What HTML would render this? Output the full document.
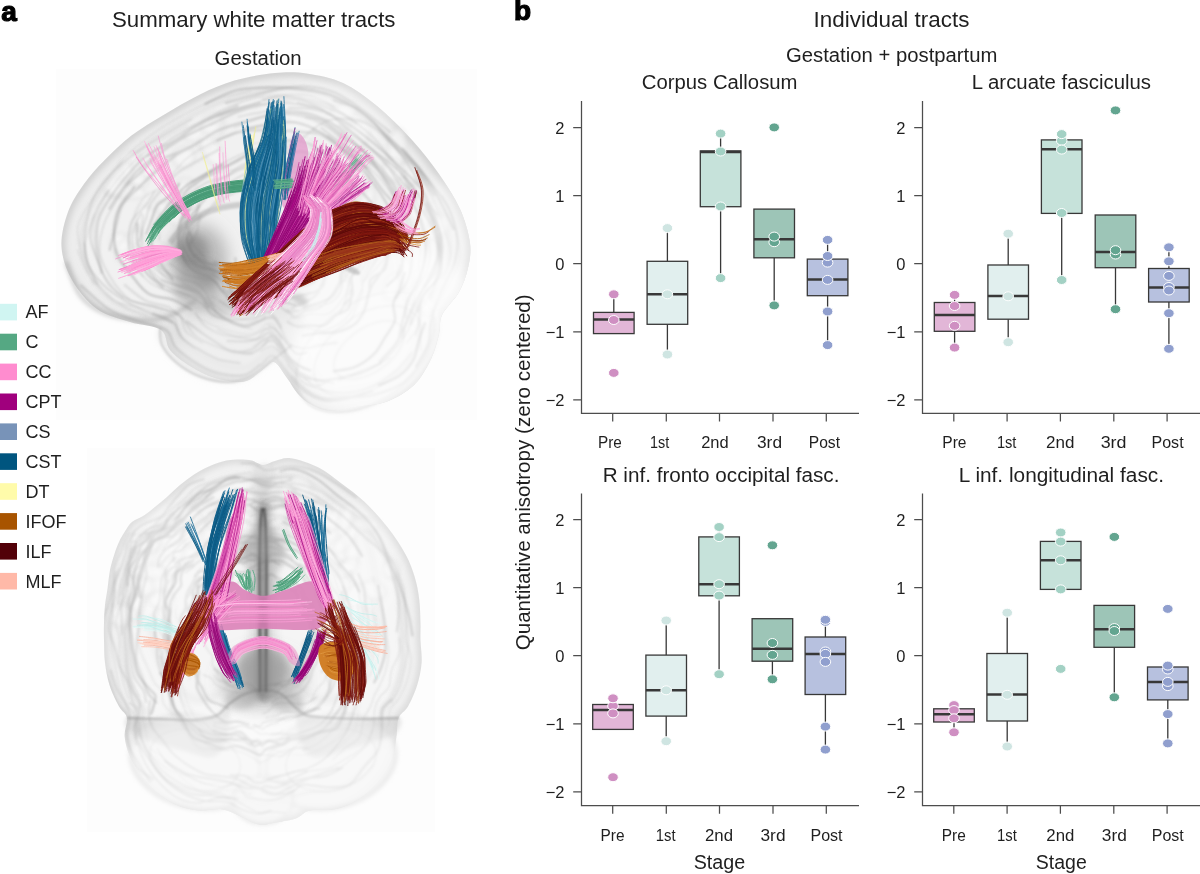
<!DOCTYPE html>
<html lang="en"><head><meta charset="utf-8"><title>Figure</title>
<style>
html,body{margin:0;padding:0;background:#fff;}
svg{display:block;font-family:"Liberation Sans",sans-serif;fill:#1f1f1f;}
</style></head><body>
<svg width="1200" height="874" viewBox="0 0 1200 874">
<rect width="1200" height="874" fill="#fff"/>
<defs><filter id="b1" x="-30%" y="-30%" width="160%" height="160%"><feGaussianBlur stdDeviation="1"/></filter><filter id="b2" x="-30%" y="-30%" width="160%" height="160%"><feGaussianBlur stdDeviation="2"/></filter><filter id="b3" x="-30%" y="-30%" width="160%" height="160%"><feGaussianBlur stdDeviation="3"/></filter><filter id="b5" x="-30%" y="-30%" width="160%" height="160%"><feGaussianBlur stdDeviation="5"/></filter><filter id="b8" x="-30%" y="-30%" width="160%" height="160%"><feGaussianBlur stdDeviation="8"/></filter><filter id="u1" filterUnits="userSpaceOnUse" x="200" y="440" width="130" height="300"><feGaussianBlur stdDeviation="1"/></filter><filter id="u2" filterUnits="userSpaceOnUse" x="200" y="440" width="130" height="300"><feGaussianBlur stdDeviation="2"/></filter><filter id="u3" filterUnits="userSpaceOnUse" x="200" y="440" width="130" height="300"><feGaussianBlur stdDeviation="3"/></filter><filter id="u5" filterUnits="userSpaceOnUse" x="200" y="440" width="130" height="300"><feGaussianBlur stdDeviation="5"/></filter><clipPath id="c1"><path d="M275 73C287.2 71.8 296.7 72 308 73.7C319.3 75.4 331.5 77.6 343 83C354.5 88.4 365.5 96.5 377 106C388.5 115.5 401.7 128.7 412 140C422.3 151.3 431 162.5 439 174C447 185.5 454.8 197.5 460 209C465.2 220.5 468.7 233.2 470 243C471.3 252.8 469.8 259.8 468 268C466.2 276.2 463.3 284.2 459 292C454.7 299.8 445.3 308 442 315C438.7 322 440.8 326.7 439 334C437.2 341.3 435.2 350.5 431 359C426.8 367.5 421.3 377.9 414 385C406.7 392.1 396.8 397.8 387 401.5C377.2 405.2 364.3 405.4 355 407C345.7 408.6 338.2 411.3 331 411C323.8 410.7 317.5 407.8 312 405C306.5 402.2 302.2 398.5 298 394C293.8 389.5 291 383.3 287 378C283 372.7 278.3 363.2 274 362C269.7 360.8 266.1 367.7 261 371C255.9 374.3 251.2 380.5 243.5 381.7C235.8 382.9 223.9 380.6 215 378C206.1 375.4 197.5 370.7 190 366C182.5 361.3 174.8 356 170 350C165.2 344 167.7 334.7 161 330C154.3 325.3 140.7 325.5 130 322C119.3 318.5 106.7 316 97 309C87.3 302 77.9 290.3 72 280C66.1 269.7 62.2 258.3 61.5 247C60.8 235.7 64.2 222.5 68 212C71.8 201.5 78 192.6 84 184C90 175.4 96.1 168.8 104 160.7C111.9 152.6 121.6 143.1 131.5 135.5C141.4 127.9 152.2 121.7 163.6 114.9C175 108.1 188.2 100.2 200 94.5C211.8 88.8 222 84.2 234.5 80.6C247 77 262.8 74.2 275 73Z"/></clipPath><clipPath id="c2"><path d="M263 465C259.2 464.9 255.8 461.4 252 460.5C248.2 459.6 244.2 459.5 240 459.5C235.8 459.5 231.5 459.5 226.5 460.6C221.5 461.7 215.3 463.7 210 466C204.7 468.3 199.4 471.1 194.4 474.3C189.4 477.5 184.6 481.2 180 485C175.4 488.8 171.2 493.3 167 497C162.8 500.7 158.8 503.9 155 507C151.2 510.1 147.8 513 144 515.5C140.2 518 135 519.6 132 522C129 524.4 128 526.7 125.8 530C123.6 533.3 120.9 537.9 119 542C117.1 546.1 115.8 549.7 114.3 554.4C112.8 559.1 111.1 564.3 110 570C108.9 575.7 108.3 582.9 107.5 588.7C106.7 594.5 105.6 599.3 105 605C104.4 610.7 104.2 617.2 104 623C103.8 628.8 103.8 633.3 104 640C104.2 646.7 104 655.4 105 663C106 670.6 107.4 678.6 109.7 685.8C112 693 116.1 701.1 119 706.4C121.9 711.7 126.1 712.9 127 717.8C127.9 722.7 124.2 729.9 124.6 736C125 742.1 126.7 748.3 129.2 754.4C131.7 760.5 135.1 766.6 139.5 772.7C143.9 778.8 149.4 785.6 155.5 791C161.6 796.4 168.8 801.5 176 804.8C183.2 808 191.3 809.8 199 810.5C206.7 811.2 215 808.3 221.9 809.3C228.8 810.2 234.8 813.9 240.2 816.2C245.5 818.5 250.2 821.5 254 823C257.8 824.5 259.9 825 263 825C266.1 825 267.4 824.1 272.9 823C278.4 821.9 289.7 820.6 295.8 818.5C301.9 816.4 303 812 309.5 810.5C316 809 326.7 811 334.7 809.3C342.7 807.5 350.4 804.5 357.6 800C364.8 795.5 372.3 788.8 378 782C383.7 775.2 388.9 766.7 392 759C395.1 751.3 395.4 742.9 396.5 736C397.6 729.1 396.8 722.7 398.7 717.8C400.6 712.9 404.9 711.7 408 706.4C411.1 701.1 414.7 693 417 685.8C419.3 678.6 421 670.6 421.6 663C422.2 655.4 420.7 646.7 420.5 640C420.3 633.3 420.7 629.7 420.5 623C420.3 616.3 420.2 607.6 419.3 600C418.4 592.4 417.1 584.9 414.8 577.3C412.5 569.7 410.2 562.8 405.6 554.4C401 546 394.2 535.8 387.3 527C380.4 518.2 372 509.1 364.4 501.8C356.8 494.6 349.1 489.2 341.5 483.5C333.9 477.8 327 471.7 318.6 467.5C310.2 463.3 298.3 459.4 291 458.3C283.7 457.2 279.7 459.9 275 461C270.3 462.1 266.8 465.1 263 465Z"/></clipPath></defs><rect x="56" y="69" width="421" height="351" fill="#fdfdfd"/>
<g>
<path d="M275 73C287.2 71.8 296.7 72 308 73.7C319.3 75.4 331.5 77.6 343 83C354.5 88.4 365.5 96.5 377 106C388.5 115.5 401.7 128.7 412 140C422.3 151.3 431 162.5 439 174C447 185.5 454.8 197.5 460 209C465.2 220.5 468.7 233.2 470 243C471.3 252.8 469.8 259.8 468 268C466.2 276.2 463.3 284.2 459 292C454.7 299.8 445.3 308 442 315C438.7 322 440.8 326.7 439 334C437.2 341.3 435.2 350.5 431 359C426.8 367.5 421.3 377.9 414 385C406.7 392.1 396.8 397.8 387 401.5C377.2 405.2 364.3 405.4 355 407C345.7 408.6 338.2 411.3 331 411C323.8 410.7 317.5 407.8 312 405C306.5 402.2 302.2 398.5 298 394C293.8 389.5 291 383.3 287 378C283 372.7 278.3 363.2 274 362C269.7 360.8 266.1 367.7 261 371C255.9 374.3 251.2 380.5 243.5 381.7C235.8 382.9 223.9 380.6 215 378C206.1 375.4 197.5 370.7 190 366C182.5 361.3 174.8 356 170 350C165.2 344 167.7 334.7 161 330C154.3 325.3 140.7 325.5 130 322C119.3 318.5 106.7 316 97 309C87.3 302 77.9 290.3 72 280C66.1 269.7 62.2 258.3 61.5 247C60.8 235.7 64.2 222.5 68 212C71.8 201.5 78 192.6 84 184C90 175.4 96.1 168.8 104 160.7C111.9 152.6 121.6 143.1 131.5 135.5C141.4 127.9 152.2 121.7 163.6 114.9C175 108.1 188.2 100.2 200 94.5C211.8 88.8 222 84.2 234.5 80.6C247 77 262.8 74.2 275 73Z" fill="#ececec" fill-opacity="0.95"/>
<path d="M275 73C287.2 71.8 296.7 72 308 73.7C319.3 75.4 331.5 77.6 343 83C354.5 88.4 365.5 96.5 377 106C388.5 115.5 401.7 128.7 412 140C422.3 151.3 431 162.5 439 174C447 185.5 454.8 197.5 460 209C465.2 220.5 468.7 233.2 470 243C471.3 252.8 469.8 259.8 468 268C466.2 276.2 463.3 284.2 459 292C454.7 299.8 445.3 308 442 315C438.7 322 440.8 326.7 439 334C437.2 341.3 435.2 350.5 431 359C426.8 367.5 421.3 377.9 414 385C406.7 392.1 396.8 397.8 387 401.5C377.2 405.2 364.3 405.4 355 407C345.7 408.6 338.2 411.3 331 411C323.8 410.7 317.5 407.8 312 405C306.5 402.2 302.2 398.5 298 394C293.8 389.5 291 383.3 287 378C283 372.7 278.3 363.2 274 362C269.7 360.8 266.1 367.7 261 371C255.9 374.3 251.2 380.5 243.5 381.7C235.8 382.9 223.9 380.6 215 378C206.1 375.4 197.5 370.7 190 366C182.5 361.3 174.8 356 170 350C165.2 344 167.7 334.7 161 330C154.3 325.3 140.7 325.5 130 322C119.3 318.5 106.7 316 97 309C87.3 302 77.9 290.3 72 280C66.1 269.7 62.2 258.3 61.5 247C60.8 235.7 64.2 222.5 68 212C71.8 201.5 78 192.6 84 184C90 175.4 96.1 168.8 104 160.7C111.9 152.6 121.6 143.1 131.5 135.5C141.4 127.9 152.2 121.7 163.6 114.9C175 108.1 188.2 100.2 200 94.5C211.8 88.8 222 84.2 234.5 80.6C247 77 262.8 74.2 275 73Z" fill="none" stroke="#b0b0b0" stroke-width="8" stroke-opacity="0.5" filter="url(#b3)" clip-path="url(#c1)"/>
<path d="M274 89.2C285 88.2 293.5 88.3 303.7 89.8C313.9 91.3 324.8 93.4 335.2 98.2C345.6 103 355.4 110.4 365.8 118.9C376.2 127.5 388 139.3 397.3 149.5C406.6 159.7 414.4 169.8 421.6 180.1C428.8 190.4 435.9 201.2 440.5 211.6C445.1 221.9 448.3 233.3 449.5 242.2C450.7 251 449.3 257.3 447.7 264.7C446.1 272.1 443.5 279.2 439.6 286.3C435.7 293.4 427.3 300.7 424.3 307C421.3 313.3 423.2 317.5 421.6 324.1C420 330.7 418.1 339 414.4 346.6C410.6 354.2 405.7 363.6 399.1 370C392.5 376.4 383.7 381.6 374.8 384.9C365.9 388.2 354.4 388.4 346 389.8C337.6 391.2 330.8 393.7 324.4 393.4C317.9 393.1 312.2 390.6 307.3 388C302.4 385.4 298.4 382.2 294.7 378.1C290.9 374.1 288.4 368.5 284.8 363.7C281.2 358.9 277 350.4 273.1 349.3C269.2 348.2 266 354.4 261.4 357.4C256.8 360.4 252.6 366 245.7 367C238.8 368.1 228 366.1 220 363.7C212 361.3 204.2 357.1 197.5 352.9C190.8 348.7 183.8 343.9 179.5 338.5C175.2 333.1 177.4 324.7 171.4 320.5C165.4 316.3 153.1 316.4 143.5 313.3C133.9 310.2 122.5 307.9 113.8 301.6C105.1 295.3 96.6 284.8 91.3 275.5C86 266.2 82.4 256 81.8 245.8C81.2 235.6 84.3 223.8 87.7 214.3C91.1 204.9 96.7 196.8 102.1 189.1C107.5 181.4 113 175.4 120.1 168.1C127.2 160.9 135.9 152.3 144.8 145.4C153.8 138.6 163.5 133.1 173.7 126.9C184 120.8 195.9 113.7 206.5 108.5C217.1 103.4 226.3 99.3 237.6 96C248.8 92.8 263 90.2 274 89.2Z" fill="#f3f3f3" fill-opacity="0.75" filter="url(#b3)"/>
<path d="M274 89.2C285 88.2 293.5 88.3 303.7 89.8C313.9 91.3 324.8 93.4 335.2 98.2C345.6 103 355.4 110.4 365.8 118.9C376.2 127.5 388 139.3 397.3 149.5C406.6 159.7 414.4 169.8 421.6 180.1C428.8 190.4 435.9 201.2 440.5 211.6C445.1 221.9 448.3 233.3 449.5 242.2C450.7 251 449.3 257.3 447.7 264.7C446.1 272.1 443.5 279.2 439.6 286.3C435.7 293.4 427.3 300.7 424.3 307C421.3 313.3 423.2 317.5 421.6 324.1C420 330.7 418.1 339 414.4 346.6C410.6 354.2 405.7 363.6 399.1 370C392.5 376.4 383.7 381.6 374.8 384.9C365.9 388.2 354.4 388.4 346 389.8C337.6 391.2 330.8 393.7 324.4 393.4C317.9 393.1 312.2 390.6 307.3 388C302.4 385.4 298.4 382.2 294.7 378.1C290.9 374.1 288.4 368.5 284.8 363.7C281.2 358.9 277 350.4 273.1 349.3C269.2 348.2 266 354.4 261.4 357.4C256.8 360.4 252.6 366 245.7 367C238.8 368.1 228 366.1 220 363.7C212 361.3 204.2 357.1 197.5 352.9C190.8 348.7 183.8 343.9 179.5 338.5C175.2 333.1 177.4 324.7 171.4 320.5C165.4 316.3 153.1 316.4 143.5 313.3C133.9 310.2 122.5 307.9 113.8 301.6C105.1 295.3 96.6 284.8 91.3 275.5C86 266.2 82.4 256 81.8 245.8C81.2 235.6 84.3 223.8 87.7 214.3C91.1 204.9 96.7 196.8 102.1 189.1C107.5 181.4 113 175.4 120.1 168.1C127.2 160.9 135.9 152.3 144.8 145.4C153.8 138.6 163.5 133.1 173.7 126.9C184 120.8 195.9 113.7 206.5 108.5C217.1 103.4 226.3 99.3 237.6 96C248.8 92.8 263 90.2 274 89.2Z" fill="none" stroke="#c4c4c4" stroke-width="2.5" stroke-opacity="0.55" filter="url(#b2)"/>
<ellipse cx="368" cy="352" rx="80" ry="50" fill="#f5f5f5" fill-opacity="0.85" filter="url(#b2)" transform="rotate(-35 368 352)"/>
<ellipse cx="366.0" cy="352" rx="78" ry="49" fill="none" fill-opacity="1" stroke="#c6c6c6" stroke-width="1.5" stroke-opacity="0.4" filter="url(#b1)" transform="rotate(-35 366.0 352)"/>
<ellipse cx="367.5" cy="351" rx="60" ry="36" fill="none" fill-opacity="1" stroke="#c6c6c6" stroke-width="1.5" stroke-opacity="0.4" filter="url(#b1)" transform="rotate(-35 367.5 351)"/>
<ellipse cx="369.0" cy="350" rx="40" ry="22" fill="none" fill-opacity="1" stroke="#c6c6c6" stroke-width="1.5" stroke-opacity="0.4" filter="url(#b1)" transform="rotate(-35 369.0 350)"/>
<path d="M160 328C155.3 334.2 159.2 339.2 162 345C164.8 350.8 170.7 357.8 177 363C183.3 368.2 191.5 373.3 200 376.5C208.5 379.7 219.7 382 228 382C236.3 382 243.2 379.7 250 376.5C256.8 373.3 262 368.2 269 363C276 357.8 286 351.8 292 345C298 338.2 307 329.5 305 322C303 314.5 292.5 304 280 300C267.5 296 245 296.7 230 298C215 299.3 201.7 303 190 308C178.3 313 164.7 321.8 160 328Z" fill="#dcdcdc" fill-opacity="0.5" filter="url(#b3)"/>
<path d="M160 328C160.3 330.8 159.2 339.2 162 345C164.8 350.8 170.7 357.8 177 363C183.3 368.2 191.5 373.3 200 376.5C208.5 379.7 219.7 382 228 382C236.3 382 243.2 379.7 250 376.5C256.8 373.3 262 368.2 269 363C276 357.8 288.2 348 292 345" fill="none" stroke="#b6b6b6" stroke-width="2" stroke-opacity="0.6" filter="url(#b1)"/>
<path d="M66 262C68.3 267.5 73.7 286.5 80 295C86.3 303.5 94 308.8 104 313C114 317.2 129 319.5 140 320C151 320.5 160.7 319.3 170 316C179.3 312.7 191.7 302.7 196 300" fill="none" stroke="#a4a4a4" stroke-width="3.5" stroke-opacity="0.6" filter="url(#b2)"/>
<ellipse cx="355.3" cy="136.3" rx="17.7" ry="11.7" fill="#fafafa" fill-opacity="0.45" stroke="#bdbdbd" stroke-width="1.2" stroke-opacity="0.5" filter="url(#b2)" transform="rotate(133 355.3 136.3)"/>
<ellipse cx="363.2" cy="254.5" rx="14.1" ry="11.7" fill="#fafafa" fill-opacity="0.45" stroke="#bdbdbd" stroke-width="1.2" stroke-opacity="0.5" filter="url(#b2)" transform="rotate(116 363.2 254.5)"/>
<ellipse cx="370.8" cy="248.5" rx="14.2" ry="7.5" fill="#fafafa" fill-opacity="0.45" stroke="#bdbdbd" stroke-width="1.2" stroke-opacity="0.5" filter="url(#b2)" transform="rotate(97 370.8 248.5)"/>
<ellipse cx="306.6" cy="166.7" rx="11.4" ry="7.7" fill="#fafafa" fill-opacity="0.45" stroke="#bdbdbd" stroke-width="1.2" stroke-opacity="0.5" filter="url(#b2)" transform="rotate(164 306.6 166.7)"/>
<ellipse cx="365.8" cy="203.9" rx="17.8" ry="6.8" fill="#fafafa" fill-opacity="0.45" stroke="#bdbdbd" stroke-width="1.2" stroke-opacity="0.5" filter="url(#b2)" transform="rotate(111 365.8 203.9)"/>
<ellipse cx="172.3" cy="214.8" rx="18.6" ry="7.3" fill="#fafafa" fill-opacity="0.45" stroke="#bdbdbd" stroke-width="1.2" stroke-opacity="0.5" filter="url(#b2)" transform="rotate(38 172.3 214.8)"/>
<ellipse cx="417.2" cy="293.5" rx="12.2" ry="11.8" fill="#fafafa" fill-opacity="0.45" stroke="#bdbdbd" stroke-width="1.2" stroke-opacity="0.5" filter="url(#b2)" transform="rotate(97 417.2 293.5)"/>
<ellipse cx="348.5" cy="177" rx="19.4" ry="10.1" fill="#fafafa" fill-opacity="0.45" stroke="#bdbdbd" stroke-width="1.2" stroke-opacity="0.5" filter="url(#b2)" transform="rotate(173 348.5 177)"/>
<ellipse cx="385.5" cy="247" rx="13" ry="7" fill="#fafafa" fill-opacity="0.45" stroke="#bdbdbd" stroke-width="1.2" stroke-opacity="0.5" filter="url(#b2)" transform="rotate(26 385.5 247)"/>
<ellipse cx="144.5" cy="231.2" rx="15.6" ry="6" fill="#fafafa" fill-opacity="0.45" stroke="#bdbdbd" stroke-width="1.2" stroke-opacity="0.5" filter="url(#b2)" transform="rotate(122 144.5 231.2)"/>
<ellipse cx="211.6" cy="150.3" rx="18" ry="8.9" fill="#fafafa" fill-opacity="0.45" stroke="#bdbdbd" stroke-width="1.2" stroke-opacity="0.5" filter="url(#b2)" transform="rotate(56 211.6 150.3)"/>
<ellipse cx="278.1" cy="115.4" rx="9.6" ry="11.9" fill="#fafafa" fill-opacity="0.45" stroke="#bdbdbd" stroke-width="1.2" stroke-opacity="0.5" filter="url(#b2)" transform="rotate(4 278.1 115.4)"/>
<ellipse cx="410.5" cy="179" rx="9.2" ry="10.7" fill="#fafafa" fill-opacity="0.45" stroke="#bdbdbd" stroke-width="1.2" stroke-opacity="0.5" filter="url(#b2)" transform="rotate(65 410.5 179)"/>
<ellipse cx="308" cy="167.5" rx="9.5" ry="7.1" fill="#fafafa" fill-opacity="0.45" stroke="#bdbdbd" stroke-width="1.2" stroke-opacity="0.5" filter="url(#b2)" transform="rotate(171 308 167.5)"/>
<ellipse cx="134.5" cy="169.2" rx="19.2" ry="11.7" fill="#fafafa" fill-opacity="0.45" stroke="#bdbdbd" stroke-width="1.2" stroke-opacity="0.5" filter="url(#b2)" transform="rotate(61 134.5 169.2)"/>
<ellipse cx="212.3" cy="135" rx="17.5" ry="6.6" fill="#fafafa" fill-opacity="0.45" stroke="#bdbdbd" stroke-width="1.2" stroke-opacity="0.5" filter="url(#b2)" transform="rotate(134 212.3 135)"/>
<ellipse cx="422.5" cy="201" rx="9.4" ry="11.7" fill="#fafafa" fill-opacity="0.45" stroke="#bdbdbd" stroke-width="1.2" stroke-opacity="0.5" filter="url(#b2)" transform="rotate(16 422.5 201)"/>
<ellipse cx="202.7" cy="132.4" rx="19.1" ry="8" fill="#fafafa" fill-opacity="0.45" stroke="#bdbdbd" stroke-width="1.2" stroke-opacity="0.5" filter="url(#b2)" transform="rotate(166 202.7 132.4)"/>
<ellipse cx="304.2" cy="145.3" rx="12.5" ry="7.1" fill="#fafafa" fill-opacity="0.45" stroke="#bdbdbd" stroke-width="1.2" stroke-opacity="0.5" filter="url(#b2)" transform="rotate(14 304.2 145.3)"/>
<ellipse cx="125.9" cy="191.2" rx="20" ry="7" fill="#fafafa" fill-opacity="0.45" stroke="#bdbdbd" stroke-width="1.2" stroke-opacity="0.5" filter="url(#b2)" transform="rotate(8 125.9 191.2)"/>
<ellipse cx="392" cy="286.7" rx="13.5" ry="7.4" fill="#fafafa" fill-opacity="0.45" stroke="#bdbdbd" stroke-width="1.2" stroke-opacity="0.5" filter="url(#b2)" transform="rotate(106 392 286.7)"/>
<ellipse cx="395.8" cy="220.1" rx="13.6" ry="6.3" fill="#fafafa" fill-opacity="0.45" stroke="#bdbdbd" stroke-width="1.2" stroke-opacity="0.5" filter="url(#b2)" transform="rotate(164 395.8 220.1)"/>
<ellipse cx="129.1" cy="243.8" rx="18.2" ry="6.8" fill="#fafafa" fill-opacity="0.45" stroke="#bdbdbd" stroke-width="1.2" stroke-opacity="0.5" filter="url(#b2)" transform="rotate(131 129.1 243.8)"/>
<ellipse cx="405.9" cy="273.5" rx="17.7" ry="6.6" fill="#fafafa" fill-opacity="0.45" stroke="#bdbdbd" stroke-width="1.2" stroke-opacity="0.5" filter="url(#b2)" transform="rotate(78 405.9 273.5)"/>
<ellipse cx="114.9" cy="187.1" rx="12.2" ry="8.7" fill="#fafafa" fill-opacity="0.45" stroke="#bdbdbd" stroke-width="1.2" stroke-opacity="0.5" filter="url(#b2)" transform="rotate(179 114.9 187.1)"/>
<ellipse cx="438" cy="227.8" rx="14" ry="8.9" fill="#fafafa" fill-opacity="0.45" stroke="#bdbdbd" stroke-width="1.2" stroke-opacity="0.5" filter="url(#b2)" transform="rotate(131 438 227.8)"/>
<ellipse cx="274.4" cy="141.7" rx="13.4" ry="6.9" fill="#fafafa" fill-opacity="0.45" stroke="#bdbdbd" stroke-width="1.2" stroke-opacity="0.5" filter="url(#b2)" transform="rotate(67 274.4 141.7)"/>
<ellipse cx="421.9" cy="298.6" rx="15.9" ry="9" fill="#fafafa" fill-opacity="0.45" stroke="#bdbdbd" stroke-width="1.2" stroke-opacity="0.5" filter="url(#b2)" transform="rotate(60 421.9 298.6)"/>
<ellipse cx="148.2" cy="222.7" rx="17.6" ry="11.2" fill="#fafafa" fill-opacity="0.45" stroke="#bdbdbd" stroke-width="1.2" stroke-opacity="0.5" filter="url(#b2)" transform="rotate(65 148.2 222.7)"/>
<ellipse cx="414.1" cy="197.3" rx="16.6" ry="10" fill="#fafafa" fill-opacity="0.45" stroke="#bdbdbd" stroke-width="1.2" stroke-opacity="0.5" filter="url(#b2)" transform="rotate(136 414.1 197.3)"/>
<ellipse cx="211.6" cy="122.8" rx="12.1" ry="8.9" fill="#fafafa" fill-opacity="0.45" stroke="#bdbdbd" stroke-width="1.2" stroke-opacity="0.5" filter="url(#b2)" transform="rotate(138 211.6 122.8)"/>
<ellipse cx="357.6" cy="176.8" rx="19.4" ry="9.9" fill="#fafafa" fill-opacity="0.45" stroke="#bdbdbd" stroke-width="1.2" stroke-opacity="0.5" filter="url(#b2)" transform="rotate(104 357.6 176.8)"/>
<ellipse cx="125.7" cy="253" rx="11.8" ry="10" fill="#fafafa" fill-opacity="0.45" stroke="#bdbdbd" stroke-width="1.2" stroke-opacity="0.5" filter="url(#b2)" transform="rotate(83 125.7 253)"/>
<ellipse cx="409.4" cy="213.5" rx="17.8" ry="8.1" fill="#fafafa" fill-opacity="0.45" stroke="#bdbdbd" stroke-width="1.2" stroke-opacity="0.5" filter="url(#b2)" transform="rotate(115 409.4 213.5)"/>
<ellipse cx="405.9" cy="174.2" rx="12.9" ry="11.1" fill="#fafafa" fill-opacity="0.45" stroke="#bdbdbd" stroke-width="1.2" stroke-opacity="0.5" filter="url(#b2)" transform="rotate(156 405.9 174.2)"/>
<ellipse cx="397.4" cy="147.8" rx="19.5" ry="9.1" fill="#fafafa" fill-opacity="0.45" stroke="#bdbdbd" stroke-width="1.2" stroke-opacity="0.5" filter="url(#b2)" transform="rotate(95 397.4 147.8)"/>
<ellipse cx="119.8" cy="179.6" rx="19.3" ry="8.9" fill="#fafafa" fill-opacity="0.45" stroke="#bdbdbd" stroke-width="1.2" stroke-opacity="0.5" filter="url(#b2)" transform="rotate(124 119.8 179.6)"/>
<ellipse cx="393.7" cy="170" rx="10.9" ry="10.7" fill="#fafafa" fill-opacity="0.45" stroke="#bdbdbd" stroke-width="1.2" stroke-opacity="0.5" filter="url(#b2)" transform="rotate(104 393.7 170)"/>
<ellipse cx="356.8" cy="164.1" rx="15.9" ry="10.6" fill="#fafafa" fill-opacity="0.45" stroke="#bdbdbd" stroke-width="1.2" stroke-opacity="0.5" filter="url(#b2)" transform="rotate(114 356.8 164.1)"/>
<ellipse cx="348.2" cy="195" rx="10.8" ry="8.6" fill="#fafafa" fill-opacity="0.45" stroke="#bdbdbd" stroke-width="1.2" stroke-opacity="0.5" filter="url(#b2)" transform="rotate(117 348.2 195)"/>
<ellipse cx="146.5" cy="163.2" rx="15.9" ry="6.3" fill="#fafafa" fill-opacity="0.45" stroke="#bdbdbd" stroke-width="1.2" stroke-opacity="0.5" filter="url(#b2)" transform="rotate(84 146.5 163.2)"/>
<ellipse cx="186.9" cy="186.5" rx="10.5" ry="7.9" fill="#fafafa" fill-opacity="0.45" stroke="#bdbdbd" stroke-width="1.2" stroke-opacity="0.5" filter="url(#b2)" transform="rotate(32 186.9 186.5)"/>
<ellipse cx="180.7" cy="195.5" rx="14.1" ry="8.3" fill="#fafafa" fill-opacity="0.45" stroke="#bdbdbd" stroke-width="1.2" stroke-opacity="0.5" filter="url(#b2)" transform="rotate(110 180.7 195.5)"/>
<ellipse cx="320.3" cy="156.3" rx="18.9" ry="6" fill="#fafafa" fill-opacity="0.45" stroke="#bdbdbd" stroke-width="1.2" stroke-opacity="0.5" filter="url(#b2)" transform="rotate(72 320.3 156.3)"/>
<ellipse cx="183.8" cy="157.2" rx="10.3" ry="11" fill="#fafafa" fill-opacity="0.45" stroke="#bdbdbd" stroke-width="1.2" stroke-opacity="0.5" filter="url(#b2)" transform="rotate(67 183.8 157.2)"/>
<ellipse cx="119.7" cy="242.5" rx="10" ry="9.3" fill="#fafafa" fill-opacity="0.45" stroke="#bdbdbd" stroke-width="1.2" stroke-opacity="0.5" filter="url(#b2)" transform="rotate(61 119.7 242.5)"/>
<ellipse cx="341.8" cy="113.5" rx="18" ry="8.5" fill="#fafafa" fill-opacity="0.45" stroke="#bdbdbd" stroke-width="1.2" stroke-opacity="0.5" filter="url(#b2)" transform="rotate(146 341.8 113.5)"/>
<ellipse cx="345.7" cy="160.3" rx="10.6" ry="9.6" fill="#fafafa" fill-opacity="0.45" stroke="#bdbdbd" stroke-width="1.2" stroke-opacity="0.5" filter="url(#b2)" transform="rotate(101 345.7 160.3)"/>
<ellipse cx="429.8" cy="283.3" rx="15.7" ry="8.1" fill="#fafafa" fill-opacity="0.45" stroke="#bdbdbd" stroke-width="1.2" stroke-opacity="0.5" filter="url(#b2)" transform="rotate(160 429.8 283.3)"/>
<ellipse cx="160.3" cy="253.3" rx="15.2" ry="9.7" fill="#fafafa" fill-opacity="0.45" stroke="#bdbdbd" stroke-width="1.2" stroke-opacity="0.5" filter="url(#b2)" transform="rotate(25 160.3 253.3)"/>
<path d="M300 140C305 136.7 318.3 122.5 330 120C341.7 117.5 357.5 118.3 370 125C382.5 131.7 395 145.8 405 160C415 174.2 424.2 193.3 430 210C435.8 226.7 440 245 440 260C440 275 431.7 293.3 430 300" fill="none" stroke="#c0c0c0" stroke-width="2" stroke-opacity="0.5" filter="url(#b1)"/>
<g fill="none" stroke="#8e8e8e" stroke-linecap="round" clip-path="url(#c1)" filter="url(#b1)">
<path d="M220.6 272.9c-1.7-.9-6.8-3.7-10.3-5.7s-7.4-3.9-10.8-6.5s-7.3-5.8-9.6-9.1s-3.5-5.9-4.2-10.6s-1.2-13.2-.1-17.8s4.4-6.6 6.8-9.6s6.3-6.9 7.5-8.3M146.9 316c-3.6-1.4-14.6-4.4-21.5-8.2s-13.9-8.9-20.2-14.8s-13.3-13.3-17.9-20.5s-8.2-18.7-9.9-22.5M263.5 309.1c-1.7 1.8-6.6 9.2-10.1 10.9s-6.6 .5-11.2-.5s-11.7-3.3-16-5.5s-6.9-5-9.9-7.7s-6.8-7.3-8.2-8.7M436.8 270.6c-1.1 3.6-3.6 15.4-6.7 21.7s-10.1 10.4-12.1 16.1s2.1 12.1 .3 17.8s-9.5 13.7-11.4 16.4M208.5 176.5c2.9-.9 11.7-3.9 17.3-5.3s11.2-1 16.3-3.3s9.5-8.8 14.4-10.5s10.1-.2 15 .1s10.1 .3 14.6 1.5s10.4 4.5 12.4 5.4M310.1 370c-1.5-.4-5.8-.2-9.1-2.2s-7.9-6.4-10.7-9.8s-3.7-7-6-10.3s-6.5-7.9-7.8-9.4M363.3 248.1c-.8 1.4-3.3 5.4-4.6 8.8s-2.5 7.7-3.7 11.4s-3.1 7.7-3.4 10.7s1.8 4.5 1.2 7.2s-4 7.5-4.8 9M289.9 166.4c1.8 1.6 7.2 6.8 11.2 9.7s8.2 4.5 12.4 7.9s8.8 7.9 12.9 12.4s8.8 10.3 11.3 15s3.2 10.7 3.8 12.9M386.6 256.2c-2.1 2.3-8.4 9.8-12.1 14s-8.2 8.2-10.3 11s-.6 3.1-1.8 6.1s-3.2 7.5-5.3 12s-4.2 10.4-7.4 14.6s-6.9 7.6-11.4 10.4s-10.6 5.5-15.6 6.2s-10.5-1.5-14.7-2.1s-8.5-1-10.2-1.2M201 272.3c-1.6-1.4-6.1-4.9-9.5-8.3s-9-8.4-11-12.3s-.9-7-.9-11.3s.2-10.3 .9-14.9s1.4-8.8 3.4-12.4s5.5-6.6 8.8-9.4s7.4-4.3 11.1-7.4s8.8-9.3 10.5-11.2M93.8 284.8c-1.9-4.7-8.6-18.1-11.2-27.9s-6.5-21.2-4.8-30.8s9.8-19 14.9-27.2s9.9-14.6 15.8-22.1s11.9-15.1 19.6-22.6s17.8-15.5 27.1-22.1s18.3-11.8 28.3-17.2s20.9-11.5 32.1-15.5s29.1-7 34.9-8.4M267.7 110.9c4.1-.3 16.2-2.3 24.5-1.3s17.2 2.6 25.4 6.9s15.2 12.4 23.8 18.9s19.7 12.8 27.8 19.9s14.7 14.3 21 22.9s12.1 19.4 16.8 28.5s9.2 18.7 11.4 26.2s2.3 12.5 2.2 18.8s-2.2 15.9-2.7 19.1M281.1 339c-1.3-2.3-5.3-11.5-7.8-14s-4.4-1.8-7.2-.6s-5.9 6.2-9.6 7.9s-7.5 2.4-12.6 1.9s-12.8-2.9-18.4-4.6s-10.5-3.3-15.2-5.5s-10.7-6.3-12.9-7.6M247.4 144.8c3.8-.6 15.9-3.3 22.6-3.5s11.3 1.7 17.3 2.6s12.5 .9 18.8 2.7s12.6 3.8 18.5 8.2s11.3 12.6 16.7 18.6s13 14.6 15.6 17.6M233.9 127.5c4.6-1.6 19.2-7.4 27.4-9.6s13.9-4.3 21.8-4.1s17.4 2.3 25.8 5.3s16.9 7.1 24.5 13.1s13.7 15.5 21.1 22.8s16.3 13.4 23.4 21s15.8 20.6 18.9 24.8M349.6 278.7c-.4 2.1-.7 7.9-2.6 12.3s-5.7 10.2-9 14s-6 7.6-10.7 9.1s-13.2-.7-17.8-.1s-6.6 3.1-9.8 3.7s-8 .2-9.6 .2M253.7 313.6c-2.1-.4-8.2-1.3-12.1-2.4s-7.9-2.8-11.5-4.4s-6.7-3.6-9.8-5.4s-7.3-4.4-8.8-5.2M417.3 169.8c2.6 5 11.2 20.1 15.6 29.8s7.8 19.6 10.7 28.5s7 17.4 7.2 24.8s-2.9 13.4-5.9 19.8s-8.2 12.4-12.2 18.6s-10 13.3-12.1 18.9s-.5 7.8-.5 14.6s.7 21.4 .8 25.7M194.4 348.6c-2.6-2.5-12-9.4-15.6-14.8s-.2-13.3-5.9-17.5s-18-5-28.1-7.8s-23.7-2.9-32.6-8.8s-16.2-17.6-20.8-26.6s-7.1-17.4-6.6-27.2s7.6-26.1 9.1-31.4M206.7 302.4c-1.4-1.5-4.1-6.6-8.1-9.1s-10.2-3.7-16.3-5.8s-14.1-3-20.2-7s-13.9-14.1-16.7-16.9M252.2 329.2c-2.7-.7-11.6-2.2-16.6-4.2s-8.5-4.9-12.9-8s-10.5-7.2-13.4-10.5s-1.8-6.1-4.3-8.8s-5.8-5.5-10.8-7.8s-13.7-3.4-19.1-6.1s-10-5.6-13.6-10s-5.7-10.5-7.9-16.2s-4.4-15.3-5.3-18.4M311.5 175.4c2.6 1.9 11.9 6.8 15.9 11.6s5.2 11.6 8 17.1s5.7 11.5 8.7 16.1s7.8 7.3 9.4 11.5s.6 9.9 .6 13.4s.2 4-.6 7.5s-3.1 10.1-4.5 13.7s-3.6 7.1-4.3 8.5M245.1 186c2.2-.2 8.6-1.4 12.8-1.6s8.7-.2 12.3 .3s6.2 2 9.4 2.8s6.6 .6 10.2 1.7s7.2 3 11.6 5.2s10.8 4.9 14.4 8.3s4.5 8.4 7.5 12.1s8.9 8.5 10.7 10.2M245.7 192c1.3-.7 4.9-3.1 7.6-4.4s5.7-3.2 8.8-3.4s7 1.8 10 1.9s6.5-1 7.8-1.2M258.3 286.1c-1.6 .6-6.3 2.8-9.4 3.2s-6.4 .4-9.4-.6s-5.7-4-8.6-5.6s-5.9-2.6-8.9-4s-5.2-3.2-9-4.9s-10.3-3.3-13.9-5.5s-5.4-3.9-7.8-7.5s-5.9-12.1-7.1-14.5M371.3 255.2c-.6 2.1-2.4 8.9-4 13s-5.3 7.5-6.1 11.2s2 7.1 1.4 11.3s-3.1 8.7-5.2 13.7s-3.7 11.9-7.2 16.2s-9.2 7.7-14.3 9.6s-13.6 1.7-16.3 2M122.8 297.5c-3.1-3.7-14.1-14.4-18.7-22.4s-7.8-16.8-9.3-25.7s-1.8-19-.1-27.5s6-16 9.9-23.1s8.1-13.2 13.3-19.7s10.8-12.8 17.7-19.1s15.5-12.9 24.2-18.7s23.3-13.5 27.9-16.2M442.5 195.4c2.3 5.6 10.6 23.6 13.5 33.9s4.6 19.8 3.9 28s-4.7 14.1-8.1 21.4s-8.4 15.7-12.3 22.3s-9.3 14.1-11.1 17M143.1 276.8c-2.2-3-10.9-11.5-13.2-18.2s-1.5-14.8-.8-21.9s3-14.7 5.5-21.3s4.9-13.4 9.3-18.1s12.1-5.5 17.4-10s9.2-11.5 14.1-16.9s8.7-10.3 15.4-15.1s16.7-10.2 24.4-13.9s18-7 21.6-8.4M390.3 357.6c-3.9 2.1-15.6 9.3-23.4 12.4s-16.1 4.6-23.5 6.4s-14.5 4.3-20.9 4s-12.7-3.5-17.5-5.7s-7.5-3.3-10.8-7.3s-6.1-11.5-9.4-16.7s-7.3-12.3-10.6-14.3s-5.9 .5-9.5 2.2s-9.7 6.4-11.7 7.7" stroke-opacity="0.2" stroke-width="1.2"/>
<path d="M404.5 176.5c3.4 4.6 14.7 18.6 19.9 27.8s9.2 19.2 11.5 27.5s3.4 15.4 2.5 22.3s-4.8 12.3-7.8 18.8s-7.2 13.6-10.4 19.9s-6.1 12.5-8.6 17.9s-3.6 9.3-6.3 14.9s-5.6 12.9-9.9 18.8s-13 14.2-15.6 17M280.6 327.9c-1.2-1.7-4.8-8.4-7-10s-3.6-.4-6.2 .2s-6.1 2.3-9.6 3.8s-6.6 5-11.1 4.9s-10.8-3.1-15.7-5.4s-9.8-5.3-13.2-8.3s-5.7-8.3-6.8-9.9M162.8 286.8c-2.1-2.4-9.4-9.2-12.6-14.2s-4-10.8-6.1-15.9s-5.6-8.7-6.7-14.2s-.1-15.8-.1-18.9M239.5 363.1c-3.5-.7-14.3-1.6-21-3.8s-12.9-6-18.9-9.4s-12.6-6.8-17-11.4s-4.5-12.3-9.4-16.4s-16.7-7.1-20.1-8.5M312.8 129.9c3.4 2 13.1 7.4 20 12.4s15 11.5 21.5 18.1s12.5 14.1 18 21.3s10.5 14.9 14.5 22s7.3 14 9.5 20.6s2.5 13.2 3.7 18.9s3.8 9.7 3.4 14.8s-4.9 13.3-5.9 16M328.3 136.2c4.7 2.7 19 9.6 28 15.9s19.3 14.5 26.2 22.5s10.7 17.2 14.8 25.6s7.7 16.4 10 24.2s3.4 16.2 4.1 23s.8 11.9 0 17.7s-1.9 11.6-4.6 17s-9.3 13.2-11.1 15.9M259.6 365.1c-2.7 1.7-8.7 8.8-16.1 10.1s-19.9-.6-28-2.8s-14.3-6.1-21-10.4s-14.6-9.8-19.3-15.2s-2.7-12.6-9.1-16.9s-19.6-5.6-29-9s-18.5-5.6-27.8-11.4s-23.4-20-28-24M361 254.4c-.2 1.9 .1 8.2-1.3 11.5s-5.7 5.9-7.2 8.5s-1.4 4-1.4 7.3s2.5 9 1.5 12.7s-6.4 8.3-7.6 9.9M271 336.4c-1.6 1-6.5 3.5-9.8 5.7s-5 5.7-9.8 7.3s-13.1 3.3-19.1 2.1s-11.5-6.3-16.7-9.5s-9.6-6.2-14.4-9.6s-11.8-8.9-14.2-10.7M351.5 289.6c-.4 3 .1 13.9-2.5 18.2s-8.9 4.6-13 7.5s-7.3 8.3-11.9 10s-10.7 0-15.4 .2s-9 1.4-12.5 .8s-7.1-3.8-8.5-4.6M294.9 305.2c-1.4-.4-6.2-1.8-8.5-2.8s-4-1.5-5.7-3s-2.7-4.3-4.4-5.8s-3.6-2.9-5.5-3.6s-5-.5-6-.6M321.3 127.9c3.8 3 15.1 11.3 22.6 18s15.6 14.6 22.1 22.2s11 15.4 17.2 23.2s15.9 15.5 20.1 23.4s5.3 16.8 5.2 23.8s-4.4 12.4-5.6 17.8s1.1 10.1-1.6 15s-11.8 12.1-14.2 14.5M217.7 140.4c3.2-1.3 12-6.2 19.2-7.9s16.2-2.1 23.7-2.4s14.8 .2 21.4 .5s11.6 .5 18.4 1.2s15.6 .3 22.3 3.2s11.5 7.9 17.7 14.1s16.6 19 19.9 22.8M260.2 172.9c2.2-.1 8.9-1.4 12.8-1s7.1 2.6 10.9 3.9s8.9 1.4 12.3 3.8s6.6 8.5 7.9 10.3M277.6 300.6c-.6-.9-2-4-3.6-5.6s-4.4-3.5-6.2-3.7s-2.7 1.9-4.5 2.7s-3.6 1.6-6.4 2s-6.6 .8-10.3 .3s-8.6-1.9-12.3-3s-7.7-1.7-9.8-3.7s-.7-5.8-2.8-8.4s-8.2-5.9-9.9-7.1M402.6 148.7c4.2 5.1 17.6 20.6 25.3 30.6s16.3 19.5 21.2 29.5s7.2 21.7 8.1 30.6s-.5 15.7-2.4 22.8s-5.8 13-9 20s-7.3 15.1-9.8 21.8s-3.9 12.1-5.2 18.7s-.2 13.9-2.7 21.2s-10 18.8-12 22.5M320.3 160.8c3.3 2.1 13.7 7.9 20.1 12.5s12.9 9.9 18.5 15.5s11.5 11.8 14.9 17.9s3.3 12.7 5.6 18.9s6.9 13.3 8.2 18.6s.3 8.9-.2 13.2s-.2 8.8-3 12.5s-11.3 5.9-13.7 9.6s-.6 10-.7 12M240.2 278.6c-.8-.9-3.6-3.3-4.8-5.4s-.7-5.6-2.4-7s-5.1-.7-8.3-1.4s-9.2-2.4-11-2.9M101.8 272.8c-.8-4.6-4.6-18.6-5.1-27.6s-.4-18.5 2.1-26.8s8.1-15.7 12.8-22.8s9.5-12.9 15.3-19.5s11.7-14.4 19.6-20.3s18.5-9.7 27.5-15s17.3-12.3 26.5-17s19-8.3 28.9-11.7s25.3-7.3 30.3-8.8M165 157.7c4.6-2.1 19.1-7.6 27.9-12.2s16.6-11.1 25.3-15.1s17.5-6.1 27-8.8s20.4-6.6 29.6-7.7s17.4-.9 25.8 .9s16.7 5.2 24.6 9.9s18.9 15.2 22.7 18.3M276.2 293.8c-.3-.8-.7-3.7-1.9-5.1s-3.3-3-5.2-3.3s-4 1-5.9 1.6s-2.9 1-5.6 2.2s-7.1 5-10.7 5s-7.7-3.5-10.5-5.1s-4.3-2.3-6.5-4.6s-5.6-7.8-6.7-9.3M274.8 142.2c2.6-.3 9.8-1.9 15.6-1.6s13.3 1.1 19.3 3.6s11.1 7 17.1 11.9s15.7 14.6 18.9 17.6M268.6 276.3c-.4 .2-1.5 .9-2.8 1.4s-3 1.6-5.1 1.6s-4.8-1.2-7.3-2s-5.5-1.5-7.7-2.9s-4.1-3.9-5.7-5.7s-3.3-3.4-4-5.2s-.5-4.4-.5-5.3M297.8 369.3c-1.4-1.5-5.4-4.8-8.4-8.7s-6.3-10.4-9.4-14.4s-6.6-9.3-9.3-9.4s-3.2 5.7-6.7 8.6s-9.5 7.3-14.5 8.3s-13.1-2.2-15.7-2.7M281.1 298.4c-1-1-4.1-4.1-5.7-6.1s-2.4-4-3.8-5.8s-3.3-5.5-4.9-5.1s-2.9 5.9-4.9 7.3s-6 .7-7.3 .8M164 225.1c1-2.2 3.4-9.2 6.1-13.1s6.8-6.3 9.8-10.2s4.7-9.5 8.6-13.4s9.8-6.9 15.1-10s11.1-5.9 16.8-8.8s11.9-5.9 17.2-8.7s9.3-6.5 15-8.6s13.2-3 19-3.9s13.1-1 15.8-1.2M123.3 187.4c3.1-2.6 12.1-9.7 18.2-15.5s11.9-12.9 18.8-19s14.4-12.2 22.8-18s18.7-12.3 27.8-17.1s22.3-9.9 26.8-11.9M279.3 111.9c3.8 .3 15.4 .1 22.7 1.5s13.9 3.3 21 7.1s13.8 10.2 21.2 16.1s16.7 11.7 23.4 18.7s11.8 15.8 17.1 23.2s12.4 17.5 14.8 21M109.7 249.8c1-3.8 3.9-15.3 6-22.8s3-15.4 6.7-21.8s10.6-11.8 15.8-17.1s9.3-9.4 15.2-14.6s13.3-11.7 20.3-16.6s18.5-10.4 22.1-12.5M340.9 196.9c1.9 2.6 8.3 9.9 11.2 15.2s5 11.8 6.4 16.9s1.6 9.9 1.6 13.9s-.2 6.7-1.5 10.2s-3.5 7.5-6.2 10.6s-8.2 5.6-10.2 8.1s-1.4 6-1.6 7.2M187.1 262.1c-1.4-2.1-7.2-8.2-8.6-12.4s-.2-8 .6-12.4s2.5-10.2 3.8-14.1s2.5-6.1 4.1-9.5s3.1-7 5.5-10.4s7.5-8.4 9.1-10M225.9 102.9c4.5-1.2 17.5-4.8 27-7.2s20.6-5.9 29.8-7.4s16.6-2.3 25.3-1.6s17.4 1.8 26.5 5.7s18.4 10.7 27.7 17.3s23 18.5 27.6 22.2M109.4 208.7c2.3-3.4 8.6-14 13.6-20.6s9.6-12.9 16-18.9s14.8-11.8 22.8-17.4s16.6-11.4 25.4-16.3s18.7-9 27.5-13.1s16-8.4 25.4-11.6s21.4-6.4 31-7.5s18.3-.5 27 .8s20.8 5.7 25 6.9M333.8 100.1c5.1 2.1 21 5.5 30.5 12.6s18 20.9 26.6 30.1s17.9 16.5 25.1 25.2s14.9 22.7 17.9 27.2M427.6 201.8c2 4.8 9.8 20.4 12 29s1.5 15.9 .8 22.8s-2.2 12.3-5.2 18.6s-9.7 12.4-12.8 18.8s-4.3 13.8-6.2 19.3s-4.3 11.5-5.1 13.8M289.2 107.6c4.6 .4 18.6 .2 27.3 2.3s16.4 5.2 25.4 10.2s18.9 12.5 28.3 20.1s19.4 16.9 28.1 25.3s18.2 16.4 24.5 25.4s10.2 19.5 13.5 28.7s5.7 18.2 6.3 26.2s-1 15.1-2.4 21.7s-5 15.1-6 18.1M342.3 280.4c-.7 1.3-2.5 4.8-4.3 7.5s-3.5 6.5-6 8.8s-5.4 3.3-9 4.8s-9.2 3-12.5 4.1s-5.8 1.9-6.9 2.3M391.8 240c-.6 2.6-2.2 10.5-3.7 15.5s-2.7 9.6-5.2 14.3s-7.6 10.1-10 14s-2.6 5.1-4.1 9.4s-2 11.4-4.3 16.5s-5 10.6-9.6 14.3s-11.8 6.5-18.1 8.1s-14.1 .7-19.7 1.3s-11.8 1.9-14.2 2.3M310.1 370.4c-2.1-1-8.9-3.5-12.6-5.9s-6.9-4.7-10-8.4s-4.9-10-8.1-13.9s-7.9-8.6-10.9-9.3s-3.6 3.4-7.1 4.8s-8.2 3-13.9 3.5s-16.5-.2-19.8-.2M284.9 181.8c1.2 .8 4.3 2.8 7.5 4.8s7.8 4.1 11.1 7s5.7 6.9 9 10.2s8.9 7.8 10.7 9.4M407.3 194.2c2.3 4.3 10.6 17.6 13.7 25.8s4.3 16.5 4.7 23.8s-.8 13.7-2.2 19.9s-3.4 11.3-5.9 17.5s-7.1 14-9.4 19.7s-2.9 8.7-4.4 14.7s-3.8 17.3-4.5 20.8" stroke-opacity="0.3" stroke-width="2.4"/>
<path d="M336.5 342.8c-2.7 .4-11.1 1.4-16.1 2.3s-9.7 2.9-13.8 3.2s-7.8-.8-10.8-1.5s-4.7-.2-7.2-3.2s-6.4-12.3-7.7-14.8M275.8 290.3c-.8-.6-3.5-1.9-4.8-3.7s-1.5-6.8-3-7.2s-4 3.6-6.2 4.4s-4.2-.7-7.2 .1s-7.5 4.9-10.8 4.9s-7.3-3.9-8.8-4.7M324.1 275.9c-.1 1.5 .9 6.5-.5 9.1s-4.5 5.1-7.7 6.7s-8 1.9-11.4 2.8s-6.2 1.6-9.1 2.5s-5.6 3.2-7.9 3.2s-3.8-1.7-5.9-3.2s-5.1-3.4-6.6-5.4s-1.4-5.4-2.5-6.7s-3.5-.8-4.2-.9M163.9 217.2c1.9-2.3 6.7-9.8 11.2-13.9s10.7-7.2 16-10.7s10.2-7.5 15.9-10.2s12.4-3 18-5.7s10.1-7.9 15.8-10.7s15.2-5.2 18.2-6.3M372.5 391.3c-4.4 1.3-18.4 6.2-26.4 7.8s-15.1 2.4-21.6 1.4s-12.7-4.4-17.4-7.3s-7.1-5.6-10.9-9.7s-7.9-10.1-11.9-14.8s-8.3-12.7-12.1-13.3s-9.1 8.1-10.9 9.7M316.1 273.4c-.1 1.2 .9 5.4-.9 7.3s-6.6 2.8-10 3.8s-8 1.9-10.8 2.6s-4.7 1.3-5.7 1.6M230.8 267.8c-1.9 .1-7.5 1.1-11.4 .3s-8.8-2.8-11.7-5.1s-3.1-5.3-5.6-8.5s-8.2-7.1-9-10.9s3-8 4-11.7s.4-7.5 2-10.6s4.5-5.1 7.1-8.1s5.7-7.4 8.4-10.3s6.7-5.6 8-6.7M208.4 308.1c-.9-1.9-2.9-8.2-5.6-11s-6.2-3.9-10-5.7s-7.7-3.1-12.8-5s-15.1-5.2-18.2-6.3M285.5 352.2c-1.5-2.7-6-12.5-9.3-16.4s-7.2-7.5-10.5-6.9s-4.9 8.8-9.2 10.2s-10.6-1-16.4-1.8s-12.6-1.1-18.4-3s-12-4.7-16.3-8.2s-8.2-10.5-9.9-12.6M205.3 269.8c-2.2-1.1-9.3-4.1-12.7-6.8s-5.8-6-7.6-9.8s-2.6-8.4-2.8-12.5s1.3-10.3 1.6-12.4M262.9 99.5c4.5-.4 18-2.9 27.1-2.1s18.9 4 27.8 7s17 5.7 25.8 10.8s18.8 11.9 27.2 19.8s15.9 18.7 23.2 27.7s13.8 17.9 20.9 26.6s18.6 21.1 22.3 25.4M210.1 304.1c-.8-2.1-2.4-9-4.9-12.5s-5.8-6.8-10.1-9s-10.2-1.7-16.1-4.2s-13.9-6.1-19.1-10.6s-9.8-13.7-11.7-16.5M339.3 125.8c3.6 2.6 14.1 9.8 21.2 15.3s14.8 11.3 21.4 17.7s12.3 14 18.2 20.7s14.4 16.2 17.3 19.4M267.9 278.6c-.7 .1-2.5-.2-4 .6s-2.9 3.1-5.1 4.6s-4.6 4.1-7.8 4.2s-9.5-3.1-11.4-3.7M424 209c2.1 4.4 10 18 12.5 26.4s2.3 16.9 2.4 24.2s1 13.5-1.9 20s-12.9 12.8-15.7 18.9s-.3 11.5-1.2 17.6s-3.4 15.9-4.1 19.1M433.7 317.5c-.2 3.2 .8 11.8-1.2 19.1s-5.9 17.3-11 25.1s-11.6 16.5-19.7 22.1s-19.5 8.9-28.8 11.3s-19 2.2-27.3 2.7s-15.9 1.4-22.4 .2s-11.7-4.2-16.8-7.8s-11.6-11.4-13.9-13.7M281.2 326.7c-.9-1.4-2.9-5.8-5.1-8.3s-5.6-6.4-8.3-6.8s-4.3 3.6-7.7 4.7s-7.3 1.7-12.3 2.2s-12.2 2.2-17.5 1.2s-10.3-4.4-14.3-7.3s-6.6-6.6-9.6-10.2s-4.6-8-8.5-11.1s-12.6-6.2-15.2-7.5M276 150.8c2.4 0 9.1-.2 14.3 .1s12-.2 16.8 1.8s8 6 12.4 10.2s11.8 12.7 14.2 15.3M251.5 352.8c-2.9-.1-10.8 .3-17.6-1.1s-16.3-4.6-22.8-7.4s-11.6-4.9-16.3-9s-7.1-10.8-11.4-15.5s-7.9-9.1-14.2-12.3s-16-2.9-23.4-6.7s-17.5-13.1-21-15.8M231.7 295.2c-1.9-.9-8.3-2.8-10.9-5s-2-6.3-4.9-8.3s-7.7-2.4-12.6-3.6s-11.6-1.1-17-3.5s-12.9-9.1-15.5-11M295.2 296.7c-1.2-.4-4.5-1.3-7-2.3s-6.2-2.6-8-3.7s-1.7-1.1-3-2.6s-4.2-5.3-5.3-6.8s-.3-1.5-1.2-2.3s-2.6-2.4-4.2-2.3s-3.5 2-5.2 3.3s-4.4 4-5.3 4.7M305.8 117.4c3.9 .7 15.9 .6 23.3 4.2s13.5 10.9 20.9 17.4s16.1 14.7 23.1 22.1s14 15 19.1 22.7s8.3 15.5 11.6 23.1s6.8 19 8.2 22.7M252.4 172.6c2.7-.6 11.5-3.4 16.4-3.8s8.3 .6 12.7 1.3s9.1 .9 13.8 2.8s8.9 5.3 14.6 8.4s14.2 6.1 19.8 10.1s9.5 9.2 13.8 14.3s10.3 13.5 12.4 16.2M334.9 245.7c-.5 1.2-1.7 4.3-2.8 7s-3.3 6.9-4 9.2s-.3 2.5-.6 4.9s-.3 5.9-1.5 9.1s-3.7 7.5-5.2 10.5s-1.3 4.9-3.4 7.4s-6.1 5.2-9.5 7.2s-8.4 3.5-11 4.7s-4 2.1-4.7 2.6M139.5 240.7c1-3.4 4.1-14.3 6-20.5s2.6-11.5 5.3-16.6s6.4-8.9 11-14.1s10.9-12.7 16.9-17.4s12-7.2 18.7-11s18-9.6 21.6-11.6M197.8 218.6c1.7-1.4 6.4-5.5 10-8.2s8-5.3 11.7-7.8s6.5-5.3 10.2-7.6s8.3-4.1 12.3-5.9s7.7-3.1 11.7-4.7s8.2-3.8 12.4-5.1s10.4-2.4 12.5-2.9M413.7 201.7c1.2 4.1 5.5 16.9 7.5 24.6s4.2 15.1 4.7 21.9s-.8 12.9-2.2 19s-3.4 12.5-6.3 18.1s-8.9 10.4-10.9 15.8s-.6 13.7-.7 16.4" stroke-opacity="0.2" stroke-width="2.4"/>
<path d="M230.7 300.2c-1.4-1.5-5.9-6.2-8.3-8.9s-3.4-5.1-5.8-7.6s-5-5.5-8.4-7.3s-7.5-1.3-11.4-3.8s-9.1-7.2-11.8-11.2s-3.1-8.5-4.3-12.8s-2.8-8-2.8-12.5s.8-9.9 2.4-14.2s6.2-9.7 7.4-11.7M425 323.2c-.9 2.5-3.6 8.9-5.5 15s-2.5 15.1-6 21.4s-8.8 12.1-14.5 16.3s-16.6 7.7-19.9 9.2M205.4 103.9c5.1-2.2 19.5-10.7 30.6-13.5s25.4-2.8 36.2-3s19.3 .5 29 1.8s19.5 2.1 29.3 5.8s19.6 8.9 29.6 16.3s21 18.9 30.7 28.2s19.4 18.1 27.3 27.8s14.1 19.9 20.1 30.2s12.9 26.4 15.4 31.6M404.5 272.9c-.8 2.8-3.2 11.6-5 16.8s-5.4 8.7-6.2 13.8s2.9 11.7 1.5 17.3s-6.1 10.7-9.6 16.3s-6.3 12.2-11.3 17.1s-12 9.9-18.6 12.7s-17.7 3.6-21.3 4.3M146.3 233.5c1-2.5 3.9-10.5 5.8-15.2s2.2-9.3 5.2-13.1s9.2-6 12.8-9.6s7.5-9.7 9-11.7M191.4 309.8c-3-1.6-10.8-7.1-17.9-9.8s-18.1-2.2-25.2-6.5s-12-12.4-17.3-19s-11.4-13.3-14.3-21s-3-17.6-2.6-25.2s2-14.1 5.3-20.9s12.3-16.7 14.8-20.1M217.7 265.2c-2.3-.6-9.9-1.3-14.2-3.6s-9-6.3-11.7-10s-4.2-7.9-4.5-12.2s.4-9.2 2.6-13.2s9.1-9 10.9-10.8M215.8 272.2c-1.5-.9-6.2-3.7-9.3-5.9s-6.2-4.2-8.9-7.3s-6.1-7.6-7.1-11.3s1.7-7 1-10.8s-5.7-8.8-5.1-12.3s6.3-5.2 8.5-8.4s3.5-9 4.3-10.8M268.9 287c-1 1-3.4 4.4-5.6 6.5s-4.6 5.2-7.7 5.9s-7.1-.4-10.9-1.6s-8.5-3.5-11.6-5.9s-5-5.4-6.8-8.2s-2-6.2-4.2-8.4s-5.8-3-9.3-4.4s-9.7-3.5-11.7-4.2M172.5 278.9c-2-2.5-8.5-10.2-11.9-15.5s-7-10-8.4-15.8s-1.7-12.9 .3-19s7.9-12.3 11.6-17.5s6.5-9.3 10.4-13.7s7.8-8.8 12.9-12.5s11.7-6.6 17.4-10s14.2-8.8 17-10.5M244.9 129.3c4.4-.9 18.2-4.3 26.6-5.4s15.9-2.8 23.9-1.5s16.2 4.9 23.8 9.1s13.7 9.5 21.5 15.6s21.4 17.5 25.7 21M425.8 204.3c2.2 4.6 10.6 19.3 13.1 27.8s1.9 16.2 2.1 23.5s1.6 14-1.1 20.2s-11.1 10.9-14.7 16.9s-6.1 15.6-7.3 18.7M274.2 287.1c-.7-1-2.5-3.7-3.7-5.9s-3-6.7-4-7.4s-.6 2.4-2.2 3.5s-4.5 2.6-7.1 3s-6.2 .1-8.4-.8s-3.5-2.7-5-4.5s-2.6-5-4.2-6.6s-3.5-2.1-5.4-2.9s-5.1-1.3-6.1-1.6" stroke-opacity="0.4" stroke-width="2.4"/>
<path d="M172.4 322.8c-3-1.4-11.4-5-18.1-8s-14.3-5.9-22-10.1s-16.9-9.2-24.1-15.5s-15.2-14.8-19.1-22.6s-3.9-19.9-4.7-23.9M297.6 102.7c4.2 1.2 17.1 3.1 25.1 7.3s14.8 11 22.9 17.5s17.2 14 26.2 21.4s20.3 14.4 27.7 23s11.3 19.9 16.5 28.8s11.2 16.9 14.7 25s6 16.6 6.5 23.9s-1.2 13.3-3.5 19.6s-8.2 15.3-9.8 18.3M293.5 297.5c-1.6-.4-7.2-1.9-9.6-2.7s-3.4-1.4-4.8-2.4s-2.2-1.7-3.7-3.2s-4.3-4.4-5.6-5.8s-.9-2.4-2.1-2.5s-3 .6-5 1.7s-4.6 4.5-7.3 5.1s-5.3-1.2-8.7-1.6s-9.5-.7-11.5-.9M307.2 352.3c-1.8 .2-7 2.9-10.5 1.3s-7.2-7.3-10.3-11s-5.5-7.9-8.5-10.7s-8-5.5-9.6-6.6M227.6 280.3c-.5-1.2-.5-5.5-2.9-7.2s-7.2-2.1-11.6-3.4s-10.8-2.1-15-4.5s-7.3-5.9-10.1-9.9s-6-9.7-6.5-14s2.8-7.8 3.9-11.5s.9-7.1 2.7-10.5s5.7-6.6 8.6-10s7.3-8.6 8.8-10.3M191.7 182c3.1-1.8 12.4-7.8 18.4-10.6s11.6-3.8 17.5-6.4s11.4-6.9 17.5-8.7s13.1-1.7 19.1-2.1s11.2-.3 16.8-.5s14.1-1 16.9-1.2M265.8 316.8c-1.4 .9-4.8 4.3-8.7 5.9s-8.8 4-14.1 3.6s-12.8-4.1-18.2-6.1s-10.2-3.2-14.1-6.1s-5.5-7.9-9.3-11s-8.5-5-14-7.7s-12.6-4.9-19-8.2s-14.7-6.4-19.7-11.5s-8.4-16.1-10.1-19.3M177.4 314.9c-3.5-1.4-13-5.5-21.3-8s-20.1-3.7-27.9-7.4s-14.1-8.2-19.3-14.8s-8.7-16.8-11.8-24.9s-6.8-15.7-6.9-24s3.1-17.8 6.1-25.4s10.1-16.7 12.1-20.1M304.4 171.6c2.7 2.1 11.9 7.8 16.4 12.5s6.5 10.8 10.8 15.6s11.3 8.4 15.2 12.9s5.6 9.3 8.2 14.2s6.8 11.1 7.8 15.4s-.1 7.2-1.5 10.8s-4.9 7-7.1 10.6s-4.8 7.8-6.4 10.8s-2.9 6.1-3.5 7.3" stroke-opacity="0.4" stroke-width="1.2"/>
<path d="M292.4 314.2c-1-.4-3.5-.6-5.9-2.3s-6.4-5.2-8.3-8s-1.7-6.3-3.1-8.9s-3.4-5.3-5.5-6.5s-5.6-1.5-7.3-.7s-2.3 4.3-2.8 5.1M159.4 239.8c.1-3-1.9-12.6 .2-18s9.6-10.1 12.9-14.5s2.9-7.8 6.6-11.5s10.4-6.8 15.2-10.4s8.5-7.4 13.9-11.4s13-9.3 18.9-12.8s10.6-5.4 16.5-7.8s15.5-5.3 18.6-6.4M346.7 274.1c-.6 .9-2.6 2.2-3.7 5.3s-.9 9.4-2.8 13.2s-4.7 7-8.5 9.3s-9.7 3-14.3 4.4s-9.8 2.9-13.6 3.7s-6.8 .8-9.5 1s-4.6 .8-6.8 .2s-5.2-2.8-6.3-3.4M173.7 280.9c-3.2-2.1-14.1-7.9-19.1-12.6s-8.8-9.3-11-15.4s-1.7-15-1.8-21.4s1-14.1 1.1-17M277.7 100.6c3.8-.1 15.1-2 22.7-.5s15.4 5.7 22.9 9.9s14.2 9.1 21.7 15.1s16 13.5 23.4 20.8s15 15.3 21 23.2s12.5 20.1 15.1 24.1M202.7 342.9c-2.9-1.9-13.1-6.9-17-11.7s-1.7-13.1-6.8-17s-16.2-4.4-24.4-6.8s-17.4-2.8-24.8-7.9s-14.6-14.5-19.6-22.6s-9.4-16.6-10.4-25.5s1.7-19.4 4.5-27.8s7.7-15.3 11.9-22.3s11.3-16.7 13.6-20.1M332.2 198.1c1.1 2.1 3.8 8.7 6.8 12.7s8.1 7.4 11 11.5s5.3 9.5 6.4 13.3s.4 6.2 0 9.5s-.5 7.3-2.4 10.3s-7.2 6.4-8.7 7.6M367.5 258.5c-1.2 2.3-4.3 10.4-7.3 13.4s-8.8 2.7-10.7 5.1s-.4 6-1 9.5s-1.1 7.5-2.6 12s-5.1 12.6-6.2 15.1M209.8 312.1c-1.3-2.2-3.6-9.9-7.6-12.9s-9.5-3-16-4.9s-16.4-2.8-23.1-6.3s-11.9-9.1-16.7-14.7s-9.9-11.9-12.2-18.9s-2.5-15.9-1.3-22.9s7.4-16 8.9-19.2M437.7 241.9c0 2.9 1.4 11.3 .2 17.4s-3.8 12.9-7 19.1s-9.3 12.3-12.4 17.7s-4.6 9.6-6.2 15s-1 11.3-3.5 17.2s-7.3 12.4-11.8 18s-9.4 11.2-15.4 15.4s-13.3 6.3-20.4 9.4s-18.7 7.5-22.4 9M381.5 363.2c-3.4 1.7-13.6 7.8-20.6 10.4s-14.9 3.6-21.7 4.7s-13.3 1.8-19.2 1.8s-11.7-.4-16.2-2.3s-7.5-5.3-10.7-8.9s-5.3-8.8-8.1-13.1s-5.7-10.4-8.6-12.8s-7.6-1.3-9.2-1.6M257.9 320.2c-2.2 .7-8.5 4.5-13.4 4.5s-10.9-3.1-16.1-4.8s-11.3-2.8-15.4-5.6s-7.5-9.4-9-11.3M427.9 238c.4 3 2.2 12.3 1.9 18.1s-1.3 11-3.5 16.5s-6.8 11.2-9.2 16.9s-3.5 12.2-5.2 17.1s-3.3 7-5 12.4s-4 16.2-4.8 19.5M333.4 382.8c-3.2-.5-13.7-1.3-19.1-2.7s-9.4-3.8-13.2-6s-6.6-3.7-9.8-7.2s-6.7-8.8-9.8-13.3s-5.6-12.2-8.9-13.5s-8.8 4.6-10.6 5.6M282.4 338.8c-1.5-1.9-5.8-9.6-9-11.1s-6.9 1-10.5 2.3s-6.9 4.5-11.2 5.7s-9.1 2-14.8 .9s-16.4-6.1-19.7-7.4M279.6 295.2c-.5-.6-1.9-2.6-3.1-3.7s-2.7-1.5-4.4-2.9s-4.2-4.9-5.5-5.6s-2.1 1.5-2.5 1.8M147.6 156.3c3.9-2.9 15-12.1 23.3-17.5s17.2-9.9 26.2-14.9s18.1-10.9 27.4-15.1s19-8.1 28.4-10.4s18.8-3 28.1-3.5s19.1-1.4 28.1 .6s21.3 9.2 25.5 11M169.7 139.9c4.4-2.7 17.3-11.3 26.4-15.8s18.6-7.9 27.9-11.2s18.5-5.8 27.8-8.6s18.9-7.3 28-8.2s18.2 .6 26.7 2.4s16.1 4 24.5 8s21.6 13.5 25.9 16.2M188.5 298.5c-3.2-1.1-12.7-4.2-19.2-6.9s-14.2-4.8-19.7-9.2s-10-10.5-13.4-16.9s-6.4-14.3-7.2-21.5s-.5-15.4 2.2-21.8s10.3-11.3 14.2-16.5s7.7-12.1 9.2-14.5M178.5 229.3c.7-2.3 1.4-10.2 4-13.8s7.8-4.3 11.8-7.5s7.8-8.5 12-11.7s8.7-4.7 13.3-7.4s9.2-5.9 13.9-8.6s9.9-5.8 14.6-7.4s11.6-1.8 13.9-2.2M238.3 116.8c4.7-.9 19.3-4.3 28-5.2s15.5-1 23.8-.4s17.8 1 26 3.9s15.4 7.2 23.2 13.2s16.7 14.7 23.8 22.5s13 16.3 18.4 24.4s8.8 16.5 13.7 24.2s12.2 14.5 15.7 21.9s4.3 18.7 5.1 22.4M270.5 306.6c-1 .1-3.1-.7-5.8 .5s-6.4 6.4-10 7s-7.5-2.3-11.5-3.2s-8.6-.7-12.5-2.5s-9.5-6.6-11.3-8M411.8 352.8c-2.8 3.1-9.8 12.8-16.7 18.5s-16 12.1-24.4 15.7s-17.7 5.6-26 6s-16.5-1.7-23.4-3.5s-13.1-3.7-18.1-7.2s-8.5-9.6-11.9-14s-5.8-8.4-8.9-12.1s-6.1-9.2-9.8-9.9s-10.2 4.6-12.2 5.5M232.3 284.7c-1-1.3-3.6-5.7-5.6-7.7s-3.5-3.1-6.9-4.4s-9.5-2.3-13.3-3.7s-6.7-1.9-9.2-4.7s-4.3-7.8-6-11.8s-4.6-8.8-4.4-12.7s3.1-7.3 5.4-10.8s6.5-8.5 7.8-10.2M329.2 380.8c-2.2 .9-9.3 5.2-13.2 5s-6.8-4-10.3-6.2s-7.9-4.5-11-7s-6-6.8-7.2-8.1M311.7 155.9c3.1 2.2 13.2 7.3 19 13.1s10.7 15.8 15.7 22.1s9.9 10.2 14.8 15.9s11.9 12.7 14.8 18.4s1.9 11.1 2.4 16s1.6 8.7 .2 13.4s-5.7 10.2-8.3 14.6s-6 10-7.2 12M353.4 251.4c-1 1.9-4.5 7.4-6 11s-1.9 8.2-3.1 11.1s-2.5 3.8-4.1 6.4s-3.3 6.2-5.4 9.6s-4.4 7.5-7.2 10.8s-5.5 6.7-9.2 8.5s-9.4 1.2-13.3 2.6s-7.4 6.2-10.3 5.8s-5.9-6.6-7.1-8M316.7 176.8c3 2.6 13.1 11.1 17.9 15.8s7.6 7.3 10.8 12.1s7.7 11.4 8.9 16.7s-1.8 10.6-1.8 14.8s2 6.6 2.1 10.2s.1 8.1-1.7 11.4s-6.7 5.6-8.7 8.5s-2.8 6.2-3.5 9s-.4 6.8-.5 8.2M189.1 204.2c2.4-1.6 10.5-6.1 14.5-9.5s5.1-7.5 9.2-10.6s10.1-5.6 15-8.1s8.8-5.2 14.1-7s12.2-2.4 17.5-3.6s9.6-3.1 14.3-3.1s9 1.8 14 2.7s11.4 .5 16.3 3.1s10.7 10.3 12.9 12.4M97.1 284.3c-2-4.8-9.9-19-11.7-28.7s-1-20 .5-29.9s4.7-21.4 8.5-29.6s8.2-13.2 14.5-20s14.4-14.3 23.3-20.9s20.2-12.8 30.2-18.9s24.5-14.3 29.4-17.2" stroke-opacity="0.3" stroke-width="1.2"/>
</g>
<g clip-path="url(#c1)"><ellipse cx="392" cy="335" rx="100" ry="88" fill="#fff" fill-opacity="0.6" filter="url(#b8)"/><ellipse cx="440" cy="250" rx="40" ry="70" fill="#fff" fill-opacity="0.5" filter="url(#b8)"/><ellipse cx="250" cy="350" rx="70" ry="35" fill="#fff" fill-opacity="0.35" filter="url(#b8)"/><ellipse cx="340" cy="110" rx="70" ry="30" fill="#fff" fill-opacity="0.3" filter="url(#b8)"/></g>
<path d="M170 243C172.7 239.8 179.3 229.3 186 224C192.7 218.7 201.3 214.2 210 211C218.7 207.8 229.3 205.8 238 205C246.7 204.2 258 205.8 262 206" fill="none" stroke="#b0b0b0" stroke-width="6" stroke-opacity="0.55" filter="url(#b1)"/>
<ellipse cx="198" cy="258" rx="30" ry="34" fill="#868686" fill-opacity="0.5" filter="url(#b8)"/>
<ellipse cx="192" cy="252" rx="16" ry="18" fill="#666" fill-opacity="0.45" filter="url(#b5)"/>
<ellipse cx="208" cy="275" rx="13" ry="15" fill="#777" fill-opacity="0.3" filter="url(#b5)"/>
<ellipse cx="225" cy="300" rx="22" ry="14" fill="#999" fill-opacity="0.3" filter="url(#b5)" transform="rotate(-30 225 300)"/>
<ellipse cx="196" cy="288" rx="22" ry="24" fill="#8a8a8a" fill-opacity="0.38" filter="url(#b5)"/>
<ellipse cx="352" cy="270" rx="9" ry="3" fill="#a5a5a5" fill-opacity="0.55" filter="url(#b1)" transform="rotate(25 352 270)"/>
<ellipse cx="300" cy="300" rx="8" ry="5" fill="#b0b0b0" fill-opacity="0.5" filter="url(#b2)" transform="rotate(25 300 300)"/>
</g>
<g fill="none" stroke-linecap="round"><path d="M159.4 223c3.1-2.9 11.2-12 19-17.2s17.4-10.8 27.8-14.4s20.6-5.3 34.5-6.7s40.5-1.7 48.6-2M173.3 217.4c1.5-1.3 3.5-4.6 9.4-8.1s16.4-9.7 26.2-12.9s18.8-4.8 32.4-6.1s40.8-1.6 48.9-1.9M169.7 217.6c1.8-1.6 4.7-5.9 11-9.8s17-10.4 27-13.7s19.2-4.8 33-6.2s41.5-1.7 49.8-2M149.7 243.1c1.8-2.9 5.6-11.3 10.8-17.1s12.4-12.5 20.2-17.7s16.7-10.1 26.7-13.3s19.9-4.9 33.2-6.3s39.1-1.7 46.9-2M159.2 225.8c.1-.2-2.8 2.2 .7-1s11.9-13 19.7-18.3s17.3-10.2 27.4-13.6s19.9-5 33.1-6.3s38.6-1.3 46.3-1.6M148.2 241.5c1.8-2.8 5.8-11 11-16.9s12.3-13.2 20.3-18.5s17.4-10.3 27.6-13.6s20-5.2 33.5-6.6s39.7-1.7 47.6-2M172.8 215.9c1.5-1.3 3-4.1 8.8-7.6s16.7-10 26.5-13.1s18.6-4.7 32.4-5.9s42.3-1.3 50.7-1.6M157.4 228.5c.4-.7-1.3-.4 2.5-4.1s12.1-12.6 19.9-17.9s17.2-10.2 27.3-13.6s19.9-5.4 33.3-6.9s39.3-1.6 47.1-1.9M165.1 215.9c2.1-2 5.8-7.5 12.6-11.9s17.7-11.3 28.2-14.9s20.7-5.2 34.8-6.6s41.3-1.6 49.5-1.9M175.5 212.4c.9-.8 0-1.7 5.4-4.8s16.9-10.3 26.9-13.7s19.3-5.2 32.9-6.6s40.7-1.5 48.8-1.8M168.3 217.6c2-1.7 5.3-6.2 11.9-10.3s17.4-10.4 27.5-13.8s19.5-4.9 33.1-6.4s40.5-1.7 48.6-2M174.2 215.7c1.3-1.2 2.2-3.4 7.9-6.7s16.7-10 26.5-13.2s19.1-4.6 32.3-6s39.3-1.6 47.1-1.9M151 241.4c1.8-2.5 5.3-9.8 10.4-15.2s12.3-12 20-17.1s16.6-10.2 26.5-13.5s19.2-4.7 33.2-6s42.2-1.6 50.6-1.9M163.3 222.4c2.8-2.5 9.3-10.1 16.6-14.8s17.1-10.4 27.1-13.8s19.2-5.3 33.1-6.7s41.6-1.5 49.9-1.8" stroke="#55a883" stroke-width="0.9"/>
<path d="M161.8 222.4c3-2.6 10.5-10.9 18-15.8s16.9-10.4 27-13.7s20.1-5.2 33.5-6.6s39.2-1.5 47-1.7M155.4 231.4c.7-1.1 .3-2.7 4.4-6.8s12.1-12.5 20-17.8s17.3-10.5 27.4-13.9s19.8-5.1 33.5-6.5s40.8-1.5 48.9-1.8M149.5 237.6c1.4-2.3 3.6-8.5 8.4-13.9s12.4-13.3 20.5-18.9s17.7-11.2 28.1-14.8s20.6-5.2 34.2-6.6s39.1-1.5 47-1.8M158.5 232.6c.7-1-.1-2.1 4-5.9s12.6-12.1 20.3-17.1s16.1-9.9 25.8-13.1s19-4.5 32.4-5.9s40.1-1.9 48.1-2.3M152.9 238.7c1.4-2 3.7-7.2 8.5-12.2s12.6-12.3 20.5-17.5s16.7-10.3 26.5-13.6s19.1-4.8 32.4-6.1s39.3-1.6 47.2-2M155 238.7c1.4-2 3.5-7.1 8.2-11.9s12.1-12 19.7-17s16.5-9.8 26.2-12.9s18.4-4.4 32-5.8s41.4-1.8 49.7-2.2M158.8 229.1c.4-.6-1.6 .1 2.2-3.4s12.8-12.3 20.7-17.4s16.8-10.1 26.7-13.3s19-4.7 32.8-6s41.6-1.9 49.9-2.3M153.1 241.3c1.7-2.3 5-8.8 10-14s12.4-12.2 19.9-17.3s16-10.1 25.6-13.3s19-4.5 32.2-5.8s39.2-1.6 47.1-1.9M171.1 215.3c1.5-1.4 3.2-4.6 9.3-8.2s17.3-10.4 27.5-13.7s19.7-4.8 33.5-6.1s41-1.8 49.2-2.1M151 238c1.5-2.2 3.9-8 8.6-13.2s12.1-12.7 20-18s17.7-10.7 27.9-14s19.5-4.8 33-6.2s40.2-1.6 48.3-1.9M151.1 235.1c1.2-2 2.6-6.7 7.1-11.8s11.9-12.9 19.9-18.3s18-10.8 28.3-14.2s20.1-5 33.9-6.4s40.7-1.4 48.8-1.7M159.5 225.2c0-.1-3.1 2.6 .2-.5s12.1-12.6 20-18s17-10.6 27.1-14s19.3-4.9 33.3-6.2s42.1-1.3 50.5-1.6M168.7 216.9c1.9-1.7 5-6.1 11.3-10.1s16.9-10.4 26.9-13.8s19.4-4.9 33.3-6.2s42.1-1.6 50.5-2M171.4 209.6c1-.9 .3-2.2 5.9-5.5s17.4-10.9 27.7-14.4s20.5-5.2 34.5-6.6s41.1-1.7 49.3-2M148.9 235.2c1.3-2.2 3.2-7.8 7.9-13.1s11.9-13.1 20.1-18.7s18.3-10.9 28.9-14.5s20.4-5.5 34.5-7.1s41.9-1.8 50.3-2.1M151.9 238.6c1.4-2.3 3.9-8.4 8.7-13.7s11.9-12.6 19.7-17.8s16.8-10.2 26.9-13.4s19.9-5 33.4-6.3s39.5-1.3 47.4-1.6M151.3 239.5c1.5-2.4 4.3-8.9 9.2-14.2s12-12.3 19.9-17.5s17.3-10.3 27.3-13.6s19.2-4.9 32.9-6.3s41-1.8 49.2-2.1M155.1 226.2c.3-.6-1.5 .2 2.1-3.4s11.6-13.1 19.6-18.7s18.1-11.2 28.7-14.8s20.7-5.4 34.8-6.9s41.7-1.5 50-1.8M146.5 239.6c1.7-2.8 5.3-10.9 10.3-16.9s11.9-13.5 20-19.2s17.9-11.4 28.5-15.2s20.9-5.8 35.3-7.4s42.8-1.6 51.4-1.9M154.3 224.5c.2-.4-2.1 1.1 1.5-2.5s11.7-13.2 19.9-18.9s18.5-11.6 29.2-15.3s20.8-5.6 35.1-7.1s42.2-1.4 50.7-1.7M161 224.9c3.3-2.9 11.6-12 19.4-17.2s16.9-10.3 27-13.7s19.6-5 33.2-6.5s40.4-1.6 48.4-2M151.1 242.4c1.9-2.6 6-10.1 11.2-15.6s12.4-12.6 20.1-17.8s16.6-10.1 26.3-13.4s18.5-4.9 32.3-6.3s42.1-1.6 50.6-1.9" stroke="#66b491" stroke-width="0.9"/>
<path d="M174 218c1.5-1.3 3.2-4.2 9-7.8s15.9-10 25.6-13.3s19.1-4.8 32.5-6.2s39.9-2 47.9-2.3M145.7 241.2c1.9-3.1 5.9-12.4 11.1-18.7s11.8-13.3 20-19s18-11.3 28.6-15s20.4-5.6 34.8-7.1s42.8-1.6 51.4-1.9M162.6 218.6c2.6-2.4 8.1-9.7 15.4-14.5s18.1-10.9 28.6-14.4s20.7-5.2 34.2-6.5s39.1-1.4 46.9-1.6M161 227.4c.2-.2-2.5 1.8 1-1.4s12.2-12.5 19.9-17.6s16.6-9.9 26.4-13.1s18.7-5 32.3-6.5s41-1.7 49.2-2M152 230.8c.8-1.3 .6-3.4 4.7-7.9s11.7-13.2 19.9-18.9s18.6-11.5 29.2-15.3s20.5-5.5 34.7-7.1s41.9-1.7 50.3-2M163 222.2c2.9-2.6 9.8-10.5 17.2-15.4s17.1-10.3 27.2-13.7s19.1-5.1 33.1-6.4s42.4-1.6 50.9-1.9M151.9 232.5c1-1.5 1.7-4.7 6-9.4s11.9-13.1 19.7-18.6s17.3-10.9 27.6-14.3s20-5.1 34.3-6.6s42.8-1.7 51.4-2M158.2 229.3c.5-.6-1-.3 2.7-3.9s11.9-12.7 19.7-18s17.1-10.1 27.1-13.5s19.7-5.4 33.1-6.7s39.7-1.3 47.7-1.6M175 211.3c.8-.7-.2-1.4 5.2-4.5s16.8-10.4 26.9-13.7s19.9-5 33.3-6.3s39.4-1.4 47.3-1.7M158.3 233.3c.7-1.1 .2-2.3 4.2-6.3s12.5-12.2 20.2-17.3s16.6-9.7 26.3-12.9s18.6-4.7 32.2-6.1s41.4-1.8 49.7-2.2M156 228.2c.5-.7-1-.8 2.7-4.4s11.8-12.3 19.7-17.5s17.3-10.5 27.7-14s20.5-5.5 34.2-7s40.1-1.6 48.1-1.9M172.8 214.2c1.2-1.1 1.5-3.1 7.1-6.5s16.7-10.6 26.8-13.9s19.6-4.9 33.4-6.2s41.2-1.4 49.4-1.7" stroke="#3f946d" stroke-width="0.9"/>
<path d="M155.6 228c.4-.6-1.3-.3 2.5-3.9s12.2-12.7 20.3-18s18.2-10.5 28.5-13.9s19.7-5.2 33.5-6.7s41.2-1.5 49.4-1.8M147.8 246.2c2.2-3.4 7.8-14.2 13.3-20.4s12.2-11.9 20-16.9s16.9-10.1 26.8-13.3s18.7-4.9 32.3-6.2s41.3-1.6 49.5-1.9M150.5 239.7c1.7-2.5 4.9-9.3 9.9-14.7s12.1-12.3 20-17.6s16.8-10.4 26.8-13.7s19.8-5 33.5-6.4s40.5-1.7 48.6-2.1M154.3 229.3c.6-1-.4-1.7 3.6-5.8s11.8-13.3 19.9-18.9s17.9-11.1 28.4-14.8s20.2-5.5 34.4-7s42.1-1.5 50.6-1.8M160.5 225.6c0 0-3.3 2.9 0-.1s12.2-12.6 20.1-17.9s17-10.7 27-14.1s19-4.9 32.9-6.2s42.2-1.5 50.6-1.8M172.1 215.4c1.5-1.3 2.6-4 8.5-7.5s16.8-10.1 26.8-13.4s19.3-4.9 33.3-6.3s42.4-1.7 50.8-2.1M151.6 230.8c.9-1.3 1.1-3.7 5.2-8.1s11.8-13 19.9-18.6s18.2-11.3 28.8-14.9s20.8-5.4 34.9-6.9s41.4-1.8 49.7-2.2M157.4 221c3-3.1 10.5-12.8 18.4-18.4s18.1-11.4 28.7-15.1s20.7-5.6 35-7.1s42.3-1.6 50.8-1.9M147.7 238.6c1.7-2.5 4.9-9.7 9.9-15.3s11.9-13.1 20-18.6s18.1-11.2 28.5-14.7s19.7-5 33.9-6.4s42.3-1.5 50.8-1.8M169.2 221.9c2.3-2 7.2-7.8 13.9-11.9s16.3-9.6 26-12.7s18.4-4.5 32.1-5.7s41.7-1.4 50-1.7M158.6 224.8c.1-.2-3 2.4 .5-.8s12.1-12.8 20.1-18.2s17.8-10.9 28-14.3s20-5.2 33.7-6.6s40.3-1.3 48.4-1.6M147.3 243.9c2-3.2 6.9-13.3 12.3-19.4s12-12.4 19.9-17.7s17.4-10.8 27.6-14.3s19.8-5.3 33.7-6.7s41.4-1.7 49.6-2" stroke="#4a9c78" stroke-width="0.9"/>
<path d="M155 157.2c.5 1.2 .5 2.2 3 7.2s7.9 15.1 12.2 22.5s9.9 16.5 13 21.7s4.9 7.9 5.9 9.5M146.2 144.8c1.8 3.3 6.4 12.6 10.5 19.7s9.4 15.4 13.6 22.7s9.2 16.8 11.8 21.5s3.4 5.5 4 6.6M158.7 153.1c.5 1.6 .7 4 3.1 9.6s7.7 16.1 11.1 23.6s6.7 15.9 9.2 21.1s5.1 8.5 6.1 10.2M156.6 157.8c.6 1 .9 1.2 3.2 6s6.9 15.3 10.5 22.6s7.8 15.7 11 21.5s6.8 11.3 8.1 13.6M133.3 150.6c1.7 2.8 5.6 10.4 10.4 16.7s12.3 14.7 18.1 21.5s13.6 16.1 16.5 19.5s.8 1 1 1.2" stroke="#ff8ccf" stroke-width="0.7"/>
<path d="M157.4 148.1c1.1 2.3 3.8 7.5 6.6 13.8s6.9 16.3 10.2 23.8s7.8 16.2 10 20.9s2.7 6.1 3.2 7.3M162.9 163.6c1.7 3.8 6.8 15.2 10.4 22.5s8.2 16 10.8 21.4s4.1 9.5 4.9 11.5M146.7 146.5c1.4 2.9 4.7 10.3 8.1 17.1s8.4 16.6 12.5 24s8.9 15.2 12 20.3s5.2 8.5 6.3 10.2M160 164.8c1.8 3.6 7.2 14.4 10.7 21.3s7.2 14.9 10.3 20.1s6.7 9.3 8 11.1M158.6 164c2.1 4 8.3 17.2 12.2 24.2s9.3 15 11.1 18M136.3 157.1c1.3 2 3.6 5.8 7.8 11.6s12.2 16.5 17.8 23.3s12 13.2 15.6 17.2s4.9 5.6 5.9 6.7" stroke="#f283c6" stroke-width="0.7"/>
<path d="M159.4 152.6c.5 1.8 .8 4.6 3.1 10.3s6.7 16.4 10.7 23.9s10.5 16.1 13.3 21.2s3.2 7.7 3.8 9.2M149.9 158.4c.5 1 .3 1.3 3.2 6.4s9.8 17.4 14 24s9.1 13.2 11 15.9M148.5 143.6c1.6 3.2 6.3 11.9 9.8 19.3s7.3 18.3 10.9 25.3s8.8 13.8 10.6 16.6M156.2 145.6c1.1 2.8 3.6 9.9 6.5 17s7.3 18.3 11 25.6s8.5 13.3 11.3 18.1s4.3 8.7 5.2 10.5M152.5 154.3c.6 1.7 1 4.3 4 10.1s10 17.8 14.2 24.9s8.7 14.6 10.7 18s1.3 2.1 1.6 2.6M147.3 165.4c.1 .2-2.1-3 .7 1.1s11.3 16.1 16.3 23.4s10.7 15.4 14.2 20s5.4 6 6.5 7.2M150.3 160.5c.3 .7-.8-.2 2 4.3s9.9 15.6 14.6 22.8s10 15.4 14 20.5s8 8.8 9.6 10.5M143 158.2c.9 1.4 1.7 3.5 5.1 8.7s11 15.8 15.6 22.1s10.4 13 12.5 15.6M154.2 146.9c1 2.5 3.1 8.5 6 14.9s7.4 16.3 11.2 23.7s8.5 15.2 11.7 20.6s6.4 9.6 7.7 11.5" stroke="#ff9fd8" stroke-width="0.7"/>
<path d="M144.6 141.4c1.6 3.8 5.9 15.2 10 22.9s10.5 16.6 14.7 23.3s8.8 14.3 10.6 17.1M160.7 160.1c.2 .6-.5-1 1.5 3.7s6.7 17 10.2 24.3s7.9 14.2 10.8 19.3s5.9 9.5 7 11.4M163.7 167.1c1.5 3.3 5.6 13.1 9 19.7s9.1 16.5 11.3 20.3s1.3 2.2 1.6 2.7" stroke="#ffb0df" stroke-width="0.7"/>
<path d="M158.3 136.1c1.2 4.4 4.5 17.9 7.5 26s7.4 15.7 10.6 23.2s6.4 16.1 8.9 21.9s4.8 10.7 5.8 12.8M159.6 155.8c.4 1 .1 .8 2.3 5.8s7.9 16.7 11.3 24.2s6.2 15.3 9.3 21.1s7.6 11.1 9.1 13.3M167 160.2c.1 .1-1.2-3.5 .3 .8s6.2 18.3 8.8 25.3s5.8 13.9 7 16.7M161.4 143.5c.6 2.6 1.6 8.7 3.9 15.6s6.5 18.2 9.8 25.9s7.5 15.3 9.8 20.4s3.6 8.2 4.3 9.9M158.4 162.7c.1 .2-1.6-2.9 .6 1.3s8.9 16.8 13.1 24s9.1 14.5 12.1 19.3s4.8 8.3 5.7 9.9" stroke="#f79ad3" stroke-width="0.7"/>
<path d="M222.9 152.8c.2 3.1 .4 11.8 1 18.8s1.9 18.9 2.4 23.6s.4 3.6 .5 4.4M219.1 153.3c.1 3 .4 11.4 .8 18.2s1.3 18.9 1.6 22.8s.1 .7 .1 .8" stroke="#f79ad3" stroke-width="0.6"/>
<path d="M216.1 163.7c.1 1.8 .4 5.5 .7 11s1.1 17.8 1.4 21.8s.3 2.2 .4 2.6M228.3 164.9c0 .8 0 1.5 .2 4.8s1 12.3 1.2 14.8" stroke="#f283c6" stroke-width="0.6"/>
<path d="M214 183.6c.2 1.4 .8 6.9 1 8.3M224.7 176.6c.2 3.1 .9 15.1 1.2 18.6s.4 2.1 .5 2.5M219.7 146.9c.1 4.4 .3 18.2 .8 26.2s1.6 16.9 2.2 21.9s1.2 6.5 1.5 7.8M225.1 141.2c.3 4.9 .8 20.4 1.3 29.4s1.3 19.1 1.8 24.2s1.1 5.3 1.4 6.3" stroke="#ff8ccf" stroke-width="0.6"/>
<path d="M213.2 164.6c.1 1.7 .5 6 .7 10s.7 12 .8 14.4M215.8 176.1c.4 3.2 1.5 14.1 2.3 19s2 8.4 2.4 10.1" stroke="#ff9fd8" stroke-width="0.6"/>
<path d="M223.5 173.5c.2 2.9 1.1 14.4 1.3 17.3M216.9 164.8c.1 1.2 0 2.1 .4 7s1.5 17.5 2.1 22.5s1.2 6.3 1.4 7.5" stroke="#ffb0df" stroke-width="0.6"/>
<path d="M181.5 252.7c-2.2 .6-8.4 2.3-13.2 3.8s-10 3.3-15.6 5.3s-13.3 5.2-17.4 6.8s-6.2 2.4-7.4 2.9M179.5 250.2c-2.2-.4-8.7-2.1-13.5-2.4s-10.3-.4-15.6 .4s-10.3 2.2-16.1 4s-15.5 5.6-18.6 6.7M180.1 254.4c-2 .4-7.7 .8-12.4 2.2s-10.4 4-15.7 6.2s-12.4 5.3-16.1 6.8s-5.5 2-6.6 2.4M180.4 254.5c-2.1 .4-7.9 .9-12.4 2.3s-10.1 4.3-14.8 6.2s-10.8 4.1-13 4.9M177.8 252.8c-2 .4-7.2 1.3-11.6 2.5s-9.8 3.1-15 5s-10.5 4.1-16.1 6s-14.2 4.8-17.1 5.7M178.8 254c-1.9 .7-7.2 1.9-11.6 3.7s-9.8 5-15.1 7.3s-13.5 5.5-16.8 6.9s-2.3 .9-2.8 1M180.2 251.1c-2.4-.7-9.8-3.4-14.8-4.2s-9.5-1.1-14.8-.4s-12.2 2.9-16.9 4.2s-9.5 2.9-11.4 3.4M179.5 251.7c-2.1-.3-8.3-1.7-12.9-2s-9.5-.7-14.9 .2s-14 4.1-17.6 5.2s-3.1 1.1-3.7 1.4M178.8 252.5c-2.2-.3-8.1-1.7-12.7-1.8s-10.1 .5-15.3 1.5s-12.8 3.4-16.2 4.4s-3.7 1.4-4.4 1.7M179.2 250.7c-2 0-7.8-.5-12.4-.3s-10.6 .8-15 1.6s-9.5 2.6-11.4 3.1M180 249.8c-2.5-.6-9.6-3.5-14.6-3.8s-9.7 .7-15.2 1.4s-12.7 1.7-17.6 2.9s-9.8 3.9-11.8 4.6M178.9 251.2c-2.2 .3-8.5 .8-13.3 1.6s-10.1 1.8-15.3 3.4s-13.1 5.1-16.1 6.2s-1.6 .5-1.9 .5M178.5 253.5c-2 .2-7.4 .4-12 1.6s-9.6 3.9-15.1 5.9s-13.5 4.7-17.7 6.4s-6 2.8-7.2 3.3M177.4 250.2c-2.2-.2-8.5-1-13.3-1.1s-10.5-.3-15.7 .5s-11.7 2.9-15.4 3.9s-5.3 1.6-6.4 1.9M180.6 251.7c-2.3-.4-9.3-2.1-14.1-2.6s-10.7-.3-14.5 .1s-7 1.9-8.5 2.3M179.1 254c-2 .7-7.8 2.3-12.2 4.1s-9.2 4.5-14.2 6.8s-12.5 5.6-15.6 7s-2.8 .9-3.3 1.1" stroke="#f79ad3" stroke-width="0.9"/>
<path d="M179.4 253.3c-2.2 .2-8.8 0-13.5 .8s-9.9 2.7-15.1 4.3s-10.8 3.9-16.1 5.8s-13 4.5-15.6 5.4M179.8 254.2c-1.9 .6-7.1 1.7-11.7 3.6s-10.1 5.1-15.5 7.5s-12.6 5.5-16.8 7.2s-6.6 2.5-7.9 3M180.5 251.8c-2.7 .2-10.8 .1-15.9 1s-9.7 2.4-14.8 4.2s-11.6 5.1-15.6 6.8s-7.2 3.1-8.7 3.7M180.4 252.8c-2.2 .2-8.2 .4-13 1.5s-10.6 3.3-16 4.9s-11.4 3.5-16.6 5.2s-12.1 4.1-14.5 5M177.2 252.3c-2 .5-7.6 1.3-11.8 2.8s-8.8 4.5-13.9 6.7s-12.7 5.2-16.3 6.6s-4.2 1.4-5.1 1.7M180.8 252.2c-2.4 .2-9.4 .2-14.3 1.3s-11.7 3.8-15.4 5.1s-5.9 2-7 2.4M181.9 254c-2.4 .5-9.7 1.7-14.5 3.1s-9.3 3.1-14.4 5s-12.6 5.2-16.5 6.7s-5.8 1.9-7 2.3M179.9 251.3c-2.1 .1-7.8-.3-12.7 .5s-10.8 2.4-16.3 3.8s-13.8 4.1-16.8 5s-.6 .3-.7 .3M179 253.5c-2.2 .4-8.4 1-13 2.2s-9.7 3.3-14.8 5.3s-12.8 5.3-15.8 6.5s-1.9 .6-2.2 .8M178.7 250.5c-2.2-.3-8.4-1.8-13-1.8s-9.4 .6-14.6 1.5s-12.1 2.5-16.7 3.7s-9.4 3.2-11.3 3.9M177.4 253.3c-1.9-.1-7.1-.8-11.7-.6s-11.6 1-16 1.9s-8.8 3.1-10.6 3.8M180.6 251c-2.4 .1-9.5 .3-14.4 .9s-10.7 1.7-15.1 2.9s-9.2 3.5-11.1 4.2M178.4 255.1c-1.9 .1-6.9-.1-11.1 .8s-9.5 2.7-14.6 4.6s-12.8 5.7-16.3 7.1s-4 1.1-4.8 1.4M177 253.5c-2 0-7.5-.9-11.7-.5s-8.9 2-13.8 3.2s-11.4 2.7-16.1 4s-10 3.3-12 4M178.2 250.2c-2.2-.5-8.3-2.5-13.2-2.9s-12.4 .4-16.4 .8s-6.3 1.4-7.6 1.7M179.6 250.5c-2.3-.3-9.1-1.7-14-2s-9.8-.4-15.1 .4s-12.2 3.2-16.7 4.6s-8.3 3.5-10 4.3" stroke="#f283c6" stroke-width="0.9"/>
<path d="M180.7 252.5c-2.2 .6-8.9 2.1-13.5 3.6s-9.2 3.4-14.4 5.5s-12.1 5.3-16.9 7.3s-9.6 3.8-11.6 4.5M178.2 249.6c-2.3-.5-8.8-2.7-13.6-3.2s-10-.8-15.4-.1s-11.8 2.7-16.9 4.2s-11.4 4.1-13.7 4.9M180.1 252.7c-2.4-.6-9.7-3.1-14.7-3.6s-10.2 0-15.5 .8s-13.4 3.3-16.4 4.1s-1.3 .4-1.5 .5M179 252.7c-2 .3-7.4 .7-11.9 1.8s-9.3 2.8-14.6 4.5s-12.3 4.1-17.5 6s-11.3 4.5-13.6 5.4M180.4 253.5c-2.2 1-8.5 3.4-13.1 5.6s-10 5.4-14.3 7.4s-9.7 4.1-11.6 4.9M179.9 252.2c-2.1-.4-7.9-2.1-12.8-2.3s-10.8 .4-16.3 1.4s-12.2 3.7-16.4 5s-7.2 2.3-8.7 2.7M178.5 253.6c-2.1 .9-7.8 3.1-12.2 5.3s-9.9 5.8-13.9 7.8s-8.2 3.7-9.9 4.4M180.9 254.7c-2.1 .8-8.1 2.8-12.6 4.8s-11 5-14.9 6.8s-7 3.3-8.4 3.9M179.3 251.4c-2.3-.2-8.9-1.3-13.8-1.1s-10.5 .9-15.8 1.9s-12.8 3.5-16.1 4.5s-3 1-3.6 1.2M177.2 249.2c-2-.4-7.6-1.7-12.1-2.1s-9.7-1.2-14.8-.7s-10.8 1.9-15.6 3.4s-10.9 4.4-13.1 5.3M179.5 252.8c-2.1 .5-8.1 1.9-12.8 3.4s-9.9 3.6-15 5.4s-13 4.6-15.6 5.6M179.8 253.4c-2.2 .5-8.7 1.7-13.4 3.1s-10.4 3.6-15.1 5.3s-10.8 4.1-13 4.9M180.3 251.3c-2.3-.1-9.3-.6-14.1-.5s-9.5-.1-14.6 1s-12.6 4.5-15.8 5.6s-2.9 .8-3.5 1M179.4 252.5c-2.3 .8-9 3.2-13.7 4.6s-9.9 2.2-14.8 4s-12.3 6-14.7 7.1" stroke="#ff8ccf" stroke-width="0.9"/>
<path d="M177.8 250.7c-2.1-.4-8.1-1.8-12.7-2.3s-10.3-1.2-15.4-.6s-10.4 2.5-15.2 3.9s-11.5 4-13.8 4.8M177.5 252.1c-2-.4-7.6-2-12.1-2.5s-9.5-.9-14.8-.1s-13.3 3.6-17.2 4.7s-4.8 1.9-5.7 2.3M179.9 253.4c-2.2 .7-8.4 2.4-13.1 4.2s-9.7 4.6-14.7 6.6s-13 4.4-15.6 5.3M181.4 252.2c-2.4 .3-9.6 .6-14.7 1.5s-10.1 2.2-15.5 4s-12.9 5.2-16.9 6.7s-5.6 1.9-6.7 2.3M178.7 251c-2.1-.1-8-.5-12.7-.8s-10-1.2-15.3-.7s-13.1 3.1-16.7 4.1s-4.1 1.6-4.9 1.9M178.1 250.7c-2.1-.4-8-2.4-12.7-2.9s-10.1-.8-15.4 0s-12.8 3.7-16.2 4.8s-3.5 1.3-4.2 1.5M179.3 254.5c-2 1-7.4 3.9-11.9 5.8s-9.8 3.5-15 5.7s-12.9 6.3-16.1 7.8s-2.4 .8-2.9 1M180.5 253.9c-2.3 .8-9.1 2.6-13.9 4.4s-9.9 4.7-14.8 6.7s-12 4.4-14.4 5.3M181.5 252c-2.2 .1-8.4-.1-13.3 .7s-11.9 2.9-16.1 4.1s-7.5 2.8-9.1 3.4M180.8 251.9c-2.4-.2-9.4-1.3-14.4-1s-11.3 2-15.9 3.2s-9.7 3.4-11.6 4M180.6 250.3c-2.4-.3-9.3-1.8-14.3-1.9s-11.1 .9-15.7 1.6s-9.8 1.8-11.7 2.2M181 252.8c-2.4 .5-9.3 1.6-14.1 3.2s-9.7 4.2-14.5 6.2s-12.1 5.2-14.6 6.2M179.5 250.7c-2.3-.6-8.6-3-13.6-3.6s-11-.5-16-.1s-11.5 2-13.8 2.4M178 251.2c-2.1-.5-7.8-2.5-12.4-3.1s-10.8-.6-15.6-.2s-10.8 2.1-12.9 2.5M180 252.2c-2.1-.1-7.8-.9-12.6-.7s-11.5 1.1-16.3 2.1s-10.4 3-12.5 3.6M177.9 255.2c-1.9 .6-6.9 2.2-11.3 3.4s-10.3 2-15 3.6s-11.1 5.1-13.4 6.1M181.7 251c-2.3 0-8.6-.4-13.7-.1s-11.1 .8-16.6 1.8s-10.9 2.9-16.1 4.5s-12.6 4.2-15.1 5M179.4 253.9c-2 .5-7.3 1.9-11.9 3.3s-10.4 3.1-15.9 5.1s-12.3 5.1-16.7 6.9s-8 3.3-9.6 3.9" stroke="#ffb0df" stroke-width="0.9"/>
<path d="M177.3 253.1c-2 .3-7.7 .5-12.1 1.5s-9.2 2.6-14.2 4.4s-11.8 4.7-15.9 6.2s-7.2 2.6-8.7 3.2M177.6 251.4c-2.1 .1-8.2 .3-12.5 .8s-8.8 1-13.8 2.4s-13.1 4.9-16.4 6.2s-2.8 1.2-3.4 1.4M182 252.3c-2.5 .3-10 .5-14.9 1.5s-9.4 2.6-14.7 4.4s-11.4 4.7-16.7 6.6s-12.2 4-14.7 4.8M178.2 254c-1.9 .5-6.9 1.6-11.5 3s-10.4 3.8-15.8 5.7s-11.7 4.1-16.6 5.7s-10.5 3.2-12.6 3.8M180.5 252c-2.4-.3-9.2-2.2-14-2s-9.6 2.3-14.7 3.5s-12.4 3.1-16.2 4.2s-5.9 1.9-7.1 2.3M179.9 254.7c-2.1 .8-7.9 2.8-12.6 4.7s-10.4 4.5-15.7 6.8s-12.3 5.1-16.1 6.7s-5.4 2.3-6.5 2.7M181.2 252.4c-2.3-.3-8.9-1.7-13.8-1.6s-10.2 1-15.6 1.9s-13.9 3.1-17.2 3.9s-2.3 .9-2.8 1.1M181.3 253.5c-2.2 .8-8.7 2.5-13.5 4.5s-10 5.2-15.3 7.5s-10.7 4.2-16.3 6.4s-14.6 5.4-17.5 6.4M179 253.6c-2.2 .3-8 1-12.8 1.7s-10.4 1.2-15.6 2.6s-12.4 4.4-15.5 5.5s-2.8 .9-3.3 1M181.1 254.4c-2.3 .4-9.3 1.3-14.2 2.3s-9.9 2-15.1 3.6s-12.1 4.3-15.9 5.8s-6 2.4-7.2 2.9M180.3 253c-2.3 .3-9 .5-13.7 1.7s-9.1 3.8-14.4 5.6s-13.3 4.3-17.2 5.5s-4.8 1.4-5.8 1.7" stroke="#ff9fd8" stroke-width="0.9"/>
<path d="M255.2 210c-1.2-4.1-6.9-15.7-7.6-24.8s2.3-20.3 3.6-30s3.8-23.6 4.5-28.3M247.9 194.3c-.5-1.7-3.2-3.7-3.2-10.4s2.2-21.6 3.3-29.7s2.7-15.8 3.3-18.9M253.6 215.8c-1.6-4.8-8.2-19.1-9.3-29s2-23.9 2.8-30.5s1.6-7.6 2-9.2" stroke="#eeeb90" stroke-width="0.8"/>
<path d="M253 203.4c-1-3.3-5.4-11.3-5.9-19.4s1.8-21 2.8-28.8s2.5-14.7 3-17.7M254.8 202c-.9-3.1-5.2-10.5-5.7-18.4s2.1-22.9 2.8-29s1-6.5 1.2-7.7M253.6 212.2c-1.4-4.6-7.5-18-8.3-27.6s2.4-22.1 3.5-30.3s2.6-15.7 3.1-18.9" stroke="#fffbaa" stroke-width="0.8"/>
<path d="M251.4 198.6c-.7-2.2-3.8-6-3.9-13.3s2.6-22 3.6-30.5s2.4-17.3 2.9-20.8M249 202.5c-.9-2.9-4.7-9.2-5-17.3s2.1-23.4 3.1-31.1s2.7-12.4 3.2-14.8M249.6 194.5c-.4-1.6-2.7-2.7-2.8-9.4s1.7-24.3 2.2-30.8s1.1-6.6 1.3-7.9" stroke="#f5f3a0" stroke-width="0.8"/>
<path d="M203.2 156.4c.6 2.3 2.2 7.2 4 13.6s5 17.9 6.9 24.7s3.9 13.2 4.7 15.9" stroke="#f5f3a0" stroke-width="0.6"/>
<path d="M202.4 152.5c.9 2.9 3.3 10.4 5.3 17.4s4.8 17.6 6.8 24.9s4.5 15.9 5.4 19.1" stroke="#eeeb90" stroke-width="0.6"/>
<path d="M333.1 191.3c1.9-1.9 7.7-7.4 11.6-11.5s9-10.4 11.4-13.1s2.5-2.9 3-3.5M327.8 189.9c2.1-2.3 8.5-9.3 12.7-13.7s10-9.7 12.8-12.5s3.6-3.8 4.3-4.6M331.1 191.1c2.1-2.2 8.9-9 12.9-13.3s8.6-9.9 11-12.6s2.7-3 3.2-3.6M323.1 191c2.5-2.7 10.7-11.2 15.4-16.1s9.7-9.9 13.1-13.3s6.1-5.8 7.3-7M333.3 183.7c1.3-1.4 4.5-4.5 7.8-8s9.6-10.4 12-13s2.3-2.3 2.7-2.8M331.9 190.2c1.8-2 7.2-7.8 10.9-12.1s8.7-10.6 11.3-13.6s3.2-3.4 3.8-4.1M338.2 189.2c1.3-1.5 4.7-5.2 7.8-8.8s7.9-10.2 10.6-13.3s4.5-4.4 5.4-5.3" stroke="#55a883" stroke-width="0.8"/>
<path d="M335.9 183.1c1.1-1.2 3.3-3.7 6.2-6.9s8.2-8.8 11.4-12.3s6.4-7.4 7.7-8.8M336.4 179.5c.8-.7 1.9-1.7 4.7-4.7s9.6-10.3 12.2-13s2.4-2.6 2.9-3.1M342.4 186.9c.8-.8 1.9-1.8 4.5-4.9s7.4-9.8 10.8-13.6s7.5-7.6 9.1-9.2M335.1 180.6c.9-.9 2.1-2.2 5-5.3s10.2-10.4 12.8-13.1s2.5-2.6 3-3.1" stroke="#66b491" stroke-width="0.8"/>
<path d="M329.6 199c2.4-3 10.1-12.4 14.5-17.6s8.7-9.9 11.8-13.4s5.8-6.4 7-7.6M327.5 194.3c2.5-2.7 10.7-11.5 15.1-16.3s8.1-9 11.4-12.5s6.8-7.2 8.1-8.7" stroke="#4a9c78" stroke-width="0.8"/>
<path d="M333.6 191.7c1.7-1.9 6.8-7.4 10.4-11.4s8.1-9.2 10.9-12.3s4.9-5.2 5.9-6.3" stroke="#3f946d" stroke-width="0.8"/></g>
<path d="M291 140C293.2 134.8 297.2 132.3 300 134C302.8 135.7 307 142.3 308 150C309 157.7 307.3 171 306 180C304.7 189 303.7 199.3 300 204C296.3 208.7 287 210.3 284 208C281 205.7 281.5 197.2 282 190C282.5 182.8 285.5 173.3 287 165C288.5 156.7 288.8 145.2 291 140Z" fill="#e193c8" fill-opacity="0.7"/>
<g fill="none" stroke-linecap="round"><path d="M263.8 258.7c.8-4.1 3.4-15.8 4.6-24.6s1.6-18.2 2.6-28.7s2.5-25.8 3.6-34.3s2.5-13.9 2.9-16.7M253.5 258.4c-1.4-3.3-7.1-11.1-8.5-19.5s-.8-20.1 .1-30.9s3-25.3 5.4-34.3s7.5-16 9.1-19.2M252.4 261.9c-.5-4.5-2.4-17.8-3.3-27s-2.6-17.4-1.5-27.9s5.1-23.3 8.1-34.7s7.8-26.4 9.7-33.7s1.6-8.4 1.9-10.1M261.3 258.6c.1-4 .3-14.9 1-24.2s1.8-21.2 3.3-31.9s4.1-21.7 6.1-32.5s4.7-21.7 5.7-32.4s.2-26.4 .3-31.7M262.3 257.6c.3-3.8 1.3-13.9 1.8-22.8s.3-20 1.3-30.8s2.6-22.2 4.6-33.7s6.3-28.8 7.6-35s.1-1.9 .1-2.3M266.7 259.1c.7-3.9 2.6-14.6 4.2-23.7s3.9-20.1 5.5-31.2s2.7-25.4 4-35.4s3-20.2 3.6-24.2M256.6 262.9c.1-5 .4-20.8 .5-30.4s-.8-16.9 .2-27.3s3.2-23.5 5.9-34.6s7.7-20.2 10.2-32.1s3.8-32.7 4.6-39.3M249.2 256.6c-1.2-4-6.2-15.4-7.3-24s-.5-17.2 .6-27.5s2.9-23.2 6.1-34.1s9.7-22.4 12.7-31.7s4.8-20.5 5.8-24.6M257.3 259.4c-.3-4.3-1.7-16.5-1.8-25.8s0-19.2 1.1-29.7s3.7-22.6 5.5-33.6s3.3-21.7 5.2-32.7s5-27.9 6.1-33.5M256.9 260.9c-.2-3.8-1-14.2-.9-23.1s.3-19 1.4-30.2s3.3-27 5-37.2s4.4-19.9 5.2-23.8" stroke="#d9e6a0" stroke-width="0.8"/>
<path d="M266.4 257.2c.5-3.7 2-13.6 3-22.3s1-19.1 2.6-30s5.7-26.6 6.9-35.5s.6-15.2 .7-18.2M256.4 261.5c.1-4.3 .4-16.6 .8-26s0-19.5 1.1-30.2s2.8-23 5.3-34.4s7.7-25.3 9.6-33.7s1.3-14.1 1.6-16.9M249.9 264.5c-.8-4.7-3.5-18.8-4.7-28.5s-2.9-18.4-2.3-29.1s2.8-24.3 5.8-34.9s9.9-23.9 11.9-28.7M258.2 257.4c-.3-3.6-1.1-13.2-1.3-21.8s-.7-18.5 .1-29.3s2.9-25.7 4.8-35.3s5.5-18.8 6.7-22.6M249.8 256.3c-.7-4-2.9-15.4-3.8-24.2s-2.5-18.7-1.6-28.7s3.6-20.8 7.3-31.5s12.4-27.2 14.9-32.6M268 257.3c.6-4.2 2.9-15.8 3.9-24.8s.5-18.4 2-28.9s5.9-25.2 7.3-34s1.1-15.7 1.3-18.8M251.1 263.1c-1.2-4.5-5.9-17.4-7.2-26.7s-1.6-18.6-.6-29.3s3-23.6 6.3-34.6s10.5-21.1 13.7-31.4s4.5-25.2 5.4-30.2M252.6 258c-1-3.6-5.3-12.6-6.2-21.6s-.1-21.8 .8-32.7s2.2-24.6 4.1-32.8s6.3-13.8 7.6-16.5M261.6 261c.6-4.2 2.4-15.8 3.8-25.4s2.9-20.9 4.3-32.2s2.3-23.9 3.8-35.4s4.3-24 5.2-33.3s.6-18.9 .7-22.7M265.5 258.8c.3-4 1.3-15 2-23.7s1-18 2.4-29s3.9-25.4 5.5-37s3.3-24.1 4.1-32.6s.5-15.3 .5-18.3M250.9 256.5c-.7-3.4-3.5-11.9-4.4-20.5s-1.5-20.2-.8-31.1s1.9-23 4.8-33.8s9.4-20.5 12.7-30.8s6.3-26.1 7.5-31.3M265.8 259c1.2-3.8 5.1-13.5 7-22.8s2.3-21.8 4.3-33s6.7-23 7.8-34.6s-.8-27.5-1-34.9s-.2-7.7-.2-9.3M266.2 256.3c.6-3.8 1.7-14.4 3.3-23.1s4.4-18.2 6.1-28.7s2.6-24.3 3.6-34.8s2.2-23.2 2.6-27.8M256 260.7c-.7-4.4-3.8-17-4.2-26.5s.3-20.1 1.7-30.3s3.9-20.2 6.5-31.3s7.8-28.6 9.4-34.8s.2-1.9 .3-2.3" stroke="#2b7aa6" stroke-width="0.8"/>
<path d="M257 258.6c.1-4.1 .4-15.6 .7-24.6s-.4-18.7 1-29.2s5.4-22.3 7.8-33.9s5.3-25.4 6.6-35.7s.9-21.9 1.1-26.3M266.3 263.1c.8-4.2 3.6-15.7 4.7-25.3s1.1-20.9 2.2-32s3.5-23 4.9-34.7s2.8-25 3.5-35.2s.5-21.8 .6-26.1M255.4 259.5c-.4-3.9-2.2-14.1-2.5-23.3s-.2-20.8 1-31.7s3.9-22.5 6.5-33.6s7.3-23.8 9.3-32.8s2.2-17.5 2.7-21M256.1 261.5c-1.2-4.3-5.6-16.8-6.7-26.1s-.9-19.4 .3-29.7s3.8-20.6 6.5-31.8s7.8-28.6 9.6-35.8s1-6.1 1.2-7.3M258 257.5c-.4-4.1-2.2-16.4-2.5-25s0-16.7 1.2-26.3s3.2-20.2 5.9-31.5s8.1-25.6 10.3-36.2s2.3-22.6 2.7-27.1M254.1 263.2c-.6-4.3-2.7-16.2-3.5-25.8s-2.8-21.1-1.8-32.3s4.7-23.9 7.9-35s9.4-25.1 11.4-31.5s.6-5.7 .7-6.9M250.7 257.8c-1-3.9-5.2-14.7-6.2-23.6s-1-19.8 .1-29.8s3.5-19.6 6.6-30.3s9.1-23 11.9-33.7s4.1-25.2 4.9-30.2M258.8 261.3c-.5-4-2.6-14.8-2.9-24.1s-.4-20.9 .7-32s3.7-23.3 5.9-34.4s5.7-22.6 7.5-32.4s2.8-22 3.3-26.4M263.6 255.9c-.4-3.6-2-13.2-2-21.7s.1-19.1 1.6-29.4s5.4-21.5 7.6-32.6s4.5-25 5.7-34.2s.9-17.3 1.1-20.8M264.3 259.3c.6-4.2 2-16.7 3.6-25.6s4.3-18 6.3-28.3s4-22.6 5.7-33.6s3.3-22.9 4-32.5s-.2-21.2-.2-25.4M263.2 258.5c0-3.7 .3-13.8 .2-22.3s-1.8-18.2-1.1-28.8s3.6-25.4 5.1-35s3.4-18.9 4.1-22.7M250.8 257.7c-.8-3.7-3.5-13.4-5-22s-4.3-19.2-3.9-29.7s3-23.1 6.6-33.9s12-25.5 14.5-30.6M263.6 264.3c.7-4.7 3.2-18.4 4.3-28.1s1.2-19.2 2.4-30.3s3.5-25.6 4.8-36s2.1-22.1 2.5-26.5M268 264.4c.1-4.7 .2-18.7 .6-28.4s0-18.9 1.9-29.9s7.1-24.2 9-35.7s2.2-24.5 2.8-33.3s.5-16.3 .6-19.6M260.2 258.6c.1-4.1 .3-15 .2-24.1s-2-20.2-.5-30.7s7.4-23.9 9.4-32.2s2.5-14.7 3-17.6M256.9 259.5c0-4.6-.9-18.1-.3-27.3s1.8-17.6 3.7-27.7s5.8-23.6 7.7-32.8s2.9-18.7 3.5-22.5M253.4 265.4c-1-5.1-4.5-20.5-5.8-30.5s-2.8-19.5-2-29.9s3.5-21.4 6.8-32.8s10.5-27.9 12.9-36s1.1-10.8 1.3-12.9M257.6 260.2c-.5-3.9-2.8-13.9-3.1-23.3s.3-22.2 1.5-33s3.9-21.4 6-31.7s5.3-25.6 6.4-30.7M259.7 259.1c-.3-4.3-1.9-16.4-1.7-25.7s1-19.7 2.6-30.2s5.2-23.6 6.8-32.7s2.3-18.4 2.8-22M266.3 257c.4-3.3 1.5-11.1 2.4-19.9s1.4-21.8 2.7-33.1s3.7-22.9 5.1-34.5s2.5-24.1 3.2-35.2s1-25.9 1.2-31.1M262.9 257c0-3.7-.6-13.6 .2-22.1s3-18.4 4.4-29.4s2.4-25.6 3.9-36.6s4.2-24.4 5-29.3M263.4 256.7c.1-3.6 .3-13.1 .8-21.6s.5-18.9 1.8-29.6s4.4-24.7 5.7-34.9s1.9-21.9 2.3-26.3" stroke="#0d5f8a" stroke-width="0.8"/>
<path d="M263.5 262.9c.6-4.8 2.6-19.1 3.8-28.8s1.7-18.7 3.2-29.2s4.3-21.7 6.1-33.2s3.7-25.7 4.6-35.8s.5-20.8 .6-24.9M258.5 258c-.4-3.3-1.7-11.1-2.5-19.9s-3.1-21.7-2.5-32.5s3.6-21 6.1-32.1s6.6-23.3 8.7-34.7s3.6-27.7 4.3-33.2M260.2 260.7c0-4.1 .3-15.2 .3-24.6s-.8-20.8 .2-31.7s3.8-22.6 6-33.7s5.3-22.4 7-33.1s2.5-26.2 3-31.4M256.7 262.7c-1-4.3-5.1-16.7-6.4-25.7s-2.8-17.5-1.6-28.1s5.5-23.6 8.6-35.2s8.3-27.9 10-34.3s.4-3 .4-3.6M259.4 258c.1-4.5 .5-18.1 .6-27.1s-1.4-17 0-27.1s6.1-25 7.9-33.7s2.7-15 3.3-18M254 261.6c-.9-4.1-4.3-15.4-5.4-24.5s-1.8-19.7-1-30.4s2.6-22.1 5.6-33.4s9.9-27.2 12.1-34.7s1.3-8.2 1.6-9.8M266.2 257.5c.4-3.6 1.5-13.2 2.6-21.9s2-19.3 4-30.3s5.9-24 7.8-35.5s3.1-22.7 3.4-33.2s-1.6-24.9-1.9-29.9M262.9 258.6c.3-3.8 1-13.8 1.5-22.5s.4-19 1.4-29.4s2.6-21.2 4.2-32.8s4.8-29.6 5.8-36.8s.3-5.7 .4-6.8M266.4 261.7c.8-4.1 3.4-15.5 4.6-25.1s1.2-21 2.5-32.2s4.5-23.7 5.8-35.4s1.8-25.2 2.2-34.7s-.1-18.4-.1-22.1M266.4 256c.4-3.5 1-12.2 2.3-20.8s3.3-20.4 5.2-30.9s4.4-23.3 5.6-32.2s.9-17.9 1.1-21.4M265.2 259.5c.5-4.1 1.3-15.1 2.5-24.3s3.3-20.7 4.8-31.1s3.1-20.5 4.4-31.5s2.5-23.4 3.3-34.9s1.3-28.2 1.6-33.9M264.3 262c.8-4.4 3-17 4.6-26.4s2.9-18.5 4.9-29.8s6-27.2 7.2-37.9s.3-21.9 .4-26.3M266.1 258.9c.7-3.9 3.5-14.5 4.1-23.3s-.9-18.3-.1-29.3s3.6-27.2 4.9-36.5s2.6-16.1 3.1-19.3M254.7 262.8c-.9-4.7-4.6-18.8-5.4-28s-.9-16.9 .3-27.4s3.8-25.2 6.3-35.5s7.1-21.8 8.6-26.2M263.7 254.9c.3-3.6 1-13.1 1.7-21.3s.9-17.5 2.3-28.2s4.8-24.5 6.1-36s1.2-21.2 2-33s2.5-31.1 3-37.4M264.2 260.5c.3-4.7 1.1-19.4 2-28.5s1.5-16 3.3-26.6s5.8-25.5 7.5-37.2s2.2-27.8 2.6-33.4M269.6 259.2c.8-3.8 3.5-14.2 5.1-23s2.9-18.9 4.3-29.8s3.2-23.4 4.3-35.6s2.1-26.7 2.1-37.5s-1.4-22.3-1.7-26.8" stroke="#1a6d99" stroke-width="0.8"/>
<path d="M261.3 259c.5-3.7 1.8-12.7 2.9-22.2s2-23.9 3.5-35s3.8-20.6 5.6-32s3.9-28.6 4.8-36.2s.4-7.9 .5-9.5M250.2 261.1c-.9-4.5-4-17.6-5.4-27.3s-3.5-20.4-2.8-30.9s3.9-22 7.4-32.3s11.5-24.9 13.8-29.9M268.2 253.9c.8-3.6 3.2-12.8 4.5-21.6s1.5-20.4 3.2-31.1s5.8-21.7 6.9-32.9s-.8-25-.7-34.6s1.1-19.1 1.3-23M251.3 256.7c-1-3.8-4.7-14-5.9-22.4s-2.7-18.1-1.8-28.6s4.6-24.4 7.3-34.2s7.4-20.1 8.9-24.2M268.6 260.9c.6-4.1 2.3-15.3 3.3-24.7s.5-21.1 2.3-32s6.8-21.8 8.6-33.4s1.9-28.1 2.3-36.3s.2-10.6 .2-12.7M249.6 259.3c-1.1-4.3-5-16.5-6.5-25.7s-2.8-18.8-2.3-29.5s3.2-25.7 5.4-34.3s6.8-14.2 8.2-17.1M263.8 259.6c.1-3.7-.3-13.4 .5-22.5s3.2-20.7 4.7-31.9s3-24.2 4.6-35.2s4-24.4 4.8-31.2s0-8 0-9.6M263.3 262.4c.8-4.5 3.5-17.2 4.8-26.9s1.3-20.5 3-30.9s5.7-20 7.3-31.4s1.6-30 1.9-37.5s-.2-6.6-.2-7.9" stroke="#7fb2cc" stroke-width="0.8"/>
<path d="M269.1 259.7c.7-4.4 2.6-17.7 4.1-26.5s3.6-15.9 5-26s2.5-23 3.5-34.7s2-24.5 2.3-35.9s-.4-26.6-.5-32M264.9 260.7c.1-3.9-.4-14.4 .3-23.4s1.9-19.9 3.6-30.4s5.2-21.8 7.1-33.2s3.6-26.7 4.3-35.1s.1-12.7 .1-15.2M254 261.6c-1.2-4.5-6-17.5-7.3-26.9s-1.5-19.4-.3-30.1s4.8-23 7.6-33.8s7-21.8 9.3-30.5s4-18.2 4.8-21.8M268.3 262.1c1-4.1 4-15.2 5.8-24.2s2.7-19.1 4.6-30.2s5.2-25.8 6.2-36.3s-.1-22-.1-26.4M263.3 259c.4-4 1.6-14.8 2.6-23.7s1.8-19.2 3.5-29.9s5.1-25.2 6.5-34.2s1.6-16.6 1.9-19.9M252.9 256.4c-.6-3.6-3-12.9-4.1-21.5s-2.6-19.4-2.2-29.8s1.2-21.8 4.2-32.6s10.4-20.2 13.4-32.3s4-33.9 4.8-40.6M259.2 262.9c-.6-4.6-3.2-18.5-3.3-27.3s.7-15.2 2.3-25.7s4.5-26 7.3-37.6s7.4-23.3 9-32.3s.7-18.1 .8-21.7M263.4 258.4c.3-3.5 .8-12.4 1.9-20.9s3.4-19.3 4.9-30.4s2.6-24.6 4.1-35.8s4.2-26 5-31.2M255.3 256.7c-.7-3.6-2.5-12.5-4.1-21.1s-5.7-19.6-5.2-30.3s4.6-23.5 8.1-34.4s10.3-23.3 12.8-30.8s1.6-11.8 1.9-14.2M257.6 259.6c-.8-3.5-4.5-12.1-5.1-21.3s.2-23 1.6-34.2s4.5-21.7 6.7-32.7s5.4-27.1 6.6-32.9s.1-1.5 .2-1.8M255.5 257.3c-.9-3.7-4.2-13.4-5.2-22.3s-1.9-20.5-.9-31.1s3.5-21.4 6.9-32.2s11.3-27 13.6-32.8s.2-1.7 .2-2.1M268.7 258.9c.9-4.3 3.8-16.8 5.2-25.5s2.1-16.3 3.4-26.7s3.7-24.8 4.5-36.1s.4-26.3 .5-31.5M253.4 261.8c-.8-4.5-4.1-17.4-5.3-26.8s-2.9-19.4-1.9-29.8s4.7-21.8 7.8-33s9.2-28.2 11.2-34.4s.5-2.7 .6-3.3M270.1 255.2c.8-3.6 3.6-12.5 4.8-21.3s.8-20.6 2.4-31.9s6-25.6 7.2-36s.2-22.3 .2-26.7" stroke="#0f6490" stroke-width="0.8"/>
<path d="M253.8 258.4c-1.3-3.8-6.7-13.6-7.8-22.6s-.3-20.9 1-31.6s3.8-21.6 6.8-32.5s8.6-22.5 11.5-32.4s4.7-22.3 5.7-26.8M263.1 258c.4-4.1 1.6-16.1 2.3-24.8s.7-17.2 1.9-27.5s3.6-23.5 5.2-33.9s3.8-23.9 4.6-28.6M253.7 259c-.8-4.3-3.8-16.9-4.6-26s-1.5-18.5-.3-28.7s4.7-21.8 7.7-32.6s8.7-26.7 10.5-32.6s.3-2.1 .4-2.5M260.1 259.9c-.5-4-2.7-15.1-3.5-24.4s-1.3-20.4-.8-31.2s2.2-22.7 4.3-33.8s6.4-23.5 8.2-33s2.4-20.3 2.9-24.3M265.9 258.7c.1-3.9 .2-13.8 .5-23.2s-.2-22.2 1.2-33.4s5.3-22.8 7.1-33.6s3.1-23.1 3.9-31.1s1-14 1.2-16.9M255.6 255c-.5-3.8-2.7-14-3-22.6s-.3-18.3 1-28.8s4.2-22.6 6.8-33.7s7.1-25 8.8-32.3s1.3-9.7 1.6-11.7M251.5 257.7c-.7-3.8-3.3-14.4-4-23.1s-.9-18.5 .2-29.1s3.8-23.5 6.7-34.3s7.8-21.1 10.5-30.4s4.9-21.1 5.9-25.4" stroke="#3d86ad" stroke-width="0.8"/>
<path d="M257.5 261.7c-.2-4.4-1.5-16.5-1.2-26.3s1.6-21.8 3.1-32.8s3.8-22.5 6-33s5.6-24.3 6.8-30.3s.4-4.8 .5-5.8M266 257.6c.7-4.2 3.2-16.5 4.4-25.5s1.6-17.8 2.9-28.3s3.8-23.5 5.1-34.7s2.2-24.6 2.7-32.4s.1-12.1 .1-14.6M259.5 261.7c-.2-4.1-1.3-14.8-1.1-24.4s1.3-21.9 2.8-33s3.5-22 5.9-33.1s6.4-21.6 8.2-33.4s2.3-31.5 2.7-37.8M253.5 258.6c-.5-3.9-2.8-14.3-2.7-23.1s1.9-19.8 3.3-30.1s2.3-20.8 4.9-31.9s8.9-24.7 11.2-35s2.6-22.2 3.1-26.7M251.7 261.9c-1.1-4.2-5.1-16-6.8-25.6s-4.1-20.8-3.1-31.7s5.1-23 8.7-33.6s11-25 13.2-30.4s.2-1.3 .3-1.6M256.9 259c-.6-4.1-3.1-15.5-3.8-24.4s-1.5-18.1-.7-28.6s2.9-22.9 5.6-34.2s8.5-26.5 10.6-34.1s1.5-9.5 1.9-11.4M264.8 258.6c.6-4.1 2.9-15.8 3.8-24.6s.6-18.1 1.8-28.6s3.6-23.1 5.4-34.7s4.4-25.9 5.2-34.5s.1-14.3 .1-17.1M260.3 261.1c.1-4.3 .8-16.7 .8-25.7s-1-17.5-.3-28.5s2.9-28 4.5-38.1s4.4-18.8 5.3-22.6M268.6 256.2c.6-3.5 2.5-13.3 3.8-21.1s2-14.8 3.8-25.8s4.9-27.6 6.5-39.9s2.1-26.8 2.5-33.8s-.2-6.9-.2-8.3" stroke="#4a8fb5" stroke-width="0.8"/>
<path d="M261.3 261.7c.3-4.4 1.6-16.7 1.8-26.1s-1.8-19.8-.7-30.5s5.3-22.4 7.3-33.8s4.2-25.9 5.2-34.4s1-14.2 1.2-17M264.5 264.1c.1-5.1 .3-20.6 .8-30.5s.4-18.2 1.8-29s4.9-24.6 6.7-36.2s3.1-27.4 3.7-32.9M259.2 260.5c.5-4.7 2.1-18.8 2.7-28.2s-1-17.8 .7-28.1s7.6-22.8 9.9-34.2s3.1-27 3.8-34.4s.4-8.5 .4-10.2M266.6 256.3c.6-3.5 2.4-12.8 3.6-20.9s1.9-16.9 3.4-27.7s4.4-26.9 5.8-37.2s2.6-20.6 3.1-24.7M264.3 253.3c.4-3.4 1.4-12.3 2.7-20.5s3.3-17.9 4.9-28.5s3.4-23.2 4.9-35s3.2-25.1 4.1-36s.7-24.5 .8-29.4M261.4 259.7c0-4-.4-15.2-.3-24.1s.1-19 1.3-29.6s3.8-22.8 5.8-34.3s5.3-26.4 6.6-34.3s.9-10.8 1.1-13M266.2 257.4c.6-3.7 3-13.8 4-22.3s.3-18 1.7-28.7s4.5-23.1 6.2-35.2s3.5-30.5 4.2-37.4s0-3.7 0-4.4M262.9 262.6c.4-4.7 2-18.5 2.7-28.3s.6-19.6 2-30.3s4.4-22.1 6.2-33.6s3.6-28 4.5-35.7s.8-8.7 1-10.5M267.3 259.6c.8-3.7 3.5-13.2 4.8-22.1s2.2-19.7 3.3-31.1s2.4-26.4 3.7-37.2s3.4-23 4.1-27.6M253.2 259.9c-1.3-4.5-6.3-17.7-8-26.9s-3.3-17.6-2-28s5.7-23.5 9.3-34.3s9.2-19 12.4-30.3s5.4-31.3 6.4-37.5M258.1 259.4c-.3-4.5-1.7-17.7-2.1-27s-1.5-18.9-.5-29s4.3-21 6.8-31.4s7-25.4 8.4-30.5M263.7 261.1c.2-4.2 .4-16 1.1-25.3s1.9-19.6 3.5-30.5s4.5-23.4 5.9-34.8s1.9-23.3 2.4-33.8s.5-24.3 .6-29.2M252.6 263.2c-1.1-4.4-5.8-16.5-6.5-26.2s.5-21.5 2.1-32.2s4.8-22.9 7.2-31.8s6.2-17.8 7.4-21.4M256.1 261c-.7-4.6-3.6-18.1-4.1-27.3s-.3-17.8 1-28.2s3.4-23.2 6.2-34.5s8.4-22.6 10.7-33.5s3-26.7 3.6-32.1" stroke="#0a557d" stroke-width="0.8"/>
<path d="M249.4 256.9c-.8-3.9-4-15-5.1-23.6s-2-17.8-1.4-28s1.3-22.4 4.9-33.5s13.4-25.1 16.5-32.7s1.6-11 1.9-13.2M255.6 262c-.5-4.6-2.4-18-2.8-27.5s-1-18.7 .2-29.2s4.9-24.2 7.2-34s5.7-21 6.9-25.1M270.1 262.5c.5-4.5 1.6-17.7 3-27.1s3.6-18.9 5.3-29.8s3.9-24.5 4.8-35.9s1.1-21.9 1-32.5s-1.3-25.9-1.6-31.1M257.5 257.6c-.7-4-2.8-15.3-4-24s-3.9-17.4-3-28.1s5.4-24.8 8.6-36s8.8-24.9 10.7-31s.4-4.7 .5-5.6M265.8 262.7c.6-5 2.3-19.8 3.4-29.6s1.9-18.5 3.3-28.9s2.9-21.6 4.9-33.3s5.8-25.7 6.8-36.5s-1.1-24-1.3-28.8M258.9 258.6c.2-3.5 .8-12 1.3-20.8s.1-20.2 1.4-31.9s4-26.2 6.2-37.9s5.8-22.3 7.2-32.2s.6-23 .8-27.5M261.1 257.3c.2-3.9 1-15.1 1.1-23.9s-1.9-17.8-.5-28.8s6.6-25.3 8.8-37.1s3.1-22.8 4.3-33.8s2.4-26.4 2.8-31.7M250.7 260.1c-1.1-4.6-5.3-18.6-6.6-27.6s-2.4-16.4-1.4-26.5s4.8-25.6 7.3-34.3s6.5-15.2 7.8-18.2" stroke="#7fb2cc" stroke-width="0.8"/>
<path d="M252.7 256.8c-1-3.7-5.2-14-6.3-22.2s-1.5-16.9-.3-27.3s4.6-23.9 7.6-35.1s8.7-26 10.6-31.8s.5-2.6 .5-3.1M264.1 258.5c.5-4 1.5-14.9 3-24s4.3-19.9 5.5-30.6s.6-21.9 2-33.5s5.2-27.7 6.4-36.1s.3-11.6 .4-13.9M255.1 259.5c-.1-3.8 0-13.8-.3-23s-2.5-21.3-1.5-32.2s5.5-23.7 7.8-32.8s4.9-18.3 5.9-21.9M268 263.7c.2-4.6-.2-18.3 1.1-28s4.5-19.2 6.5-30.1s4.3-23.7 5.6-35.2s1.9-23.5 1.9-34.1s-1.5-25-1.9-30M249.7 258.3c-1.4-4.1-7.1-15.9-8.5-24.9s-.7-18.5 .6-28.8s4.1-22.6 7.2-32.6s9.1-23 11-27.5M265.8 258.2c.4-3.9 1.3-14.7 2.7-23.6s3.7-19.1 5.7-29.8s4.9-25 6-34.3s.3-17.8 .4-21.4M251.8 259.8c-1.2-4-5.6-15-7.1-24.1s-3.2-19.7-1.6-30.5s7.5-22.7 11.1-34.1s8.1-24.1 10.8-34.5s4.6-23.3 5.5-28M257.6 258.9c-.4-4-2.5-15.1-2.5-24s1-19.1 2.1-29.6s2.6-22.2 4.8-33.5s6.2-22.7 8.2-34.5s3.1-29.9 3.7-35.9M269.9 256.5c.8-3.5 3.1-13.3 4.4-21.5s2.2-17 3.9-27.7s5-24.6 6.3-36.4s1.5-28.2 1.8-33.8M265 259c.8-4.1 3-15.6 4.4-24.6s2.9-18.9 4.3-29.4s3.2-22.1 4.5-33.5s2.3-24.3 3.1-35s1.4-24.2 1.6-29.1M263.4 261.9c.3-4.4 1-17.3 1.8-26.7s1-18.9 2.6-29.8s5.4-24.6 7.1-35.9s2.9-26.7 3.4-32M257.9 262.1c-.4-4.6-2-18-2.3-27.5s-.5-19.1 .4-29.6s2.6-22.7 4.8-33s6.7-24.1 8.1-28.9M267.8 261c.4-4.3 1-16.5 1.9-25.8s2.4-19.4 3.7-30s2.9-22.8 4-34s2-23.6 2.5-33.6s.1-22 .1-26.4M257 259.3c-.2-3.7-.4-13.6-1.4-22.6s-5.5-19.9-4.7-30.9s6-24 9.2-35s8.5-26.3 10.2-31.6M252.3 261.5c-.6-4.5-2.9-17.1-3.6-26.6s-1.6-20-.8-30.8s3-23.2 6-34.2s9-19.8 12.3-31.6s6-32.4 7.1-38.9M266.3 260.3c.5-4.3 1.8-16.4 2.9-25.8s1.9-20.4 3.6-30.9s5.2-23.2 6.6-31.8s1.4-16.3 1.6-19.6M259.7 257.9c-.4-3.6-2-12.9-2.2-21.5s.3-19.2 1.1-30.1s1.4-24.1 3.8-35.3s8.4-24 10.2-32.3s.5-14.7 .6-17.7" stroke="#2b7aa6" stroke-width="0.8"/>
<path d="M261.3 263.5c.3-4.8 1.4-18.8 2.2-28.8s1.4-20.1 2.3-30.6s1.2-21.3 3.1-32.6s6.8-24.9 8.2-35s.3-21.1 .3-25.3M261.8 261.5c.8-4.4 3.8-17.3 4.8-26.4s.2-17.6 1.2-28s3.7-22.8 4.9-34.5s1.7-27.5 2.2-35.5s.7-10.8 .9-12.9M266.5 260.6c.6-4.1 2.2-15.5 3.5-24.6s2.6-19.2 3.9-30s2.5-24 3.6-35s2.6-25.6 3.1-30.7M263.7 256.7c.9-3.7 3.8-13.8 5.1-22.4s1.1-18.6 2.4-29s3.6-22 5.3-33.6s3.9-23.8 4.7-35.6s-.2-29.3-.2-35.1M259.9 257.8c-.1-3.4-1-11.8-.8-20.4s1.4-20.5 2.3-31.6s1.6-24.4 3.1-35.2s4.6-24.7 5.6-29.6M264.4 259.4c.7-4.1 3.1-15 4.1-24.3s1-20.7 2.2-31.4s3.4-21.6 5.2-33.2s4.5-25.3 5.3-35.9s-.2-23.3-.2-27.9M264.1 261.4c1-4.6 4.2-18.7 6-27.8s3.1-16.4 5.1-26.9s5.7-23.7 7-35.5s.9-26.7 1.1-35.7s0-15.3 0-18.4M265.4 258.3c.7-4.2 2.4-16.3 4-25.5s4-18.9 5.9-29.5s3.7-22.1 5.2-33.9s3.1-27.7 3.7-36.6s-.2-13.7-.2-16.4M257.1 256c-.6-3.9-3.8-15-4-23.7s1.4-18.1 2.7-28.2s2.6-20.9 5.2-32.1s9.1-28.8 10.9-35.1s.1-2.2 .2-2.6M257.6 260.4c0-4-.6-14.8-.4-23.9s.4-19.5 1.8-30.7s5.1-26.3 7-36.1s3.6-18.9 4.3-22.7M270.2 257.8c.4-3.8 1.5-14 2.5-22.8s1.7-19.1 3.2-30.3s4.6-25.4 5.8-37.1s1-27 1.2-33s0-2.2 0-2.7M268.2 260.4c.3-3.7 .1-13.2 1.4-21.8s5-19.3 6.6-30.2s2.1-23.2 3.1-35.2s2.1-24.4 2.5-36.4s-.2-29.2-.2-35M258.5 261.1c0-4.4-.4-16.6-.3-26.2s.1-20.2 1.5-31.1s4.8-22.4 7.2-33.9s5.9-27.1 7.1-35s.2-10.3 .2-12.4M267 262.2c.7-4.2 2.6-16 4.1-25.7s3.6-21.4 5.3-32.3s3.2-21.3 4.6-33s3-28.7 3.5-37.1s-.6-11.2-.7-13.5M251.9 259.4c-1.5-3.8-7.6-13.7-9.2-22.7s-.8-20.7 .1-31.3s2.3-22.1 5.2-32.7s9-20.1 12.4-31.1s6.5-29.5 7.8-35.3M251 258.5c-.7-3.6-3.8-12.2-4.6-21.2s-1.7-22.3-.6-32.9s4.6-22.3 7-31.2s6.4-18.5 7.7-22.2M253.2 256.2c-.5-3.3-2.3-11.2-2.9-19.7s-1.8-20.6-.9-31.6s3.1-23 6.2-34.5s9.7-24.8 12.3-34.9s2.7-21.3 3.2-25.6M252.2 256.9c-.9-3.3-4.1-11.4-5.5-20s-3.7-20.8-2.9-31.7s4.6-22.2 8.1-33.5s9.3-22.8 12.8-34.4s6.5-29.5 7.8-35.4M263.4 260.2c.1-3.7 0-13.6 .8-22.5s2.3-20 4.1-31.1s4.9-23.2 6.9-35.3s4.2-29.4 5.1-37.2s.3-8.1 .4-9.7M264.9 258.6c.7-4.3 2.2-16.8 4.2-25.7s5.9-17.3 7.9-27.7s3.1-23.6 4-34.4s1.2-25.3 1.4-30.4" stroke="#0f6490" stroke-width="0.8"/>
<path d="M265.8 257.2c.6-3.8 2.2-13.8 3.6-22.7s2.7-20.2 4.7-31.2s5.9-24.2 7.5-34.5s1.7-22.7 2-27.2M254.7 260.5c-.6-4.1-3.5-15.7-4.1-24.8s-.4-18.9 .5-29.7s2.5-25.1 4.7-35.2s6.9-20.8 8.3-24.9M262.3 254c.1-3.6 0-13.1 .6-21.5s1.6-18.9 3.5-29.1s5.6-20.6 8.1-31.8s5.7-26.5 6.8-35.3s-.1-14.7-.1-17.6M268.3 258c.5-4 1.8-15.4 2.8-24.1s1.7-17 3.1-27.9s4.3-27.5 5.3-37.6s.1-19.5 .1-23.4M258.5 260.8c-.8-4.5-4.4-17.3-4.9-26.8s.7-19.7 2.2-30.2s4.5-22 6.8-33.1s5.5-27.2 6.8-33.9s.7-5.2 .8-6.2M252.4 258.3c-.8-3.9-4.1-14.3-5-23.6s-1.3-21.1-.3-31.9s3.3-22.1 6.1-32.7s9-25.3 10.9-31.4s.7-4.2 .8-5M262.8 260.1c-.3-4.1-2.2-15.7-1.9-24.5s2.4-17.6 3.8-28.4s3-24.9 4.9-36.4s4.9-23.3 6.3-32.6s1.5-19.8 1.8-23.7M263.3 259.7c.8-4.3 2.9-16.3 4.8-25.6s4.6-18.8 6.2-29.8s2.1-26.2 3.3-35.9s3.3-18.9 4-22.6M261.9 258c.2-3.4 .9-12.1 1.4-20.7s.5-19.5 1.7-30.5s3.8-23.3 5.7-35s4.9-27.4 5.9-34.9s.2-8.5 .3-10.2" stroke="#3d86ad" stroke-width="0.8"/>
<path d="M265.4 258c.6-3.7 3.1-13.6 4-22.2s-.1-18 1.1-29.1s3.9-25.5 6-37.7s5.3-27.7 6.4-35.1s.2-7.7 .2-9.3M263.5 252.5c-.1-3.5-.7-12.6-.5-20.9s0-19.3 1.3-29.4s4.4-20.4 6.3-31.5s4.4-29 5.3-35s.1-1 .1-1.2M264.5 261.6c-.6-4.4-3.6-17.2-3.8-26.5s.7-18.5 2.2-29.4s4.7-24.8 6.8-36.3s4.3-21.3 5.8-32.3s2.8-27.8 3.3-33.4M269.1 260c1-4.4 4.8-17.1 6.5-26.2s2.2-17.5 3.3-28.3s2.6-24.4 3.5-36.4s1.4-27.6 1.6-35.6s-.3-10.7-.3-12.9M252 255.8c-1-3.6-4.9-13.3-5.9-21.9s-1.5-19.4-.2-30s4.9-22.5 8.4-33.5s10-22.2 12.8-32.5s3.1-24.4 3.8-29.3" stroke="#d9e6a0" stroke-width="0.8"/>
<path d="M267.7 258.6c1.1-3.9 5-14.5 6.8-23.2s2.4-18.4 4.1-29.2s4.9-24 6-35.9s1.1-23.4 1-35.7s-1.4-31.6-1.7-38M256.3 258.1c-1-4-4.9-15.5-5.6-24.3s-.1-18 1.2-28.2s3.5-22 6.2-33.4s8-26.7 9.9-34.6s1.3-10.8 1.6-12.9M266.4 260.2c.9-4.2 3.5-16.3 5.5-25.4s4.9-18.2 6.1-28.8s.3-23.6 1.2-34.5s3.5-25.7 4.2-30.8M264.1 263c.5-4.7 2.1-18.3 3.4-27.9s2.9-18.9 4.5-29.6s3.7-24.7 4.9-34.4s2-19.8 2.4-23.8M252.9 260c-.9-3.9-4.5-14.5-5.4-23.6s-1.3-20.2-.2-31s3.9-23.8 7.1-34s10.2-22.8 12.3-27.4M263 260.2c.4-3.9 1.3-13.9 2.3-23.4s1.7-22.5 3.5-33.5s5-20.7 6.8-31.9s3.3-27.8 4.1-35.2s.6-7.7 .7-9.2M252.9 257.6c-.7-3.7-3-13.6-4-22.3s-2.3-19.3-1.8-29.6s1.5-21.4 4.5-32.7s11.3-28.3 13.6-34.6s.4-2.8 .4-3.3M262.2 260c.7-4.1 3.4-15.4 4.2-24.6s-.5-19.5 .8-30.3s4.7-23.3 6.5-34.3s3.9-26.4 4.6-31.7M251.9 256.6c-.5-3.6-2.3-12.8-3-21.5s-2.2-20.3-1.3-30.8s4.6-23.9 6.7-32.2s5.1-14.8 6.2-17.8M253.4 258.4c-1-4.6-4.9-18.7-5.8-28.1s-1.3-18.6 .2-28.5s5.6-20.4 8.8-30.9s7.9-21 10.5-32.4s4.1-30 5-36.1M266 264.7c.2-5.3 .3-21.5 1.4-31.5s3.4-18.2 5-28.5s3.2-21.8 4.6-33.2s3-24 3.7-34.8s.7-25.4 .8-30.4M247.5 259.2c-.9-4-4.6-15.1-5.7-24.2s-2.7-19.8-1.2-30s6.1-20.6 9.9-31.3s10.2-23.8 13-32.9s2.9-17.8 3.5-21.4M261.8 263.3c.1-4.3 0-16 .8-25.5s2.3-20.2 4-31.4s4.1-24 6.4-35.7s6.2-27.2 7.3-34.8s-.2-8.8-.2-10.6M267.5 258.6c.6-4 2.5-15.2 3.4-23.9s.8-17.9 2-28.5s3.6-23.1 5-35.1s3.1-27.3 3.8-36.8s.1-16.9 .2-20.3M252.7 256.4c-.4-3.9-1.9-14.2-2.2-23.1s-1.2-19.7 0-30.4s3.9-22.8 6.9-33.7s8.8-24.4 10.9-31.5s1.5-9.4 1.8-11.2" stroke="#1a6d99" stroke-width="0.8"/>
<path d="M266.4 256.8c.6-3.6 2.7-13 3.5-21.7s0-19.2 1.3-30.4s4.8-26.3 6.5-36.6s2.6-20.9 3.2-25M258.4 257.3c-.3-4-1.2-14.6-1.3-23.8s-.2-20.5 .8-31.4s3-23.1 5.2-34.1s5.9-21.5 7.9-31.6s3.5-24.3 4.2-29.2M258.2 260.8c-.3-4.1-2.3-15.3-1.8-24.8s3-21.2 4.6-31.7s3.4-21.5 5.4-31.5s5.3-23.8 6.3-28.5M259.6 256.3c-.2-3.5-1.4-12.7-1.6-21s-.7-18.7 .5-29.2s4.8-24.5 6.6-34.1s3.4-19.7 4.1-23.6M249.2 263.2c-1.3-4.2-6.4-15.2-7.8-25.1s-1.5-22.9-.3-34s3.9-22.2 7.6-33s11.2-22.6 14.4-31.6s3.7-18.6 4.4-22.3M257.9 261.1c-.2-4.4-1-17.1-.8-26.3s.8-18.2 2.2-28.7s3.9-23.3 6.2-34.5s6.4-24.2 7.9-33.1s1.3-17 1.5-20.4M266.7 257.7c.6-3.8 2.5-14 3.8-22.7s2.7-18.7 4.4-29.4s5-26.2 6.4-35.3s1.4-16.1 1.7-19.3M258.1 261.6c-.4-4.3-1.8-16.9-2.1-26s-.7-18.1 .4-28.9s3.9-24.8 6.6-36.1s8.2-24 9.9-31.5s.5-11.3 .6-13.5M258.7 255.8c.3-3.4 1.2-11.6 1.7-20s.3-19.6 1.2-30.7s2.4-24.5 4.3-35.8s5.2-20.4 7.1-31.8s3.3-30.6 4-36.7M252.6 260.2c-1.5-4.4-7.4-17.1-9.2-26.2s-2.3-18.1-1.4-28.5s3.5-23 6.8-34.2s10.4-22.7 13.4-33.1s4.1-24.7 4.9-29.6M258.8 261.9c-.1-4.3-.2-17-.5-26.3s-1.6-18.5-1-29.1s2.5-22.8 4.6-34.5s6.5-27 8.2-35.7s1.7-14 2-16.8M267.3 263.3c1.1-4 4.9-14.8 6.2-24.1s.8-20.6 2.1-31.9s4.6-25.9 5.8-35.9s1.2-20.5 1.5-24.6M264.9 256c.4-3.7 1.1-14 2.2-22.5s3-17.6 4.4-28.3s3.3-26.9 4.2-35.9s1-14.8 1.2-17.8" stroke="#0a557d" stroke-width="0.8"/>
<path d="M268.8 258.8c.4-4.5 1.5-17.5 2.4-26.7s1.1-18.4 2.6-28.9s5.2-23.4 6.5-34.5s.8-26.7 1-32.1M261.1 259.9c-.8-4.5-4.1-17.4-4.5-26.8s.6-18.2 2-29.3s3.7-26.7 5.8-37.3s5.5-21.7 6.6-26.1M253.8 256.7c-.6-3.7-2.8-13.6-3.4-22s-1.6-18-.6-28.5s4.7-25.4 6.8-34.8s4.9-18.2 5.9-21.8M265.7 259.9c.2-4.3 .8-17.2 1.1-26s-.2-16.8 .4-27.2s1.9-23.2 3.5-34.8s4.5-23.7 5.8-34.9s1.4-27.1 1.7-32.5M264.6 261c.5-4.4 1.4-16.8 2.6-26.3s2.9-19.5 4.8-30.6s5.9-24.7 7.1-36.1s.3-22.2 .2-32.8s-.5-25.4-.6-30.5M258.3 256.3c-.2-3.5-1.4-12.7-1.3-21.2s.3-19.5 1.6-30s3.6-22 6-33.1s6.8-22.1 8.5-33.2s1.3-27.7 1.5-33.2M260.5 260.1c.3-4 1.4-15.3 1.9-24.2s0-18.5 1-29.1s2.6-23 4.6-34.7s6-26.8 7.4-35.5s1.1-14.1 1.3-16.9M258.5 256.6c-.3-3.2-1.6-10.4-2.1-19s-2.6-21.7-1.2-32.6s7.2-23.7 9.7-32.9s4.4-18.5 5.3-22.2M261.8 258.4c.5-3.9 2.2-14.8 3.5-23.7s2.3-19 3.9-29.8s4.1-23.2 5.5-34.9s2.5-25 3.3-35.2s1.2-21.7 1.5-26" stroke="#4a8fb5" stroke-width="0.8"/>
<path d="M262.3 258.6c0-3.9-.4-14.7 .1-23.7s1.6-20 3.1-30.5s4.2-21.4 6-32.5s4-25.9 5-33.9s.7-11.6 .9-13.9M263.5 260.6c1-4.3 3.8-15.9 5.8-25.6s4.3-21.7 6.1-32.5s2.7-21.3 4.4-32.3s4.8-25.5 5.6-33.9s-1-13.4-1.2-16.1M257.1 265.6c-.9-4.8-4.8-18.5-5.6-28.6s-.6-21.2 .5-32.3s3.5-23.2 6.4-34.2s8.6-23 10.9-31.8s2.3-17.3 2.7-20.7M254.6 258.7c-.6-3.9-2.8-14.7-3.5-23.6s-1.7-19-.9-29.7s2.6-22.8 5.6-34.2s10.7-28 12.8-33.9s.2-.9 .2-1M264 256.8c.4-3.8 1.8-14.5 2.7-23.1s1-18.1 2.4-28.7s4.7-23.4 6.1-34.9s1.5-24.8 2.2-34.4s1.9-19.4 2.3-23.2M260.1 262c.6-4.4 3-16.8 3.7-26.2s-.6-19.8 .4-30.1s3.6-20.9 5.7-32.1s5.2-26.1 6.6-35.2s1.6-15.7 1.9-18.9M263.1 256.5c.5-3.9 2.2-14.6 2.9-23s0-16.7 1.5-27.4s6-25.2 7.7-36.9s1.9-23.4 2.7-33.7s2-23.5 2.3-28.2M257.6 257.6c0-3.7-.9-13.1-.4-21.7s2.1-19.1 3.3-30s1.9-23.8 3.7-35.3s5.6-25 7.2-33.3s2.1-14.2 2.5-17.1M262.6 260.1c.3-4.5 1.2-17.5 1.7-26.8s.1-18.6 1-29s2.8-22.4 4.6-33.6s4.6-24.5 6-33.7s1.9-18 2.3-21.6M249 256c-.7-3.7-3.4-13.2-4.4-22s-2.6-20.1-1.7-30.6s3.8-21.9 7.4-32.8s10.7-20.7 13.8-32.1s4.4-30.2 5.2-36.3M269.4 258.2c.8-3.6 2.6-12.8 4.5-21.5s5.5-19.9 7.2-30.9s3-23.3 3.4-35.2s-1.1-28.8-1.3-36.1s0-6.6 0-7.9M253.8 261.9c-.8-3.9-4.1-14-4.7-23.5s0-22.2 1.4-33.3s4.2-21.8 6.8-33s5.8-22 8.7-33.9s6.8-31.5 8.1-37.7M251 263.1c-1.4-4.8-6.6-19.3-8.4-29.1s-2.9-19.2-2.1-29.6s4.6-24.4 7-32.6s6.5-14 7.8-16.8M258.7 257.5c-.2-4-1.4-14.7-1.1-23.7s.6-20.1 2.6-30.5s6.8-21 9.3-31.8s3.9-21.9 5.2-33.2s2.3-28.9 2.8-34.6M259.4 257.5c0-3.6-.2-12.9 .1-21.8s.7-20.9 1.9-31.5s2.9-20.9 5.1-32.1s6.4-23.8 8.3-35.1s2.4-27.2 2.8-32.6M255.6 261.4c-1-4.4-4.6-16.6-6-26s-3.2-20.1-2.4-30.7s4-21.9 7.3-32.9s10.2-27.1 12.3-32.9s.1-1.2 .1-1.5M261.6 259.8c.2-4.3 .8-16.8 1.1-25.8s-.9-18 .3-28.5s5-23.9 7-34.8s4.4-25.5 5.3-30.6M258.7 260.9c-.1-4.5 .1-17.6-.6-27.1s-4.1-19.4-3.2-29.7s5.8-21.2 8.6-32.1s6.6-25.7 8.3-33.7s1.6-11.9 1.9-14.2M258.8 258c-.4-3.9-2.2-14.5-2.3-23.3s.5-18.9 1.5-29.4s2-22 4.6-33.5s9.1-26.4 11-35.5s.2-15.9 .2-19" stroke="#0d5f8a" stroke-width="0.8"/>
<path d="M255.3 190.4c-.2-4.9-.1-20.6-.8-29.1s-3-17.4-3.7-21.9s-.5-4.4-.6-5.3M247.2 190.3c.2-3.7 1.2-14.7 .7-22.4s-2.9-18.6-3.6-23.7s-.5-5.5-.6-6.6M253.3 173.7c0-1.9 .4-5.4-.2-11.1s-2.9-18.5-3.5-22.7s-.2-2.1-.2-2.6" stroke="#0d5f8a" stroke-width="0.8"/>
<path d="M247 183.6c0-2.5 .7-8.5 .2-15.1s-2.3-16.5-3.1-24.3s-1.8-18.4-2.2-22.1M252.5 189.5c0-4.5 .9-18.7 .4-27s-2.7-15.5-3.6-22.7s-1.9-17.2-2.2-20.6M252.8 182.6c-.1-3.3 .1-12.6-.6-19.6s-3.1-15.4-3.9-22.2s-.8-15.5-1-18.6M248 178.5c-.1-1.8 .3-4.9-.1-10.7s-1.9-18.2-2.6-24.3s-1.2-10.3-1.4-12.3" stroke="#2b7aa6" stroke-width="0.8"/>
<path d="M250.1 173.1c0-1.1 .6-1.5-.1-6.6s-2.9-18.9-3.7-24.1s-.7-5.8-.9-7M247.8 191.9c0-4 .4-15.5-.1-23.6s-1.9-17.7-2.6-24.9s-1.5-14.8-1.7-17.7M253.6 187.8c0-4 .4-16-.3-23.9s-2.9-17.5-3.8-23.7s-1-11-1.2-13.3M252.5 185.7c.1-3.8 1-14.9 .4-22.4s-2.7-16.5-3.6-22.7s-1.8-12.2-2.2-14.7M249.4 175.9c0-1.5 .5-3.4-.1-8.9s-2.5-19-3.2-24.1s-.5-5.4-.6-6.5M252.2 171.3c0-1.2 .5-2.4 0-7.4s-2.8-18.2-3.4-22.7s-.4-3.9-.5-4.7M254.4 168.9c0-1.1 .6-1.3 0-6.2s-2.9-18.8-3.6-23.3s-.4-3.2-.5-3.8" stroke="#0a557d" stroke-width="0.8"/>
<path d="M253.1 179.5c0-2.8 .4-10.1-.3-16.8s-3.1-18.4-3.9-23.1s-.4-4.2-.5-5M252.8 179.7c0-2.8 .7-10.3 .1-16.9s-2.5-16.1-3.4-22.6s-1.6-13.7-1.9-16.4" stroke="#0f6490" stroke-width="0.8"/>
<path d="M284.6 198.9c.5-4.5 2-18.9 3.4-27s3.8-17.7 4.7-21.7s.4-2.1 .5-2.5M283.7 199.5c.5-4.8 2.2-20.2 3.5-28.6s3.5-17.4 4.3-21.8s.8-3.8 .9-4.6M283.3 187.7c.4-3.1 .9-11.6 2.1-18.2s3.5-14.6 5.1-21.6s3.8-16.8 4.5-20.2M285.2 199.9c.6-4.7 2.1-19.9 3.4-28.4s3.5-17.2 4.5-22.3s1.2-6.7 1.5-8" stroke="#0d5f8a" stroke-width="0.8"/>
<path d="M285.7 177.2c.2-1.2 0-2.2 1-7s3.5-15.5 4.8-21.9s2.8-13.7 3.3-16.5" stroke="#0f6490" stroke-width="0.8"/>
<path d="M286.5 193.3c.4-3.7 1.3-14.7 2.4-22.2s3.5-18 4.4-22.4s.8-3.4 1-4.1M290.2 175.2c.1-.7-.3 .1 .4-4.1s3-17.1 3.8-21.6s1.1-4.8 1.3-5.8M285 179.2c.2-1.3 .1-2.8 1-7.8s2.9-15.1 4.4-22.2s3.8-17.2 4.6-20.6" stroke="#c23fa0" stroke-width="0.8"/>
<path d="M284.7 199.6c.6-4.7 2.2-20 3.5-28.3s3.5-17 4.5-21.4s1-4.3 1.2-5.2M284.2 180.7c.2-1.7 .5-5.1 1.5-10.4s3.3-15.9 4.7-21.8s2.8-11.4 3.3-13.7M287.1 198.2c.5-4.5 2-18.5 3.2-26.7s2.6-15.9 3.8-22.3s2.8-13.5 3.3-16.2M287.5 195.4c.3-3.9 1.3-15.8 2.3-23.4s2.3-15.6 3.4-22.1s2.8-14 3.3-16.8" stroke="#1a6d99" stroke-width="0.8"/>
<path d="M287.7 183.5c.2-2 .6-6.2 1.6-11.8s3.4-17.5 4.3-22.2s1-5.1 1.3-6.1M288.6 181.8c.2-1.8 .2-5 1.1-10.5s3.6-17 4.6-22.2s1.3-7.3 1.6-8.7M288.7 190.4c.4-3 1.2-11.5 2.3-18.1s2.8-14.6 4.1-21.5s3.3-16.3 4-19.6" stroke="#2b7aa6" stroke-width="0.8"/>
<path d="M286.7 185.4c.2-2.3 .7-8 1.6-14s3.2-16.2 4.3-22s2.3-10.9 2.7-13.1" stroke="#0a557d" stroke-width="0.8"/></g>
<g fill="none" stroke-linecap="round"><path d="M273.9 188c1.2-.1 5.3-.4 7.6-.5s4.4-.3 6.1-.4s3.7-.3 4.4-.3M276.2 183c.9 0 3.9-.2 5.8-.3s3.8-.3 5.5-.4s4-.3 4.8-.4M276.2 182.4c1-.1 4-.3 5.9-.5s3.9-.3 5.9-.4s4.8-.3 5.8-.3M274.6 183.2c1.1-.1 4.5-.4 6.6-.7s4.2-.4 6.1-.6s4.7-.5 5.7-.5M275.1 184.4c1.1-.1 4.6-.1 6.7-.2s4.3-.5 6-.7s3.5-.1 4.2-.2" stroke="#4a9c78" stroke-width="0.9"/>
<path d="M275 188.4c1.1 0 4.5-.1 6.6-.3s4.4-.3 6.1-.4s3.8-.3 4.5-.4M275.4 180.9c1 0 4.4 0 6.5-.1s4.3-.5 6-.7s3.6-.3 4.4-.3" stroke="#3f946d" stroke-width="0.9"/>
<path d="M275.1 182.1c1.1-.1 4.6-.3 6.7-.5s4.3-.3 6-.4s4-.3 4.7-.4M274.6 186.7c1.3-.1 5.3-.4 7.5-.6s3.9-.4 5.8-.6s4.2-.4 5-.4M274.5 181.8c1.2-.1 5.3-.3 7.5-.4s4.1-.3 5.7-.4s3.4-.4 4-.4M274.3 185.6c1.2-.1 4.8-.5 7-.8s4.6-.4 6.4-.5s4-.1 4.8-.1M275 188.5c1.3-.1 5.3-.1 7.5-.3s4-.7 5.7-.9s3.6-.4 4.4-.5" stroke="#55a883" stroke-width="0.9"/>
<path d="M275.1 185.8c1.1-.1 4.6-.3 6.7-.5s3.8-.5 5.7-.6s4.8-.4 5.8-.5M275.7 188c.9-.1 3.8-.1 5.8-.3s4.4-.5 6.2-.6s4.2-.1 5-.1M273.4 180.2c1.4-.1 5.7-.3 8.1-.4s4.2-.4 6-.6s3.8-.3 4.5-.4M276.4 183.4c1-.1 3.7-.4 5.6-.6s4.2-.2 6.1-.3s4.5-.5 5.4-.6" stroke="#66b491" stroke-width="0.9"/>
<path d="M262.8 261.2c1.7-4.3 6.8-16.8 10.5-25.7s8.1-18.3 11.8-27.7s7.7-21.1 10-28.6s3.3-13.9 3.9-16.6M263.7 263.4c1.9-4.6 7.6-18.5 11.5-27.8s8-18.8 11.7-27.7s7.6-17.9 10.3-25.9s4.8-18.7 5.7-22.4M274.9 259.8c2.2-3.4 8.4-13.2 13.1-20.6s11.3-17.8 14.5-23.4s3.9-8.3 4.6-10M276.1 259.8c2.2-3.6 8.7-14.3 13.4-21.6s11.2-17.1 14.4-22.2s4-7.1 4.7-8.5M270.6 259.5c1.9-3.5 7-13 11.4-21.1s11.4-20.7 14.8-27.5s4.6-10.8 5.5-13M276.8 258.9c2.7-3.2 11.2-12 16.7-19.2s11.8-16.1 16.3-24.1s8.6-19.3 10.6-24s1.4-3.2 1.7-3.8M275 259.7c2.3-3.5 8.5-13.9 13.5-20.9s11.8-13.7 16.4-21.4s8.4-18 11.5-25s6-14.2 7.2-17M273 262.3c2.2-4 8.5-16.3 13.3-24s12.1-17.7 15-22.5s2.4-4.9 2.8-5.9M263.6 257.7c1.9-3.6 7.6-13 11.3-21.4s8.7-22 11.1-28.7s3-9.8 3.5-11.7M271.6 261.8c2.4-4 9.5-16.2 14.3-24.2s10.2-15.9 14.6-23.9s9.2-18 12-24.1s3.6-10.3 4.4-12.4M269.4 263.1c2.2-4.4 8.8-17.5 13.1-26.2s9.6-20.2 12.4-26.4s4-8.6 4.8-10.3M275.2 261.4c2.8-3.7 11.1-14.6 16.5-22.1s12.1-17.4 15.6-22.8s4.6-8.4 5.6-10.1M268.6 263.9c2.2-4.5 8.6-18.8 13.2-27.4s10.5-16 14.4-24.5s7.5-21.5 9.2-26.7s.8-3.5 1-4.2M270.7 257.4c2.1-3.4 8.1-12.3 12.5-20s9.9-17.4 13.9-25.8s7.7-17.3 10.5-24.2s5.3-14.4 6.4-17.3M273 259.1c2-3.4 7.8-12.8 12.2-20.3s9.5-16.4 13.8-25s8.8-17.8 11.8-26.2s5-20 6-24M273.2 264.1c2.6-4 10.7-16.4 15.7-24.2s9.7-15.2 14-22.7s9.9-19 11.8-22.8M275.3 260.6c2.3-3.6 8.7-14.1 13.6-21.2s11.8-15.4 15.8-21.9s7-14.6 8.4-17.5" stroke="#c23fa0" stroke-width="0.9"/>
<path d="M268.4 261.5c2.2-3.6 8.8-14 13.3-21.9s9.9-18 13.8-25.5s7.7-16.2 9.2-19.4M279.7 259.5c2.5-3.2 10.2-12.2 15.1-18.7s11.6-16.4 14.4-20.5s1.5-3.1 1.9-3.7M275 258.7c2.3-3.8 9.1-15.2 13.9-22.4s10.2-13.2 14.5-20.6s9-18.6 11.6-24.2s3.1-8 3.8-9.6M268.9 262.7c2.3-4.2 9.5-16.9 13.8-25.3s8.6-16.6 12.1-25.1s7.3-20.4 9.2-26s1.9-6.7 2.3-8M269.7 259.2c2.1-3.9 8-15.4 12.5-23.5s10.1-16.7 14-25.5s7.3-19.9 9.6-27.3s3.4-14.3 4.1-17.1M269.6 261.8c2.7-4.1 11.4-16.5 16.6-24.5s10.2-15.7 14.4-23.4s7.3-14.6 10.4-22.8s7-22 8.3-26.4" stroke="#99107a" stroke-width="0.9"/>
<path d="M274.6 260c2.2-3.6 8.8-14.4 13.6-21.6s12.7-17.9 15.3-21.7s.3-.6 .3-.7M267.2 262.9c2.4-4.1 9.6-16.5 14.2-24.9s9.5-17 13.4-25.5s7.2-17.7 9.9-25.7s5.2-18.6 6.2-22.3M266.6 260.5c2.3-4 9.4-15.8 13.8-24.1s8.6-16.7 12.3-25.6s8.4-22.1 10.3-27.7s1.2-4.7 1.5-5.6M264.7 258.8c1.9-3.8 7.2-14.5 11-23.2s8-20 11.8-29.1s9.2-20.6 11.2-25.8s.5-4.6 .6-5.5M267.2 263.1c2.2-4.3 8.8-17 13.1-25.7s8.8-18.1 12.8-26.8s8.1-17.5 10.7-25.3s4.5-18.1 5.4-21.8M264.1 262.2c2.2-4.5 9.1-17.9 13.5-26.7s10.9-21.7 13.2-26.4s.7-1.6 .9-1.9M274.7 261.4c2.6-3.8 10.5-15.6 15.8-23s11.4-13.7 15.9-21.4s7.8-17.2 10.8-24.8s5.8-17.2 6.9-20.6M265.7 261.9c1.9-4.4 7.3-18.1 11.4-26.7s9.4-16 13.2-25s7.4-22.3 9.5-29s2.3-8.9 2.8-10.6M267.8 264.4c2-4.5 8.4-18.2 12.4-27.1s7.9-17 11.8-26.1s9.7-22.6 11.9-28.6s1.5-6.6 1.8-7.9M271 258.4c2.1-3.6 8.6-14.2 12.8-21.8s7.9-15.1 12.2-23.4s10.2-19.7 13.1-26.8s3.4-12.8 4.1-15.4M263.2 262.2c2.1-4.5 8.5-17.8 12.7-26.7s9.2-18.6 12.9-26.9s7.8-19.3 9.4-23.1" stroke="#b0198c" stroke-width="0.9"/>
<path d="M276.3 260.8c2.5-3.2 9.8-12.1 15.1-19.1s12.8-17 16.4-22.7s4.6-9.6 5.5-11.5M263.2 258.8c1.9-4 7.4-15.3 11.4-23.9s8.9-18.8 12.6-27.7s7.2-19 9.3-25.7s3-12.4 3.6-14.9M270.9 259.8c2.4-3.7 9.6-14.6 14.5-22.5s12.1-20 15-24.9s1.7-4.2 2.1-5M266.6 258.6c1.5-4 5.3-15.5 9-24s10.5-20.9 13.2-27.3s2.3-9.2 2.8-11M274.7 260.2c2.8-3.6 11.6-14.2 16.7-21.3s10.9-16.8 13.7-21.6s2.8-5.8 3.4-6.9M271.9 258.6c1.6-3.6 6.1-13.7 9.8-21.7s8.7-17.5 12.7-25.9s9.4-20.3 11.4-24.7s.4-1.3 .5-1.6M274.5 260.3c2.5-3.8 10.1-15.7 15.2-23s11-13.1 15.5-20.8s8.9-20 11.3-25.3s2.3-5.7 2.8-6.8M267.9 261.1c2.6-4.2 10.6-17.1 15.4-25.3s9.2-15.9 13-24s7.8-18.6 10-24.7s2.7-9.7 3.3-11.6M272.6 260.2c2.5-3.6 9.7-14.2 14.8-21.6s12.4-16.9 15.7-22.5s3.5-9.3 4.2-11.2M276.5 257.1c2.6-3.4 10.5-13.5 15.8-20.4s12.2-14.6 16.4-20.6s7-13 8.4-15.6M265.5 261.7c2.4-4 10.5-15.6 14.8-23.9s7.4-17 10.9-26s8.1-20.8 10.5-27.8s3.2-12.3 3.9-14.7M265.7 256.6c1.6-3.6 6-13.8 10-21.7s10.5-19.4 13.6-26.2s4.4-12.2 5.3-14.6" stroke="#8e0070" stroke-width="0.9"/>
<path d="M278.8 262.9c2.4-3.5 9.3-13.4 14.1-20.7s10.6-16.5 14.7-23.3s7.9-14.7 9.5-17.6M273.9 258.4c2.5-3.1 10-11.6 14.8-18.9s10.5-18.5 13.8-24.7s4.9-10.2 5.8-12.2M263.7 262.8c2.1-4.4 8-17.8 12.3-26.3s10.6-19.1 13.5-24.9s2.9-8.3 3.5-9.9M266.5 259.1c1.9-3.7 7.2-14 11.2-22.2s8.8-17.7 12.7-26.7s8.7-22.6 10.5-27.3s.2-.9 .3-1.1M271 258c2.1-3.6 8.2-13.8 12.5-21.3s9.2-15.2 13.3-23.6s8.8-20.3 11.3-26.8s2.9-10 3.5-12M273.6 257.2c1.7-3.3 6.6-12.7 10.7-20s9.4-15.3 13.7-23.2s9-17.5 12-24.4s4.6-14.1 5.5-16.9M268.3 262.8c2.4-4 9.6-15.9 14-24s9-17 12.7-24.4s7.6-16.5 9.2-19.8M276.8 260.2c2.4-3.3 9.2-12.8 14.2-20.1s11-15.7 15.5-23.6s9.4-18.9 11.7-24s1.8-5.6 2.1-6.7M265.9 261.7c2.1-4.3 8.3-17.5 12.5-26s9-16.2 12.7-24.9s6.8-19.1 9.5-27.5s5.5-19.1 6.6-22.9M273.4 259.2c2.3-3.7 9.4-14.5 13.8-22.2s9-15.8 13.1-23.9s9.5-19.8 11.8-24.8s1.4-4.1 1.6-4.9M268 261.2c2.3-4 9.1-16.3 13.6-24.3s9.9-16.6 13.2-23.9s5.8-16.6 6.9-20M268.6 262.4c2-4.2 8.1-16.4 12.2-24.8s8.4-17.7 12.1-25.9s8.4-19.4 10.1-23.3M267.1 260.3c2-4.1 8.2-16.5 12.2-24.4s8.6-14.5 12.1-23s7.2-21.8 9-27.7s1.6-6.7 1.9-8M275 259.3c2.9-3.5 11.7-13.8 17.1-20.9s11.3-14.3 15.7-21.9s7.5-15.9 10.5-23.5s6.4-18.4 7.6-22.1" stroke="#a0007d" stroke-width="0.9"/>
<path d="M276.5 263.3c2.5-3.8 9.7-15.7 15.1-23.1s12-14.1 16.8-21.5s8.5-15.8 11.7-22.6s6.2-15.4 7.4-18.5M266.8 257.5c1.8-3.5 6.9-13.5 11.2-21.1s10.6-16.7 14.4-24.1s7.1-16.8 8.5-20.2M278 261.5c2.8-3.5 11.2-13.8 16.4-20.8s10.3-14.2 14.8-21.5s9.6-15.9 12.6-22.3s4.6-13.8 5.6-16.5M270.5 264c2.7-3.9 11.2-15.5 16.2-23.6s9.8-16.4 13.9-24.6s8.4-19.2 10.6-24.8s2.6-7 3.1-8.4M276.9 264.6c2.8-4 11.2-16.5 16.5-24.2s11.4-16 14.9-21.8s5.3-10.6 6.3-12.7M270.9 257.3c2.4-3.3 9.5-12.3 14.2-19.5s10.3-15.7 14.2-23.7s6.9-18.2 9.3-24.8s4.3-12.3 5.1-14.8M265.5 262.9c2.1-4.5 8.5-18.4 12.6-27.2s8.7-17.2 12.1-25.6s6.9-20.7 8.3-24.9M273.9 262.4c2.5-3.9 9.7-15.8 15-23.3s12.6-14.7 17-21.6s7.5-16.6 9.1-19.9M271.6 263c2.6-4 10.3-16.2 15.5-24.2s13.1-19.5 15.9-23.7s.6-1.2 .8-1.4M275.5 261.1c2.4-3.5 9.5-13.6 14.3-21s10.3-15.7 14.8-23.9s9.8-20.2 12.2-25.4s1.6-4.9 1.9-5.9M270.2 260.9c2.3-3.9 9.4-15.7 14-23.5s10.5-17.4 13.6-23.5s4.2-10.7 5-12.9M267.5 260.2c2.4-3.9 9.7-15.3 14.5-23.5s10.4-17.2 14.7-25.5s8.8-17.6 11.5-24.2s4.1-12.8 4.9-15.3" stroke="#b0198c" stroke-width="0.9"/>
<path d="M268.9 261.5c2.7-4 11.7-16.2 16.4-24.1s10-19 12.2-23.2s.6-1.7 .8-2M267.4 258.1c2.2-3.7 8.8-14.5 13.1-22.3s9.8-18.3 12.9-24.5s4.8-10.5 5.7-12.6M278.1 262.6c2.3-3.6 9.1-14.1 14.1-21.5s11.1-15.5 15.8-23.3s10.1-18.4 12.7-23.5s2.5-6 3-7.2M271.8 259.8c2.2-3.5 8.4-13.5 13.1-20.9s11-15.7 15.1-23.8s7.4-18.7 9.7-24.7s3.3-9.4 4-11.3M265.9 259.7c1.6-3.7 5.5-13.8 9.5-22.2s10.9-18.8 14.8-28s6.5-18.7 9-27.4s4.9-21.1 5.9-25.4M277.1 260.3c2.5-3.3 10.2-12.7 15.3-19.7s10.6-15 14.9-22.6s9.4-18.6 11.3-22.5s.1-.3 .2-.4M276.3 256.9c1.9-3.3 7.2-12.7 11.7-19.7s11.7-16.4 15.3-22.4s4.9-11.2 5.9-13.5M271.5 260.8c2.2-3.7 8.8-14.4 13.2-22.3s9.1-16.8 13.2-25s8.8-19.2 10.9-24.3s1.7-5.3 2.1-6.3M273.3 262.1c2.3-3.6 9.4-14 14.1-21.6s10.1-16.4 14.5-24.6s8.2-16.3 11.6-24.5s7.4-20.5 8.8-24.6M269.3 261.1c2.1-4.1 8.3-15.9 12.8-24.2s9.8-17.2 14.2-25.6s8.7-16 11.7-24.9s5.3-23.8 6.4-28.6M269.1 262.8c2.5-4.3 10.3-17.8 14.9-25.9s8.9-15.2 12.3-22.3s6.6-16.9 8-20.2M265 262.1c2-4.2 8.2-16.6 11.9-25.3s7.7-19.8 10.3-26.9s4.7-12.8 5.7-15.4" stroke="#a0007d" stroke-width="0.9"/>
<path d="M277.9 257.2c2.2-3.3 8.6-12.9 13.3-19.8s11-15 14.8-21.5s6.5-14.4 7.8-17.3M272.5 257.2c2.2-3.6 8.8-14.1 13-21.5s8.7-14.8 12.5-23s7.6-19.2 10.1-26.4s4.3-13.8 5.1-16.6M275.5 259.9c2.7-3.5 11.4-14 16.4-21s9.2-13.7 13.5-21s8.8-14.9 12.2-23s6.4-21.6 7.6-25.9M276.8 261.1c2.6-3.6 10.3-14.5 15.5-21.8s10.6-14.6 15.3-22.1s9.4-15.2 13.3-22.8s8.1-18.6 9.7-22.3M279.1 261c2.7-3.5 10.8-14.5 15.9-21.2s10.5-12.3 15-19.3s10-18.2 12.3-22.8s1.6-4.3 2-5.1M269.2 258.9c1.9-3.7 7.6-14.4 11.6-22.3s8.4-16.6 12.5-25.4s8.8-19.3 12-27.7s6-18.8 7.1-22.6M266.3 260c2.1-4 8.2-15.6 12.6-23.8s9.5-16.7 13.5-25.2s8.6-20.6 10.6-25.9s1.2-4.7 1.5-5.6M273.2 258.8c2.3-3.2 9.1-12.7 14-19.5s12.7-17.3 15.5-21.4s1.3-2.6 1.6-3.1M272.6 256.8c2-3.4 7.5-12.6 12.1-20s12.2-18.3 15.6-24.3s4.2-9.4 5-11.3M276.1 263.7c2.7-4 10.7-16.6 16.3-24.3s13.7-16.9 17.2-21.8s3.1-6.4 3.8-7.6M269 261.4c2.4-4.2 9.7-17 14.3-25.2s9.5-15.8 13.4-24s8.7-21 10.4-25.2M270.9 263c2.5-4.1 10.3-16.2 14.8-24.4s9.4-18.7 12.3-24.6s4.6-9 5.5-10.8M276.3 260.1c2.5-3.3 9.9-12.6 14.9-19.5s10.8-14.7 15.4-22s10.1-18.2 12.1-21.9M275.6 258.8c2.4-3.5 9.7-13.9 14.2-21.2s8.8-14.6 12.8-22.4s8.7-18.3 11.4-24.2s3.8-9.6 4.5-11.5M268.8 263.9c2.1-4.3 8.3-17 12.7-25.7s10-17.7 13.8-26.4s6.8-19.4 8.9-25.7s3.2-10.3 3.8-12.4M268.4 257.4c2-3.4 8.2-12.7 12.1-20.1s7.9-16.2 11.7-24.8s9.3-20.9 11.6-26.8s2.2-7 2.6-8.5" stroke="#c23fa0" stroke-width="0.9"/>
<path d="M271 262.2c3-3.7 12.9-14.2 18.4-21.9s10.1-16.2 14.6-24.1s9.2-15.8 12.4-23.7s5.8-20 7-24M262.6 260c1.9-4.4 7.8-17.3 11.6-26s8.4-18.9 11.2-26.1s5.1-14.1 6.1-17M273.2 258.9c2-3.5 8.1-13.6 12.1-21s8.3-15.7 12.3-23.9s9.3-20.1 11.5-25s1-4 1.3-4.8M274.3 260c2.5-3.7 10-14.6 15-22.1s11.3-15.7 15.5-23.3s8.2-18.6 9.9-22.3M270.7 258.7c2.8-3.6 11.6-14.1 16.8-21.4s9.7-15.1 14.2-22.9s10.1-18 12.8-23.7s2.9-8.9 3.4-10.6M270.8 260.5c2.1-3.8 8.2-15.2 12.8-23.1s11.3-18 14.7-24.2s4.4-10.7 5.3-12.9M278.2 260.4c2.5-3.3 10.2-12.7 15.2-19.8s10.7-15.1 15-22.6s9.1-18.5 10.9-22.2M269.1 261.8c2.2-4.1 9-16.1 13.2-24.4s10.1-20.9 12.3-25.5s.8-1.7 1-2.1M278.1 259.6c2.5-3.4 9.8-13.2 14.5-20.4s10.4-15.9 14.2-22.3s7.1-13.2 8.5-15.8M266.1 259.6c2-4.1 8.3-15.6 12.1-24.5s8.4-23.1 10.6-28.9s2-4.8 2.4-5.8M275 262.5c2.6-3.7 10.3-15.2 15.9-22.3s13.1-12.7 17.8-20.2s8.5-19.1 10.8-24.9s2.6-8.3 3.2-9.9M264.8 259.7c1.8-3.9 6.7-14.7 10.7-23.3s10.2-20.2 13.5-28.3s5.3-17.3 6.4-20.7M268.8 262.2c1.9-4.1 7.5-16.4 11.4-24.8s8.3-17 12-25.5s7.9-16.5 10.6-25.2s5.1-22.7 6.2-27.2" stroke="#8e0070" stroke-width="0.9"/>
<path d="M272.7 262.3c2.4-3.7 9.8-14.2 14.3-21.9s8.7-16.3 13.2-24.4s10.8-18.2 13.5-24.1s2.4-9.5 2.8-11.4M270 263.8c2.1-3.9 7.9-15.4 12.5-23.5s10.7-16.6 15-25.1s7.9-17.2 11.2-26s7.1-22.1 8.5-26.6M265.6 260c2.1-4.1 8.5-15.8 12.5-24.4s8.6-18.5 12-27.4s6.3-19.7 8.3-26s3.2-10.2 3.9-12.2M274.8 260.9c2.8-3.7 11.4-15.2 16.8-22.6s13-17.6 16.1-22.1s1.7-4.3 2-5.1M268.1 262c2.2-4.2 8.7-16.6 13.4-24.9s10.3-16.7 14.7-24.9s9-17.2 11.8-24.3s4.6-15.4 5.5-18.5M268.9 262.6c2.2-4.2 8.7-16.7 13.4-25.2s11-17.2 15-25.4s7.2-18.7 9.2-24s2.2-6.4 2.7-7.7M266.5 261c2.1-4.2 8.6-16.8 12.3-25.3s6-16.7 9.7-25.7s9.6-20.9 12.3-28.2s3.2-13 3.9-15.6" stroke="#99107a" stroke-width="0.9"/>
<path d="M307 210.6c1.2-2.6 4.5-9.8 7.2-15.6s6.2-13.9 8.7-19.6s5-11.3 6.4-14.7s1.3-4.4 1.5-5.3M314.2 210.2c1.4-2.1 5.1-7.8 8.5-12.3s8.7-9.9 12.1-14.4s6.1-9.2 7.9-12.3s2.4-5.4 2.9-6.4M316.4 220.1c2.9-2.5 12.4-10.7 17.5-15.2s9.4-7.8 13.3-11.4s7.7-7.9 10.1-10.4s3.4-3.8 4.1-4.5M313.5 216.6c2.2-2.7 8.8-10.8 12.9-15.8s8-9.8 11.5-14s7.9-9 9.6-11s.7-1.2 .8-1.4M318.7 216.1c2.3-2.4 9.1-10.1 13.6-14.6s9.6-8.9 13.4-12.4s7.7-6.5 9.9-8.5s2.7-3.3 3.3-4M303.4 212.5c1.3-3.2 5-12.9 8-19.1s7.7-12.9 10.1-18.5s3.4-12.4 4.1-14.8M315.4 219.3c2.7-2.4 11.2-10.3 16.5-14.7s11.5-8.3 15.4-11.8s6.4-8.1 7.7-9.7M302.3 209.8c1-2.9 3.4-11.2 5.9-17.5s6.7-14 9.3-20.1s4.7-12.3 6.5-16.5s3.1-7.4 3.8-8.8M312.8 216.3c2.5-2.7 10-11 14.5-16.2s8.9-10.6 12.7-14.6s8.4-7.6 10.2-9.3s.4-.8 .4-1M314.9 218.9c2.5-2.6 10.6-11.1 15.4-15.9s9.5-9.1 13.3-12.8s6.6-6.8 9.2-9.2s5.1-4.5 6.1-5.4M313.9 219.3c2.5-2.8 10.1-11.3 14.6-16.7s8.9-11.1 12.7-15.6s7.9-8.7 10-11.3s2.4-3.4 2.8-4.1M323 217.4c2.5-1.8 9.8-7.1 14.7-10.7s10.2-7.8 14.6-10.7s9.2-4.8 11.9-6.4s3.6-2.5 4.3-3M311.1 210.7c1.5-2.3 5.5-8.4 8.6-13.5s6.9-12.1 9.8-17.1s5.9-9.4 7.7-12.6s2.4-5.4 2.9-6.5M304.2 208.9c1.2-2.8 4.6-10.6 7.2-16.9s6-15.6 8.3-21.1s4.3-8.3 5.7-12s2.6-8.3 3.1-10M312.8 219.5c2.3-2.9 9.5-12 13.7-17.5s8.5-11.5 11.7-16s5.8-8.8 7.5-11.3s2.5-3.2 3-3.9M307.4 213.3c1.5-2.7 5.7-10.5 9-16.2s7.8-12.6 10.7-17.9s5.2-9.8 6.9-14.1s2.7-9.5 3.2-11.4M316.7 217.3c2.4-2.3 9.9-9.7 14.6-14s9.3-8.4 13.3-11.8s8.3-6.9 10.5-8.8s2-2.3 2.4-2.8M306.5 212.3c1.3-3 5.2-12.2 7.8-18s5.1-12 7.9-17s7.4-10.3 9.3-13.2s1.5-3.8 1.8-4.6M308.9 212.9c1.5-2.7 6-10.9 8.9-16.6s5.6-11.8 8.4-17.4s6.8-11.7 8.8-15.7s2.5-6.6 3-8M315.6 222.5c3.1-2.7 13.6-11.2 19.1-16.1s9.8-9.3 13.7-12.9s6.9-6.5 9.8-8.9s6.5-4.4 7.8-5.2" stroke="#c23fa0" stroke-width="0.8"/>
<path d="M315.2 216.2c1.9-2.8 7.3-11.3 11.1-16.4s8.1-10.4 11.6-14.6s7.5-8.2 9.5-10.8s2.4-3.9 2.9-4.6M313.9 212.8c1.5-2.3 5.5-8.7 9-13.6s8.4-11.4 11.9-15.6s7.3-8 8.8-9.6M316.4 218.6c2.7-2.5 11.2-10.5 16.4-15.2s10.8-9.1 14.8-12.8s7.5-7.4 9.5-9.4s2-2.2 2.4-2.7M316.4 220.8c3.1-2.4 13.2-10.4 19-14.6s11.6-7.3 15.5-10.4s6.9-6.8 8.3-8.1M319 218.3c2.4-2.1 9.9-8.6 14.7-13.1s10.1-10.6 14.3-14.1s7.9-4.4 10.6-6.8s4.8-6.3 5.7-7.6" stroke="#ff8ccf" stroke-width="0.8"/>
<path d="M307.2 211.7c1.1-3.1 4.3-12 6.6-18.4s5-14.4 7.4-20s5.7-11.2 6.8-13.6s.2-.7 .3-.8M303.2 214.6c1.3-4.1 5.3-17 7.9-24.3s5.1-14.2 7.4-20s5-10.5 6.3-14.6s1.2-8.1 1.4-9.7M309.5 208.4c1.1-2.3 3.9-8.3 6.5-13.5s6.6-11.8 9.3-17.2s5.5-12.4 6.7-15s.2-.4 .3-.5M303 209c.7-3 2.3-11.4 4.3-17.7s5.3-13.7 7.4-19.8s4.1-12.5 5.2-16.8s1.2-7.8 1.5-9.4M311.7 214.5c1.9-2.5 7.2-9.8 11.1-14.8s8.7-10.8 12.1-15.2s7-9.5 8.4-11.4M302.3 214.6c1.7-3.6 7.2-14.2 10.3-21.2s5.6-15.2 8.2-20.9s5.5-9.1 7.3-13.7s2.8-11.2 3.4-13.5M307.3 216.1c1.8-3.1 7.2-12.6 10.6-18.7s6.8-12.4 9.6-17.6s5.4-9.9 7.2-13.4s2.9-6.5 3.4-7.8M303.9 210.9c1.4-2.9 5.6-11.5 8.2-17.6s5-13.5 7.4-19.4s4.9-11.5 6.6-15.9s3.2-8.9 3.8-10.7" stroke="#b0198c" stroke-width="0.8"/>
<path d="M299.4 205.4c.5-2.7 1.9-9.8 3-16.2s2-15.5 3.8-22.4s5.7-13.8 7.2-18.7s1.4-8.9 1.7-10.7M318.4 217.1c1.9-2 6.9-7.5 11.2-11.9s10.2-10.4 14.6-14s9.3-6.1 11.4-7.6s1-1.3 1.1-1.5M311.6 214.2c1.4-2.6 4.9-10 8.2-15.6s8.5-13.2 11.4-18.2s5.2-9.3 6.4-11.5s.6-1.1 .8-1.3M315.1 218.4c2.9-2.3 12.3-9.3 17.5-13.9s9.6-10.1 13.7-13.7s8.9-5.6 11.4-7.7s2.6-3.8 3.1-4.5M312 216.8c1.8-2.9 7.4-11.6 10.8-17.6s6.8-12.8 9.6-18.2s5.7-10.9 7.3-13.9s1.8-3.4 2.1-4.1" stroke="#d957b0" stroke-width="0.8"/>
<path d="M311.7 215.5c1.9-2.7 7.3-11.1 11.6-16.3s10.2-10.7 13.9-14.9s6.5-7 8.4-10.2s2.7-7.3 3.2-8.8M314.9 216.8c2.3-2.4 9.1-9.8 13.7-14.5s9.9-9.6 14-13.6s8.7-8.5 10.5-10.3M315 218.6c2.4-2.4 10-9.4 14.7-14.4s8.8-11.4 12.9-15.7s9-7.2 11.6-9.7s3-4.5 3.6-5.4M303.2 212.3c.8-3.6 2.8-14.2 4.8-21.3s5.3-14.9 7-21.5s2.8-14 3.6-18.1s1.2-5.2 1.4-6.3M319.3 213.1c1.6-1.8 5.7-7.5 9.5-11.3s9.7-8.1 13.3-11.6s6.7-7.8 8-9.4M317.5 216.6c2-2.1 7.4-8.8 11.9-12.9s10.4-7.9 14.7-11.3s8.2-6.8 10.6-9.1s3-3.9 3.6-4.7M304.3 208.7c.6-2.8 2.5-10.6 3.9-17s2.9-15 5-21.2s5.8-11.4 7.4-15.9s1.8-9.5 2.1-11.3M313.5 217.1c1.8-2.7 6.8-11.1 10.9-16.1s10.1-9.5 13.9-13.6s7.2-8.6 9-10.9s1.6-2.4 1.9-2.8M315.3 214.1c1.7-2.2 6.5-8.7 10.2-13.5s8.6-10.7 11.9-15.2s5.5-8.3 7.8-11.7s5.1-7.3 6.1-8.8M316.3 214.5c1.6-2.1 5.8-8.1 9.4-12.8s8.5-11.1 11.9-15.5s6.4-7.7 8.9-11s5.3-7.5 6.4-9M317.8 212.9c1.7-1.8 6.2-6.2 9.9-10.7s8.7-11.7 12.4-16.1s7.3-7.4 9.6-10.2s3.6-5.4 4.4-6.5" stroke="#f283c6" stroke-width="0.8"/>
<path d="M302.4 215.6c1-4 4.3-16.3 6.4-23.9s4.3-15.7 6.4-21.8s4.8-10.2 6.2-15s1.7-11.9 2-14.3M309.2 217.2c2-3.4 8.3-14 12-20.1s7.1-12.2 10.2-16.6s7.2-8.2 8.6-9.8M313.3 215.1c1.5-2.4 5.3-9.5 8.8-14.8s8.3-12.5 11.8-17.4s7.4-9.2 9.3-12s1.4-4.3 1.7-5.1" stroke="#f79ad3" stroke-width="0.8"/>
<path d="M318.5 218c2.3-2.1 8.8-8.6 13.9-13s11.9-10 16.3-13.4s8.2-5.5 10-6.8s.9-.9 1-1.1M304.8 217.5c2-3.7 8.3-15.5 12.1-22.1s7.9-12.4 10.7-17.6s4.8-10.4 6.1-13.4s1.6-3.6 1.9-4.3M303.6 215c1.3-3.7 4.8-15.8 7.7-22.4s6.6-11.6 9.4-17.3s6-13.2 7.4-16.5s.7-3.1 .8-3.7" stroke="#e070c0" stroke-width="0.8"/>
<path d="M315.8 218.2c2.6-2.3 10.8-9.1 15.4-13.9s8.5-11.2 12-15.1s7.6-6.7 9.1-8M323.9 214.7c1.6-1.7 5.8-5.9 9.6-9.9s9.5-10.2 13.5-13.8s7.7-5.2 10.4-7.9s4.8-7.1 5.7-8.5M302 206.4c.7-2.7 2.4-9.8 4.3-16.1s5.1-16.3 6.9-22s3.1-10.3 3.8-12.3M303.9 208.1c1-2.9 4-11.4 5.9-17.4s3.9-13.3 5.8-18.8s4.9-11.9 5.9-14.3M316.4 220.9c3.4-2.8 14.4-11.9 20.3-16.5s10.6-8.2 14.7-11.1s7.5-4.3 10.3-6.2s5.7-4.3 6.8-5.2" stroke="#ffb0df" stroke-width="0.8"/>
<path d="M308 217.3c1.9-3.3 8-14 11.9-19.8s7.9-9.8 11.1-14.9s6.6-12.5 8.2-15.7s1.3-2.8 1.6-3.4M304.2 214.1c1.4-3.3 5.7-13.2 8.5-19.7s5.4-14.1 8.1-19.7s6.6-11.3 8-13.8s.4-.9 .4-1.1M311.4 213.6c1.8-2.4 6.4-9.5 10.6-14s10.8-8.7 14.9-13.1s7.2-10.2 9.3-13.2s2.4-3.9 2.8-4.7M305.4 209.3c.9-2.7 3.1-10.3 5.4-16.3s5.9-13.4 8.5-19.6s5.9-14.7 7.1-17.6M315.1 218.5c2.3-2.6 9-10.6 13.7-15.5s10.2-9.9 14.1-13.9s7.2-7.9 9.3-10.3s2.8-3.3 3.4-3.9" stroke="#ff9fd8" stroke-width="0.8"/>
<path d="M318.1 218.9c2.8-2.2 11.5-9.1 16.9-13.1s10.7-7.6 15-11s8.2-7.2 10.8-9.2s3.7-2 4.5-2.4M318 220.7c3.3-2.2 14-9.1 19.9-13.3s11.1-8.7 15.6-11.8s8.5-5 11.3-7.1s4.5-4.7 5.4-5.6M322.1 217.8c2.6-2 10.6-7.9 15.4-11.8s9.1-8.4 13.5-11.4s9.9-4.9 12.9-6.5s4.3-2.7 5.2-3.3M320.1 219.3c3.2-2.1 13.9-9 19-12.8s7.6-6.7 11.6-10.1s9.5-8.4 12.2-10.7s3.3-2.2 4-2.6M318.8 219.8c2.9-2.2 11.9-9.1 17.1-13.5s9.9-9.3 14.1-12.7s8.7-6 10.9-7.6s1.8-1.4 2.1-1.7M303.5 214.5c1.6-3.4 6.4-13.8 9.3-20.6s5.2-14.2 7.9-19.7s6.3-9.6 8.2-13.4s2.6-8.1 3.2-9.8M305 206.5c.8-2.4 2.6-8.5 4.6-14.4s4.8-14.2 6.9-20.7s4.7-14.8 5.8-18.4s.8-2.8 .9-3.4M322.2 217.5c2.5-1.8 10-7.1 15.1-10.8s11.2-8.3 15.8-11.3s8.6-4.6 11.8-6.8s6.1-5.1 7.3-6.2M302.2 212.2c1-3.4 3.6-13 6-20.2s6.5-16.4 8.7-22.7s3.8-12.4 4.6-15.2s.2-1 .2-1.2M321.9 213.8c1.8-1.7 6.5-6.7 10.6-10.4s9.5-8.1 13.6-11.6s8.1-6.7 10.8-9.2s4.4-4.9 5.3-5.9M317.4 218.5c2.4-2.1 9.1-8.3 14-12.6s11.8-9.2 15.9-12.9s6.4-6.8 8.6-9s3.9-3.7 4.7-4.4M310.8 216.9c1.7-3.2 6.8-13.2 10.6-18.9s8.6-11.3 12-15.8s6.2-7.7 8.2-11s3.1-7.7 3.8-9.2M300.4 213.9c1.2-4 4.9-16.7 7.1-23.9s4.5-13.9 6.5-19.6s4.5-11.3 5.6-14.5s1-3.8 1.2-4.6M310.7 214.9c2.1-2.6 8.4-10.5 12.6-15.7s9.2-11.1 12.2-15.6s3.8-8.2 5.8-11.6s5.2-7.4 6.3-8.8M313.6 212.7c1.7-2.1 6.6-7.7 10.1-12.4s7.9-10.9 11.4-15.4s7.4-8.6 9.7-11.6s3.6-5.6 4.3-6.7M302.5 208.8c.7-2.9 2.6-10.8 4.1-17.4s3.3-15.2 5-22s4.8-15.4 5.7-18.9s.2-1.8 .2-2.2M325 220.1c2.2-1.9 8.4-7.5 13.3-11.4s11.6-8.4 16-11.6s8.5-6.2 10.8-7.8s2.7-1.3 3.3-1.6" stroke="#c23fa0" stroke-width="0.8"/>
<path d="M301.4 204.5c.5-2.8 2.2-10.2 3.4-16.8s2.5-16.1 3.9-22.7s3.8-13 4.7-16.9s.4-5.4 .5-6.5M322.1 220.8c3.3-2.1 14.4-9 20.1-12.9s10-6.9 14-10.1s7.6-7.1 9.7-8.7s2.3-.9 2.8-1.1M313.9 218.3c2-2.7 8.2-11 12.2-16.2s8.2-10.1 11.8-14.7s7.3-9.5 9.6-12.6s3.6-4.7 4.3-5.7M313.8 222.1c2.4-3.1 10-13.3 14.7-18.9s9.6-10.6 13.3-14.6s7.5-8 9-9.6M310 213.6c1.5-2.4 5.5-9.2 8.8-14.5s7.5-12.3 10.7-17.3s7.1-10.4 8.5-12.5" stroke="#ff8ccf" stroke-width="0.8"/>
<path d="M308.6 215.7c1.9-2.9 8-11.9 11.5-17.5s7-11.7 9.9-16.3s5.2-7.8 7.4-11.6s5-9.7 6-11.7M313.6 214.1c1.8-2.5 7.3-9.7 11.1-14.9s8.3-11.4 11.9-15.9s7.8-8.7 9.8-11.5s1.8-4.3 2.2-5.1M305 210.7c.9-3 3.1-11.4 5.3-17.6s5.5-13.6 7.8-19.9s5.2-14.3 6.4-17.5s.3-1.5 .4-1.8M319.2 218.4c2.9-2.2 12-9 17.6-13.1s11.1-8.5 15.4-11.7s7.7-5.7 10.7-7.8s6.4-4.2 7.7-5.1M321.9 223.1c2.9-2.4 11.7-10.1 17.5-14.4s12.8-8.3 17-11.4s7.1-5.6 8.5-6.8M298.9 210.5c.6-3.4 1.7-13.1 3.4-20.3s5.2-16.4 6.9-22.9s3-12.1 3.9-16.2s1.1-6.8 1.4-8.2" stroke="#ffb0df" stroke-width="0.8"/>
<path d="M303.2 216.2c1.5-3.6 6-15 9-21.8s7.1-13.3 9.4-18.9s3.5-10.6 4.9-15.1s2.8-10.2 3.4-12.2M313.5 211.1c1.4-1.9 5.2-7 8.3-11.6s7-11.1 10.2-15.8s7.3-9.2 9.2-12s1.5-3.7 1.8-4.5M308 215.9c1.8-2.8 7.2-11 10.8-16.8s8.5-13.3 11.3-18.5s4.4-10.4 5.3-12.4M324.2 216.8c2.1-1.5 7.6-6 12.4-9.3s12.4-8.1 16.8-10.9s7.9-4.9 9.5-5.9M321 218c2.3-2.1 9.2-8.7 13.9-12.7s9.7-8.3 14.1-11.4s9.4-5.8 11.9-7.6s2.6-3 3.1-3.6M300.5 209.9c.9-3.2 3.1-12.5 5.4-19.1s5.9-14.5 8.1-20.7s3.8-13 4.9-16.8s1.4-5.3 1.7-6.4M316.4 224.3c3.2-2.8 13.6-12.1 19.5-16.7s11.5-7.3 15.9-10.5s7.6-6.7 10.6-8.7s6-2.9 7.3-3.5M308.3 213.7c1.7-2.7 7.1-10.6 10.5-16.3s6.6-12.8 9.5-17.9s6.1-9.3 8.1-12.8s3.6-7.1 4.3-8.5" stroke="#b0198c" stroke-width="0.8"/>
<path d="M305.4 212c1.3-3.1 4.9-12.5 7.9-18.5s7.5-11.5 10.4-17.1s5.6-12 7.3-16.4s2.7-8.2 3.3-9.9M314.2 214.1c2-2.3 8.2-9.6 12-14.3s7.4-9.7 11-13.9s8.8-9 10.5-10.9s.1 0 .1-.1M315.9 217.1c2.4-2.4 9.6-9.7 14.4-14.2s10.2-8.7 14.3-12.6s8.4-8.8 10.1-10.6M299.2 215.4c1.3-4.2 5.5-17.6 7.7-25.3s3.8-14.8 5.6-21s4.6-13.3 5.6-16M314.5 212.6c1.5-2.2 5.7-8.1 8.8-12.9s6.9-11.4 10-16.2s6.4-9 8.5-12.3s3.2-5.9 3.9-7.1M310.9 221.7c2.6-3.2 10.7-13.1 15.5-18.8s9.8-10.8 13.4-15.1s6.8-7.8 8.7-10.5s1.9-4.9 2.2-5.8M301.2 206.2c.5-2.8 1.9-10.1 3.2-16.9s3-17.6 4.4-24.3s3.2-11.3 4.3-15.7s2-8.9 2.4-10.7M305.7 213.2c1.1-3.1 3.6-12.9 6.6-18.8s8.8-10.9 11.6-16.4s4.1-12.8 5.4-16.7s2-5.8 2.4-6.9M320.6 217.7c2.7-1.9 11.3-7.1 16.4-11s10.1-9.1 14.3-12.4s8.4-5.9 10.9-7.5s3.4-2.1 4.1-2.5" stroke="#ff9fd8" stroke-width="0.8"/>
<path d="M314.4 218.6c3-2.4 12.6-9.9 18.1-14.5s11-9.4 15-13.1s7.3-7.4 9-9.1s1.4-1 1.6-1.2M310.1 213.5c1.3-2.8 4.5-11.1 7.6-16.6s8.1-11.7 11.4-16.4s6.9-8.6 8.7-11.6s1.9-5.2 2.2-6.2M305.8 213.3c1.2-3.5 5.1-14.4 7.2-21s3.3-12.6 5.1-18.5s4.3-11.4 5.6-16.4s2.2-11.3 2.6-13.6M317.3 214.8c2-2.2 7.4-9 11.9-13.2s11.1-8.4 15.2-11.9s6.5-6.6 9.1-9.6s5.4-7.2 6.5-8.7M310.6 215.7c1.7-2.7 6.4-10.7 10.1-16.3s8.6-12.4 11.9-17.3s5.1-8.9 7.4-12.3s5-6.7 6-8.1M297.7 207.7c.9-3 3.8-11.5 5.8-18.2s4.2-15.8 5.8-21.7s3.5-11.8 4.2-14.1M311.3 210.9c1.7-2.2 6.5-8.4 9.8-13.3s6.9-11.5 10.2-15.9s7.5-8.1 9.5-10.9s2.5-4.6 2.9-5.6" stroke="#f79ad3" stroke-width="0.8"/>
<path d="M310.4 214c1.6-2.6 6.1-10.4 9.6-15.8s8.5-11.8 11.5-16.2s4.9-7.9 6.5-10.5s2.7-4.3 3.2-5.2M306.6 207.8c1.2-2.4 4.3-8.8 6.9-14.3s6.5-13.3 8.6-19s3.4-11.8 4.4-15s1.3-3.8 1.6-4.5M304.4 212.1c1.3-3 4.4-11.9 7.3-18s7.5-13.1 10.1-18.5s4.4-11.5 5.3-13.9M301.8 207.4c.4-2.6 .9-9.5 2.5-15.7s5-14.8 6.7-21.4s2.5-13.2 3.5-18.1s2-9.6 2.5-11.5M311.1 215.7c1.5-2.9 5.7-11.6 9.2-17.2s8.3-11.3 11.7-16s7.1-9.1 9.1-12.1s2.2-4.8 2.6-5.7M309.5 214.7c1.8-2.9 6.9-12 10.5-17.8s7.4-11.7 10.7-16.6s7.2-9.1 9.5-13s3.3-8.7 4-10.5" stroke="#d957b0" stroke-width="0.8"/>
<path d="M314.7 212.5c1.5-2 5.6-7.4 9.5-11.9s9.3-10.3 13.4-14.8s9-9.6 11.5-12.2s3-2.8 3.6-3.4M316.4 217.8c2.6-2.1 10.6-8.4 15.4-12.7s9.3-9.3 13.2-13.1s8.2-7.7 10.2-9.8s1.7-1.9 2.1-2.3M310.4 208.9c1.1-2.3 4.3-8.7 6.9-13.7s5.4-11.1 8.3-16.2s7.1-11.4 9-14.7s1.9-4.4 2.3-5.3M323.5 216.9c2.3-1.6 8.7-6.4 13.9-9.8s12.7-7.5 17.3-10.4s7.8-5.7 10.3-7.4s4-2.1 4.8-2.5" stroke="#e070c0" stroke-width="0.8"/>
<path d="M309.5 215.4c1.7-3.1 7.3-12.6 10.6-18.7s6.4-12.8 9.3-17.7s6.6-9.5 8-11.7s.4-1.2 .5-1.4M309.6 209.9c1.3-2.2 4.3-8.4 7.4-13.4s8.1-11.7 11.2-16.8s5-9.9 7.2-14s4.7-9 5.7-10.8M312.3 221.8c2.4-3.2 9.8-13.3 14.4-19s9.7-10.4 13.3-14.7s6-8.1 8.5-11.3s5.4-6.2 6.5-7.4" stroke="#f283c6" stroke-width="0.8"/>
<path d="M315.3 209c3-3.8 12.7-15.5 18.1-22.5s11-14.5 14.8-19.7s5.4-8.5 7.8-11.5s5.3-5.3 6.3-6.3M325.6 203.8c2.2-2.2 8.2-7.5 13.2-13s12.3-14.5 16.6-19.8s6.7-9.2 9.1-11.7s4-3.2 4.8-3.8M320.8 206.2c2.7-3 11-11.6 16.2-18s11.1-14.8 15.3-20.2s7.2-8.9 9.7-11.8s4.7-5 5.6-6M326.3 207.8c2.4-2.6 9.2-9.4 14.6-15.3s13.1-14.6 17.5-20s6.2-9.6 8.7-12.2s4.9-2.6 5.9-3.1" stroke="#f283c6" stroke-width="0.7"/>
<path d="M320.2 206c2.5-3.2 10.4-12.6 15-19.1s9.4-14.6 13.1-19.9s6.1-9.2 8.8-12.1s6.1-4.7 7.3-5.6M310.5 194.3c1.6-3.1 6.2-12.7 9.6-19.1s7.4-13.4 10.9-18.9s7.7-10.1 9.9-13.7s3.1-6.9 3.7-8.3M312.4 189.2c1.2-2.4 3.7-8.3 6.9-14s9.3-15 12.5-20.4s4.7-9.5 6.3-12.5s2.8-4.4 3.4-5.2M310 197.2c1.8-3.6 7.2-15.4 10.9-21.8s7.5-11.3 10.9-16.7s7.5-11.8 9.8-15.8s3.7-7.2 4.4-8.6" stroke="#ff8ccf" stroke-width="0.7"/>
<path d="M311.3 202.5c2.4-4 9.6-16.6 14.2-23.7s9.7-13.6 13.4-18.7s6.5-8.9 8.8-12.1s4.5-6.1 5.4-7.3M325.6 205.4c2.2-2.6 8.4-9.7 13.2-15.5s11.4-14.4 15.7-19.5s7.1-8.6 9.7-11.6s5.2-5.3 6.3-6.3M332.4 202.5c1.5-1.5 4.5-4.1 9-9s13.5-15.4 18.3-20.8s8.1-9 10.5-11.3s3-2.1 3.6-2.5M313.1 205.2c2.3-3.8 9.4-15.7 14-22.8s10-14.4 13.6-19.8s6.3-9.5 8.5-12.5s3.5-4.5 4.2-5.4M323.4 192.9c1.1-1.7 3.1-5.2 6.7-10s11.1-13.7 15.1-18.9s6-9.6 8.7-12.6s5.9-4.4 7.1-5.3" stroke="#f79ad3" stroke-width="0.7"/>
<path d="M313.7 186.1c.9-2.1 2.5-6.9 5.1-12.2s7.5-14 10.7-19.5s6.8-10.2 8.7-13.5s2.4-5.5 2.9-6.6M321.6 197.4c1.9-2.4 6.8-8.4 11.3-14s11.3-14.3 15.2-19.3s6.4-8.2 8.5-10.8s3.4-3.6 4.1-4.4M328.1 203.1c2.1-2.2 7.8-7.5 12.6-12.8s11.6-13.9 16.1-18.7s8.1-8.1 10.9-10.4s5.2-3.1 6.3-3.7M319.9 197.6c1.8-2.4 6.3-8.9 10.4-14.6s10.2-14.5 14.1-19.9s7.1-9.8 9.2-12.6s2.6-3.6 3.2-4.3M310.6 196.1c1.9-3.1 7.6-12.1 11.4-18.3s7.9-13.6 11.7-18.9s8.4-9.2 11-12.6s3.4-6.3 4.1-7.5M307 195.3c1.7-3.6 7-15.2 10.6-22s8-13.3 11.4-18.8s7.3-10.5 9.4-14.1s2.8-6.3 3.4-7.5" stroke="#ffb0df" stroke-width="0.7"/>
<path d="M321.2 211.9c3.3-3.3 13.5-13.2 19.5-19.9s12.2-14.6 16.6-20.1s7.3-10.1 9.8-12.8s4.3-2.9 5.1-3.5M315.9 205.4c2.8-3.5 11.5-14.4 16.6-21s10-13.2 13.9-18.5s7-10.4 9.5-13.6s4.8-4.7 5.8-5.7M315 192.4c1.2-2.3 4.2-8.6 7.7-14.3s9.6-13.9 13-19.6s6.1-11.2 7.8-14.3s2-3.2 2.3-3.8M326.1 201.6c1.9-2 7.1-6.5 11.4-11.8s10.4-14.6 14.3-19.8s7.2-9.2 9.2-11.7s2.6-2.8 3.2-3.4" stroke="#ff9fd8" stroke-width="0.7"/>
<path d="M327.5 202.2c1.7-2 6.1-6.9 10.2-11.9s10.5-12.7 14.5-17.8s7.1-10.2 9.5-13s4.1-3.2 4.9-3.8M323.8 206c2.5-3 9.6-11.5 15-17.7s13-14.6 17.4-19.6s6.7-8.5 9-10.7s3.9-2.1 4.7-2.6M324 195.7c1.7-2 6.2-7.1 10.2-11.9s10.2-12.1 13.9-17.2s6.4-10 8.5-13.1s3.7-4.2 4.5-5M313.7 190.3c1.2-2.4 4.1-8.5 7.2-14.3s8.1-14.5 11.4-20s5.9-9 8.4-12.9s5.3-8.8 6.3-10.5M322 205.7c2.8-3 11.4-11.5 16.6-17.7s10.1-14.3 14.3-19.3s9-8.9 11.3-11.2s2-2.1 2.4-2.6M316.7 200.4c2-3 7.8-11.9 12.3-18s10.8-13.6 14.7-18.9s6.9-9.9 9-12.8s2.6-3.6 3.1-4.4M315.6 193.7c1.7-2.6 6.6-9.9 10.3-15.9s8.6-14.8 11.8-20.1s5.1-8.3 7.3-12.1s5.1-8.6 6.2-10.4" stroke="#d957b0" stroke-width="0.7"/>
<path d="M226.9 271.4c1.5 .1 4.4 .7 8.9 .5s11.7-.7 18.1-1.7s14.3-2.5 19.8-4.2s11-5 13.2-6M224.8 279.7c2.2 .4 8 2.8 13.1 2.8s11.5-1.8 17.8-3.2s16.8-4.2 20.2-5.1M230.2 281.4c1.2 .2 2.7 1.1 6.9 .9s11.7-.4 18.2-1.9s15-4.6 20.9-6.8s12-5.3 14.4-6.4M234.8 278.9c.4 0-1.1 .3 2.4 .2s12.2 .3 18.4-1.1s13.3-5.2 18.9-7.6s12.4-5.4 14.9-6.5M223.5 271.8c2.3-.3 8.9-1.2 13.8-1.6s10.1 .5 15.9-.8s13.1-4.8 18.5-6.7s11.7-3.7 14.1-4.5M228.7 281c1.7 .2 5.6 1.4 10.1 1.6s10.3 .4 16.6-.8s16.2-4.5 21.6-6.5s9.1-4.6 10.9-5.5M238.3 270.2c2.2 0 7.9 1.1 13.5 .1s16.4-4.9 19.6-5.9M222.8 272.4c2.1 .1 7.3 .7 12.5 .5s12.3-.5 18.4-2s12.3-4.6 18.4-6.7s15.3-4.8 18.4-5.8M230.8 279.4c.6 0-.5 .1 3.4 0s13.2 .6 19.6-.7s14.7-5.4 18.9-7s5.1-2.4 6.1-2.9M226.2 267.4c1.4 0 4.1 .5 8.4 0s11.4-1.5 17.4-2.6s13.2-2.8 18.9-4.3s13.1-3.9 15.7-4.6" stroke="#c4721f" stroke-width="1.0"/>
<path d="M237.6 282.4c.3 0-1.4 .8 1.5 .2s10.5-2.5 16.2-4.1s13-3.2 18.3-5.1s11.1-5.2 13.3-6.2M234.7 271c2.8-.1 10.4 .4 16.6-.8s13.2-3.8 20.1-6.3s17.6-7.2 21.2-8.7M225.2 282.4c2.2 .7 7.7 3.5 13 3.7s12.3-1 18.9-2.2s13.4-2.2 20.6-5.2s18.6-10.3 22.4-12.4M237.8 264.6c1.9-.4 6.2-1.2 11.5-2.5s14.5-3.5 20.2-5.1s11.9-3.8 14.2-4.5M239.8 286c2.8-.3 11.2-.7 17.1-2.2s15.4-5.6 18.4-6.7M229.5 266.2c.7-.1 .5-.3 3.9-.6s10.4 0 16.6-1.2s14.9-4.2 20.4-5.9s10.2-3.8 12.3-4.5M236.7 266.4c2.6-.4 10.2-.8 16-2.1s12.8-3.6 18.5-5.3s13.4-4.2 16.1-5M228.8 280.6c1.7 .2 5.6 1.8 10 1.4s10.2-2.3 16.4-4s14.8-3.8 21.2-6.1s14.4-6.4 17.2-7.6M238.1 277c.2 0-1.7 .4 1.2 .1s10.3-.3 16.3-1.6s14.7-4.5 19.8-6.2s8.9-3.4 10.7-4.1M236.1 279.6c.1 .1-2.6 .8 .8 .2s13-1.9 19.4-3.4s12.9-3.9 19-6s14.6-5.5 17.5-6.6M219.3 273.3c2.6 .1 10.4 .7 16 .5s11.6 0 17.7-1.4s15-5.5 18.8-6.8s3-1.1 3.7-1.4M233.8 271.4c.2 0-1.9 .3 1.1 .1s11-.6 16.7-1.6s14.5-3.4 17.5-4.1M219.8 269.3c2.2-.1 8-.4 13.1-.9s12-.9 17.7-1.9s14-3.6 16.7-4.4M232.6 277.1c.4 0-.9 .2 2.7 .2s12.1 1 18.6-.2s15.2-5.4 20.5-7.2s9-3.2 10.8-3.9M230.7 269.5c.6 0 .4 .8 3.9 .3s10.9-1.9 17.1-3.1s15.2-2.9 20.1-4.2s7.4-3.2 8.9-3.9M228 272.1c1.5-.1 4.6-.3 9.1-.5s11.6 .3 17.8-1.1s15.1-5.6 19.4-7.2s5.5-2 6.6-2.4" stroke="#b5621a" stroke-width="1.0"/>
<path d="M221.7 269.9c2.3 0 8.5 0 14-.2s12.7 .1 19-.9s14.4-3.8 18.6-5s5.3-2.2 6.4-2.7M236.1 264.5c2.6-.3 10-.4 15.6-1.7s12.3-3.5 18.5-5.6s15.5-5.7 18.6-6.8M238 274.3c2.4-.2 8.2-.4 14.1-1.4s16.2-2.9 21.2-4.3s7.5-3 9-3.6M227.8 279.4c1.6 .2 4.8 .9 9.4 .8s11.6-.3 18.1-1.3s15.6-2.5 20.9-4.3s9.1-5.4 10.9-6.5M235 284.8c.3 0-1.9 .5 1.7 .4s13.3-.2 20-1.5s16.7-5.1 20.1-6.1s.2-.1 .2-.1M220.3 270.9c2.8-.1 11.2-.2 16.5-.5s9.3-.6 15.4-1.5s15.8-3.1 21-4.4s8.6-2.9 10.3-3.5M235.9 272.5c.2 0-1.9 .4 1 .1s10.9-.5 16.7-1.9s12.2-4.5 17.9-6.3s13.4-4 16.1-4.7M231.2 281.1c1.1 .1 2.4 1 6.6 .7s12.3-1.3 18.8-2.6s13.7-2.7 20.4-5.6s16.8-9.7 20.1-11.7M221.3 269.6c2.2-.1 8.5-.1 13.4-.4s9.7-.2 15.9-1.3s15.3-3.5 21.3-5.4s12.7-5.1 15.2-6.2M235.1 269.8c2.6-.5 9.8-1.5 15.7-3.1s15-4.9 19.5-6.3s6-1.8 7.2-2.2M220.4 265.7c2.6 0 9.8 .4 15.4 .1s12-.9 18-1.9s14-3.1 17.7-4.1s3.9-1.3 4.7-1.6M230.8 275.4c.9 .1 1.6 .9 5.3 .5s10.7-1.1 17-2.6s15.2-4.7 20.8-6.9s10.7-5.4 12.9-6.5M223.7 277.6c2.2 .3 7.7 1.5 13 1.5s12.2 .1 18.5-1.3s14.8-5.7 19-7.3s5.1-2 6.1-2.4M225.3 271.9c1.8 0 6.1 .1 10.9 .1s12.2 .9 18.2-.1s12.9-4.4 18.1-6.3s10.8-4.5 12.9-5.4M219.2 262.4c2.3 .1 8.8 1.2 13.9 .8s11.3-2.4 16.7-3.4s13.1-2.3 15.7-2.7M227.7 269c1.3 .2 4 .8 8.2 .7s10.4-.4 16.7-1.4s14.7-2.9 21.1-4.8s14.3-5.9 17.1-7M222.6 264.8c2.2-.1 8.2-.5 13.1-.6s10.6 .8 16.3-.2s14.3-4.6 18.2-5.7s4.2-.8 5-1M222.8 276.7c2.4 .5 8.8 2.8 14.3 3.1s12.4 .3 18.7-1.1s12.4-4.7 19-7.2s17.6-6.5 21.1-7.8M227.2 270.9c1 0 1.9 .4 6 0s12.2-1.2 18.8-2.8s14.4-4.7 20.8-6.7s14.5-4.4 17.4-5.3" stroke="#a85400" stroke-width="1.0"/>
<path d="M229.6 286.1c1.5 .4 4.4 2.4 9 2.3s11.9-2 18.6-3.4s15.3-2.8 21.9-5.1s14.5-7.2 17.4-8.7M222.5 286.4c2.5 .3 9.4 2.1 15.1 2.2s12.1-.6 18.7-2.1s16.8-5.9 20.8-7.4s2.8-1.6 3.4-1.9M230.1 279.2c1.2 .1 3 1 7.1 .8s11.3-.8 17.5-2.2s13.4-3.8 20-6.1s16.3-6.5 19.6-7.8M237.3 266.9c2.5-.3 9.9-.9 15.4-2.1s13-3.7 17.3-5.1s6.9-2.9 8.3-3.5M231.9 281.7c.8 .2 1.2 1.2 5.2 1s12.7-.5 18.9-1.9s14.6-5.6 18-6.9s2.1-1 2.5-1.2M233 281.5c.7 .1 .5 .5 4.5 .5s12.6 .7 19-.8s15.3-6.2 19.5-7.9s4.6-1.9 5.5-2.3M227.1 270.5c1.4 .4 4.2 2.2 8.5 2.3s11.4-.5 17-1.6s13.9-3.8 16.6-4.6M223.3 280.5c2 0 6.4 .5 11.7 .4s13.1 0 20.1-1.2s16.7-4.1 22-5.9s8.1-4 9.8-4.8M222.4 281.1c2.6 .4 9.6 2.2 15.2 2.1s12.4-1.4 18.6-2.9s13.6-4.3 18.1-5.9s7.3-3.1 8.7-3.7M234.2 280.6c.6 .1-.2 1.1 3.4 .9s11.9-.7 18.2-2.3s12.6-4.5 19.5-7.1s18.3-6.8 21.9-8.1M232.2 263.3c.3 0-1.4 .5 1.7 .1s11.1-1.6 16.8-2.8s12.9-3.3 17.4-4.6s8-2.7 9.6-3.2M230.1 267.8c.7 0 .6 .1 4.2 0s11.9-.1 17.6-.8s13.9-3.2 16.7-3.8M237.6 265c2.2 0 7.4 .8 13.3-.2s17.4-4.7 22.2-6s5.6-1.8 6.7-2.2M224.3 267.2c1.7 .1 6.1 1 10.6 .7s10.4-.9 16.2-2.1s14.9-4.2 18.9-5.4s4.2-1.3 5-1.6M223.1 268.1c1.8 .2 5.9 1.1 10.9 1s12.8-.6 19.1-1.6s13.3-2.9 18.6-4.4s10.8-4.3 13-5.1M231.3 281.8c1 .3 1.9 1.8 6 1.6s12-.8 18.6-2.6s15-6 20.9-8.4s12.4-5.1 14.9-6.1M218.8 268.1c2.9 .1 11.6 .9 17.4 .8s11.2-.1 17.2-1.1s13.6-3.4 18.9-4.8s10.8-3.4 12.9-4.1M227.9 265.8c.9 .1 1.5 .7 5.3 .5s11.9-.6 17.9-1.9s14.3-4.7 18.4-6s4.8-1.5 5.8-1.8M229 276.3c1.6 .1 5.3 1 9.5 .9s9.9 0 15.8-1.5s13.1-5.2 19.4-7.5s15.2-5.1 18.3-6.1M223.2 275.6c2.2 .3 7.7 1.9 13.1 1.6s12.4-1.5 19-2.9s17.2-4.2 20.8-5.2s1-.3 1.2-.4M223 271.8c2.2-.1 8.8-.3 13.6-.6s9.4 .1 15.3-.9s16.5-4 19.8-4.8M219.4 265.7c2.5-.2 9.6-.9 15.1-1.5s12.1-1.1 17.7-2.2s13.3-3.8 16-4.6M231.6 272.3c.6 .1 0 1.1 3.5 1s11.4-.3 17.6-1.6s14-4.4 19.6-6.3s11.8-4.1 14.1-4.9" stroke="#d58428" stroke-width="1.0"/>
<path d="M219.4 265.5c2.4 .2 8.8 1.3 14 1.1s11.5-.6 17.6-1.9s15-4.4 19.2-5.8s4.9-1.9 5.9-2.3M240.6 279c2.4-.3 8.9-.2 14.4-1.8s12.5-5.1 18.3-7.4s13.6-5.4 16.3-6.5M231.1 268.6c.3 0-1.5 .6 2 .3s12.2-1.1 18.6-2.4s16.5-4.3 19.8-5.2M232.4 265c.5 0-.3 0 2.8-.1s9.8 .8 15.5-.4s12.6-4.5 18.4-6.3s13.6-4 16.4-4.8M236.4 272.1c.1 0-2.5 .5 .3 .1s11-1.5 16.7-2.9s14.4-4.6 17.3-5.5M231.6 282c1.1 .2 2.5 1 6.6 .8s12-.7 18.2-2.1s16-4.9 19.3-6s.8-.4 1-.5M220.2 273.6c2.4 .2 9.1 1.3 14.6 1.2s12.7-.6 18.5-1.8s14-4.5 16.8-5.4M222.3 265.4c2.1 .3 7.4 1.6 12.6 1.5s12.8-.4 18.7-1.7s13.3-4.6 16.6-5.8s2.8-.8 3.4-1M223.1 275.7c2.3 .3 8.3 1.7 13.5 1.7s11.4-.4 17.9-1.5s16.6-3.8 21.3-5.1s5.9-2.6 7-3.1M225 281.2c2.4 .3 9.2 1.9 14.6 1.9s11.9-.2 17.8-2s14.7-7.3 17.6-8.8M232.1 272.5c.6 .1 0 1 3.4 .6s11.1-1.8 16.9-2.8s14.5-2.9 17.5-3.5M237.1 285.4c.1 0-2.6 .5 .4 0s11.3-1.3 17.7-2.9s17-5.5 20.4-6.6M230.2 283.7c1.1 .3 2.7 2.1 7 1.9s12-1.5 18.3-3s14.4-3.6 19.9-5.8s11-6 13.2-7.2M220.6 269.4c2.3 .2 8.6 1 13.8 .9s10.9-.7 17.2-1.7s15.3-2.9 20.8-4.4s10.1-3.7 12.1-4.4M237.6 281.6c.2 0-2.2 .3 .8 .1s11.4-.2 17.2-1.2s14.7-3.9 17.6-4.7M237.2 287.2c3-.3 11.9-.1 18.5-1.6s14.4-5.1 20.9-7.7s15.3-6.6 18.3-7.9M226 281.3c2.2 .3 8.3 1.9 13.3 1.9s10.6-.5 16.7-1.7s13.1-3 20.1-5.7s18-8.6 21.6-10.3" stroke="#cc7a25" stroke-width="1.0"/></g>
<path d="M300 238C306.3 230 318.7 219.5 328 214C337.3 208.5 347.7 206 356 205C364.3 204 371.7 205.5 378 208C384.3 210.5 390 215.7 394 220C398 224.3 401.7 229.7 402 234C402.3 238.3 399 243.2 396 246C393 248.8 389.2 249 384 251C378.8 253 372.3 255.3 365 258C357.7 260.7 349.2 263.3 340 267C330.8 270.7 319.3 276.2 310 280C300.7 283.8 287.3 293 284 290C280.7 287 287.3 270.7 290 262C292.7 253.3 293.7 246 300 238Z" fill="#74140f" fill-opacity="0.88"/>
<g fill="none" stroke-linecap="round"><path d="M234 301.2c5.4-4.2 21-16.1 32.6-25.1s25.6-21.3 36.7-29.2s20.3-13.6 29.8-18.3s19.1-8.9 26.8-10.2s12.9 .9 19 2.3s12.7 2.9 17.4 6.1s9.1 10.7 11 12.8M244.3 310.3c4.6-2.9 17.4-11.6 27.7-17s22.8-10.4 34.1-15.3s23.7-10.6 33.4-14.3s18-5.7 25.3-8.3s15.1-5.7 18.4-6.9s1.1-.2 1.4-.2M242.5 309c4.4-2.7 15.5-10.7 26.4-16.5s27.1-12.9 38.6-18.2s21.1-9.5 30.6-13.6s19-8.4 26.3-10.9s14.3-3.7 17.7-4.4s2.4 0 2.9 0M253 302.6c3.1-2.2 9.6-7.9 18.6-13.2s24.4-13.2 35.6-18.8s22.4-10.9 31.8-14.8s16.8-6.3 24.4-8.6s15.8-4.5 21.5-5.1s9.9 .3 12.5 .9s2.5 2.3 3 2.8M234.7 297.3c4.7-4.2 17.4-15.4 28.5-25.1s26.8-24.3 38.2-33.2s20.5-15.2 30-19.8s18.3-7.3 26.6-8.1s18.2 2.4 23.1 3.5s5.3 2.6 6.4 3.2M232.9 298.9c5.3-4.6 20.5-17.5 31.7-27.8s24.6-24.5 35.8-33.5s21.6-15 31.3-20.1s18.9-9.6 26.9-10.9s15.6 1.4 20.7 2.9s8.3 5.1 10 6.1M264.5 296.8c1.7-1 3-1.6 10.3-6.1s23.3-14.8 33.8-20.6s20.3-10.1 29.5-14.2s18-8 25.6-10.4s16.1-3.8 20.1-4.4s3.2 1 3.9 1.1M238.1 312c6-4.2 23.9-17.7 35.5-25.2s23.7-13.8 34.6-19.7s21.4-12 30.5-15.9s17.3-5 24.5-7s13.2-4.3 18.6-5.1s10.5-.5 13.8 .6s5.4 4.9 6.4 5.9M243.3 290.5c3.4-2.7 10.6-8 20.4-16.3s26.6-24.4 38.3-33.4s22-15.5 31.4-20.3s17.2-6.8 25-8s15.5-1.3 21.7 .8s11.3 9.1 15.1 12.2s6.1 5.1 7.3 6.2M231.2 296.8c5.4-4.5 20.7-15.8 32.3-26.8s26.3-29 37.7-38.8s21.9-14.9 30.9-19.7s15.7-8 23.3-8.7s18.9 4 22.7 4.8M260 286.9c1.1-.8-.2 .7 6.8-4.9s24.3-21.2 35.4-28.6s21.5-11.5 31-15.5s18.1-6.7 26.1-8.4s15.4-2.6 21.5-2.3s11.2 2 15 4s6.2 7.1 7.5 8.5M239.2 312.9c6.3-3.1 25.7-12.6 37.3-18.6s22.3-12.3 32.6-17.5s20.5-9.6 29.5-13.6s16.7-7.9 24-10.3s14.7-3.6 19.7-4.4s8.6-.4 10.3-.5M252.5 285.7c2.2-2 5-4.7 13.5-11.8s26.1-22.4 37.3-30.7s20.6-14.7 29.7-19s17.4-5.5 25.1-6.6s15.9-1.3 21.2-.1s8.9 5.6 10.6 6.8M236.7 310.1c5.6-4.1 22.1-17.1 33.4-24.8s23.9-14.9 34.7-21.4s21-13.1 30.5-17.7s18.8-8.2 26.5-10.4s13.8-3.2 19.7-3s12.5 2.7 15.7 3.9s2.5 2.5 3 3M236.3 298.4c4.8-3.7 17.9-14 28.9-22.2s26.3-20 37.4-27.5s19.7-13.3 29.3-17.9s20.3-8 28.3-9.7s14.5-1.2 19.6-.4s9.1 4.6 10.9 5.5M234 300.5c5.3-4.5 20.4-17.4 31.9-26.9s26.2-21.4 37.3-29.7s20-14.8 29.3-19.8s18.4-9.2 26.7-10.2s17.8 3.4 22.7 4.6s5.4 1.8 6.5 2.2M251.1 284.6c2.2-1.8 4.9-4.1 13.2-11.1s25.7-22.5 36.6-30.8s19.6-14.4 28.9-19.4s19.5-8.8 27.3-10.1s13.2 .5 19.4 2.2s14.1 6.2 17.5 8.1s2 2.9 2.4 3.5" stroke="#8e2614" stroke-width="1.0"/>
<path d="M245.2 300c4.1-2.8 13.8-9.9 24.3-16.7s27.5-17.6 38.7-24s19.3-10.5 28.3-14.9s18-9.5 25.5-11.5s14.8-.4 19.6-.2s7.6 1.1 9.2 1.3M256.1 294.3c2.8-1.6 8.2-4.4 16.5-9.7s22.6-15.6 32.9-22.2s19.7-13.3 29-17.5s19.6-6.3 27.3-8s13.3-2.1 19.1-2.3s10.9-.3 15.3 1.4s9.3 7.4 11.2 8.8M261.8 288.8c1.4-1 .7-.8 8.1-6.1s25.2-18.8 36.2-25.9s20.2-12.7 29.5-16.6s18.7-4.9 26.3-6.3s14.7-2 19.8-1.8s9 2.4 10.8 2.9M244.8 293.9c3.4-2.6 10.5-7.6 20.2-15.5s26.3-23 37.8-31.6s21.7-15.4 30.9-20.2s16.6-7.4 24.3-8.7s17.4 .7 22 1.4s5.1 1.9 6.1 2.3M236.9 314.4c5.8-4.1 23-17.3 35.1-24.2s26.2-12.5 37.5-17.7s21-9.6 30.3-13.4s18.1-7.5 25.6-9.8s15.3-3.6 19.4-4.3s4.4 .1 5.3 .1M247 295.6c3.3-2.6 10.4-8.5 19.9-16s26.2-20.7 37.3-28.7s19.8-14.9 29.4-19.6s20.1-7.1 28-8.6s13.3-1.7 19.6-.5s14.7 6.3 17.8 7.8s.6 .9 .7 1M237.3 307.7c5.4-4 21-15.8 32.4-24s25.1-18.8 35.9-25.5s19.6-10.9 28.7-14.7s18.2-6.6 25.9-8.3s15.3-2 20.5-1.9s8.5 2.2 10.2 2.6M234.9 305.1c5.2-4.3 19.2-17.2 31.1-26.2s28.5-20.8 39.9-28.1s19.2-11.2 28.2-15.3s17.9-7.6 25.7-9.1s17.2-.4 21.2-.2s2.3 1.1 2.7 1.3" stroke="#7a1712" stroke-width="1.0"/>
<path d="M250.9 284.7c2.1-1.8 4.3-3.3 12.8-10.9s27.1-25.6 38.1-34.3s19.4-13.2 28.4-17.8s17.3-8.5 25.8-9.7s20.6 1.9 25.3 2.6s2.5 1.2 3 1.5M239.2 293.1c4.3-3.2 15.4-10.8 26-19.6s26.3-25 37.6-33.4s20.9-12.7 30.2-17.1s17.5-8.2 25.4-9.5s15.4-.2 22 1.4s13.1 5.1 17.4 7.9s7.2 7.6 8.6 9.1M269.6 296.2c.9-.5-1.1-.3 5.8-3.1s24.2-9.5 35.2-13.9s21.7-8.9 30.7-12.9s16-8.8 23.5-11.4s17.3-3.5 21.6-4.3s3.3-.9 3.9-1.1M247.6 289.8c3.1-2.4 9.1-7.4 18.1-14.6s24.6-20.7 35.7-28.7s21.2-14.9 30.7-19.4s17.9-5.9 25.9-7.4s15.8-2.4 22-1.4s12.3 6.2 15.1 7.8s1.5 1.6 1.8 1.9M257.2 305.1c3.2-2 10.3-7.4 19.1-11.9s23.3-10.7 33.9-15.6s20.9-9.8 30.1-13.5s17.4-6.2 24.9-8.8s15.1-5.4 20.2-6.6s8.6-.3 10.3-.4M259.7 278.6c1.1-.8-1.1 1.1 6.3-4.9s26.4-22.7 37.8-30.9s21.6-13.3 30.8-18.4s16.7-10.6 24.5-12.1s15.8 1.1 22.2 3.1s12.4 6 16 8.5s5 5.7 6 6.8M241.5 309.1c4.9-3 18-12 29.4-18s27.6-12 38.7-18.1s19.5-13.7 28.3-18.5s16.7-8.4 24.5-10.3s16.5-1 22.1-1.3s8.3-1.4 11.2-.5s5.4 5 6.5 6M253.6 293.1c2.5-1.9 6.7-5.7 15.1-11.2s24.2-15.7 35.3-21.9s21.7-11 31.2-15.2s18.1-8.2 25.7-10.2s16.2-1.7 19.4-2.1M245.8 301.9c4.1-3 14.7-10.9 24.8-18.3s25.1-18.4 35.9-25.6s19.9-12.8 28.9-17.1s18-6.6 25.6-8.5s14.5-3 20.1-2.6s11.1 4 13.6 5.1s1.2 1 1.4 1.2M247.3 287c3-2.4 8.9-6.4 17.9-14.5s25-24.6 36-33.7s20.8-16 30.3-21s18.7-7.9 27-8.6s15.6 2.3 22.3 4.4s14.5 6.7 17.8 8.6s1.8 2.3 2.2 2.7M265.2 293.6c1.2-.6-.2 .1 6.8-3.9s24.9-14.7 35.7-20.3s20.4-9.7 29.4-13.1s16.5-5.1 24.4-7.2s18.1-4.3 22.8-5.3s4.7-.4 5.6-.5M247.9 296.1c3.2-2.7 9.3-9.2 18.9-15.8s27.6-17.1 39-23.9s20.1-12.2 29.2-16.6s17.4-7.7 25.1-9.5s16.1-1.7 21.2-1.4s7.9 2.9 9.4 3.5M252.2 301.9c3.3-2.3 10.4-8 19.5-13.8s24.4-14.4 35.2-20.7s20.3-12.6 29.7-16.9s19-6.9 27.1-8.8s16.1-2.2 21.9-2.5s10.5-.1 13.4 .7s3.5 3.1 4.2 3.8M237 293.5c4.2-3.7 14.6-13 25.2-22.4s27.1-24.8 38.3-33.8s19.4-15.4 28.6-20.2s18-7.7 26.5-8.5s17.4 1.4 24.5 3.8s13.1 6.5 17.8 10.3s8.4 10.7 10 12.9M246.1 302.1c4-2.5 13.8-8.6 23.8-14.9s25.3-16.6 36.1-23.4s18.8-13.3 28.2-17.3s20.2-5.1 28.2-6.8s14.1-3.2 19.8-3.7s11-.9 14.9 1s7.3 8.5 8.8 10.3M246.8 286.7c2.9-2.5 8.4-7.3 17.5-15.2s26.2-23.4 37.4-32.3s20.5-16.5 29.7-21.5s17.2-7.1 25.3-8.2s18.6 .6 23.4 1.3s4.1 2.5 4.9 3" stroke="#85190f" stroke-width="1.0"/>
<path d="M236.3 299.2c4.9-4.2 18.2-15.9 29.3-25.4s26.1-23.3 37.1-31.6s19.8-13.5 28.7-18.1s16.9-8.3 24.9-9.5s18.3 1.3 22.8 2s3.6 1.9 4.3 2.3M241 292c3.9-3 12.9-9.8 23.2-17.8s27.4-22 38.8-30.2s21-14.3 29.9-18.9s16-7.5 23.7-8.8s18.5 .8 22.6 1.2s2 .9 2.4 1M267.3 296.5c1.2-.8 0-1.1 7.2-4.6s25.2-11.2 36.2-16.5s20.8-11.2 29.7-14.7s16.9-3.7 24.1-5.9s13.1-5.4 18.8-7.1s11.7-3.7 15.3-3.2s5.2 5.2 6.3 6.2M261 286.1c1.5-1.2 1.6-.8 8.9-7s24.2-22.4 35-30.1s20.9-11.8 30.3-16.3s18.5-9.3 26.2-11s15.7 0 20.1 .6s5.4 2.4 6.4 2.9M256.5 305.9c3.1-1.7 9.5-5.7 18.6-9.8s24.6-9.7 35.6-14.6s21.1-11 30.1-14.6s16.2-4.5 23.6-6.6s16.6-4.9 21.4-6.3s6.2-1.5 7.4-1.9M260.8 302.7c2.2-1.2 4.7-2.8 12.9-7.4s25.7-14.5 36.4-20.1s18.4-9.1 27.6-13s19.5-8 27.3-10.3s13.8-2.3 19.2-3.1s9.7-2.3 12.8-1.9s5 3.6 6 4.3M232 305.3c5.9-4.2 23.2-16.5 35.1-25.1s25.2-18.8 36.1-26.1s19.5-13.1 28.7-17.7s18.9-8.1 26.7-9.7s13.8-.9 20.1 0s13.9 3.8 17.6 5.4s3.4 3.7 4.1 4.4M240.8 294.8c3.8-3.2 12.9-11.1 22.9-19.1s25.8-20.6 37.1-28.6s21.4-15 31-19.8s19-7.9 27-8.9s15.5 1.3 21.3 2.9s11.6 6 13.9 7.1M253.9 300.7c3.2-1.8 10.1-5.9 19-11s23.6-14.1 34.6-19.9s22-11 31.4-14.8s17.4-5.9 25.1-7.7s16.1-2.8 21.1-3.4s7.3-.1 8.8-.1" stroke="#700f0c" stroke-width="1.0"/>
<path d="M251.1 282.9c2-1.8 4.2-3.9 12.3-10.8s25.6-22.1 36.6-30.6s20.3-15.5 29.6-20.2s18.2-7 26.2-8.1s14.6-.6 21.7 1.3s15.8 6.6 20.9 10.3s7.7 10.1 9.3 12.1M244.1 304.4c4-2.7 13.1-10.4 23.6-16.2s28.1-13.3 39.6-18.9s19.9-10.9 28.9-15.2s17.4-8 25.1-10.2s15-2.8 21-3.3s11.2-1.1 14.9 .2s6.3 6.3 7.6 7.5M242.9 297.7c4.2-3.1 14.5-11.4 24.8-19s26.3-18.7 37.3-26.2s19.1-13.9 28.4-18.8s19.6-9.5 27.5-11s16.3 1.3 20 1.6s1.5 .5 1.8 .6M238.9 310.8c5.3-3.9 20.6-15.3 31.8-23s24.4-16.8 35.4-23.2s21.2-11 30.6-15.1s17.9-7.2 25.8-9.5s16-3.8 21.7-4.2s9.7 1.3 12 1.9s1.4 1.6 1.6 1.9M246.8 288.8c2.7-2.3 7-6.2 16.2-14.1s27.7-24.3 39-33.4s19.4-15.8 28.8-20.9s19.9-8.9 27.7-10s12.6 1 19 3.3s13.9 7.1 18.9 10.8s9.3 9.8 11.2 11.7M237.5 301.4c4.9-3.5 18.3-13.4 29.4-21.4s25.6-19.2 36.9-26.4s21.4-12.3 30.8-16.8s17.6-8.2 25.2-10.1s13.8-2.3 20.3-1.4s14.5 5 18.2 7.1s3.4 4.3 4.1 5.2M243 301.2c4.2-2.7 15.4-9.2 25.4-16.1s23.8-18.6 34.8-25.6s21.7-12.2 31.2-16.6s18.1-8.4 26-10s15.5 .1 21.7 .2s11.4-1.7 15.9 .6s8.9 11 10.7 13.2M261.5 283.4c1.2-1 .2 .2 7.4-5.8s24.9-22.1 35.7-29.8s20.1-11.8 29.2-16.2s17-8.9 25-10.2s18.5 1.7 22.8 2.3s2.7 1 3.3 1.1" stroke="#b5621a" stroke-width="1.0"/>
<path d="M247 287c2.7-2.1 6.8-5 16-12.6s27.5-23.8 39.2-32.6s21.2-15.8 30.6-20.3s18.3-6 26.1-6.9s14.2 0 20.4 1.5s12.2 4.2 16.8 7.6s9 10.6 10.8 12.7M262.6 298c1.6-1.2 2.3-3.1 9.8-7.2s24.3-12.3 35.1-17.5s20.7-9.7 29.9-13.8s17.4-8.5 25.1-10.8s16.5-2.3 21.3-3s6-.9 7.2-1.1M248.9 285.1c2.4-2.1 5.4-5.2 14.3-12.5s27.5-22.4 38.7-31.3s19.4-17 28.5-21.8s18.5-6.7 26.7-7.3s18.5 2.9 22.4 3.5s.6 .3 .7 .4M254.1 306.2c3.4-2.1 10.5-7.5 20.3-12.2s27.3-11 38.3-15.6s19-8.3 28-11.8s18.6-6.5 26.1-9.1s14.7-5.2 19.1-6.5s6.4-1 7.7-1.2M256 302.6c2.7-1.6 7.2-4.7 16.3-10.1s27.2-16.2 38.3-22.3s19.9-10.2 28.4-14.2s15.9-7.4 23.1-9.8s14.2-4 20.2-4.2s12.3 1.8 15.8 3.1s4 3.9 4.9 4.6M238.6 304.3c4.9-3.7 18.7-14.5 29.3-22.4s23.1-17.9 34.3-25s23.1-12.9 32.8-17.5s17.9-8 25.4-9.8s13.5-1.4 19.9-.8s14.9 3.5 18.2 4.6s1.4 2.1 1.6 2.5M246.6 292.4c3-2.4 8.8-6.9 18-14s25.6-21 36.8-28.6s20.9-13.1 30.4-17.2s18.2-6 26.2-7.4s15.1-1.7 21.7-1s14.6 3.8 18.2 5.3s2.6 3.2 3.1 3.8M254.3 295.6c2.9-2 8.7-5.5 17.3-11.7s23.9-18.2 34.4-25.2s19.6-12.2 28.5-16.6s16.9-7.9 24.5-9.8s16.4-2.2 21.3-2s6.6 2.5 8 3M251.4 310.3c3.8-2.1 13.1-8.1 22.7-12.8s24.3-10.8 35.3-15.6s20.8-9.8 30.3-13.7s19.3-7.6 26.8-9.7s15.5-2.8 18.6-3.4s.1 0 .1 0" stroke="#82190f" stroke-width="1.0"/>
<path d="M244.1 306.8c4.5-2.9 16.8-11 27.1-17.8s23.6-16.4 34.5-23s21.3-13.2 30.7-17.1s18.7-4.3 26.2-5.9s15.7-2.9 18.8-3.5M233.3 298.8c5.3-4.1 20.2-16.2 31.5-24.8s25.4-19.6 36.6-27.3s21.9-14.5 31-19s15.9-6.9 23.8-7.9s18.6 1.4 23.5 2.2s5 2.1 6 2.5M239.9 312.9c4.9-3.4 18.3-14.3 29.5-20.7s26.2-12.5 37.8-17.9s22-10.5 31.4-14.9s17.8-9 24.9-11.5s15.1-2.6 18.1-3.1M245.7 302.1c4.3-3 15.8-11.9 26.1-18.2s24.6-14 35.5-19.9s20.7-11.5 30.1-15.7s18.4-7.5 26.2-9.3s15-1.6 20.5-1.3s10.2 2.4 12.4 3.1s1.1 .8 1.3 .9M228.9 301.8c5.5-5 20.8-19.4 32.8-30.1s27.5-25.6 39.1-34.5s21.5-14.1 30.8-18.7s17.8-7.7 25.3-8.6s13.1 .9 19.5 2.9s14 6.3 18.4 9s6.8 6.4 8.1 7.7M255.4 293.4c2.3-1.5 5.7-3.1 13.8-9.3s23.6-20.9 34.7-28.2s22.5-11.4 32-15.4s17.6-6.6 25.1-8.5s15.3-3.2 20.3-3s8.3 3.4 10 4M252 302c3.4-2.2 11.1-7.7 20.4-13.5s24.7-15.6 35.6-21.6s20.8-10.5 29.8-14.4s16.4-6.5 24.1-9s18.5-4.9 22.2-5.9s.3 0 .4 0M247 290.3c3.1-2.8 9-8.3 18.3-16.3s26.6-23.1 37.9-31.7s20.6-15.1 29.8-20s17.3-8.9 25.2-9.8s16.1 2.5 22.4 4.6s11.2 4.1 15.7 7.4s9.5 10.5 11.4 12.6M258.4 289.8c1.7-1.4 2.3-3 10.6-8.5s27.6-17.8 39-24.7s20.3-12.7 29.3-16.5s17-5.2 24.4-6.5s14.2-1.4 20.1-1.2s11.9 1.4 15 2.5s3.1 3.3 3.7 3.9M231.9 302.3c5.3-4.6 20.3-18 31.9-27.7s26.3-22 37.9-30.4s22.4-14.5 31.9-19.6s17.1-9.6 24.8-11s15.6 .7 21.8 2.6s11.3 6.1 15.4 9.1s7.4 7.3 8.9 8.8M258.2 277.6c1.1-1 .3 .3 7.1-5.9s22.7-22.5 33.7-31.4s22.5-17.4 32.2-22.4s17.8-7.1 25.8-8.1s16.7 .3 22.3 1.8s9.3 6 11.2 7.2M252.8 295.9c3-2 8.7-5.9 17.7-11.6s25.5-16.3 36.3-22.8s19.7-11.6 28.7-15.9s17.7-8.1 25.3-10s16-1.4 20.6-1.3s6.2 1.3 7.5 1.6M236.4 302.8c5.6-4.2 22.1-16.6 33.5-25.4s23.9-20 34.8-27.1s21.2-11.2 30.7-15.4s18.6-8.3 26.4-10.1s16.4-1 20.1-1s1.7 .6 2.1 .8M238.5 301.7c4.8-3.7 18.2-13.3 29.1-21.8s24.9-21.5 35.9-29.2s20.5-12.3 29.8-17.1s18.6-9.7 26.1-11.5s15.5 .4 19.4 .8s3.3 1.6 4 1.9M254.2 287.9c2.3-1.8 5.3-4.2 13.7-10.3s25.8-19.6 36.8-26.6s20.2-11.8 29.3-15.8s17.1-6.8 25.1-8.6s16.8-3.4 22.9-2.7s11.5 5.5 13.8 6.6M241.2 287.6c3.4-3 10.5-9.2 20.6-18s28.5-25.2 40-34.7s19.6-17.5 28.7-22.3s17.8-5.3 25.5-6.2s14.5-1.4 21.2 .8s15.1 10.1 18.7 12.8s2.4 3.2 2.9 3.8M238.6 295.8c4.4-3.7 15.7-13.3 26.1-22.5s25.1-23.3 36-32.3s19.7-16.8 29-21.8s18.4-7 26.6-7.8s16.2 1.6 22.7 3.5s11.9 4.5 16.1 7.9s7.5 10.4 9 12.4" stroke="#5e0a08" stroke-width="1.0"/>
<path d="M248.2 284.8c2.8-2.2 8.1-5.8 16.8-13.3s24.5-22.4 35.5-31.5s21.4-18.1 30.8-22.7s17.8-4.7 25.3-5.2s16.7 1.8 20 2.1M256.7 302c2.5-1.5 6.9-4.5 15.1-9s23.6-11.9 34.6-17.6s22-12.4 31.3-16.6s16.8-6.5 24.3-8.5s17.2-3.2 20.8-3.8s.6-.1 .7-.1M261.2 292.2c1.4-1.1 1.5-2.4 8.9-6.5s24.2-12.1 35.3-18.2s22.6-14 31.7-18.2s15.3-5.4 22.6-7.2s16.1-3.2 21.1-3.6s7.4 .7 8.9 .9M254.5 307c3.2-1.9 10.5-7 19.7-11.3s24.5-9.7 35.2-14.4s19.6-9.6 28.7-13.3s18.1-5.9 26-8.6s17.4-6 21.5-7.3s2.6-.3 3.1-.4M252.2 283.3c1.8-1.7 3.2-2.5 11.2-9.7s25.6-25.1 36.7-33.8s20.3-13.7 29.7-18.2s18.4-7.7 26.6-8.8s16.5 .5 23.1 2.5s12.5 6.6 16.1 9.5s4.9 6.4 5.9 7.7M260.9 294.5c1.8-1.2 2.6-2.2 10.4-6.8s25.6-14.8 36.7-20.5s20.7-10 29.9-14s17.9-7.9 25.7-10s16.5-2.4 21.2-2.9s5.6 .1 6.7 .1M268.8 300.3c1.2-.7 .2-.9 7.1-4.3s23.8-10.9 34.4-15.9s19.3-9.6 28.8-13.7s20.6-8.3 28.2-11.1s14.1-4.8 17.8-5.9s3.5-.4 4.2-.4M241.3 303.1c4.9-3.4 19.3-13.3 29.7-20.4s22.4-16.2 33.2-22.8s22-12.7 31.6-16.7s18-6.2 25.7-7.6s15.5-1 20.6-.8s8.3 1.6 10 1.9M250.1 291.6c2.8-2.2 7.9-6.5 16.8-13.4s25.6-20.5 36.9-28.3s21.7-14.5 30.9-18.9s16.7-6.6 24.3-7.7s14.8-.1 21.2 1.2s14.1 4.9 17.5 6.6s2.3 2.9 2.8 3.5" stroke="#a33a18" stroke-width="1.0"/>
<path d="M241.3 296.5c4.1-3.3 13.7-11.9 24.5-19.8s28.9-19.8 40.2-27.7s18.4-15.3 27.5-20s18.6-6.8 26.5-7.9s16.2 .9 20.9 1.5s6.2 2 7.4 2.4M240.3 301.2c4.7-3.5 17.7-12.6 28.4-21s25-21.5 35.9-29.3s20.6-12.6 29.7-17.4s16.4-9.8 24.5-11.3s18.9 1.8 24.1 2.7s5.5 2.3 6.7 2.8M254.7 304.9c3.4-2.1 11-7.7 20.2-12.8s24.2-12.5 34.8-17.6s19.5-9.4 28.7-13.1s19.1-7.2 26.7-9s15-1.5 19.2-2s5-1 6-1.3M243.7 293.5c3.6-2.5 11.5-7.6 21.2-15.1s25.7-22 36.9-30s20.5-13.8 30.2-18.4s19.8-8.1 27.9-9.5s14.4-.4 20.5 .9s11.9 4 16.3 7.2s8.3 10.2 10 12.2M248.9 288.6c2.6-2.2 7.4-5.7 16-13.1s24.5-22.8 35.8-30.9s22.8-13.1 32.3-17.7s16.8-8.8 24.9-10.4s17-.7 23.5 .7s11.3 4.9 15 7.7s5.9 7.2 7.1 8.7M247.8 308.8c4.5-2.6 16.3-10.4 26.6-15.7s24.8-11.1 35.6-16.1s20.1-9.5 29.3-13.5s18.5-7.9 26-10.3s13.6-3.3 18.8-4.2s9.9-1.5 12.8-1.1s3.8 2.6 4.6 3.2M256.6 288.6c2-1.6 3.8-3.5 12.2-9.3s26.7-18.3 37.7-25.6s19.7-13.6 28.4-18s16.5-6.8 24-8.3s17.6-.9 21.2-1M246.6 301.6c3.9-2.4 13.8-8.6 23.9-14.6s25.5-15.8 36.6-21.4s20.6-9 30.1-12.5s19.2-6.2 26.9-8.4s14.6-4 19.4-4.6s8.2 1.1 9.8 1.4M259.3 297.9c2.3-1.6 5.8-4.8 13.9-9.4s23.7-12.8 34.7-18.3s21.8-11 31.1-14.9s16.9-6.4 24.4-8s14.8-1.4 20.6-1.8s11.7-.6 14.4-.4s1.5 1.4 1.9 1.7M239.2 314.2c5.8-3.4 23-14.4 34.7-20.6s24.2-11.9 35.4-16.8s22.5-9 31.6-12.7s15.8-7.3 23.2-9.6s15.6-3 21.5-4.2s11.3-2.6 13.5-3.2M252.2 278.1c1.7-1.6 2-2.1 10.1-9.3s27.3-24.5 38.5-33.5s19.1-15.6 28.2-20.7s18.7-8.7 26.7-9.7s17.3 3 21.9 4.3s4.4 2.5 5.3 3.1M237.7 301.8c4.9-3.5 18.2-13.6 29.5-21.2s27.3-17.2 38.3-24.5s18.4-15 27.8-19.4s20.4-5.8 28.5-7.3s13.8-2.6 20-2s14 4.1 17.4 5.8s2.8 3.9 3.3 4.7M249.8 286.5c2.6-2 7-5.2 15.9-12s26.3-21.2 37.5-29.2s20.3-14.6 29.8-18.9s18.9-5.6 27.1-6.7s15.8-1.4 22 0s11.7 6.1 14.9 8.3s3.5 4.1 4.3 4.9M250 292.7c2.9-2.2 8.3-6.5 17.5-13.5s26.4-21.5 37.3-28.5s19.2-8.9 28.1-13.3s17.4-10.9 25.2-12.9s15.6 0 22 1.1s13.7 4.8 16.7 6s1.3 1.4 1.5 1.7M265.9 296.8c1.3-.8 .4-.5 7.9-4.7s25.8-15.1 36.9-20.6s20.7-8 29.5-11.9s16.1-8.5 23.4-11.3s15.7-4.6 20.1-5.5s5.3 .1 6.4 .2M244.1 289.1c3.1-2.7 8.9-8.3 18.3-16.4s26.7-23.7 38.1-32.3s20.7-14.1 30.1-18.9s18.5-8.2 26.4-9.4s15.1 .7 21.1 2.2s12.2 6 14.7 7.2M253.6 286.1c2.4-1.8 6.1-4.1 14.5-10.7s25.1-20.9 36.1-28.9s20.3-14.6 29.8-19.1s19.6-6.3 27.4-7.7s13.5-2.1 19.3-.7s12.8 7.7 15.5 9.4s.7 .7 .8 .9" stroke="#6b0f0c" stroke-width="1.0"/>
<path d="M246.1 291c3.1-2.4 9.1-6.5 18.1-14.3s24.5-23.7 35.9-32.4s22.2-15.2 32.2-19.8s19.5-7.4 27.7-8.3s15.4 1.1 21.8 2.7s13.3 5.8 16.2 7.3s1.3 1.5 1.6 1.8M254.9 279.3c1.2-1-.7 .4 6.9-5.9s27.3-23.2 38.9-31.7s21.2-15 30.9-19.8s19.4-7.6 27.4-8.7s15.8 1.2 20.1 2.2s4.9 2.7 5.8 3.3M243 294.6c4.1-3.1 14.2-10.7 24.5-18.6s26.2-20.9 37.3-28.8s19.7-13.6 28.9-18.3s17.9-8.4 25.9-10.1s18.4 .1 22.3 .2s.9 .4 1.1 .5M263.5 295.9c1.5-.9 1.3-1.3 8.7-5.6s24.6-14.6 35.6-20.6s21-11.8 30.2-15.7s17.3-6.1 24.7-8s16.3-3.1 19.5-3.8M259.7 299.5c2.3-1.6 5.5-4.4 13.8-9.3s25.1-14 36.1-19.7s20.5-10.3 29.4-14.7s16.4-9 24.1-11.3s15.7-2.1 21.7-2.5s10.7-1.1 14 .1s4.8 5.7 5.8 6.9M247.8 299.8c3.7-2.7 12.4-9.5 22.3-16.4s25.8-17.5 36.9-24.6s20.6-13.6 29.6-17.9s16.8-6.4 24.3-7.8s16-.9 20.7-.7s6 1.4 7.2 1.6M235.5 308c5.8-4.6 23.1-18.9 34.8-27.7s25.3-17.8 35.8-25.2s18.7-15 27.6-19.2s17.4-5.1 25.5-6.3s19-1.1 23.3-1.2s1.9 .5 2.3 .6M254.9 277.5c1.4-1.2 0-.2 8-6.9s28.4-23.8 39.8-32.9s19.8-16 28.6-21.3s16.7-9.7 24.5-10.5s16 3.2 22.8 5.6s13.8 5.3 18.2 8.7s6.7 9.8 8.1 11.7M238.5 305.4c5.2-3.4 19.8-13.1 30.7-20.1s23.7-15.8 34.7-21.8s22.3-10.2 31.6-14.1s17-7.6 24.5-9.2s17.3-.3 20.8-.3M247.9 304.1c3.9-2.2 13.8-7.5 23.8-13.5s25.1-17 36.3-22.9s21.8-8.4 31.1-12.5s17.2-9.7 24.8-12s15.9-1.2 20.5-1.4s5.9 .6 7.1 .7M253.5 283.7c1.8-1.5 2.9-2.4 11-8.9s26.6-21.7 37.9-29.8s19.9-13.5 29.7-18.4s20.9-9.3 28.8-10.6s12.7 .8 18.3 2.7s10.6 5.3 15 8.5s9.7 8.6 11.6 10.4M248.6 308.7c4.1-2.2 14.8-7.9 24.6-13.4s23-14.3 34.1-19.4s23.7-8 32.9-11.3s15.2-6 22.4-8.6s16.6-5.9 20.7-7.2s3.1-.3 3.7-.3M234.4 300.8c5.2-4.1 19.9-15.8 31.5-24.7s26.9-20.7 38.2-28.4s20.8-13.4 29.6-17.7s15.5-6.7 23.1-8.2s16.1-1.3 22.1-.5s11.2 4.4 13.5 5.3M254.3 291.6c2.5-1.8 6.5-4.3 14.8-10.9s24.2-20.6 35.1-28.7s20.4-15.7 29.8-20s19-5.1 26.9-6.1s14.9-.4 20 .3s8.7 3 10.5 3.6M251.1 293.7c2.8-1.9 7.6-5.1 16.4-11.4s25.3-19.4 36.5-26.6s21-12.2 30.3-16.6s17.4-7.6 25.3-9.5s15.5-2.6 21.8-2.1s12.8 4.1 15.6 5.3s1.1 1.6 1.3 1.9M247.8 282.8c2.8-2.2 8.1-5.5 16.6-13.7s23.7-25.6 34.4-35s20.6-16.4 30.3-21.2s19.5-7.3 27.7-8s17.3 3.2 21.4 4.2s2.7 1.6 3.2 2M266.3 292.7c1.1-.7 0-.1 6.7-4.3s23.1-14.2 33.9-20.4s22-12.8 31.3-17.1s16.6-6.8 24.2-8.8s17.9-2.6 21.6-3.2s.5 0 .6 0" stroke="#700f0c" stroke-width="1.0"/>
<path d="M238.3 308.5c5.2-3.9 20.2-14.9 31.5-22.9s25.1-18.3 36-24.9s19.6-10.7 28.9-14.6s18.9-7 27-8.6s16.9-.9 21.7-.9s5.9 .7 7 .9M236.1 292.4c4.3-3.9 15.4-13.8 26.3-22.9s27.6-23.6 39-32.1s20.5-14.3 29.8-19.3s18.2-9.7 26.1-10.9s17.5 2.8 21.5 3.7s2 1.3 2.4 1.6M251.7 286.7c2.3-2 5.4-5.1 13.7-11.6s25.4-20.2 36.5-27.7s20.4-13.4 30-17.5s19.2-6 27.2-7.3s14.6-1.5 20.7-.7s12.4 3.5 15.9 5.4s4.2 5.1 5.1 6.2M236.1 308.6c5.7-4 22.4-15.8 34.1-23.8s25.2-17.4 36-24.1s20.2-11.7 29-16s16.4-8 23.8-9.9s14.3-2 20.8-1.7s14.7 2.7 18 3.7s1.3 1.8 1.5 2.2M259.4 302.4c2.6-1.4 7.1-4.5 15.4-8.5s23.4-11.1 34.4-15.7s22.4-8.1 31.7-11.7s16.8-7.4 24.1-9.8s14.1-3.8 19.6-5s11-1.8 13.4-2s1.1 .7 1.3 .8M236.2 311.7c5.9-4 23.2-16.7 35.1-24.5s25.4-15.8 36.4-22.1s20.7-11.6 29.6-15.9s16.1-7.8 23.6-9.9s15.5-2.7 21.4-2.7s11.3 2 14 2.8s1.7 1.6 2.1 1.9M238.9 305.8c5.1-4.1 19.2-16.9 30.4-24.4s25.6-14.5 36.8-20.8s21.6-12.5 30.5-17s15-8.2 22.7-10.2s16.6-1.9 23-1.8s12.2 1.8 15 2.6s1.7 1.7 2.1 2M250.4 291.2c2.8-2.2 7.7-7 16.8-13.6s27-18.9 37.9-26.3s18.5-13.2 27.4-17.7s18.1-7.6 25.9-9.1s17.1 .2 21.1 .5s2 .8 2.4 1" stroke="#a33a18" stroke-width="1.0"/>
<path d="M241.9 309c5.1-3.2 20.2-13.2 30.9-19.1s23.2-11.1 33.6-16.8s19.9-12.8 29.1-17.3s18.2-7.6 26.2-9.8s17.3-3.1 21.5-3.7s3.2 .4 3.8 .4M251.9 285.3c2.2-1.9 4.6-4.4 13.1-11.5s26.5-22.5 37.8-31.1s20.1-15.3 29.8-20.4s20.9-9.3 28.6-10.5s14.1 2.9 17.3 3.6s1.2 .5 1.5 .6M248.5 288.2c2.9-2.1 8.1-5.9 17-12.9s25.4-20.9 36.7-29.1s21.3-15.6 30.8-20.1s18.6-5.9 26.3-7.2s13.7-2.5 20.2-.8s15.5 8.6 19.3 11.2s2.8 4 3.4 4.8M231.2 294.7c5.6-4.3 22-16 33.5-26.2s24.5-25.2 35.4-34.6s20.6-16.8 29.8-21.8s17.5-7.7 25.7-8.4s16.7 2.2 23.2 4.6s11.2 5.9 15.7 9.9s9.3 11.7 11.2 14M256.6 301.5c2.7-1.6 7.6-4.7 16.2-9.5s24.5-14.2 35.4-19.5s21.1-8.2 30.2-12.2s17.1-9.2 24.8-11.6s15.7-2.1 21.4-2.6s10.4-.3 12.8-.2s1.7 .9 2 1.1M247.4 295.8c3.3-2.3 10-6.7 19.5-13.5s26.3-19.6 37.5-27.3s20.6-14 29.6-18.7s16-8.1 24-9.8s17.4-1.3 24.1-.5s11.7 3 15.9 5.8s8.1 9 9.7 10.8M253.1 301.1c3.1-2 9.6-6.9 18.5-12.2s24.5-13.4 35.3-19.1s20.3-11.2 29.5-15.1s17.7-5.8 25.4-8.1s15.1-5 21-5.6s11.6 .9 14.7 1.8s3.3 2.9 3.9 3.4M249.8 287.7c2.4-2 5.8-4.7 14.5-12s26.7-22.7 37.5-31.5s18.2-16.5 27.4-21.7s19.4-8.2 28-9.1s17.4 2.2 23.3 3.9s9.7 4.9 11.6 5.8M248.2 283.3c2.3-2 5.2-4.5 13.8-11.9s26.1-23.8 37.8-32.5s22.5-14.5 32.1-19.4s17.7-8.4 25.4-9.7s14.1 0 20.7 2s14.9 6.4 19.3 10s6.2 9.4 7.5 11.3M248.8 287.8c2.5-2.1 6.5-5.5 15.2-12.4s25.5-20.7 37-29s22.6-15.5 32.1-20.8s17.4-9.7 24.9-11s16.2 2.4 20.2 3.3s3.2 1.9 3.8 2.2M248.6 287.1c2.8-2 7.6-4.4 16.7-11.9s26.3-24.4 37.4-32.6s20-12.1 29.4-16.7s19.2-9.3 27.1-10.7s15.3 .8 20.5 2.1s9.1 5 10.9 6M239 301.7c4.6-3.8 16.7-14.1 27.4-22.6s25.7-21 37-28.7s21.5-13.1 31.1-17.4s18.8-7.2 26.3-8.3s14.1 .8 18.5 1.4s6.3 1.7 7.6 2M245.8 308.1c4.6-3.2 17.3-13.2 27.3-19.2s21.5-11.9 32.4-17s23.1-10.1 32.8-13.9s17.9-6 25.5-8.5s15.9-5.4 19.9-6.4s3.7 .6 4.4 .7M233.7 292.8c4.3-3.8 14.6-13.6 25.6-22.9s28.4-24.2 40.2-33.2s20.9-15.6 30.2-20.7s17.4-8.9 25.5-9.8s17 1.9 23.3 4.1s12.1 7.6 14.5 9.1" stroke="#82190f" stroke-width="1.0"/>
<path d="M247.5 282.4c2.2-2.1 5.1-4.9 13.7-12.4s26-23.6 37.6-32.7s22.3-17.2 31.8-22.1s17-6.7 25.1-7.6s16.8-.3 23.5 1.8s12.6 7.9 16.5 11.1s6 6.7 7.2 8.1M247.2 284.4c2.7-2.3 7.5-6.4 16.3-13.9s25.1-22.8 36.3-31.3s20.9-15 30.5-19.6s18.6-7.5 26.8-8.5s15.8 1 22.4 3s12.7 4.7 17.5 9.1s9.4 14.2 11.2 17.1M245.3 300.8c4.2-2.7 15.4-9.5 25.3-16.1s22.6-16.9 33.6-23.5s23.2-11.9 32.5-15.8s15.5-6.1 23.1-7.6s16.1-1.7 22.1-1.6s11.2 1.9 13.5 2.3s0 .1 0 .1M241.3 289.1c3.7-3.5 12.4-11.6 22.2-21s25.2-26.4 36.4-35.5s21.4-14.4 30.3-19.5s15.6-10.1 23.5-11.1s19.7 4.4 23.9 5.4s1 .6 1.2 .8M242.6 296.6c4.2-2.6 14.3-8.9 24.7-16.1s26.7-19.9 38-27.2s20.3-12.7 29.4-16.9s17.3-6.7 24.9-8.4s15.1-1.9 20.2-1.5s8.6 3.3 10.3 3.9M256.9 299.3c2.5-1.7 6.7-5.6 15.1-10.2s24.4-11.6 35.2-17.1s20.7-12.1 29.8-16.1s17.2-5.9 25-8s15.7-3.5 21.7-4.5s11.8-1.2 14.2-1.5M254.1 285c1.9-1.4 3.4-2 11.4-8.4s25.3-22.7 36.4-30.6s20.4-12.3 29.8-16.8s18.5-9 26.5-10.7s15.1-1.1 21.3 .5s12.3 6.2 16.3 8.9s6.3 6.3 7.5 7.5M261.9 292.1c1.2-.8-.5 .3 7-4.6s26.6-17.9 37.9-24.7s20.9-11.9 29.9-16.1s16.7-7.3 24.3-9s15.1-1.9 20.9-1.4s9.7 2.4 13.9 4.5s9.3 6.8 11.1 8.2" stroke="#b5621a" stroke-width="1.0"/>
<path d="M246.3 296.4c4-2.8 14.1-9 24.1-16.8s25.3-22 35.9-30s18.3-13.1 27.3-17.6s19-8.1 26.9-9.8s14.5-1.6 20.7-.5s13.2 5.4 16.3 7.1s2.1 2.9 2.6 3.5M262.5 291.5c1.2-.8-.1-.3 6.9-5.1s24.3-17 35-23.5s19.3-11.4 29.2-15.2s21.8-5.7 30.1-7.5s14.4-3.4 19.8-3.7s10.5 2 12.6 2.4M230.2 304.2c5.8-5.2 22.5-21.3 34.6-31.6s26.2-21.8 37.7-30.1s21.6-15 31.1-20.1s18-9.1 25.9-10.5s16.9 1.2 21.8 2.4s6.4 3.9 7.6 4.6M244.8 301.6c4.1-3.1 14.1-11.9 24.4-18.8s26.3-16 37.4-22.5s20.1-12.5 29.1-16.6s16.9-6.3 25-7.9s19.4-1.2 23.3-1.4s.2 0 .3 0M242.4 302.5c4.6-3.4 16.9-12.5 27.1-20.1s23.7-18.4 34.5-25.5s20.9-12.5 30.2-16.9s17.4-7.7 25.5-9.5s18.2-1.3 22.8-1.2s4.2 1.8 5.1 2.1M259.8 292.7c1.7-1.1 2.5-2.3 10-7s24.1-15.4 35.1-21.4s21.8-10.4 31.3-14.5s17.1-8.2 25.2-10.5s17.4-2.9 23.5-3.2s10.7 1.1 13.1 1.6s1 1.1 1.2 1.3M256.5 301.3c2.9-1.8 8.9-5.9 17.5-10.6s23.1-12.9 34.3-18s23.4-8.6 32.7-12.3s15.7-7.7 23-10.2s16-4.1 20.9-5s7-.1 8.5-.1M239.6 314.5c5.4-4.1 21-16.9 32.5-24.3s25.8-14.3 36.4-19.9s17.8-9.7 26.9-13.8s19.7-8 27.9-10.4s15.7-3 21.5-3.5s9.8-.7 13.3 .4s6.2 4.8 7.5 5.8M260.5 283.6c1.1-.8-.8 .2 6.8-5.2s27.2-19.4 38.5-26.9s20.3-13.8 29.4-18.2s18-6.7 25.6-8.1s14-.9 19.6-.1s11.8 4 14.1 4.8M261.5 300.1c2.2-1.2 5.2-3.4 13.1-7.5s23.7-11.9 34.4-17.2s21-10.6 29.7-14.4s15.2-6.2 22.5-8.3s15.2-3.3 20.9-4.3s11.2-1.3 13.5-1.5" stroke="#8e2614" stroke-width="1.0"/>
<path d="M253.9 296.2c2.6-1.9 7.2-5.7 15.8-11s25.1-14.8 35.9-21s19.6-12.1 28.8-16.6s18.3-8.1 26.1-10.2s14.6-2.5 20.6-2.4s12.6 2 15.8 3s2.8 2.3 3.3 2.8M248.7 287.8c2.8-2.2 7.8-6.1 17-13.2s26.9-21.2 37.9-29.6s19.4-15.5 28.4-20.4s17.4-7.2 25.7-8.5s17.1-1.1 23.6 .8s11.1 7.1 15.2 10.9s8.2 9.6 9.9 11.5M253.1 299.9c3-2 8.9-5.8 17.9-12s25.4-18.6 36.1-25.3s19.6-10.9 28.5-14.8s17.5-6.6 25-8.7s15.2-3.8 20.5-3.9s9.2 2.6 11 3.1M247.7 288.8c2.8-2.3 7.8-5.7 16.8-13.6s26-24.5 37.3-33.3s21.1-14.9 30.2-19.5s16.9-6.6 24.6-8s14.9-1.9 21.5-.5s12.9 5.1 17.7 9s9.3 11.7 11.2 14.1M235.8 291.3c4.7-4.1 17.6-15 28.1-24.6s24.6-24.2 35.4-33.1s20-15.2 29.8-20.3s20.8-9.3 29.2-10.4s14.8 1.3 20.7 4s10.8 8.1 15 11.9s8.7 9 10.4 10.8M230.2 303.5c5.6-4.4 21.9-16.4 33.9-26.5s26.4-25.4 37.9-34.1s21.8-13.7 31.2-18.2s17.2-7.6 24.9-8.8s15.3-.1 21.6 1.7s11.7 5.8 16.1 9.1s8.8 8.6 10.5 10.3M240.4 309.4c5.3-3.2 20.2-12.8 31.8-19.2s26.4-13.5 37.4-19.4s20.1-11.9 29-16.3s16.8-7.6 24.4-9.6s16.6-2.3 21-2.9s4.3-.3 5.2-.4M236.6 306.5c5.5-3.9 21.4-15.4 33-23.3s25.5-17.3 36.3-24.1s19.7-12.5 28.6-17.1s17.4-9.2 25.3-10.7s18.1 1.1 21.9 1.3s1.1 .2 1.3 .3M243.6 309.2c4.8-3 18.2-11.6 28.8-18.4s23.4-16.4 34.5-22.7s22.7-11 32.1-14.9s16.8-6.4 24.4-8.6s15.7-4.1 20.9-4.6s8.6 1.4 10.3 1.6M241.3 297.7c4.4-3.3 16-11.7 26.2-19.7s24.2-20.4 35.2-28s21.1-13 30.6-17.5s19-8.2 26.7-9.6s13.6-.2 19.4 1s12.1 4.3 15.5 6.1s4 3.9 4.8 4.7M258.6 291.5c1.7-1.2 3-2 10.3-7s22.3-16.7 33.2-23.5s22.2-12.5 31.9-16.8s18.7-6.7 26.4-8.9s16.4-3.9 19.9-4.6s1.3 .3 1.5 .4" stroke="#85190f" stroke-width="1.0"/>
<path d="M243.9 295c4.1-3 14.5-9.8 24.5-18s24.6-23.2 35.6-31s21-11.8 30.4-16.1s17.9-8.2 26-9.8s15.9-.7 22.3 .6s12.5 4.8 16.3 7.4s5.2 6.4 6.2 7.7M237.6 298.5c4.8-3.5 17.7-12.7 28.7-21s25.8-21.4 37.3-28.9s22.3-12 31.9-16.3s18.2-8.2 25.7-9.7s15.9 .5 19.3 .7s.6 .2 .7 .3M240.9 304.5c4.4-3.5 15.8-12.9 26.5-20.9s26.7-19.5 37.8-26.7s19.2-12.9 28.5-16.9s19.6-6 27.5-7.6s15.8-1.7 19.8-1.9s3.4 .8 4.1 .9M238.1 288.6c3.9-3.5 12.6-11.7 23.3-20.9s29.3-25.1 40.8-34.1s19.2-15.3 28.3-20.2s18.1-8.2 26.4-9.4s16.6-.1 23.4 2.2s13.6 8.3 17.6 11.8s5.5 7.9 6.6 9.5M249.3 288.1c2.6-2.3 6.9-6.1 15.7-13.9s26.1-24 37.2-32.9s20.3-16.2 29.4-20.8s17.1-5.7 24.8-6.9s16.4-1.1 21.3-.3s6.4 4.3 7.7 5.2M251.3 295.6c2.9-1.9 8-5.8 17.1-11.5s26.3-15.9 37.4-22.3s19.8-12.1 29.3-16s20-5.7 28.1-7.2s14.5-2 20.3-2.1s12 1.2 14.6 1.6s1.1 .8 1.3 1M230.9 301.1c5.6-4.5 21.7-16.9 33.3-27s25.5-24.5 36.8-33.4s21.2-14.9 30.9-19.9s19.2-9 27.3-10.2s15.3 1.2 21.4 3s12.2 6.7 14.7 8.1M235.1 303.9c5.7-3.9 22.7-15.1 34.1-23.5s23.7-19.4 34.6-26.8s21.7-13.1 31-17.7s16.6-8.4 24.4-9.9s15.7 .2 22.1 .9s12.4 1.4 16.3 3.3s5.7 6.8 6.8 8.1M239 304.8c5-3.7 18.2-14.6 29.6-22.4s27.6-17.7 39-24.4s20-11.7 29-16.2s17.5-8.7 24.8-10.6s13-1.3 18.9-.7s13.4 2.9 16.5 4.1s1.8 2.3 2.2 2.7M243.9 309.2c4.5-2.8 16.1-10.8 26.8-16.9s26.3-13.8 37.3-19.3s20.2-10 29.1-14s16.8-8.1 24.4-10.4s16.1-2.6 21.8-3.2s9.4-1.3 12.8-.2s6.5 5.2 7.8 6.2M235.8 306.4c5.5-4 21.7-16.3 33.2-24.1s24.3-16.2 35.5-22.7s22.1-12.4 31.5-16.8s17.8-7.9 25.3-9.5s13.4-.9 19.4-.2s12.9 2.7 16.3 4.2s3.6 3.6 4.4 4.3M250.2 308.2c3.9-2.4 13.8-9.2 23.8-14.5s24.9-12 36-16.9s21.6-9 30.7-12.7s16.7-7.1 24-9.7s15.5-4.6 19.5-5.4s3.7 .3 4.5 .4M239.5 301.5c4.7-3.6 17.4-13.8 28.2-21.8s25.3-18.7 36.7-26.1s21.8-14.1 31.2-18.3s17.1-6 24.8-7.4s15.2-1.9 21.3-1.2s12 4 15.3 5.6s3.7 3.2 4.5 3.8M234.5 304.8c5.1-3.7 19.1-13.7 30.7-22.2s27.4-20.6 38.6-28.4s19.1-14.1 28-18.8s17.3-8 25.2-9.2s15.9 .8 22.2 1.8s12.7 2.9 15.9 4.1s2.3 2.8 2.8 3.4" stroke="#6b0f0c" stroke-width="1.0"/>
<path d="M239 290.1c4.2-3.6 14.6-11.6 24.9-21.3s26-27.2 36.9-36.8s19.3-16.6 28.6-20.9s18.5-4.5 27-4.8s17.3 .8 23.9 2.9s11.1 5.2 15.6 9.2s9.4 12.3 11.3 14.7M254.6 283.3c1.7-1.4 2.3-1.9 10.1-8.3s25.2-21.6 36.3-29.9s20.4-15.4 30.1-20.4s20-8.1 28.1-9.3s16.6 1.1 20.8 1.6s3.7 1.4 4.4 1.7M234 300.6c5.2-4.2 19.7-15.6 30.9-25.2s24.9-23.9 36.1-32.6s21.8-14.9 31.3-20s17.7-9.6 25.2-10.7s14 2.4 20.1 4.1s13.8 5.2 16.5 6.3M254 306.7c3.6-2.1 12.3-7.8 21.7-12.6s23.4-11.2 34.1-16.4s21-10.8 30.1-15s16.6-7.9 24.1-10.3s15.4-3.6 21-4.4s10.7-.2 12.8-.2M245 288.7c3.1-2.8 9.3-8.7 18.8-16.7s26.3-23.1 37.9-31.1s22.7-12.5 32.1-17s16.5-8.8 24.1-9.7s17.9 3.8 21.4 4.5M269.6 295.9c1-.6-1.1-.1 6-3.6s25.7-12.3 36.6-17.5s20.1-10 28.7-13.8s15.8-7.2 23-9.5s15.1-3.2 20.5-4.2s9.8-1.5 12.1-1.5s1.5 1.3 1.7 1.5M240.7 307.4c4.7-3.3 17.2-13 28.4-19.8s26.9-14.9 38.3-21.1s21.1-11.6 29.9-16s15.9-8.7 23.4-10.9s17-2 21.6-2.3s5 .6 6 .7M243.1 286.9c3.3-2.9 10.2-8.5 19.7-17.2s26.1-25.5 37.2-34.7s20.6-15.8 29.7-20.8s17.2-8.4 25-9.4s18 3.2 21.6 3.9M259.5 306.6c2.9-1.7 8.6-5.5 17.2-9.9s23.9-11.3 34.6-16.4s20-10.4 29.1-14.2s18-6.5 25.6-8.8s14.5-3.3 19.8-4.5s8.8-3.1 11.8-2.9s5 3.7 6 4.4M237.1 301.2c4.8-3.9 17.8-14.8 28.8-23.3s26.1-19.7 37.3-27.2s20.2-12.7 29.7-17.8s19.2-11.4 27.3-12.6s15.2 3.2 21.2 5.1s12 4.8 14.9 6.3s2.1 2.1 2.5 2.5M249.6 294.6c3.1-2.2 9.4-6.6 18.5-13.3s25.4-19.6 36.6-27s20.9-13.5 30.3-17.5s18.1-5 25.9-6.1s14.8-1.6 20.6-.9s11.8 4.4 14.3 5.4s.6 .5 .7 .6M261.4 304.4c2.4-1.4 5.8-4.2 14.4-8.1s25.6-11.1 36.7-15.5s20.6-7.5 29.5-11.1s16.8-7.7 24.1-10.4s13.9-4.2 19.3-5.7s10.6-2.8 13.1-3.1s1.7 1.4 2.1 1.7M228.9 297.6c5.6-4.3 21.8-15.3 33.6-26s26.2-28 37.2-37.7s19.5-15.9 28.9-20.7s19.3-7.7 27.6-8s15.2 3.5 21.8 6.1s14.2 6.6 18.3 9.5s5.5 6.6 6.6 7.9M252.6 304.9c3.6-2 12-7.4 21.6-11.9s25.2-10.2 35.9-15s19.7-9.7 28.7-14.2s17.8-10.4 25.4-12.9s15.6-1.2 20.1-1.8s5.7-1.3 6.9-1.6M246.6 288.9c2.8-2.4 7.3-6.5 16.6-14.5s27.6-24.6 38.9-33.6s19.5-15.8 28.3-20.5s17-6.9 24.7-7.9s17.2 1.1 21.8 1.8s4.5 2.3 5.4 2.8M234.6 305.9c5.9-4 23.6-15.6 35.2-23.8s23.5-18.5 34.2-25.4s20.7-11.9 30.1-16.2s18.3-7.4 26.5-9.3s16.6-2.7 22.5-2.2s8.9 2 12.6 4.9s8 10 9.6 12" stroke="#5e0a08" stroke-width="1.0"/>
<path d="M247.6 311.6c4.6-2.8 17.3-11.2 27.7-16.7s23.7-11.3 34.5-16.3s21.2-10.2 30.5-13.6s17.4-4.3 25.2-6.7s17.7-6.1 21.3-7.3s.4-.1 .5-.1M244.1 301.5c4.4-2.9 15.9-10.7 26.3-17.6s25.2-16.8 36.2-23.7s20.9-13.6 29.9-17.8s16.5-5.8 24.1-7.9s16.5-3.7 21.1-4.2s5.3 1.3 6.4 1.5M229.5 304.5c5.9-4.8 23.1-19 35.5-28.7s27.4-22 38.8-30s20.4-13.2 29.8-18s18.5-9.4 26.5-10.6s15.1 2 21.5 3.6s12.1 2.9 16.7 6s9.4 10.6 11.3 12.7M241.4 309.1c4.9-3.6 18.6-14.4 29.5-21.3s24.6-14 35.9-19.7s22.2-10.7 31.8-14.5s18.1-6.3 25.4-8.6s12.8-4.3 18.3-5s11.4 0 14.5 .7s3.1 3.1 3.7 3.8M248.3 294.2c2.9-2.5 8.6-7.7 17.6-14.8s25.8-20.6 36.7-28.1s19.7-13.2 28.9-17.5s18.5-6.6 26.8-8s19.1-.2 23.1-.2s.3 .2 .4 .2M242.2 309.8c4.8-3 18.5-11.6 29.2-17.8s23.6-13.9 34.8-19.4s22.8-9.8 32.1-13.9s16-8.2 23.6-10.6s18.3-3.3 22.3-4s1.5-.1 1.9-.1M248.1 302.7c3.9-2.5 13.7-8.5 23.5-15.1s24.5-17.5 35.3-23.9s20.7-10.2 29.8-14.5s17.2-8.9 24.9-11s14.8-1.5 21.1-1.5s11.9-.9 16.2 1.5s8 10.3 9.6 12.3M238.5 312.9c6.3-3 25.6-12.5 37.7-18.4s23.9-12.2 34.4-17.4s19.5-9.9 28.6-13.7s18.1-6.3 25.7-8.8s14.5-4.8 19.8-6.1s10.2-1.3 12.2-1.6M248.5 301.9c3.5-2.3 11.3-7.9 21-14s25.9-16.3 37-22.5s20.1-10.8 29.4-15s18.9-8 26.8-10.2s15.7-2.6 20.7-2.8s7.8 1.8 9.3 2.1M243.7 289.1c3.2-2.6 9.2-8 19-15.7s28.4-22.3 39.9-30.7s19.6-14.7 28.9-19.3s18.5-7.5 26.5-8.7s15.3-.3 21.9 1.1s14.2 5.8 17.4 7.5s1.4 2.1 1.7 2.5M243.3 291.3c3.5-3.1 11.5-10.3 21.2-19s25.7-23.8 36.7-32.6s20.3-14.8 29.7-20.2s18.4-10.7 26.3-11.8s14.3 2.8 20.7 5.3s13.7 6.5 18.2 9.8s6.9 8.3 8.3 9.9M263.8 302.8c1.9-1.1 3.5-2.9 11.7-6.7s26.2-11.5 37.2-16.3s20.5-9.2 29-12.8s14.9-5.8 22.1-8.4s15-5.1 20.8-6.8s10-3.6 13.4-3.4s5.8 3.8 6.9 4.6" stroke="#7a1712" stroke-width="1.0"/>
<path d="M241.8 310.5c5-3.5 19.5-14.1 30.4-21s24.1-14.6 34.8-20.4s20.3-10.2 29.6-14.4s18.7-8.3 26.2-10.9s13.8-3.9 18.7-4.4s9.3 1.2 11.2 1.4M248.9 296.2c3-2.4 8.5-8.5 17.9-14.5s27.1-15.2 38.5-21.5s21.1-12.1 30-16.3s15.8-6.6 23.4-8.6s16.2-3.3 22.3-2.9s11.9 4.2 14.4 5.1s.1 .1 .2 .2M239.8 294.4c4.3-3.6 15.2-12.8 25.5-21.7s25.5-23.1 36.4-32s19.7-16.7 28.9-21.4s18.5-5.5 26.7-6.5s16.7-1.1 22.9 .6s11.6 8 14 9.6M242.2 308.5c4.9-3 19.1-11.9 29.6-18s22.4-13.4 33.2-18.7s22.2-9 31.8-13s18.1-8.1 25.7-10.8s14.6-4.5 20-5.2s10.5 .8 12.6 1M239.8 315.9c5.7-3.3 22.6-14.2 34.3-20s24.6-10 35.5-15.3s20.6-12 29.6-16.2s17-6.2 24.2-8.7s15.8-5.5 19-6.6s.4 .1 .4 .1M257.6 287.7c1.7-1.2 1.7-1.6 9.8-7.3s27.6-19 39-26.5s19.6-13.6 28.9-18.2s18.8-7.6 26.5-9.2s13.7-1 19.7-.1s12.4 3.2 16 5.3s4.8 6.2 5.8 7.4M245 297.9c3.4-2.9 11.1-10.4 20.7-17s25.7-15.9 37-22.6s21.5-13.1 31.1-17.2s18.5-5.9 26.5-7.4s15.2-1.6 21-1.6s11.4 1.2 13.7 1.4M258.4 285c1.3-1.2 .6-1.5 8-6.9s25.2-18 36.4-25.4s21.6-14.2 30.8-19s16.7-8.2 24.4-9.7s15-.2 21.6 .7s14.2 3.2 17.9 4.9s3.5 4.3 4.2 5.1" stroke="#b5621a" stroke-width="1.0"/>
<path d="M240.9 292.7c4-3.2 13.6-10.8 23.8-18.8s26.1-21.4 37.7-29.7s22.4-15.3 31.7-20s16.4-7 24.1-7.9s16 .8 22.4 2.6s12.5 6.2 15.5 8.1s2.1 2.3 2.5 2.8M241.7 301.1c4.6-3 16.9-10.9 27.6-17.9s25.8-17 36.6-24.1s19.1-13.9 27.9-18.5s16.8-7.3 24.5-8.8s15.2-.6 21.5-.1s12.1 1.5 15.9 3.4s6 6.7 7.2 8M258.4 288.5c1.8-1.4 2.5-2.2 10.5-8.1s26.3-20.1 37.4-27.4s20.6-11.4 29.5-15.9s16.7-9.2 24.4-11.2s15.4-1.9 21.7-.9s13 4.9 16.3 6.6s3 3.1 3.5 3.7M234.8 304.6c6-4.4 24.5-17.4 36.2-26.3s23-19.5 33.9-27.3s22.4-15.1 31.7-19.6s15.9-6 23.6-7.6s18-2.2 22.6-2.1s4.2 2.2 5 2.6M254.7 294.7c2.5-1.8 6.6-5.2 15-10.8s24.1-16.1 35-23s20.9-14 30.1-18.3s17.8-6 25.6-7.8s17-2.3 21.1-2.6s2.9 .8 3.5 1M255 289.5c1.7-1.3 2-2.1 10.2-8.1s27.6-20.5 38.9-28.3s19.7-14 28.8-18.4s17.8-7.1 25.7-8.4s17.9 .4 22 .7s2.4 1 2.9 1.1M232.1 303.7c5.6-4.7 22.3-18.6 34-28s24.6-20.8 35.7-28.7s21.5-14.4 30.9-18.4s17.3-4.3 25.4-5.4s18.4-.9 23.4-.6s5.6 2.2 6.7 2.6M243.6 312c5.6-3.6 22.5-15.2 33.6-21.5s22.5-11.2 32.9-16.2s20-9.7 29.3-13.4s19.2-6.7 26.6-9s13.9-3.6 17.6-4.3s3.5-.1 4.2-.2M254.3 278.9c1.5-1.2 1.1-.1 9-7.5s26.6-27.9 38.3-37.3s22.7-14.1 31.9-19s15.7-9.4 23.3-10.3s16.5 2.2 22.9 4.6s12.5 7.8 15 9.4M239.1 295.1c4-3.7 13.9-13.4 24.1-22s25.9-21.4 37.3-29.8s21.4-15.6 31.1-20.5s18.9-7.3 26.9-8.5s14.5-.9 20.8 1.2s14.1 9 17.3 11.2s1.9 2 2.2 2.4M252.9 288.4c2.4-2 6.2-5 14.7-12s25.5-21.7 36.6-29.9s20.3-14.7 29.6-19.3s18.1-7.1 26-8.3s15.3-.5 21.6 .8s11.6 3.9 16.1 7.4s9.4 11.5 11.3 13.8M249.1 283.2c2.3-1.9 5.2-3.4 13.8-11.2s26.6-26.4 37.9-35.8s20.4-15.2 29.8-20.3s18.5-9.1 26.6-9.9s15.2 2.9 22.1 5.5s15.3 7.5 19 10s2.5 3.8 3 4.6M250.3 295.2c3.3-2.3 10.6-7.3 20.1-13.9s25.7-18.5 36.6-25.7s20-12.8 29.1-17.2s18.2-7.9 25.7-9.5s14.7-.5 19.2-.1s6.2 2 7.5 2.3M230.6 297.2c5.2-4.2 19.6-15.8 31-25.4s25.9-23.5 37.5-32.3s22.1-15.3 31.8-20.5s17.9-9.6 26.3-10.9s18.5 1.9 23.8 3.4s6.3 4.4 7.6 5.3M259.1 293.5c1.4-1.2 .7-3 8.7-7.3s27.7-13 39-18.8s19.9-11.4 28.7-15.7s16.2-7.9 24-9.9s19.2-1.8 23.2-2.2s.6 0 .7 0M258.4 290.5c1.6-1.2 1.7-1.8 9.6-7s26.7-17.7 37.7-24.4s19.2-11.7 28.5-15.6s19.6-6.1 27.5-8.1s15.6-3.8 20.1-4.2s6 1.2 7.2 1.4M238 292.9c4.1-3.3 14.4-11.2 24.9-20s26.3-23.5 37.7-32.8s21.7-17.2 31-22.6s17-8.8 24.9-9.9s16.1 .7 22.4 3s10.9 7 15.4 10.7s9.6 9.6 11.5 11.6M245.6 288.7c3.1-2.8 9.1-7.9 18.1-16.6s24.7-26.3 36-35.2s22.4-13.6 32.2-18s18.8-7.4 26.5-8.5s13.1-.3 19.4 1.7s13.9 7.1 18.3 10.4s6.9 7.8 8.2 9.3M260.2 292c1.5-1.1 1.2-2.3 8.8-6.7s26-13.4 37.2-19.4s21.4-12.3 30.5-16.6s16.3-7.3 24.1-9.2s18.3-1.7 23-2s4.5 .3 5.4 .4" stroke="#6b0f0c" stroke-width="1.0"/>
<path d="M232.8 304.7c5.6-4.6 21.8-17.8 33.6-27.6s25.7-23.2 37.1-31.1s21.9-12 31.2-16.3s16.8-7.7 24.5-9.1s15.2-.9 21.7 .5s12.6 5.1 17.2 8.3s9.1 9 10.9 10.8M260.2 302.3c2.3-1.4 5.6-4 13.7-8.3s24-12.4 34.8-17.4s21-9.2 29.9-12.9s15.9-6.4 23.2-9.3s15.1-6.3 20.5-7.5s8.9-1 12.2-.2s6.2 4.2 7.5 5M243.3 284.1c3-2.8 8.9-8 18.3-16.5s26.6-25.4 38.1-34.9s21.1-17 30.7-21.8s18.7-6.5 26.5-7.1s14.7 1.3 20.2 3.1s10.3 6.2 12.3 7.4M255.3 306.4c3.3-1.9 10.5-7.2 19.7-11.4s25.1-9.6 35.6-13.7s18.9-7.4 27.7-10.7s17.9-6.7 25.6-9.4s15-5 20.7-6.7s10-4 13.2-3.6s5.1 5 6.1 6M235.7 295.5c4.8-4.1 17.6-15.3 28.9-24.6s27.4-22.7 38.6-31.3s19.7-15.3 28.9-20.1s18.5-7.4 26.4-8.3s15.5 1.5 21.5 3.2s11.7 6.1 14 7.3M245.3 291.5c3.2-2.8 10.1-8.5 19.4-17.1s25.1-25.7 36.5-34.3s22.6-12.3 31.8-17s16-9.7 23.7-11.2s15.6 .5 22 2.6s13.6 8.4 16.4 10M257.9 292c1.9-1.5 3.3-4 11.6-9s27-14.6 37.9-20.9s19.1-12.3 27.8-16.8s16.6-8.4 24.4-10.3s15.8-1.4 22-1.1s12 2.1 15.2 3.2s3.1 2.8 3.7 3.3M239.7 308c5.1-3.9 19.5-16.1 30.8-23.1s25.8-14.1 36.9-19.4s20.5-8.4 29.6-12.3s17.1-8.6 24.7-10.8s14.7-2.1 20.9-2.2s13.3 1.2 16.1 1.6s.8 .8 1 1" stroke="#82190f" stroke-width="1.0"/>
<path d="M249.9 292.1c3-2.1 9.2-5.9 18-12.5s23.9-19.8 35.1-27.1s22.5-13 31.9-16.8s16.8-4.7 24.4-6s15.1-3 21.6-2.2s13.6 4.9 17.2 6.8s3.6 4 4.3 4.8M260.6 297.1c1.8-1.1 3.1-2.2 11-6.5s25-14.3 36.1-19.4s21.5-7.3 30.7-11.1s16.7-9.1 24.3-11.6s15.2-2.8 21.1-3.3s11-.7 14.5 .3s5.2 4.9 6.2 5.9M244.4 305.8c4.7-3.1 17.2-12 27.7-18.4s24.3-14.4 35.3-20.1s21.6-10.2 30.8-14s16.6-6.7 24-8.8s15.1-3.2 20.6-3.8s10.6-.1 12.8-.1M243.2 305.1c4.7-3 17.9-11.3 28.5-18.2s24-16.4 34.9-23s21.5-12.5 30.5-17s16-8.1 23.6-10.2s16.9-2.4 22-2.6s6.8 1.2 8.1 1.4M246.5 282.9c2.7-2.4 7.2-6.3 16.2-14.3s25.9-25.1 37.4-33.8s22.3-13.7 31.5-18.8s15.8-10.7 23.8-11.9s17.1 2 24.2 4.9s15.1 10.1 18.1 12.1M251.9 291.4c2.6-1.8 6.9-4.7 15.5-10.3s24.9-17 36.2-23.3s21.5-10.3 31.2-14.3s18.7-7.7 26.7-9.7s15.9-2.6 21.8-2.4s11.4 3.1 13.7 3.7M237.6 293.1c4.5-4 16.5-14.9 27.1-24.4s24.9-23.6 36-32.7s21.4-17.1 30.5-22.2s16.8-7.6 24.6-8.5s16 .6 22.3 2.9s10.6 6.9 15.5 11.4s11.4 12.9 13.7 15.5M255.8 291.7c2-1.4 3.3-2.7 11.8-8.4s27.7-18.3 38.7-25.6s18.6-13.2 27.4-17.9s18.2-8.4 25.9-10.1s14.4-.6 20.7 .2s13.3 3.1 16.7 4.6s3.3 3.7 4 4.5M252.6 297.1c2.8-2 8-5.5 16.7-11.7s25-18.4 35.8-25.4s20.2-12.7 29.4-16.9s17.9-6.4 25.6-8.1s16.6-2 20.6-2.2s3 .7 3.6 .9M255.7 294.5c2.3-1.4 5.5-3 13.5-8.7s23.9-18.3 35-25.1s21.5-11.4 31.2-15.3s19.1-6.5 27.1-8.2s15.3-2.2 21-2s10.2 2.3 12.7 3.2s2.1 2.1 2.5 2.6M237.6 305.9c5.6-3.4 22.1-13.1 33.5-20.5s23.9-18 34.5-24.2s19.8-9.4 29.4-13.1s19.9-6.7 27.8-9s13.6-4.5 19.3-4.5s11.4 3 14.7 4.7s4.5 4.3 5.4 5.2M245.7 290.1c3.2-2.6 9.7-7.6 19.2-15.5s26.8-23.3 38.1-31.7s20.7-13.8 29.8-18.5s17.1-8.4 24.6-9.7s16.3 1 20.6 1.7s4.3 2.1 5.2 2.5M255.9 292.9c2.4-1.7 5.9-4.2 14.3-10.5s25.2-19.3 36.1-26.8s19.7-14 29.1-18.3s19.2-5.9 26.9-7.3s15.2-1.3 19.5-1.1s5.3 1.8 6.4 2.2M242.6 306c4.7-3.9 17.2-15.3 28-23.1s25.7-17 36.4-23.9s18.3-13 27.6-17.3s20.1-7.2 28.1-8.8s14-1.4 20.1-.8s13 2.5 16.4 3.9s3.1 3.6 3.7 4.3" stroke="#700f0c" stroke-width="1.0"/>
<path d="M239.4 314.4c5.5-3.5 21.5-14.5 33.2-21.2s26.3-13.6 37.2-18.8s19.1-8.9 28.1-12.6s18.2-7 25.8-9.8s16.3-5.4 19.8-6.5s1.2 0 1.4 0M244.1 305.8c4.3-3.1 14.8-12.2 25.4-18.4s27.1-13.3 38.2-18.9s19-10.8 28.1-14.8s18.8-6.7 26.4-9.2s14.2-4.8 19-5.5s8.1 1.3 9.7 1.6M243.4 295.9c3.9-3.4 13.6-12.3 23.5-20.5s25.3-21 36.4-28.7s20.9-13.4 30.2-17.8s17.7-7.7 25.5-8.9s17.5 1.1 21.6 1.6s2.4 1 2.9 1.2M240.9 300.7c4.6-3 16.9-10.4 27.6-17.7s25.5-19.2 36.5-26.2s20.3-11.9 29.7-16.1s18.8-7.8 26.7-9.4s16.3-.5 21-.3s5.8 1.5 7 1.8M261 290.7c1.5-1.1 1.6-1.5 9.3-6.7s25.7-17.8 36.5-24.6s19.1-11.8 28.2-16s18.5-7.4 26.5-9.1s15.2-1.4 21.2-1.1s12.5 2.2 15 2.7s.3 .3 .4 .4M248.3 306.5c4.2-2.7 14.8-10.7 25.2-16.1s26.1-11.2 37.3-16.4s21.2-10.6 30.3-14.9s16.8-8.3 24.4-10.6s16.4-2.7 21.3-3.2s7.1 .2 8.5 .2" stroke="#85190f" stroke-width="1.0"/>
<path d="M245.7 283.4c2.5-2.2 6.2-5.8 15.2-13.6s27.3-24.2 38.7-33.3s20.4-16.2 29.9-21.4s18.4-8.5 26.7-9.5s17.4 1.4 23.2 3.1s9.8 5.9 11.8 7.1M256.7 294.4c2.4-1.4 5.7-3.8 14.2-8.9s26-15.3 36.8-21.7s18.6-12.4 27.7-16.9s19.3-8.4 26.9-10.2s12.6-.8 18.4-.6s12.7 .2 16.5 1.5s4.9 4.9 5.9 5.9M237.7 312.4c6-4.1 24.2-17 36-24.3s23.9-12.9 34.6-19.1s20.7-13.9 29.7-18.2s16.3-5.4 23.9-7.4s16.5-3.9 21.4-4.5s6.6 1 7.9 1.2M233.1 299.1c5.3-4.3 19.8-15.6 31.3-25.8s27.1-26.6 38.1-35.7s18.8-14.4 28.1-19s20-7.3 27.9-8.5s13.5-.6 19.9 1.4s15.5 8.7 18.9 10.8s1.1 1.5 1.3 1.7M254.2 305c3-1.8 9.3-6.1 18.2-10.9s24.1-12.6 35-17.8s21.4-9.2 30.7-13s17.5-7.5 25.1-10.1s16.5-4.4 20.6-5.3s3.2-.2 3.9-.3M247.8 308.4c4.1-2.6 14.3-10 24.7-15.7s25.9-13.1 37.3-18.6s21.5-10.3 30.8-14.1s17.3-6.8 24.8-9s14-3 19.9-4.2s12.8-3 15.5-3.5s.5 .6 .6 .7M234.8 297.3c4.8-3.9 17.6-14.2 28.7-23.6s26.8-24.2 38.4-32.6s21.9-13.6 31.5-18.2s18.3-8.3 26-9.6s13.5-.4 20 1.6s15.5 8.6 18.9 10.7s1.3 1.6 1.6 1.9M243.5 292.2c3.8-3.2 13-10.3 22.7-19.3s24.6-25.6 35.9-34.4s21.9-14 31.4-18.6s17.6-8 25.5-8.9s15.2 1.5 21.6 3.3s12.3 4.5 16.6 8s7.6 10.7 9.1 12.8M249 310c4.1-2 15-7.3 24.9-11.8s23.4-9.9 34.3-15s21.8-11.2 30.9-15.5s16.5-7.5 24-10s16-3.9 21.3-5.1s9.1-1.6 10.9-2M266 296.4c1.2-.8 .1-.8 7.3-4.7s24.7-13 35.7-18.6s20.7-11.3 30.3-14.8s19.8-4 27.2-5.8s12.1-4.5 17.2-5.3s10.4-.1 13.1 .3s2.4 1.4 2.9 1.7M258.3 294.8c2.1-1.4 4.9-3.3 12.9-8.7s24.4-16.8 35-23.5s19.9-12.8 29-17.1s18-6.9 25.8-8.6s15.2-1.2 21-1.4s11.5 .5 13.8 .7" stroke="#8e2614" stroke-width="1.0"/>
<path d="M255.9 302.6c3.2-1.9 10.6-7.1 19.4-11.7s22.7-10.5 33.3-15.6s20.3-10.9 29.9-14.7s19.6-6 27.2-8.1s12.8-3.5 18.2-4.6s11.2-1.9 14.2-1.5s3.2 3.1 3.8 3.7M242.9 296.7c4.1-3 14.1-10 24.2-18s25.4-21.8 36.7-29.9s22.2-14.4 31.4-19s15.9-7.1 23.6-8.6s16.8-1.8 22.7-.7s10.3 5.9 12.4 7.1M236.6 308.8c5.2-3.7 19.4-15.2 30.8-22.4s26.7-14.6 37.6-20.7s18.8-11.5 27.9-16.2s18.2-9.5 26.4-11.9s17.8-2.3 23-2.3s6.7 1.8 8 2.1M257.9 275.5c.9-.8-1.8 1.3 5.5-4.8s27-23.2 38.3-31.9s19.9-15.7 29.5-20.5s20.1-7.6 28-8.3s13.9 1.7 19.9 4s12.1 5.8 16.4 9.4s7.9 10.1 9.5 12.2" stroke="#a33a18" stroke-width="1.0"/>
<path d="M265.7 302.6c1.6-.8 1.7-1.3 9.3-5.1s26-12.7 36.8-17.5s19.2-7.9 28.2-11.5s17.6-7.8 25.3-10.1s15.8-2.7 20.3-3.7s5.8-2.3 7-2.7M240.1 291.3c4-3.6 13.7-12.3 24.2-21.6s27.4-25.2 38.8-34.2s20.5-15.2 29.7-19.9s18-7.4 25.3-8.1s12.3 1.8 18.7 4.1s15.8 6.8 20.1 9.5s4.9 5.8 5.9 6.9M239.8 294.6c4.1-3.3 14.2-11.4 24.4-19.9s25.8-23 36.9-31.5s20.7-14.8 30.3-19.5s18.7-7 27.3-8.4s18.7-.8 24.1 .1s7 4.5 8.4 5.4M228.7 297.5c5.7-5 22.1-19.4 34.1-30.3s27-25.7 38.1-34.8s20-15.2 28.9-20.2s16.4-8.6 24.2-9.6s18.8 3.4 22.6 4.1M251.2 302.5c3.5-2.2 11.6-7.1 20.9-12.9s24-15.5 34.7-21.5s20.3-10.6 29.5-14.5s17.6-7.3 25.6-9.4s16.6-3.1 22.4-3.4s8.9 0 12.3 1.4s7.1 5.8 8.5 6.9M259.4 299.8c2.2-1.2 4.7-3.1 12.9-7.3s24.8-12.8 35.8-17.6s21-7.6 30.2-11.4s17.8-8.4 25.1-11.1s14.7-4.2 18.8-5.1s4.5-.1 5.4-.2M248.1 294.5c3-2.1 8.8-6 18.2-13s27.1-21.5 38.2-28.8s19.3-10.6 28.6-14.7s18.8-8 26.7-9.8s15.2-1.5 21.1-.8s11.6 4.3 14 5.1M245.5 310.6c4.9-2.8 18.5-10.8 29.2-16.7s24.1-13 34.8-18.3s19.6-9.2 29.1-13s20-7.6 27.7-9.9s15.2-3.1 18.5-3.8s1.1-.1 1.3-.1M239.3 294.1c4.1-3.3 14.3-11.6 25-20s27.6-22.5 38.9-30.6s20.1-13.3 29-17.8s16.5-7.6 24.5-9s16.5-.8 23 .8s12.8 6.7 16.3 9s3.8 4.2 4.6 5M245.3 285.1c2.8-2.4 7.1-5.2 16.6-14.1s28.8-29.2 40.4-38.9s20.2-15 29.5-19.5s18.4-6.1 26.2-7.2s15.8 .2 20.1 1s5.1 3.1 6.1 3.7M252.5 281.9c1.9-1.5 2.9-2.2 11.2-9.1s27.5-23.6 38.5-32.4s18.6-15.3 27.8-20.3s19.7-8.5 27.8-9.7s14.6 .8 20.7 2.7s12.5 6.4 15.8 8.9s3.7 4.8 4.4 5.8M253.1 303.2c3.5-2.3 12.1-8.2 21.3-13.5s23.1-12.8 33.8-18.5s21.2-11.7 30.5-15.6s18.1-5.7 25.5-7.8s12.9-3.5 18.4-4.6s10.6-3.4 14.5-2.2s7.2 7.8 8.7 9.4M246.8 306.6c4.3-2.7 15.3-10.4 25.4-16.2s23.9-13 34.9-18.3s21.4-9.7 30.9-13.6s18.5-7.7 26.1-9.7s13.7-1.8 19.4-2.3s11.1-1.7 14.5-1s5 4 6 4.9M237.9 309.2c5.2-3.8 19.6-15.2 31.2-22.8s27.8-16 38.8-22.7s18.4-13.4 27-17.4s17.1-4.7 25-6.6s16.2-4.3 22.4-4.5s10.6 1.5 15 3.6s9.1 7.6 10.9 9.2M258.8 299.5c2.2-1.3 5.1-3.7 13.2-7.8s24.8-11.6 35.5-16.9s19.2-10.8 28.5-14.4s19-5.6 27.4-7.6s17.6-3.4 22.8-4.3s7.2-.9 8.6-1.1M237 302.7c5.4-3.5 21.2-13.3 32.4-21.1s23.5-18.3 34.4-25.5s21.6-13.4 30.9-17.7s17.5-6.6 25.1-8.2s13.8-2.1 20.1-1.4s13.8 3.9 17.4 5.7s3.6 3.9 4.3 4.7M268.6 298.4c1.1-.5-.3 .4 6.6-3.1s24.3-13 34.8-18s18.8-8 28.1-11.9s19.4-8.3 27.3-10.9s14.4-3.5 20-4.6s9.9-2.8 13.5-1.8s6.6 6.5 7.9 7.8M238 295.4c4.5-3.9 16.2-14.4 26.8-23.6s25.6-23.1 37-31.6s21.7-14.1 31-19s17.4-9.1 25.2-10.3s16.3 .9 22.1 3s10.8 7.8 12.9 9.4M249 305.8c4.2-2.6 15.2-10.4 25.2-16s24.1-11.4 34.5-17.1s19-13.2 28.3-17.1s19.9-4.9 27.6-6.8s13-3.7 18.6-4.7s11.7-1.4 14.8-.9s3.1 3.4 3.7 4.1M237.6 295.2c4.5-3.8 16.5-14.4 27.3-23.1s26.1-20.8 37.4-29.1s20.8-15.6 30.2-20.5s18.4-7.8 26.2-8.8s14.2 1.3 20.7 3s15 5.3 18.7 7.4s2.7 3.9 3.3 4.7M253.5 276.4c1.5-1.4 1-1 8.7-8s26-25 37.6-34s22.4-15 31.9-19.8s16.9-7.7 24.9-8.8s16.6 .1 23 2.2s12.9 8.5 15.5 10.2" stroke="#7a1712" stroke-width="1.0"/>
<path d="M247.8 300.7c3.3-2.5 10.4-8.4 20.2-14.5s27.1-15.6 38.6-22.2s21-13 30.2-17.6s17.6-8 25-9.9s16.1-1.1 19.3-1.3M241.5 292.9c3.9-3.2 13.5-10.6 23.8-18.9s27.2-22.8 38-31.3s17.6-15 26.4-19.8s18.3-7.8 26.4-8.9s16.4 .6 22.1 1.9s10.2 5 12.3 6M246.9 303.6c4.4-2.8 16.4-10.1 26.2-16.3s22.4-15.1 32.8-20.9s20.2-9.8 29.5-13.7s18.3-7.2 26.2-9.2s15.2-2.9 21-3.2s10.2-.5 14 1s7 6.6 8.4 7.9M236.3 297.7c4.7-4.3 17.3-16.6 28.2-25.7s25.8-20.8 37.2-28.7s21.8-14.4 31.2-18.9s18.1-6.9 25.6-7.9s13.4 .5 19.8 2.2s14.8 6.2 18.4 8.1s2.4 2.9 2.9 3.4M237.5 303.7c5.1-3.9 19.4-15.1 30.6-23.2s25-18 36.1-25.4s21.5-14.6 30.9-19.1s17.3-7.1 25.4-8.4s18.7 .6 23.1 1s3 .9 3.6 1.1M248.2 292.9c2.9-2.4 8.4-7.3 17.5-14.3s25.5-19.9 36.8-27.5s21.5-12.6 31-17.9s18.3-12.3 25.9-13.9s15.5 3.7 19.9 4.9s5.3 1.7 6.3 2.1M249 294.7c3-2.3 8.7-6.7 18.1-13.3s27.2-19.2 38.3-26.7s19.8-14.1 28.4-18.4s15.4-6 23.1-7.7s16.4-2.7 23.1-2.2s13.6 4 16.6 5.2s1.3 1.5 1.6 1.8M240.7 310.3c5.4-3.4 21.1-13.6 32.5-20.2s25.2-13.4 36.1-20s20.3-14.8 29.5-19.2s18.2-5.8 25.8-7.4s14.1-1.8 19.5-2.1s10.3-.3 12.9 .2s2.4 2.1 2.9 2.5M265.9 299.8c1.4-.8 .6-1.9 8-5.2s25.5-9.5 36.3-14.2s19.1-10.8 28.2-14.3s18.2-4.8 26.1-7s17.7-5.4 21.3-6.5s.3-.1 .4-.1M250.4 309.6c3.9-2.6 13.8-10.2 23.7-15.3s24.6-10.1 35.4-14.9s20.1-10.1 29.5-13.7s19.4-5.7 27.1-7.8s14.2-4.1 19.4-4.9s9.2-.7 12-.3s4.3 2.4 5.1 2.8M240.9 305.7c5.1-3.2 19.8-11.9 30.8-19s24.2-17.1 35.1-23.7s20.6-11.7 30.2-15.9s20.1-6.9 27.5-9s12.9-3.3 16.9-3.6s6.3 1.2 7.6 1.5M239.8 293.8c4.3-3.3 15.4-11.2 25.8-19.8s25.4-23.3 36.5-31.6s20.9-13.6 30.1-18.4s17-8.9 24.9-10.3s16.2 .1 22.7 1.9s12.5 6.7 16 9.1s4 4.4 4.8 5.3M257 303.3c2.9-1.6 9-5.3 17.6-9.7s23.2-11.8 34-17.1s21.5-11.1 30.7-14.9s17.3-5.3 24.7-7.6s14.7-4.9 20.2-5.9s9.6-1.2 12.9-.5s5.3 4 6.4 4.8M255.8 300.4c2.7-1.6 7.8-4.5 16.2-9.6s23.5-15.2 34.5-21s22.5-10 31.6-13.7s16.3-6.7 23.6-8.5s14.4-1.4 20.4-1.9s13-.9 15.7-.9s.8 .7 .9 .8M228.1 299.3c5.6-4.8 21.5-17.9 33.5-28.7s26.8-26.3 38.4-35.7s21.8-15.8 31.3-20.9s18.4-8.7 26.2-9.7s15.6 2.3 20.9 4s8.9 5.2 10.6 6.3M252.5 303.1c3.4-2.3 10.9-7.8 20.4-13.7s25.8-16.4 36.7-22s19.7-7.8 28.4-11.4s16.3-7.7 23.9-10.1s15.7-4 21.2-4.5s9.5 .8 12.2 1.5s3.3 2.6 3.9 3.1M240.1 314.3c5.3-3.4 20.3-14.3 31.7-20.4s25.1-11.3 36.3-16.5s21.4-10.8 30.9-14.6s18.5-6.2 26.3-8.4s14.8-3.8 20.2-4.8s9.3-2.1 12.4-1.3s5 5.3 6 6.4M232.2 307.3c5.9-4.5 23.5-17.7 35.4-26.8s24.9-20.5 35.8-27.8s20.4-12 29.7-16.5s18.3-8.5 26.2-10.4s16.3-1.4 21.2-1.1s6.4 2.2 7.7 2.7M248.9 294.3c3.3-2.7 10.4-8.4 19.5-15.8s24.4-21 35.3-28.9s20.8-14.3 30.3-18.1s18.5-3.6 26.4-4.9s15.3-3.3 21-3.2s10.8 3 13 3.7" stroke="#5e0a08" stroke-width="1.0"/>
<path d="M316.5 256.6c3.1-1.1 10.3-4.7 18.4-6.8s20.7-4.1 30-5.6s21.5-2.9 25.8-3.5M327.8 265c1.7-.6 3.8-1.7 9.9-3.6s18.6-5.6 27-8s19.2-5.7 23.4-6.7s1.1 .2 1.4 .2M326.4 272.7c2.3-.9 6.8-3 13.4-5.6s18.4-7.1 26.3-10s16.3-6.3 20.8-7.6s4.7 .1 5.7 .1M323.4 262.3c2.2-.7 6.3-2.2 13.3-4.5s19.5-7.3 28.5-9.5s21-3.1 25.5-3.7s1.2 .4 1.4 .5M330.3 269.5c1.7-.7 4-2 9.8-4.1s17.9-6 25.4-8.3s16.1-4.8 19.7-5.8s1.5-.1 1.8-.1M318.7 258.7c2.9-1 9.7-4 17.4-6.1s19.6-4.8 28.8-6.6s21.4-3.8 26.3-4.3s2.6 1.1 3.1 1.3M337.8 257.4c4.8-1.3 19.9-6 28.6-8.1s19.3-3.8 23.4-4.4s1.1 .2 1.3 .3M320.5 265.4c2.9-.9 9.4-3.4 17.1-5.5s20.6-4.7 29.1-7s16.7-6 22-6.9s8.1 1.6 9.7 1.9M309.7 263c4.6-1.7 18.1-6.9 27.6-10s20.3-6.4 29.6-8.4s21.1-3.1 25.7-3.5s2 .7 2.3 .9" stroke="#c4721f" stroke-width="0.8"/>
<path d="M306.8 266.2c5-1.9 20.5-8 30.3-11.1s20.1-5.5 28.9-7.5s19.8-4 24.5-4.6s3.1 .7 3.8 .8M309.8 265.2c4.3-1.8 16.6-7.8 25.8-10.6s21.1-4.3 29.3-6.2s16.8-4.1 20.1-4.9M339.8 258.8c3.7-1.1 15.2-4.6 22.7-6.2s18.7-3.1 22.4-3.7M330.7 254.9c.8-.3-.9-.6 4.8-1.8s19.9-4.1 29.1-5.8s20.6-4.6 26.3-4.7s6.8 3 8.2 3.6M337.9 256.9c.1 0-4.1 1 .4-.1s18.1-4.8 26.7-6.8s18.3-4.5 24.7-4.9s11.4 2 13.7 2.4M313.9 278.4c4.3-1.7 17.4-7 26-10.3s18.5-6.9 25.9-9.6s14.9-5.3 18.7-6.5s3.4-.7 4.1-.8M307.7 258.3c4.5-1.3 17.5-5.6 27-8.1s21.3-5.1 30.3-6.7s20.1-2.7 24.1-3.2M341.5 259.2c4-.9 16.7-3.7 24.1-5.5s16.7-4.4 20.5-5.3s1.8 0 2.2 0" stroke="#a8501a" stroke-width="0.8"/>
<path d="M307 268.4c4.9-2 19.9-8.9 29.4-12.1s19.1-5.1 27.8-7s19.7-4 24.4-4.6s3.5 .8 4.2 1M339.9 266.7c4.2-1.3 17.5-5.2 24.9-7.5s14.3-5 19.3-6.3s8.7-1.5 10.5-1.8M335.2 252.1c.1 0-3.9 .7 1-.4s19.7-4.4 28.7-6.1s19.2-4.3 25.2-4.3s9.1 3.7 10.9 4.4M336.5 261.8c.2 0-3.6 1.2 1-.3s18.5-6.8 26.2-8.8s16.7-2.7 20-3.2M328.6 258.2c1.6-.5 3.2-1 9.4-2.9s19.1-6.2 27.5-8.3s17-3.8 23-4.1s11 2 13.2 2.4M312.6 275.1c4.5-1.9 17.9-8.8 26.6-11.9s17.8-4.3 25.6-6.4s17.1-5.2 21-6.3s1.9-.2 2.3-.3M310.8 261.1c4.2-1.3 16.1-5.5 25-8.1s19.1-5.3 28.4-7.2s21.6-4.3 27.3-4.7s5.6 2.3 6.7 2.7M312 276.4c4.9-1.9 20.2-8 29.1-11.4s16.9-6.5 24.6-9s16.3-4.8 21.4-5.8s7.4-.4 8.9-.5M336.4 268.2c.5-.2-1.6 .7 3.3-1.1s18.4-7.4 26-9.9s15-4.1 19.7-5.3s6.8-1.6 8.2-1.9M308.4 274.5c4.8-2 19.5-9.1 28.9-12.4s19.8-5.6 27.2-7.7s14.6-4.2 17.5-5M326.7 256.7c1.6-.5 3-1.7 9.7-3.3s20.7-4.6 30-6.6s20.9-4.5 25.6-5.1s2.4 1.1 2.8 1.3M305.4 273.7c5.4-2 22.7-8.7 32.6-12s18.9-5.4 26.9-7.7s16.9-5.3 21.6-6.3s5.6 .5 6.7 .6" stroke="#b5621a" stroke-width="0.8"/>
<path d="M337.4 254.5c4.6-1.3 18.8-5.9 27.6-7.7s20.7-2.8 25.4-3.2s2.6 .7 3.1 .8M314.7 261c3.6-1.3 13.1-5.4 21.3-7.7s18.7-4.6 27.9-6.5s20.6-4.7 26.9-4.8s9.4 3.6 11.3 4.3M322.8 256.8c2.2-.8 6.2-2.6 13.2-4.4s20-4.1 28.8-6.2s19.6-5.3 23.5-6.4M323.1 256.1c2-.7 5.1-2.2 11.9-4s20-5.4 29.4-6.9s20.6-2.4 26.9-1.9s9.1 4.1 10.9 4.9M317.2 260.4c3.3-1.1 11.7-4.5 19.7-6.7s19.2-5.1 28.3-6.6s21.8-2.1 26.4-2.5s.8 .1 .9 .1M344.3 266.7c3.5-1.5 14.2-6.4 21.2-8.7s16.6-3.8 21-4.7s4.7-.9 5.7-1M327.6 265.9c1.7-.7 3.9-2.3 10.3-4.3s20-5.4 27.7-7.4s15.8-3.4 18.9-4.1M305.7 266.3c5.3-1.9 21.8-8.6 31.9-11.5s19.9-4.1 28.7-5.9s19.3-4.6 24.3-5s4.6 2.4 5.6 2.9M334.2 257.8c.3-.1-3.1 1 2.1-.7s20.1-6.9 28.8-9s17.5-3.1 23.4-3.3s10.2 1.7 12.2 2M324.3 268.5c2.5-.9 7.6-3.3 14.6-5.4s18.9-4.8 27.1-7s17.1-4.6 21.9-5.7s5.9-.8 7.1-1M329.7 264.5c1.4-.6 2.8-1.6 8.7-3.6s19-6.2 26.5-8.1s15.3-3 18.4-3.6M326.9 265c1.8-.8 4.2-2.5 10.6-4.6s19.3-6.1 27.7-8.2s16.6-3.6 22.6-4.4s11.1-.3 13.3-.4M335.9 259.6c.2 0-3.8 .9 1-.3s19.1-4.9 27.8-7.1s18.9-5.3 24.1-6.1s5.7 .7 6.8 .8M337.8 254.1c4.6-1 18.8-4.6 27.4-6.2s20.2-2.9 24.2-3.4M321.9 267c2.4-1 7.4-4.1 14.7-6s20.3-3.7 28.6-5.9s16.2-5.7 21.1-6.9s6.9 0 8.2 0M335.7 270.4c.6-.3-1.1 .6 3.7-1.4s17.4-7.4 25-10.1s17.4-4.7 20.8-5.6" stroke="#96301a" stroke-width="0.8"/>
<path d="M401.3 240.8c1 .4 3.8 1.3 6.3 2s6.7 1.7 8.9 2.1s3.4 .2 4.1 .2" stroke="#d58428" stroke-width="0.8"/>
<path d="M401.6 231.3c1.5 .5 5.3 2.5 8.8 3s9.4 .6 12.6 .1s5.1-2.6 6.1-3.2" stroke="#85190f" stroke-width="0.8"/>
<path d="M397.2 235.8c1.9 .6 7.7 3 11.3 3.7s7.9 1 10.1 1.1s2.6-.5 3.1-.6M393.6 240.1c2.1 .7 9.4 3.2 12.9 4.3s6.2 1.6 8.3 2s3.4 .6 4.1 .7M397.9 236.4c1.8 .6 7.6 2.9 11.2 3.7s7.7 1 10.4 .9s5.1-1.3 6.2-1.5M396.7 245.6c1.4 .4 5.8 1.6 8.3 2.8s5.7 3.2 6.9 4.6s.3 3 .3 3.6" stroke="#7a1712" stroke-width="0.8"/>
<path d="M397.5 233.7c1.9 .6 7.9 3.1 11.6 3.9s7.5 1.4 10.8 .9s7.6-3.3 9.2-3.9M402.4 237.9c1.1 .4 3.7 1.6 6.6 2.2s7.6 1.3 10.7 .9s6.3-2.5 7.6-3" stroke="#a85400" stroke-width="0.8"/>
<path d="M396.4 227.8c2.5 .8 10.3 4 15.1 4.7s10 .6 13.9-.4s8-4.9 9.6-5.9M396.1 226.9c2.5 1 10 4.9 14.9 5.8s10.2 .5 14.2-.4s8.2-4.3 9.8-5.1M399.8 238.9c1.2 .4 4.3 1.8 7.3 2.5s7.7 1.4 10.6 1.4s5.7-1.3 6.9-1.6" stroke="#c4721f" stroke-width="0.8"/>
<path d="M400.2 238.7c1.2 .5 4.3 2 7.2 2.7s8.4 1.2 10.8 1.4s3.2-.6 3.8-.7" stroke="#b5621a" stroke-width="0.8"/>
<path d="M407.3 247.2c1.9-5.4 8.6-22.5 11-32s3.7-17.1 3.1-25s-5.4-18.8-6.5-22.6" stroke="#6b0f0c" stroke-width="0.8"/>
<path d="M409 246.3c1.9-5.2 8.8-22.2 11.1-31.6s3.5-17.5 2.9-24.9s-5.2-16.2-6.2-19.4" stroke="#8e2614" stroke-width="0.8"/>
<path d="M408.3 245.4c1.8-5 8.6-21.1 10.8-30.3s3.3-17.5 2.8-24.8s-4.6-15.9-5.5-19" stroke="#82190f" stroke-width="0.8"/>
<path d="M391.1 222.3c1.6-.3 6.8-.3 9.6-1.9s5.2-4.8 7.4-8.1s4.5-8 5.9-11.6s2-8.1 2.4-9.7M383.5 210.3c1.4-.7 6.2-1.9 8.3-4.3s3.4-7.9 4.3-10.2s1-2.7 1.2-3.2M396.8 222.6c.8-.1 2.4 .6 4.5-.8s6.6-4.4 8.6-7.6s2.4-8.2 3.4-11.7s2.3-8.1 2.8-9.8M395.6 222.7c1-.2 3.5 .8 5.6-.8s5.1-5.1 6.9-8.5s2.6-8.2 3.8-12s2.6-9.1 3.1-10.9" stroke="#7a1712" stroke-width="0.8"/>
<path d="M396.8 217c.2-.1-.3 .7 1-.3s4.9-3.3 6.9-5.9s4.1-7.9 5-9.9s.3-1.5 .4-1.8M397.9 218.5c1.1-1.1 5-3.7 6.7-6.6s2.5-8.7 3.5-11.2s1.9-3.4 2.3-4.1M383 214.2c.8-.1 2.5 .4 4.7-.5s6.4-2.5 8.7-5.4s4-9.3 5.1-12.1s1.4-4 1.6-4.8M389.6 220.2c1.2-.1 5.1 .7 7.4-.9s4.6-5.4 6.6-8.6s4.5-8.2 5.6-10.7s.9-3.4 1.1-4.1M386.5 219c1.6-.1 6.6 .8 9.6-.6s6.1-4.4 8.5-7.5s4.3-8 5.7-11.7s2.4-8.7 2.8-10.4" stroke="#f283c6" stroke-width="0.8"/>
<path d="M383.6 213.6c.6-.1 1.5 1.1 3.4-.2s5.4-5.4 7.8-7.9s5.4-6 6.5-7.2M374.1 211.8c1.1-.3 3.6-1 6.3-2s7.5-1.5 9.8-3.6s3.1-6.9 4.1-9.2s1.5-4.1 1.8-4.9M395.9 217.5c1.2-1 5.4-3.1 7.4-6.1s3.1-9 4.1-11.7s1.6-3.7 1.9-4.5M380.3 218.1c1.5-.4 5.6-.9 8.8-2.3s8-3.6 10.2-6.6s1.9-8.7 2.7-11.4s2.2-3.9 2.6-4.7M383.7 217.7c2.1-.3 9.9-.2 13-1.6s3.7-4.2 5.3-7.1s3.3-8.2 4.3-10.7s1.6-3.2 1.9-3.8M392.7 220.5c.6-.1 1.4 .8 3.5-.5s6.9-4.5 9-7.7s2.8-9.5 3.4-11.4" stroke="#ff8ccf" stroke-width="0.8"/>
<path d="M379.8 209.5c0 0-1.5 .8 .1 0s7.6-2.7 10-5.2s3.4-7.3 4.4-9.4s1.5-2.8 1.8-3.4M390.8 216.9c.2-.1-.3 1 1.4-.1s7.1-4.2 9.1-6.9s2.2-7.5 2.6-9M387 220.3c.9-.2 3.1 .3 5.5-1.3s6.7-4.8 9-8s2.9-7.3 4.6-10.8s4.4-8.5 5.2-10.2M386.2 218.8c2 0 8.9 1.6 12.1 .1s5-5.5 6.8-8.9s3.2-9.1 4.1-11.5s1.1-2.4 1.3-2.9M392.3 220c.5 0 1.5 1.1 3.4-.3s5.6-4.8 7.6-8.1s2.9-8.4 4.4-11.7s3.6-6.8 4.4-8.2M396.2 222.1c.8-.2 2.7 .6 4.8-.8s5.6-4.6 7.5-7.8s2.7-8.4 3.8-11.4s1.9-5.1 2.3-6.2M392 215.6c1.1-1 4.6-3.1 6.5-5.9s3.9-8.2 5-10.5s1.4-2.9 1.7-3.5" stroke="#a0007d" stroke-width="0.8"/>
<path d="M395.3 221.1c1-.2 4.1-.2 6.3-1.5s5.4-3.3 7.2-6.6s2.8-10.8 3.4-13.2s.3-1 .4-1.2M400.4 221.5c.3 0 .1 1.2 1.6-.3s5.4-5.5 7-8.6s2.6-8.6 3.1-10.3M384 214.4c.9-.2 3.8 .4 5.8-.8s4.7-3.6 6.3-6.3s2.6-7.6 3.5-10s1.7-3.7 2.1-4.5M390.2 215c.1 0-.9 .8 .5-.1s5.9-2.5 8-5.2s3.6-8.1 4.6-10.5s1.1-3.1 1.3-3.7M378.8 213.8c1.3-.1 4.8 .7 7.5-.5s6.8-4 9.2-6.8s3.7-7.5 5.1-10.2s2.5-5.3 3-6.4M393.4 222.3c1.2-.2 4.6 .1 7.1-1.6s5.9-5.2 7.9-8.6s2.9-8.2 4.2-11.7s3.1-7.8 3.7-9.4M386.4 216.6c.7 0 2 .9 4.3-.4s7.6-4.2 9.7-7s2.6-8.2 3.1-9.8M389.6 217.1c.5-.1 1.2 .9 3-.3s5.7-3.8 7.7-6.8s3.6-9.3 4.4-11.2s.3-.5 .4-.6" stroke="#b0198c" stroke-width="0.8"/>
<path d="M382.5 209.5c.2 .1-.9 1.2 .9 .1s8-4.5 10.3-7.1s2.4-6.5 3-8.3s.7-2 .8-2.4M381 216c1.8-.1 7.1 0 10.3-1.1s7-2.6 9-5.6s2.1-9.1 3-12.2s1.8-5.6 2.2-6.7M404.5 218.9c.9-1.1 4.1-3.7 5.6-6.6s2.5-8.9 3.1-10.7M371.7 210.8c1.7 0 6.6 1 9.7-.2s7-4.4 9.3-7s3.3-7.3 4-8.8s.1-.2 .1-.2M388.2 214.9c1.6-1.3 7.6-5.1 9.6-8s1.5-7.2 2.4-9.8s2.3-4.8 2.8-5.8" stroke="#85190f" stroke-width="0.8"/>
<path d="M372.5 211.6c2 0 8.3 .8 11.8-.2s6.8-3.1 9.2-5.8s3.9-7.3 5.2-10.7s2.1-7.8 2.5-9.4M384.4 209.3c1.2-1 5-3.4 7-5.8s3.8-6.5 4.8-8.7s1.2-3.5 1.4-4.3M377.2 213.3c1.2-.1 4.6 .8 7.2-.5s6.4-4 8.4-6.9s2-8 3.1-10.6s2.9-4.4 3.5-5.2M403 221.5c1.1-1.2 4.8-3.9 6.6-7.1s3.5-9.2 4.4-11.8s.8-2.8 1-3.3M386.9 219.7c1.4-.1 5.7 1 8.5-.4s6.3-4.7 8.3-8s3-8.5 3.9-11.5s1.7-5.3 2-6.4M386.3 212.2c0 0-1.1 1.1 .4 0s6-4 8.1-6.5s3.5-6.6 4.4-8.3s.7-2 .9-2.4M400.3 219.9c1.3-1.3 6.2-5 7.8-8.1s.4-7 1.5-10.7s4.3-9.8 5.2-11.7M384.3 215.8c1 0 3.7 1.1 6.3 0s6.4-3.2 8.7-6.3s4.4-9.4 5.3-11.8s.2-1.7 .3-2" stroke="#ff9fd8" stroke-width="0.8"/>
<path d="M377.7 215.5c1.8-.1 7.5 .5 10.4-.8s5.4-4.2 7.4-7.2s3.2-7 4.5-10.3s2.8-8.3 3.3-9.9M380.6 218.6c2.4-.3 10.8-.2 14.4-1.5s5.6-4 7.5-6.7s3-7.7 3.8-9.7s.7-1.9 .9-2.3M385.3 216.2c1.1-.3 4.5-.3 6.6-1.7s4.3-3.9 6-6.5s3.5-7.6 4.3-9.3s.4-1.1 .5-1.3M400.8 220.4c1.2-1.4 5-5.1 7.1-8.1s4.1-7.6 5.2-9.9s1.4-3.3 1.6-4M387.3 212.2c1.3-.8 5.8-2.2 7.9-4.7s3.4-7.2 4.5-10.1s1.7-6.4 2.1-7.6M373.4 212.8c1.6-.2 6.2 .1 9.4-.9s7.4-3.1 9.8-5.5s3.5-6.9 4.6-9s1.6-3.3 1.9-4M396 216.2c.8-1.1 3.1-4.1 4.9-7.1s4.4-8.4 5.5-10.8s.8-3.1 1-3.7M390.2 221.6c1.5-.2 6-.1 8.8-1.4s6-3.1 8.1-6.2s3.4-9.2 4.5-12.3s1.5-5.6 1.8-6.7M389.4 213.4c.1-.1-.5 .7 1-.4s6-3.6 8-6.1s2.5-5.4 3.6-8.5s2.8-8.4 3.3-10M380.2 210.5c.4 0 .5 1 2.3 .1s6.5-2.9 8.8-5.3s3.9-6.8 5.1-9.2s2-4.3 2.3-5.1" stroke="#ffb0df" stroke-width="0.8"/>
<path d="M378.8 216.8c1.9-.4 8.2-.9 11.5-2.4s6.5-4 8.2-6.5s1.5-6.5 2.3-8.9s2.1-4.6 2.5-5.6M382.7 208.6c1.3-1 5.8-4 7.8-6.1s2.9-3.4 4.4-6s3.8-7.7 4.5-9.2M399.7 218.9c1.2-1.1 5.7-3.3 7.3-6.6s1.7-10.4 2.3-13s1.1-2.1 1.3-2.5M386.3 219.7c1.6-.2 6.6 .1 9.3-1.3s5.3-4.6 7.2-7.3s3.6-7.8 4.3-9.4M385.1 210.1c1.1-.5 4.6-1.1 6.6-3.4s4.1-7.8 5.1-10.2s1-3.5 1.2-4.2M395.1 223c.9-.1 3.3 .8 5.4-.6s5.6-4.9 7.2-8s1.8-9 2.2-10.8M391.1 216.6c1.6-1 7.4-3.1 9.5-5.9s2.5-8 3.4-10.5s1.4-3.5 1.7-4.2" stroke="#f79ad3" stroke-width="0.8"/>
<path d="M398.8 227c.4 .3 .8 1.1 2.8 2s7.1 2.5 8.9 3s1.6 .3 2 .3" stroke="#f9a8d8" stroke-width="0.7"/>
<path d="M400.1 225.5c.8 .4 2.4 1.7 4.4 2.9s5.2 3.2 7.3 4s4.7 .5 5.6 .6" stroke="#ffc4e8" stroke-width="0.7"/>
<path d="M400.8 222.2c.7 .5 2.1 1.7 4 3s6.2 3.8 7.7 4.5s1.3-.2 1.5-.2M394 221.5c1.5 1 6.3 4.4 9.2 6s6.3 2.7 8.3 3.3s3.5 .4 4.2 .5" stroke="#f283c6" stroke-width="0.7"/>
<path d="M398.8 226.3c.8 .6 2.6 2.3 4.7 3.4s5.4 2.2 7.9 2.9s5.5 .9 6.7 1.1M400.4 226c.5 .4 1.1 1.2 2.9 2.1s6.3 3.1 7.8 3.7s1.2-.1 1.4-.1M394.3 225.5c1.4 .8 5.6 3.6 8.3 4.8s6.5 2 8.1 2.5s1.2 .3 1.5 .4M396.1 227.6c.9 .6 2.9 2.6 5.2 3.6s6.6 2.1 8.5 2.6s2.2 .7 2.7 .8" stroke="#f79ad3" stroke-width="0.7"/>
<path d="M398.3 219.4c1.2 .9 4.6 3.6 7.1 5.2s5.7 3.8 8.1 4.4s5-.6 6-.7M402.5 226.1c.3 .2 0 .2 1.6 1s5.8 3.4 7.5 4s1.9 0 2.3 0" stroke="#ff8ccf" stroke-width="0.7"/>
<path d="M393.1 223.2c1.6 1.1 6.2 5 9.3 6.6s7 2.1 9.1 2.7s2.8 .6 3.4 .7M398.6 218.5c1.2 .9 4.7 3.7 7.1 5.5s6.1 4.2 7.5 5s.7-.1 .9-.2M395.4 222.2c1.4 .9 5.4 4.1 8.1 5.6s6.2 2.5 8.1 3s3.1 .1 3.7 .1" stroke="#ff9fd8" stroke-width="0.7"/>
<path d="M399 220.3c1 .8 3.7 3.2 6 4.7s5.6 4 8 4.7s5.5-.4 6.6-.4" stroke="#ffb0df" stroke-width="0.7"/>
<path d="M267.5 263.3c2.2-.3 9.1-1.1 13.6-1.9s9.2-1.5 13.2-2.4s8.6-2.4 10.9-3.1s2.4-1.1 2.9-1.3M276.9 258.4c.3 0-.9 .2 1.7-.3s9.6-1.3 13.9-2.3s9.4-3.1 11.5-3.7s.7-.4 .9-.4M270.5 260c1.4-.2 4.7-.6 8.4-1.2s9.7-1.3 13.7-2.3s7.9-2.7 10.4-3.6s3.9-1.7 4.7-2.1M278.3 256.3c.3-.1-.3 .1 1.9-.4s7.7-1.3 11.5-2.3s8.6-3 11.5-4s5-1.4 6-1.7M268.5 259.8c1.8-.3 7.1-1.2 10.9-1.8s7.5-1.1 11.5-1.9s9.9-2 12.7-2.7s2.9-1.5 3.5-1.7M269.8 258.3c1.4-.1 4.7-.2 8.3-1s9.4-2.5 13.5-3.9s8.3-3.2 11.2-4.2s4.7-1.7 5.7-2M268.5 263.8c2.2-.2 8.6-.7 12.9-1.2s9.3-.6 13.2-1.7s7.6-3.7 10.3-5s5.2-2.6 6.3-3.1M276.6 261.4c.5-.1-.2-.1 2.7-.5s10.3-1.1 14.7-1.9s9.8-2.2 11.9-2.7s.7-.3 .8-.4M272.1 262.7c1.5 0 5.5 0 9.1-.4s8.4-1.2 12.4-2.3s9-3.4 11-4.3s1.2-.7 1.5-.8" stroke="#fff" stroke-width="0.9"/>
<path d="M277.8 259.5c.5-.1 .2-.1 2.9-.3s9.3 0 13.4-.8s8.4-3 11.1-4s4.6-2 5.5-2.4M269.6 260.6c1.9-.3 7.1-.7 11-1.6s8.6-2.5 12.6-3.5s8.5-1.2 11.7-2.1s6.2-2.4 7.4-2.9M270 264c1.8-.2 6.7-.3 10.8-.9s9.5-1.6 13.4-2.6s7.7-2.9 10.1-3.8s3.8-1.3 4.6-1.6M275.3 259.4c.8-.1 1.9-.3 4.7-.8s8.5-.9 12.2-1.7s7.1-1.4 10.4-2.6s7.8-3.9 9.4-4.7M278.2 260.5c.6 0 .7 .1 3.3-.4s8.4-1.4 12.5-2.2s9.5-1.7 12.2-2.6s3.4-2.2 4.1-2.7M268.4 261.9c2.1-.4 8.8-1.5 13-2.3s7.6-1.8 11.9-2.8s9.7-2 13.4-3.4s7.4-4.1 8.9-4.9M278.1 259c.2 0-1 .3 1.4-.2s9.1-1.9 13.2-2.9s9.1-2.7 11.5-3.5s2.7-1.2 3.2-1.4M270.8 257.2c1.5-.2 5.5-.8 8.9-1.6s8-2 11.7-3.3s7.6-3.1 10.4-4.2s5.1-2.2 6.2-2.6M271.7 258.2c1.2-.2 3.4-.9 6.9-1.3s9.9-.4 14.2-1.3s8.6-2.8 11.4-3.8s4.5-1.8 5.4-2.2M268 257.1c1.9-.4 7.6-1.1 11.6-2s8.6-2.3 12.5-3.2s8.5-1.7 10.9-2.3s2.8-.9 3.3-1.1M273.9 257.6c.9-.1 2.4-.3 5.4-1s8.3-1.8 12.1-3s9.1-3.6 11-4.3s.4-.2 .5-.3M271.9 255.9c1.4-.4 5-1.3 8.3-2.3s8-2.4 11.6-3.4s7-1.7 10.1-2.7s7.2-2.3 8.7-2.7M273.5 260.3c1.2-.2 3.4-.7 6.7-1.3s8.9-1.3 13-2.2s7.7-2.2 11.3-3.4s8.6-3.3 10.4-4" stroke="#ffc3b0" stroke-width="0.9"/>
<path d="M270.3 256.7c1.5-.4 5.4-1.5 8.9-2.5s8.3-2.4 12.2-3.5s9-2.5 11.1-3.1s1.1-.6 1.4-.7M276.1 258.1c.5-.1 .2-.1 2.7-.5s8.6-1.2 12.8-2.1s9.1-2.4 12.2-3.5s5.6-2.7 6.8-3.3M277.9 255.1c.2 0-1.2 .3 .9-.2s7.6-1.5 11.4-2.9s9-4 11.2-5s1.7-.5 2-.6M269.8 255.9c1.5-.3 5.5-1.2 9.1-2.1s8.2-2.1 12-3.3s8.6-3.1 11.1-4.1s3.7-1.2 4.4-1.5M277.1 261.9c.8-.1 1.9 .1 4.5-.5s7.5-2 11.3-3.2s8.7-2.9 11.7-3.9s5-1.6 6-2M277.6 256.7c.3-.1-.6 0 2-.5s9.5-1.4 13.5-2.3s8.1-2.4 10.5-3.3s3.4-1.5 4.1-1.9" stroke="#ffd2c4" stroke-width="0.9"/>
<path d="M270.5 259.4c1.5-.3 5.2-1.2 8.9-1.9s8.8-1.2 13.1-2.4s9.9-3.8 12.2-4.6s1.1-.4 1.3-.4M277.5 254.3c.3 0-.4 .1 1.8-.3s7.8-1.1 11.5-2.2s8.3-3.2 10.6-4.2s3-1.2 3.6-1.4M267.8 257.4c1.9-.1 7-.2 11.1-.9s8.9-2.5 13.1-3.3s10.2-.9 12.2-1.1s.2-.2 .2-.2M276.8 255.9c.3-.1-.2-.1 2.2-.6s8.2-1.5 12.5-2.5s10.7-2.4 13.4-3.1s2-1 2.4-1.2M267.9 256.5c1.8-.4 7.2-1.9 11.2-2.6s8.7-.9 12.6-1.6s7.3-1.8 10.6-3.1s7.4-3.9 8.9-4.7M278.5 257.5c.2 0-1 .7 1.4-.1s8.8-3.1 12.7-4.3s8.7-2.5 10.8-3.1s1.3-.5 1.5-.6" stroke="#f7b39f" stroke-width="0.9"/>
<path d="M245.9 301.1c1.2-1.9 1-4.6 7-11.3s20-19.4 29-28.7s20-19.1 25.5-27.1s6.5-17 7.4-21.1s-1.6-3.1-2-3.7M273.1 276.1c2.3-2.5 7.4-8.2 13.9-15.3s19.7-19 24.9-27.1s6.8-16.1 6.4-21.7s-6.9-9.9-8.3-11.9M260.7 280.7c3.2-3.4 11.7-12.4 19.6-20.6s21.3-20.7 27.3-28.6s8-14.1 8.3-19.1s-5.6-9.4-6.7-11.2M261.7 285.3c3.6-4 14-15.3 21.8-24.1s19.8-20.3 25.1-28.5s7.6-14.7 7-20.8s-9.1-13.3-10.9-16M280.8 297.1c1-1.6 1.4-2.9 6.2-9.3s16-20.4 22.5-29.2s13.8-16 16.5-24s0-19.6-.2-24s-1-1.8-1.2-2.1M274.6 288c3.9-4.7 16.2-19.5 23.5-28.7s16.8-18.5 20.4-26.5s2.3-15.4 1.5-21.4s-5.5-12.3-6.6-14.8" stroke="#ffc4e8" stroke-width="0.9"/>
<path d="M270.5 301.5c1.3-1.8 2.5-3.5 7.6-10.5s16.4-21.6 23.5-31.3s15.5-18.4 19.2-26.8s4.3-17.3 3.3-23.3s-7.7-10.6-9.3-12.7M268.5 284.1c3.6-4.2 14.1-16.4 21.5-25s18-18.7 22.6-26.7s5.5-15.5 4.9-21.2s-7.3-10.9-8.7-13M262.6 285.3c3.7-4.2 13.9-16.3 22-25.1s21.2-19.5 26.3-27.7s4.8-16.3 4.6-21.4s-4.5-7.4-5.4-8.9M280.9 288.9c3.8-4.6 15.8-18.6 22.5-27.5s14.5-17.3 18.1-25.6s3.7-18.8 3.5-24s-4.1-5.8-4.9-7M255.2 304.2c1.5-2.3 2.8-6.7 8.8-13.9s18.6-19.7 26.8-29.1s17.9-19.4 22.5-27.4s4.9-16.2 5.2-20.7s-2.6-4.9-3.1-5.8M261.9 277.1c2.5-2.5 8-7.8 14.9-15.3s20.4-21.3 26.1-29.5s8.1-14 8.3-19.3s-5.5-10.5-6.6-12.6" stroke="#f9a8d8" stroke-width="0.9"/>
<path d="M276.1 286.4c3.9-4.5 16.3-18.1 23.4-26.6s14.8-16.4 18.9-24.3s5.3-18.4 5.2-23.4s-4.7-5.4-5.6-6.5M270.2 311.2c2.6-3.4 9.3-12 15.8-20.5s16.6-21 23-30.3s12.8-16.6 15.7-25.1s1.8-21 1.7-25.8s-2-2.6-2.4-3.1M290.7 292.3c.4-.5-1.5 2.3 2.2-3s14.3-19.9 20.2-28.7s12.6-16.3 15.1-24.5s.4-20.1-.3-25.2s-3-4.4-3.6-5.2M243.7 315.6c2.7-4.2 8.8-15.6 16.1-24.9s18.5-21.2 27.3-30.8s20.5-18.4 25.8-26.6s5.4-19 6.3-23s-.6-.8-.8-1M301.8 279.5c2-2.9 7.3-9.8 11.7-17.1s11.5-18.5 14.2-26.9s1.9-19.2 1.6-23.9s-2.4-3.5-2.9-4.2M281.2 288.6c3.4-4.7 13.8-19.1 20.4-28.4s15.5-18.8 19.2-27.2s2.6-19.2 3-23.2s-.4-.6-.5-.7M285.8 276.2c2-2.6 6.6-8.3 11.9-15.2s16.1-17.9 20-26.4s4.2-18.8 3.7-24.3s-5.1-7-6.1-8.4M284.8 304.4c1.8-2.1 5.3-5.5 10.4-12.8s13.7-21.8 19.7-31.1s13.6-15.9 16.3-24.4s1.2-20.6-.1-26.5s-6.4-7.4-7.7-8.9M252.9 286.9c4.5-4.5 17.9-17.8 27-26.9s21.7-20.1 27.6-28.1s6.7-15.8 7.5-19.9s-2.3-3.6-2.7-4.4M234.4 313.2c2.6-3.6 8-12.7 15.4-21.6s19.8-21.6 29.2-31.7s22.1-20.6 27.7-28.8s5.1-16.1 5.7-20.3s-1.9-3.9-2.2-4.6M264 301.5c1.3-2.1 2.3-5.4 7.6-12.6s16.3-20.6 24.2-30.2s18.9-18.6 23.2-26.9s2.8-18.1 2.7-22.7s-2.8-4.3-3.3-5.1M266.4 293.2c.4-.5-2.5 2.8 2.1-2.6s16.9-20.6 25-30.1s18.9-19.3 23.4-27.2s3.8-15.9 3.6-20.5s-3.7-6.2-4.5-7.4M252.1 303.1c1.2-2 1.6-4.8 7.5-11.9s18.9-21.4 27.6-31.2s19.6-19.3 24.5-27.3s4.6-15.8 4.6-21s-4.3-8.4-5.2-10.1M290.7 297.4c.8-1.1 .9-.8 5.2-7.1s14.7-21.4 20.3-30.7s10.8-16.8 13.2-25.1s1.6-20 1.3-24.8s-2.7-3.3-3.3-4" stroke="#ffb0df" stroke-width="0.9"/>
<path d="M261.7 313.1c2.3-3.5 7.5-12.4 14-21s17.8-21.1 25.1-30.7s14.8-18.5 18.6-26.9s4.7-18.2 4.5-23.5s-4.5-6.9-5.4-8.2M291.5 276.2c2.1-2.6 7.6-8.6 12.7-15.6s14.6-17.8 18.1-26.3s3.5-18.8 2.7-24.7s-6.5-9-7.8-10.7M239 313.4c2.8-4 9.2-15.5 16.4-24.3s17.7-19.1 26.6-28.5s21.4-20.1 26.9-28.3s6.5-15.2 5.9-20.8s-7.6-10.8-9.1-13M231.4 315.4c2.7-4.1 8.4-15.9 16-25s20.3-19.5 29.9-29.3s21.6-21.5 27.5-29.6s7.6-14.1 8.2-18.6s-3.9-7-4.7-8.3M285 290.4c.1 0-3.5 4.6 .4-.5s16.3-20.8 23-30.1s14.1-17.3 17-25.7s.6-20.4 .6-24.8s-.7-1.1-.8-1.3M266.2 289.3c4-4.8 16-19.7 23.8-28.9s18.3-18.1 23.2-26.2s5.5-18 6.1-22.4s-2.3-3.2-2.7-3.9M287.7 284.5c3-3.8 12.4-14.7 18.1-23s12.7-18.2 16.1-26.8s3.5-20.4 3.9-24.8s-1-1.3-1.2-1.6" stroke="#f79ad3" stroke-width="0.9"/>
<path d="M275.7 278c2.8-3.2 10.3-11.7 16.7-19.1s17.2-17.1 21.5-25.3s4-19.2 4-24.4s-3.6-5.6-4.3-6.8M267 279.2c2.7-3.2 8.7-11.4 15.9-19.2s21.2-19.8 26.9-27.9s7.4-15.2 7.2-21s-7.1-11.6-8.5-13.9M270.9 307.5c2.1-2.9 6.9-9.4 12.8-17.4s16.1-21.3 22.9-30.7s14.7-17.8 18-25.6s2.7-14.9 1.4-21.2s-7.8-13.6-9.3-16.4M259.6 307.4c2.4-3.2 7.9-11.4 14.4-19.5s17.2-19.8 24.5-28.8s15.8-17.5 19.7-25.5s3.5-18.8 4-22.8s-.7-1-.8-1.1M265.5 294.4c.5-.8-1.6 1.3 3.1-4.5s17.4-20.8 25.2-30.2s17-18.4 21.4-26.6s5-17.7 5.1-22.6s-4-5.7-4.8-6.9M275.3 290.8c3.9-5.1 16.4-20.9 23.8-30.4s16.7-18.5 20.6-26.7s2.7-18.5 2.8-22.8s-1.8-2.2-2.1-2.7M271.3 310.3c2.4-3.3 8.2-11.5 14.2-19.9s15.3-20.9 21.9-30.3s14.4-17.9 17.7-26.2s2.8-18.2 1.9-23.6s-5.8-7.4-6.9-8.9M296.8 274.8c1.9-2.7 6.6-9.1 11.3-15.9s13.9-16.8 16.9-24.8s2.3-17.2 1.2-23.3s-6.6-11.1-7.9-13.4M254.6 302c1.4-2.1 2.2-5.5 8.3-12.4s19.6-19.2 27.9-28.6s17.6-19 22.1-27.7s3.9-19.9 4.6-24.1s-.6-.8-.8-1M265.9 303.2c1.7-2.2 4.5-6.3 10.2-13.7s16.6-21.3 23.8-30.7s16.1-17.5 19.8-25.9s2.7-18.7 2-24.4s-5.1-8.1-6.2-9.7M269.6 302.5c1.3-2 2.3-5 7.6-12.1s16.9-20.8 24.2-30.4s16.2-18.8 19.7-27.1s2.4-17.1 1.4-22.7s-5.9-8.9-7.1-10.7" stroke="#f283c6" stroke-width="0.9"/>
<path d="M282.5 301.4c1.4-2 3.5-5.1 8.4-12s15-20.4 21-29.5s12.3-16.9 14.9-25.2s1.5-19.1 .6-24.4s-4.8-6.3-5.8-7.6M278.6 304.4c1.8-2.4 5.1-6.9 10.5-14.3s15.5-21 21.8-30.4s13.4-17.8 16.1-26.2s.3-19.6-.1-24.2s-1.9-3.1-2.3-3.7M268.7 289.1c4.1-4.8 17.1-19.4 24.9-28.8s17.1-19.1 21.4-27.3s5.2-15.4 4.4-21.7s-7.8-13.6-9.3-16.3M292.6 290.9c.2-.3-2.5 3.5 1-1.4s14.1-18.7 20-27.7s12.9-18.1 15.5-26.5s1.6-17.5-.2-23.7s-8.8-11-10.5-13.2M281.8 275.6c2.3-2.8 7.8-9.5 13.7-16.7s17.7-18.2 21.9-26.2s3.9-16.4 3.4-21.7s-5.5-8.3-6.5-10M295.7 288.2c3.2-5 13.9-20.9 19.4-30.1s11.2-16.5 13.7-24.7s1.3-19.7 .8-24.7s-3.3-4.7-4-5.7" stroke="#d957b0" stroke-width="0.9"/>
<path d="M238 310.8c2.5-3.7 7.5-13.4 14.7-21.9s19.3-20.1 28.3-29.5s19.5-18.9 25.2-26.8s8.2-15.6 8.7-20.9s-4.9-9-5.9-10.8M247.7 295.1c.6-.9-1.6 .6 3.7-5.2s19-19.9 28.2-29.5s21.5-20.1 27.4-28.1s7.7-14.1 7.6-19.9s-7.1-12.4-8.6-14.9M257.3 309.7c2.1-3.4 6.3-11.7 12.6-20.1s17.5-21 25.4-30.7s17.8-19.3 22.1-27.6s4.5-15.9 3.7-22s-7.2-12-8.7-14.3M263.2 312.7c2.5-3.7 8.6-13.7 15.1-22.4s17.2-20.7 24.1-29.8s13.8-16.4 17.3-24.7s4.1-19.7 4.1-24.7s-3.6-4.4-4.3-5.3M275.3 275.1c2.5-2.8 8.6-9.5 14.7-16.5s17.7-17.1 22.3-25s5.2-17.3 5.3-22s-3.6-5.3-4.3-6.4M262.7 307.6c2-3 6.5-9.8 12.5-17.5s16-19.2 23.3-28.6s17-19.3 20.8-27.7s2.5-18.2 2.3-22.7s-2.6-4-3.1-4.8M259.5 295.5c.6-.8-1.2 .6 3.8-5.3s17.7-20.2 26.2-30s19.8-20 24.8-28.4s4.7-17.8 5-22.1s-2.2-3-2.7-3.6M261.7 310.5c2.2-3.4 6.7-11.6 12.8-20.2s16.5-22.1 23.8-31.4s16.1-16.3 20.1-24.4s4.9-18.2 4.1-24.3s-7.5-10.2-9-12.3" stroke="#ff9fd8" stroke-width="0.9"/>
<path d="M287.5 285.5c3.3-4.3 13.7-17.1 19.9-25.7s14.4-17.7 17.5-25.9s1-18.6 .9-23s-1.7-2.5-2-3M279.2 288.5c3.6-4.7 14.4-19.2 21.3-28.3s16.2-17.9 20.2-26.3s4.2-18.5 3.7-24.1s-5.6-7.7-6.7-9.3M264.4 312.4c2.5-3.6 8.7-13.3 14.8-22s14.9-20.4 22.1-30s17-19.1 20.7-27.4s1.9-17.4 1.4-22.3s-3.6-5.8-4.4-6.9M291 291.5c.1-.2-2.6 4.1 .8-1.1s13.3-20.9 19.3-30.1s13.8-16.5 16.5-25s.5-20.6-.3-25.7s-3.5-4.1-4.2-4.9M258.8 304.7c1.8-2.5 4.2-7.4 10.6-14.8s19.4-20.3 27.4-29.7s17-18.9 21-27s3-16.9 2.8-21.5s-2.9-5-3.4-5.9M231.4 316.9c2.8-4.3 9.1-16.7 16.8-26.1s20.1-20.8 29.5-30.3s21.1-18.5 27.1-26.6s8.2-16.8 8.9-21.7s-3.9-6.4-4.6-7.7M262.7 290c4.4-4.8 17.9-19.3 26.4-29s19.5-20.7 24.5-29.1s5.5-15.7 5.1-21.1s-6.1-9.5-7.3-11.4M237.6 305.5c1.8-2.6 3.9-8.2 10.9-15.6s21.5-19 30.8-28.8s19.7-21.7 25.4-30s9.1-13.6 8.8-19.5s-8.5-13.1-10.2-15.7M268.9 312.1c2.8-3.6 10.7-12.9 17-21.6s14.6-20.9 20.8-30.4s13.1-18.5 16.4-26.7s4.6-16.8 3.6-22.5s-7.5-9.7-9-11.7" stroke="#ffb5e0" stroke-width="0.9"/>
<path d="M250.8 305.2c1.5-2.5 3.1-7.1 9.2-14.7s18.3-20.9 27.3-30.6s21.7-19.4 26.7-27.6s4.5-15.7 3.6-21.7s-7.7-11.5-9.3-13.8M255.5 316.2c2.8-4.2 10.2-15.8 17-25.3s16.4-22 23.5-31.5s15.1-17.3 19.2-25.4s4.9-19 5.3-23.7s-2.6-4-3.1-4.8M246.7 309.3c2.2-3.4 6.3-11.9 13.1-20.2s19.3-20.6 27.9-30.1s19.5-19 24.1-26.8s4-15.2 3.3-20.6s-6-9.6-7.2-11.5M275.4 287c3.7-4.4 15.2-17.8 22.2-26.5s15.7-17.9 19.6-25.9s4.9-15.8 4-22.3s-7.4-13.9-8.9-16.6M242.9 303.8c1.5-2.2 2.7-5.8 9.1-13s20.5-20.4 29.6-30.2s19.8-20.7 25.2-28.8s6.5-15.5 7.2-19.8s-2.7-4.9-3.2-5.8M263.6 296.1c1-1.5 .9-2.4 6-8.8s17.1-20.5 25-29.8s17.9-18.6 22.3-26.4s5.3-14.4 4.2-20.4s-9-13.4-10.8-16.1M253 283.7c4.3-4.1 16.7-16 25.8-24.6s22.7-19.1 28.8-27s7.2-15.3 7.4-20.4s-5.1-8.3-6.2-10M259.2 279.1c3-3.3 10.4-12.2 18-19.9s21.8-18.2 27.4-26.1s5.7-16.4 6.2-21.3s-2.6-7-3.2-8.4M262.7 299.1c1.2-1.6 1.7-3.2 7.4-9.8s18.8-20.4 26.6-29.6s16.3-17.6 20.3-25.7s4.2-17 3.8-22.6s-5.1-9.1-6.1-11" stroke="#fff" stroke-width="0.9"/>
<path d="M251.9 310.1c2-3.2 5.8-11 12.2-19.2s17.6-20.8 25.9-30.5s18.8-19.3 23.5-27.8s6.1-17.1 5-23.4s-9.5-11.9-11.3-14.3M260.7 286.8c4.2-4.5 16.6-17.8 24.8-26.9s19.6-19.7 24.5-27.7s4.9-15 4.6-20.3s-5.3-9.6-6.4-11.5M266.5 295.7c.7-1.2-.6-1 4.2-6.9s17.3-19 24.9-28.3s16.5-19.2 20.6-27.7s4.1-19 4.4-23.6s-2.4-3.3-2.9-3.9M278.3 303c1.7-2.2 5-6.2 10.3-13.3s15.3-20.4 21.6-29.6s13.1-17.3 16.1-25.7s3.4-17.8 1.9-24.3s-9.1-12.1-10.9-14.6M265.6 293c.4-.5-2.7 2.4 2.1-3.3s18.5-21.6 26.6-31.2s17.6-18.4 22.1-26.2s4-16.6 4.8-20s-.3-.4-.3-.5M279.7 297.8c.9-1.2 .3-1.1 5-7.5s16.1-21.5 23.1-30.9s15.7-17.5 18.9-25.7s1.2-18.5 .5-23.7s-4-6.1-4.9-7.3M230.9 314.8c2.8-3.8 9.1-14 16.8-23.1s20.2-21.5 29.6-31.3s21.1-19.6 26.8-27.5s7.4-14.7 7.8-19.9s-4.7-9.3-5.7-11.1M282.7 291.7c.3-.4-2.7 3.1 1.4-2.3s16.8-20.7 23.4-30.2s13.7-18.3 16.7-26.6s1.5-19.4 1.7-23.4s-.3-.4-.3-.5M264 303.4c1.5-2.3 3.4-6.1 9.1-13.5s17.4-20.8 25-30.4s16.7-18.3 20.6-26.6s2.6-19.1 2.8-23.4s-1.4-2.2-1.7-2.6M250.3 291.6c.1-.2-3.8 4 .9-1.2s18.3-20.5 27.1-30.1s20.5-19.4 26-27.5s6.9-16.3 7.3-21.3s-3.9-7.3-4.7-8.7M279.3 305c1.9-2.5 6.4-7.6 11.7-15.3s14-21.7 20.2-30.9s14-16.3 16.8-24.2s1.1-18.4 .2-23.6s-4.4-6.2-5.3-7.5M272.6 296.8c.8-1.2 .4-1.1 5-7.2s15.8-20 22.8-29.4s15.5-18.6 19.1-27s3.5-17.6 2.8-23.2s-5.7-8.5-6.8-10.2M266.7 282.5c3.4-3.6 12.9-13.5 20.3-21.7s19.1-18.8 24.1-27.1s5.7-18 6.1-22.9s-3.1-5.1-3.7-6.1M269.4 278.1c2.6-2.8 9.2-9.2 15.8-16.9s18.8-21.3 23.8-29.4s6-14.5 6.3-19.1s-3.5-7.4-4.2-8.8" stroke="#e78cc8" stroke-width="0.9"/>
<path d="M277.7 309c2.5-3.2 9-11 14.8-19.4s14.1-21.6 20-30.9s13-17 15.6-25.1s.4-19.4 .4-23.5s-.6-.8-.7-.9M292 276.8c2.1-2.8 7.4-10 12.4-16.8s14.2-15.9 17.7-24s3.6-18.8 2.9-24.8s-6.2-9.2-7.4-11.1M254.2 310.3c2.1-3.3 6.6-11.7 13.1-19.8s17.6-19.9 25.8-29.4s18.5-18.9 22.8-27.5s3.1-19.4 3.4-23.7s-1-1.4-1.2-1.7M273.2 287.7c3.7-4.7 14.8-19 22.1-28.1s17-18.3 21.4-26.5s4-19 4.7-22.9s-.4-.6-.4-.7M252.4 297.5c1-1.3-.4-2 5.5-8.2s20.8-19.8 30-29.2s20.7-19.3 25.6-27.5s4.2-16.9 4.2-21.5s-3.9-5-4.7-6M236.9 312.2c2.3-3.8 6.6-14.1 13.9-22.8s20.7-20 29.9-29.4s20.1-18.7 25.5-27s6.1-18.3 7-22.7s-1.6-2.9-1.9-3.5M244.2 309.5c2.1-3.3 5.8-11.8 12.5-19.9s18.8-19.2 27.8-28.5s20.8-19.5 25.9-27.6s4.3-17 4.8-21.1s-1.5-2.9-1.7-3.5M299.5 284.2c2.6-3.8 10.6-15 15.5-23s11.4-17 13.9-25.3s1.9-19.3 1-24.9s-5.4-7-6.4-8.4M296.2 283c2.7-4 11.2-15.3 16.1-23.5s10.4-17.8 13-26s3.3-18.3 3-23.3s-3.9-5.7-4.7-6.9M260.3 278.7c3.1-3.1 11-10.9 18.5-18.5s21.1-19.1 26.7-27.1s7.4-15.3 7.2-21.1s-6.8-11.7-8.2-14" stroke="#ff8ccf" stroke-width="0.9"/>
<path d="M240.1 307.7c2.1-2.9 5.8-9.6 12.6-17.4s19.1-19.6 28-29.1s19.6-20 25.3-27.9s9.1-13.5 9.1-19.3s-7.5-13-9-15.6M233.7 315.8c2.7-4.3 8.6-16.7 16.3-25.9s20.6-20.1 30.2-29.7s21.3-19.6 26.9-27.8s7.2-15.7 6.8-21.2s-7.4-9.8-8.9-11.8M287.3 277.5c2.2-2.8 7.5-9.4 13.1-16.6s17-18.1 20.9-26.6s3-19.5 2.9-24.4s-2.8-4-3.4-4.8M295.1 288.2c3.3-4.8 13.7-19.7 19.5-28.6s12.6-16.8 15.1-25s1-19.5 .2-24.6s-4.4-5.2-5.2-6.2M239 304.6c1.6-2.5 3.1-7.5 9.6-14.9s19.5-19.8 29.1-29.5s22.4-21.2 28.3-29.2s7.1-13.3 7-18.8s-6.7-12.1-8-14.5M262.5 299.4c1.2-1.7 1.9-3.9 7.3-10.6s17.1-20.2 25-29.6s17.9-18.2 22.2-26.8s4.7-18.7 3.6-24.9s-8.6-10.2-10.3-12.2M240.5 313.2c2.5-3.9 7.4-14.1 14.5-23s19.1-20.8 28-30.4s19.9-19.4 25.1-27.4s5.6-16.1 6.4-20s-1.4-2.9-1.7-3.5" stroke="#ff8ccf" stroke-width="0.9"/>
<path d="M256.8 288.3c4.5-4.4 18.2-17 26.8-26.3s19.9-21.2 25.1-29.6s5.8-15.9 6.1-20.7s-3.7-6.7-4.4-8M258.2 278c3.2-3.4 11.5-12.5 19-20.1s20.6-17.7 26.4-25.4s7.4-16.3 8.2-20.9s-3-5.6-3.5-6.7M268.6 298.9c1-1.7 1.5-3.6 6.4-10.2s15.5-20.4 23-29.7s18-18.1 21.9-26.3s2.3-17.4 1.6-22.8s-5.2-8.4-6.3-10.1M258.3 293.2c.4-.5-2.7 2.1 2.2-3.4s18.8-19.9 27.3-29.4s18.7-19.8 23.9-27.7s7.3-14.3 7.1-19.7s-6.9-10.5-8.3-12.6M255.3 300.5c1.3-1.9 2.3-4.2 7.9-11.1s18-20.8 26.2-30.2s18.7-18.5 23.4-26.5s4.5-16.9 4.7-21.5s-3-5.1-3.7-6.1M285.1 288.9c3.7-4.9 15.6-20.1 22.1-29.4s13.7-17.9 17.1-26.1s4-17.2 3-23.1s-7.7-10-9.2-12M253.1 314.4c2.8-4.1 9.9-15.4 16.9-24.6s17.2-21.4 24.9-30.6s17.1-17.1 21.2-25.2s3.4-18 3-23.4s-4.4-7.6-5.3-9.2M288.9 280c2.6-3.2 10.2-11.7 15.8-19.3s14.4-17.6 17.7-25.8s2.9-17.6 2-23.4s-6.2-9.8-7.5-11.8M276.3 289.7c.1 0-3.8 4.8 .1-.2s16.2-20.1 23.4-29.4s15.6-17.7 19.6-26s3.9-19.6 4.4-23.8s-1-1.1-1.2-1.4M263.8 303.6c1.8-2.5 5-7.9 10.9-15s17.6-18.6 24.9-27.8s15.7-18.5 19.5-27s4-18.4 3.4-24.1s-5.5-8.3-6.6-9.9M268 293c.2-.5-2.9 2.8 1.6-2.8s18-21.1 25.9-30.7s17.3-18.4 21.5-26.5s4.5-16.7 4-22.1s-5.8-9-7-10.8" stroke="#ffc4e8" stroke-width="0.9"/>
<path d="M249.5 307.9c1.9-3.2 5.2-11.3 11.5-19.3s18.1-18.9 26.6-28.5s19.8-20.7 24.7-28.8s4.3-16 4.6-20s-2.2-3.6-2.6-4.3M256.1 305c1.7-2.5 3.9-7.3 9.9-14.8s18.3-20.6 26.5-30s18.4-18.4 22.8-26.5s3.5-17.4 3.6-21.9s-2.9-4.4-3.4-5.3M260.9 296c.6-.9-1.3 .3 3.8-5.6s18.7-20.1 27-29.9s17.7-20.4 22.4-28.8s5.9-15.7 5.8-21.2s-5.6-9.8-6.8-11.8M278.3 295.4c.5-.7-1.2 1.5 3.3-4.3s16.6-21.4 23.2-30.8s13.1-16.7 16.3-25.4s3.3-20.2 2.4-26.3s-6.4-8.5-7.7-10.2M277.6 309.1c2.1-2.9 7.1-9.3 12.8-17.4s15.3-21.8 21.5-31.2s13.1-16.5 15.8-25s1.4-20.5 .6-26s-4.8-5.6-5.8-6.7M241.6 308.1c2.5-3.3 7.7-11.3 14.5-19.5s17.4-20.1 26.2-29.4s20.9-18.6 26.5-26.5s7-15.1 6.7-21.3s-7-13.2-8.4-15.9M253 313.6c2.6-3.5 8.9-12.2 15.9-21.3s18.4-23.7 26.1-33.7s16.4-18.4 20.3-26.6s4-16.3 3.2-22.2s-6.5-11-7.8-13.2M282.9 282.8c3.2-4 13.1-15.8 19.3-23.9s14.3-16.4 18.2-24.6s6-18.3 5.4-24.5s-7.7-10.3-9.2-12.4M243.4 313.8c2.8-4.1 9.4-15.2 16.6-24.4s17.9-21 26.4-30.6s19.6-19 24.5-27s5.1-15.6 4.8-21.2s-5.3-9.9-6.4-11.9M288.9 295.1c.6-1-.3 0 3.8-5.8s14.8-20 20.8-29s12.5-17 15-25.5s1-19.7-.2-25.6s-5.8-8.2-7-9.8M257 291.2c.2-.4-3.7 3.2 1.3-2.1s19.7-20.2 28.7-29.8s20.1-19.8 25.1-27.9s4.8-16.9 5.4-20.8s-1.4-2.3-1.7-2.8M292.2 288.6c3.2-4.8 13.3-20 19.2-28.8s12.9-16.1 16-24.2s2.9-19.5 2.6-24.4s-3.5-4.5-4.2-5.4" stroke="#f79ad3" stroke-width="0.9"/>
<path d="M282.4 304.2c1.8-2.7 5.5-8.5 10.9-16s15.1-19.7 21.1-28.8s12.3-17.2 14.7-25.5s0-20.2 0-24.3s-.3-.3-.3-.4M279 282.1c2.9-3.6 11.1-13.4 17.6-21.6s17.3-19.3 21.4-27.6s3.6-16.8 3-22.4s-5.5-9.2-6.6-11M239.6 306.9c1.7-2.7 3.2-8.5 9.8-16.3s20.7-21.1 30-31s20.2-20 26-28.1s8.1-15.8 8.8-20.5s-3.8-6.1-4.6-7.3M247.7 309.9c2.3-3.4 7-11.7 13.7-20s18.7-20.4 26.9-29.9s17.5-18.8 22.5-27s7.7-16.5 7.6-22.3s-7-10.1-8.4-12.2M273.3 310.6c2.4-3.3 8.4-11.1 14.4-19.5s15.5-21.8 21.9-31.1s13.6-16.5 16.4-24.8s.7-19.8 .3-24.7s-2.4-3.8-2.9-4.6M239.9 309.4c1.8-3.1 3.6-10 10.7-18.2s22.6-21.2 32-30.9s19-19.6 24.4-27.6s7-16.6 7.9-20.7s-1.8-3.5-2.2-4.2M274.9 281.9c3.2-3.6 12.8-14 19.5-21.9s16.9-17.1 21-25.4s3.2-20 3.7-24.1s-.3-.7-.4-.8M284.4 281c2.8-3.6 11.2-14.1 16.9-21.9s14.1-16.5 17.5-24.7s2.8-20 2.9-24.6s-1.6-2.4-1.9-2.9M257.9 290.7c4.3-5 17.2-20.2 25.5-29.7s19.4-19.1 24.8-27.3s6.5-17.7 7.6-21.5s-.6-1.2-.7-1.5M247 309.8c2.1-3.6 5.6-12.6 12.5-21.1s20.4-20 28.8-29.6s17.5-20.1 22.2-28.3s5.8-16.3 6-20.9s-3.9-5.8-4.7-7M256.2 298.8c1-1.6 .6-3.1 6.3-9.6s19.3-20.3 27.7-29.6s18.4-18.2 23-26.2s5-16.1 4.3-22.1s-7.2-11.7-8.6-14" stroke="#d957b0" stroke-width="0.9"/>
<path d="M255.1 305.9c2-2.8 5.5-9.3 11.9-17s18.3-20 26.4-29.3s17.5-18.1 22-26.2s4.2-18.5 5-22.2s-.1-.2-.1-.3M272.1 289.5c3.8-4.9 15.1-20.3 22.5-29.7s17.9-18.3 22.1-26.4s3.2-17.6 3-22.4s-3.4-5.1-4.1-6.1M260.8 290c.1 0-4.1 4.8 .3-.4s18.1-21 26.4-30.7s18.8-19.6 23.8-27.3s5.3-15.4 5.9-19.3s-2.2-3.3-2.6-3.9M263.7 281.6c3.3-3.6 12.6-13.4 19.9-21.6s18.7-19 23.8-27.4s6.3-17.6 6.8-22.5s-3.1-5.5-3.7-6.6M247.6 315.3c2.8-4.1 10.1-15.2 17.1-24.4s16.7-20.9 24.8-30.5s19-18.7 24-27s5.1-18.5 5.8-22.8s-1.7-2.4-2.1-2.9" stroke="#ffb0df" stroke-width="0.9"/>
<path d="M252.6 312.2c2.2-3.7 6.5-13.7 13.2-22.4s18.4-20.1 26.7-29.6s18.3-19.2 22.9-27.3s5.3-15 4.5-21.2s-7.8-13-9.4-15.6M239.1 302.3c1.4-2.1 2.2-5.6 8.4-12.6s19.1-19.2 28.7-29s22.7-21.8 28.9-30s6.9-15.5 8-18.9s-.8-1.3-1-1.5M271.1 314.2c2.9-3.8 10.7-13.7 17-22.7s14.9-21.3 21.1-30.8s13.5-17.5 16.6-25.9s2.7-18.8 1.7-24.5s-6.3-8.3-7.6-9.9M279.6 280.3c2.9-3.5 11.1-13.1 17.4-21.1s15.7-19.1 19.9-27.3s5.8-16.4 5.4-21.9s-6.4-9.2-7.7-11.1M274.1 309.1c2.3-3.3 8.3-11.2 14.1-19.6s14.6-21.5 20.8-30.7s13.3-16.3 16.2-24.5s1.1-20.7 1.2-24.9s-.3-.4-.4-.5M287.2 302.1c1.4-1.9 4-4.4 8.4-11.4s12.2-21.4 18-30.6s14.3-16.5 17.1-24.6s.5-19.1-.6-24.3s-4.9-5.7-5.9-6.8M287.9 298.5c1-1.2 1.5-1.1 6-7.5s15.5-21.7 21.2-31s11-16.3 13.1-24.6s.8-19.4-.5-25.1s-6.3-7.7-7.5-9.2M261.7 314.2c2.7-4 10-15 16.7-24.2s15.8-21.1 23.1-30.5s17-17.7 20.6-26.1s1.9-18.5 .7-24.3s-6.6-8.9-7.9-10.7M237.3 309.5c2.4-3.5 6.9-12.3 14-20.8s19.6-20.9 28.7-30.4s20.4-19.1 26-26.8s6.8-15.8 7.7-19.8s-2.3-3.9-2.8-4.7M273.4 308c2.1-2.9 6.8-9.5 12.8-17.5s16.3-21.5 22.9-30.7s13.5-15.8 16.6-24.3s1.8-21.6 1.8-26.4s-1.4-1.7-1.6-2M283.5 293.1c.4-.7-1.4 1.9 2.4-3.8s14.1-20.6 20.4-30s13.9-18.1 17.4-26.1s4.7-16.1 3.7-22s-8.3-11.4-10-13.7" stroke="#fff" stroke-width="0.9"/>
<path d="M294.3 275.9c2-2.9 7.1-10.8 12.1-17.8s14.6-16.3 18.1-24.4s3.1-19.1 2.8-24.2s-3.9-5.5-4.6-6.6M280 280.8c2.8-3.5 10.5-12.9 16.9-20.8s17.2-18.2 21.5-26.4s3.7-18.8 4-23.2s-1.8-2.7-2.2-3.3M268.8 286.6c3.7-4.1 14.7-15.7 22.1-24.7s17.9-20.6 22.6-29.1s4.8-18.1 5.7-21.9s-.4-.5-.5-.6M256.7 300.7c1-1.4 .3-1.8 5.6-8.3s18.1-20.5 26.6-30.4s20-21.1 24.6-29.4s3.2-15.7 2.9-20.5s-3.9-6.8-4.7-8.2M261.7 276.2c2.9-2.7 10.3-8.8 17.4-16s19.5-19.4 25.3-27.4s8.1-16.7 9.2-20.9s-2-3.4-2.4-4.1M281.2 306.6c1.8-2.5 5.7-8 11.3-15.4s16.1-19.7 22.1-29.1s11.8-18.9 14.1-27.4s.5-18.9 0-23.6s-2.6-3.5-3.1-4.3M237.5 310.2c2.2-3.1 6.3-10.1 13.3-18.5s19.4-22.1 28.4-32.1s19.9-19.8 25.6-28.1s8.8-15.5 8.6-21.6s-8.1-12.4-9.7-14.9M252.9 306c1.8-2.8 4.7-8.9 11.1-16.6s18.9-20.6 27.1-29.9s17.8-18.8 22.6-26.4s5.8-15.4 6.4-19.4s-2.5-3.9-3-4.7M286.9 279.6c2.4-3.4 8.5-12.7 14-20.2s15.2-16.8 18.8-24.9s2.5-18.5 2.4-23.3s-2.5-4.6-3-5.5M235.1 313.5c2.5-3.7 7.6-13.7 15-22.4s19.8-20.3 29.2-30.1s21.1-20.9 26.8-29.1s7.1-15.4 7.5-20.3s-4.7-7.6-5.6-9.1M254.5 302c1.4-2.2 2.9-5.7 8.6-12.9s17.5-20.7 25.6-30s18.8-18.4 23.4-26.2s4.5-14.8 4.3-20.1s-4.8-9.8-5.8-11.7M282.1 298.6c.8-1.4 .5-2 5.2-8.4s16.3-20.5 23-29.7s14.2-17.2 17.1-25.3s.9-17.6 0-22.9s-4.5-7.6-5.4-9.1M285.7 285.6c3.2-4.3 12.8-17.5 18.9-26s14.8-17.1 18.1-25.3s2.3-18.8 2-23.9s-3.6-5.6-4.3-6.7" stroke="#f283c6" stroke-width="0.9"/>
<path d="M270.3 309.6c2.4-3.4 7.8-12.2 14-20.5s16.6-20.3 23.3-29.4s13.4-16.8 16.5-24.7s2-18.2 1.8-22.9s-2.6-4.2-3.1-5.1M242.4 310.1c2.3-3.2 6.6-10.8 13.6-19.1s19.4-21.4 28.4-31.1s20.1-19 25.3-26.8s4.9-16.1 5.7-19.7s-.9-1.7-1.1-2M273.8 308.5c2.3-3.2 7.8-10.8 13.9-18.9s16.3-20.3 22.6-29.6s12.4-17.8 15.4-26.2s2.6-19.2 2.6-23.8s-2.4-3-2.8-3.6M263 308.5c2.2-2.9 7.3-9.4 13.5-17.3s16.5-20.8 23.5-30.4s15-18.9 18.8-27.2s3.6-18.3 3.8-22.6s-1.9-2.7-2.3-3.3M279 296c.8-1.1 .5-.3 4.8-6.4s14.6-20.5 21-30s14.1-18.8 17.3-26.8s2.7-16.7 2.3-21.5s-4.3-6.2-5.2-7.5M240.4 305.5c1.8-2.5 4.6-7.6 11-15s18.2-20 27.4-29.5s22.1-19.1 27.9-27.1s5.8-17.4 6.9-20.9s-.1-.1-.1-.1M271.1 290c.1-.1-3.8 4.5 .5-.7s18.2-21.5 25.6-30.9s14.9-17.8 19-25.6s5.7-16.1 5.8-20.8s-4.4-6.3-5.2-7.6M232.9 310.9c2.6-3.9 8-14.7 15.2-23.3s19-19.1 28.4-28.7s21.7-21.4 27.7-29.2s8.3-13.4 8.7-17.9s-5.3-7.6-6.3-9.1" stroke="#f9a8d8" stroke-width="0.9"/>
<path d="M285.4 296c.6-.7-.8 1.7 3.2-4.2s14.8-21.9 21-31.6s13.3-18.1 16.3-26.5s2.4-17.9 1.3-23.9s-6.4-10-7.7-12M278.2 295.8c.7-1 .2-.3 4.6-6.2s15.2-20.3 22-29.5s15.4-17.6 18.7-25.9s.9-19.1 .8-23.5s-1.4-2.2-1.6-2.6M280.5 287.1c3.7-4.6 15.4-18.5 22-27.5s14.2-18.2 17.8-26.5s3.3-19.4 3.8-23.6s-.8-1-1-1.2" stroke="#ffb5e0" stroke-width="0.9"/>
<path d="M274.7 288.7c4-4.6 16.8-18.9 24.1-27.8s16-17.6 19.6-25.8s2.5-18.5 2.3-23.4s-2.8-4.9-3.3-5.9M300.3 275.9c1.9-2.9 7.2-10.5 11.6-17.4s12.4-15.9 15-23.9s.9-19.3 .6-23.9s-1.8-3-2.2-3.6M287.9 294.5c.5-.7-.8 1.9 2.9-4s13.6-21.7 19.5-31s13.2-16.8 16.1-24.9s1.9-18.7 1.7-23.4s-2.4-3.7-2.8-4.4" stroke="#ff9fd8" stroke-width="0.9"/>
<path d="M294.2 292.6c.2-.2-2.3 3.8 1.2-1.5s14.3-21.4 19.7-30.6s10.4-16.1 12.8-24.4s2.4-19.4 1.5-25.2s-5.4-8-6.5-9.6M271.9 289.1c0 0-4 4.6 .1-.1s16.5-18.9 24.1-28.3s17.6-19.6 21.8-27.9s3.2-17.7 3.3-22.1s-2.3-3.5-2.7-4.2M276.6 274.9c2.2-2.4 7.1-7.5 13.4-14.8s19.5-20.4 24.4-28.5s5.1-15.8 5.2-20.1s-3.5-5.1-4.2-6.1M255.5 309.2c2.2-3.4 7.1-12.2 13.4-20.5s16.8-19.7 24.5-28.9s17.3-17.9 21.9-26.2s5.6-17.9 5.5-23.2s-5.2-7.5-6.2-9.1M241.8 303.1c1.6-2.4 2.7-6.8 9.1-14.3s20.2-20.8 29.6-30.8s21-21.1 26.5-28.9s5.9-14.1 6.7-17.9s-2-4-2.3-4.8M253.8 310c2.4-3.3 7.8-11.2 14.6-19.9s18.1-22.4 26-31.8s16.8-16.4 21.2-24.2s5.2-17.3 5.2-22.3s-4.3-6.7-5.2-8M251.3 306.5c1.8-2.9 5-9.3 11.2-17.1s17.4-20.3 25.7-29.6s19.3-18 24.2-25.9s4.9-16.8 5.3-21.2s-2.8-4.1-3.3-4.9M264.8 283.8c3.4-3.7 12.6-13.8 20.4-22.4s21.2-21 26.6-29.3s6.2-15.4 5.8-20.9s-6.6-10-7.9-12M292.9 278.7c2.4-3.2 9-12 14.2-19.1s14-16 17-23.9s1-19.2 .8-23.7s-1.8-2.7-2.2-3.3M282.6 293c.3-.4-2.4 2.8 1.7-2.6s15.6-20.4 22.3-29.6s14.9-17.3 18-25.5s2.3-17 .7-23.5s-9-12.5-10.8-15.1M259.1 300.4c1.3-2 2-4.9 7.7-12.1s18.3-21.1 26.5-30.7s18-18.6 22.3-26.5s4.3-15.7 3.9-20.8s-5.1-8.1-6.1-9.8M250.1 299.9c1.2-2 1.3-5.2 7.1-11.8s18.6-19.1 27.4-28.2s20.3-18.5 25.2-26.6s4.6-16.1 4.2-21.9s-5.6-10.7-6.7-12.9M288.5 296.5c.7-1 .1-.1 4.5-6.3s16.4-21.9 22.2-31.2s10.4-16.1 12.8-24.4s3-18.6 1.3-25.3s-9.4-12.5-11.3-14.9M271.1 280.4c3-3.3 10.9-11.9 18-19.8s19.3-19.2 24.1-27.4s3.7-18.1 4.3-21.9s-.5-.8-.6-.9M283.8 289.3c.1-.1-3.4 4.3 .5-.6s15.7-19.6 22.3-28.8s14.5-17.9 17.7-26.2s2.1-18.1 1.6-23.2s-3.8-6.2-4.6-7.4M273.5 303.6c1.4-2.2 3.3-5.8 8.5-12.9s15.7-20.2 22.3-29.5s14.5-17.9 17.7-26.4s1.8-18.8 1.3-24.1s-3.9-6.4-4.6-7.7" stroke="#e78cc8" stroke-width="0.9"/>
<path d="M239.8 301.7c1.5-1.4 4.6-4.9 8.5-8.3s10.8-8.5 15.1-12s9.1-7.5 10.9-9M245.6 313.5c1.9-1.8 7.2-6.9 11.6-11s10.2-10 14.5-13.5s9.5-6.5 11.4-7.8M237.5 299.4c1.3-1.2 4.1-3.9 8-7.2s10.2-9 15.4-13.1s12.5-8.2 16.2-11s5.2-5.1 6.3-6.1M240.1 290.5c.3-.2-.6 .7 2-1.6s9.3-8.3 13.6-11.8s10-7.7 12-9.2M261.3 301c2.3-1.6 8.9-6 13.9-9.7s12.5-9.2 16.2-12s5-4 6-4.8M248.6 291.6c1.9-1.8 6.8-7.1 11.5-10.8s12.4-8 16.6-11.3s7.2-7.1 8.6-8.6M245.7 302.3c1.2-1.1 3.1-3.3 6.9-6.4s10.5-8.5 15.7-12.6s11.6-9.4 15.2-12.1s5-3.7 6.1-4.4M267.7 297c1.3-1 5.6-4.3 7.9-6s5.1-3.6 6.1-4.3" stroke="#700f0c" stroke-width="0.8"/>
<path d="M238.2 305.9c2.1-1.9 7.8-7.7 12.6-11.6s11.3-7.5 16.2-11.6s9.2-9.7 13.4-13.1s9.7-6.1 11.6-7.3M239.5 294.7c.9-.8 1.8-1.7 5.2-4.5s11.7-9.3 15.4-12.2s5.8-4.4 7-5.3M241.8 295.5c.7-.6 .8-.6 4-3.3s10.2-8.4 15.3-12.6s12.2-10.4 14.8-12.6s.2-.2 .3-.3M241.7 294.8c.7-.6 1.2-.9 4-3.5s9.2-8.9 13.1-12.3s8.7-6.8 10.5-8.1M256.4 289.1c1.5-1.3 6.7-5.6 9.2-7.7s5-3.9 6-4.7M244.1 307.8c1.9-1.7 6.6-6.1 11-9.9s10.6-9.5 15.3-12.9s10.8-6.4 12.9-7.6M241.6 297.1c.8-.7 1.2-1.7 4.7-4.6s10.5-8.4 15.9-12.6s13.2-9.4 17-12.2s4.8-4.1 5.7-4.9M249.7 297.8c.4-.4-.4-.6 2.5-2.8s10.7-7.2 15-10.2s9.2-6.4 11.1-7.6" stroke="#7a1712" stroke-width="0.8"/>
<path d="M256.3 304.2c.3-.4-.6 .2 2.2-2.2s9.3-8.6 14.5-12.2s13.4-7 16.9-9.1s3.4-3 4.1-3.6M239.5 301.3c1.3-1.3 3.3-4.4 7.4-7.9s12-8.4 17.3-12.7s11.3-10.5 14.1-13s2.2-1.7 2.7-2.1M239.9 304.1c1.6-1.6 5.3-5.8 9.4-9.2s11-8.2 15.3-11.7s8.8-7.6 10.5-9.1M241.4 308.5c1.8-2.1 6.6-8.4 11.1-12.2s11.3-7.6 15.9-10.9s10-7.9 11.9-9.4M239.9 303.2c1.5-1.6 4.7-5.9 9-9.4s11.5-7.8 16.9-11.4s12.7-8.1 15.7-10.1s1.7-1.6 2-1.9M266 298.9c1.6-1 5.2-3.4 9.5-6.4s12.9-9.6 15.9-11.8s1.7-1.5 2-1.9" stroke="#82190f" stroke-width="0.8"/>
<path d="M250.2 303.3c.8-.8 1.8-1.7 5.1-4.4s9.4-8.4 14.3-12.2s10.7-7.2 15.5-10.9s11.1-9.2 13.3-11.1M246.4 315.4c2.2-2.4 8.4-9.8 12.9-14.2s9.3-8.4 14.3-12.2s12.3-8.3 15.6-10.7s3.7-2.9 4.4-3.5M245.3 304.7c1.3-1.3 4.1-4.3 7.9-7.6s10.7-8.7 15.3-12.1s10.1-6.8 12.1-8.2M249 311.2c1.8-1.8 6.9-7.3 11.1-10.9s9.1-7 14-10.9s12.6-10 15.4-12.2s1-.8 1.2-.9M249.2 298.9c.4-.4-.5 .1 2.2-2.3s8.7-7.8 13.7-12s13.9-10.6 16.6-12.7M253.7 290.3c1.5-1.2 4.2-3.8 8.5-7.2s12.6-8.7 17.5-12.8s9.9-9.9 11.9-11.8M253 286.8c1.5-1.4 5.5-5.5 9-8.1s9.9-6.4 11.9-7.6M243.4 299.9c.9-.9 1.6-2 5-5s10.5-9 15.6-13s12.3-9.4 15-11.5s.8-.7 1-.9" stroke="#5e0a08" stroke-width="0.8"/>
<path d="M248.1 311.1c2-1.8 7.4-6.9 12.1-10.6s11.4-7.9 16.3-11.4s9.7-6.6 13.6-9.5s8.1-6.6 9.7-8M253.9 312.3c1.1-1.1 2.7-3.4 6.5-6.9s11-9.6 16.2-13.5s12.4-8.1 14.9-9.8s.1 0 .1 0M252.6 287.7c1.5-1.3 5-4.8 9.2-7.9s12.9-8.6 15.9-10.7s1.7-1.9 2.1-2.2M258.7 303.9c.1-.2-1.8 1.4 .9-.9s10.3-8.8 15.3-12.8s12.1-8.7 14.7-10.7s1.1-.8 1.4-1M251.8 308c1-1 2.4-3.1 6-6s10.4-7.7 15.4-11.4s12.2-9.2 14.7-11M248.8 313c1.5-1.5 4.9-5.4 9-9.1s10.6-9.2 15.9-13.2s11.6-7 16.2-10.7s9.4-9.8 11.2-11.8" stroke="#6b0f0c" stroke-width="0.8"/>
<path d="M256.9 291.1c1.4-1.1 4.4-3 8.3-6.3s12.1-10.9 15.3-13.6s3.1-2.3 3.7-2.8M265.8 296.8c1.4-1 4.6-3.4 8.4-6.2s10.2-7.4 14.3-10.7s8.6-7.6 10.3-9.1M257.9 293.5c1.9-1.3 7.1-4.5 11.6-7.7s10.9-8.7 14.9-11.8s7.8-5.6 9.4-6.7M252.8 296.9c.1-.1-2.2 1.1 .5-.7s11.9-7.2 16-10s7.6-5.6 9.1-6.7M242.6 295.8c.7-.6 .8-1.1 4-3.6s9.9-7.1 15.1-11.4s13.1-11.7 16.3-14.6s2.5-1.9 3-2.3M250.2 284.6c1.2-1.1 3.6-4 7.2-6.8s12-8.1 14.4-9.7M261 300.6c2.4-2 10.2-8.4 14.5-12s9.5-7.8 11.4-9.3M244.3 295.2c.2-.2-1.3 .6 1.6-1.7s11.8-9 15.5-11.9s5.6-4.8 6.7-5.7M250.3 307.3c1.1-1.1 3.2-3.4 6.8-6.7s9.7-9.4 14.7-13.3s12.8-8 15.6-9.8s.8-.7 1-.9M263 291.3c1.3-.9 3.9-2.3 7.6-5.5s11.1-10.5 14.6-13.7s5.1-4.6 6.1-5.5" stroke="#85190f" stroke-width="0.8"/>
<path d="M239.3 308.6c1.9-2 6.8-7.6 11.3-11.8s10.3-9.2 15.4-13.3s10.9-7.9 15.6-11.7s10.5-9.3 12.6-11.2M234.6 295.2c1.1-1.2 3.2-4 6.9-6.9s10-6.8 15.3-10.7s12.2-9.3 16.3-12.7s6.9-6.5 8.3-7.7M240.2 289.2c.1-.1-1.8 1.2 .8-.9s10.1-8.3 14.8-12.1s11.2-9 13.4-10.8M227.9 299.5c2.2-2 8.6-7.7 12.9-11.9s8-9.1 12.9-13.1s13.3-8.6 16.8-11.2s3.6-3.3 4.4-4" stroke="#8e2614" stroke-width="0.8"/>
<path d="M309.1 250.4c.6-.8 2.2-1.6 4-5.3s4.9-11.5 6.2-17s1.6-12.9 2-15.5" stroke="#e0faf8" stroke-width="0.8"/>
<path d="M302.1 260.8c1.7-2.6 7.9-10.2 10.7-15.6s4.6-11.6 6-17s1.5-12.9 1.8-15.5M310.8 251.4c.7-1 2.5-2.1 4.1-5.9s4.3-12.8 5.4-17.2s1-8 1.2-9.5" stroke="#d0f5f2" stroke-width="0.8"/>
<path d="M303.2 261.3c1.8-2.6 8-10.2 10.7-15.7s4.6-13.7 5.7-17.3s.4-3.3 .5-4M308.2 251.6c.7-1 2.5-2.3 4.2-6.2s4.8-12 6.1-16.9s1.5-9.9 1.8-11.9" stroke="#bfeeea" stroke-width="0.8"/></g><rect x="87" y="448" width="348" height="384" fill="#fdfdfd"/>
<g>
<path d="M263 465C259.2 464.9 255.8 461.4 252 460.5C248.2 459.6 244.2 459.5 240 459.5C235.8 459.5 231.5 459.5 226.5 460.6C221.5 461.7 215.3 463.7 210 466C204.7 468.3 199.4 471.1 194.4 474.3C189.4 477.5 184.6 481.2 180 485C175.4 488.8 171.2 493.3 167 497C162.8 500.7 158.8 503.9 155 507C151.2 510.1 147.8 513 144 515.5C140.2 518 135 519.6 132 522C129 524.4 128 526.7 125.8 530C123.6 533.3 120.9 537.9 119 542C117.1 546.1 115.8 549.7 114.3 554.4C112.8 559.1 111.1 564.3 110 570C108.9 575.7 108.3 582.9 107.5 588.7C106.7 594.5 105.6 599.3 105 605C104.4 610.7 104.2 617.2 104 623C103.8 628.8 103.8 633.3 104 640C104.2 646.7 104 655.4 105 663C106 670.6 107.4 678.6 109.7 685.8C112 693 116.1 701.1 119 706.4C121.9 711.7 126.1 712.9 127 717.8C127.9 722.7 124.2 729.9 124.6 736C125 742.1 126.7 748.3 129.2 754.4C131.7 760.5 135.1 766.6 139.5 772.7C143.9 778.8 149.4 785.6 155.5 791C161.6 796.4 168.8 801.5 176 804.8C183.2 808 191.3 809.8 199 810.5C206.7 811.2 215 808.3 221.9 809.3C228.8 810.2 234.8 813.9 240.2 816.2C245.5 818.5 250.2 821.5 254 823C257.8 824.5 259.9 825 263 825C266.1 825 267.4 824.1 272.9 823C278.4 821.9 289.7 820.6 295.8 818.5C301.9 816.4 303 812 309.5 810.5C316 809 326.7 811 334.7 809.3C342.7 807.5 350.4 804.5 357.6 800C364.8 795.5 372.3 788.8 378 782C383.7 775.2 388.9 766.7 392 759C395.1 751.3 395.4 742.9 396.5 736C397.6 729.1 396.8 722.7 398.7 717.8C400.6 712.9 404.9 711.7 408 706.4C411.1 701.1 414.7 693 417 685.8C419.3 678.6 421 670.6 421.6 663C422.2 655.4 420.7 646.7 420.5 640C420.3 633.3 420.7 629.7 420.5 623C420.3 616.3 420.2 607.6 419.3 600C418.4 592.4 417.1 584.9 414.8 577.3C412.5 569.7 410.2 562.8 405.6 554.4C401 546 394.2 535.8 387.3 527C380.4 518.2 372 509.1 364.4 501.8C356.8 494.6 349.1 489.2 341.5 483.5C333.9 477.8 327 471.7 318.6 467.5C310.2 463.3 298.3 459.4 291 458.3C283.7 457.2 279.7 459.9 275 461C270.3 462.1 266.8 465.1 263 465Z" fill="#f0f0f0" fill-opacity="0.95"/>
<path d="M263 465C259.2 464.9 255.8 461.4 252 460.5C248.2 459.6 244.2 459.5 240 459.5C235.8 459.5 231.5 459.5 226.5 460.6C221.5 461.7 215.3 463.7 210 466C204.7 468.3 199.4 471.1 194.4 474.3C189.4 477.5 184.6 481.2 180 485C175.4 488.8 171.2 493.3 167 497C162.8 500.7 158.8 503.9 155 507C151.2 510.1 147.8 513 144 515.5C140.2 518 135 519.6 132 522C129 524.4 128 526.7 125.8 530C123.6 533.3 120.9 537.9 119 542C117.1 546.1 115.8 549.7 114.3 554.4C112.8 559.1 111.1 564.3 110 570C108.9 575.7 108.3 582.9 107.5 588.7C106.7 594.5 105.6 599.3 105 605C104.4 610.7 104.2 617.2 104 623C103.8 628.8 103.8 633.3 104 640C104.2 646.7 104 655.4 105 663C106 670.6 107.4 678.6 109.7 685.8C112 693 116.1 701.1 119 706.4C121.9 711.7 126.1 712.9 127 717.8C127.9 722.7 124.2 729.9 124.6 736C125 742.1 126.7 748.3 129.2 754.4C131.7 760.5 135.1 766.6 139.5 772.7C143.9 778.8 149.4 785.6 155.5 791C161.6 796.4 168.8 801.5 176 804.8C183.2 808 191.3 809.8 199 810.5C206.7 811.2 215 808.3 221.9 809.3C228.8 810.2 234.8 813.9 240.2 816.2C245.5 818.5 250.2 821.5 254 823C257.8 824.5 259.9 825 263 825C266.1 825 267.4 824.1 272.9 823C278.4 821.9 289.7 820.6 295.8 818.5C301.9 816.4 303 812 309.5 810.5C316 809 326.7 811 334.7 809.3C342.7 807.5 350.4 804.5 357.6 800C364.8 795.5 372.3 788.8 378 782C383.7 775.2 388.9 766.7 392 759C395.1 751.3 395.4 742.9 396.5 736C397.6 729.1 396.8 722.7 398.7 717.8C400.6 712.9 404.9 711.7 408 706.4C411.1 701.1 414.7 693 417 685.8C419.3 678.6 421 670.6 421.6 663C422.2 655.4 420.7 646.7 420.5 640C420.3 633.3 420.7 629.7 420.5 623C420.3 616.3 420.2 607.6 419.3 600C418.4 592.4 417.1 584.9 414.8 577.3C412.5 569.7 410.2 562.8 405.6 554.4C401 546 394.2 535.8 387.3 527C380.4 518.2 372 509.1 364.4 501.8C356.8 494.6 349.1 489.2 341.5 483.5C333.9 477.8 327 471.7 318.6 467.5C310.2 463.3 298.3 459.4 291 458.3C283.7 457.2 279.7 459.9 275 461C270.3 462.1 266.8 465.1 263 465Z" fill="none" stroke="#b0b0b0" stroke-width="7" stroke-opacity="0.38" filter="url(#b3)" clip-path="url(#c2)"/>
<path d="M263 481.5C259.6 481.4 256.7 478.3 253.3 477.4C249.9 476.6 246.5 476.5 242.8 476.6C239 476.6 235.3 476.6 230.9 477.5C226.5 478.5 221.1 480.3 216.4 482.4C211.7 484.5 207 487 202.6 489.9C198.2 492.7 194 496.1 190 499.5C185.9 502.9 182.2 507 178.5 510.3C174.9 513.6 171.3 516.5 168 519.3C164.6 522.1 161.7 524.7 158.3 527C154.9 529.2 150.4 530.6 147.7 532.8C145.1 535 144.2 537 142.3 540C140.4 543 138 547.1 136.3 550.8C134.6 554.5 133.5 557.8 132.1 562C130.8 566.2 129.4 570.9 128.4 576C127.4 581.1 126.9 587.6 126.2 592.8C125.4 598.1 124.5 602.4 124 607.5C123.4 612.6 123.2 618.5 123.1 623.7C122.9 629 122.9 633 123.1 639C123.2 645 123.1 652.8 124 659.7C124.8 666.6 126 673.7 128.1 680.2C130.1 686.7 133.7 694 136.3 698.8C138.8 703.6 142.5 704.6 143.3 709C144.1 713.5 140.9 719.9 141.2 725.4C141.5 730.9 143.1 736.5 145.3 742C147.4 747.5 150.5 752.9 154.3 758.4C158.2 763.9 163 770.1 168.4 774.9C173.8 779.7 180.1 784.4 186.4 787.3C192.8 790.2 199.9 791.8 206.7 792.5C213.4 793.1 220.8 790.5 226.8 791.4C232.9 792.2 238.2 795.5 242.9 797.6C247.6 799.6 251.7 802.4 255.1 803.7C258.4 805 260.2 805.5 263 805.5C265.8 805.5 266.9 804.7 271.7 803.7C276.5 802.7 286.5 801.5 291.9 799.6C297.2 797.8 298.2 793.8 303.9 792.5C309.6 791.1 319 792.9 326.1 791.4C333.2 789.8 339.9 787.1 346.2 783C352.6 778.9 359.2 772.9 364.2 766.8C369.2 760.6 373.8 753 376.5 746.1C379.2 739.2 379.5 731.6 380.5 725.4C381.5 719.2 380.7 713.5 382.4 709C384.1 704.6 387.9 703.6 390.6 698.8C393.3 694 396.5 686.7 398.5 680.2C400.5 673.7 402.1 666.6 402.6 659.7C403.1 652.8 401.8 645 401.6 639C401.4 633 401.8 629.7 401.6 623.7C401.4 617.7 401.4 609.9 400.5 603C399.7 596.1 398.6 589.4 396.6 582.6C394.6 575.7 392.5 569.5 388.5 562C384.5 554.4 378.4 545.2 372.4 537.3C366.3 529.4 358.9 521.1 352.2 514.6C345.5 508.1 338.8 503.3 332.1 498.1C325.4 493 319.3 487.5 311.9 483.8C304.5 480 294 476.4 287.6 475.5C281.2 474.5 277.7 476.9 273.6 477.9C269.5 478.9 266.4 481.6 263 481.5Z" fill="#f7f7f7" fill-opacity="0.75" filter="url(#b3)"/>
<path d="M263 481.5C259.6 481.4 256.7 478.3 253.3 477.4C249.9 476.6 246.5 476.5 242.8 476.6C239 476.6 235.3 476.6 230.9 477.5C226.5 478.5 221.1 480.3 216.4 482.4C211.7 484.5 207 487 202.6 489.9C198.2 492.7 194 496.1 190 499.5C185.9 502.9 182.2 507 178.5 510.3C174.9 513.6 171.3 516.5 168 519.3C164.6 522.1 161.7 524.7 158.3 527C154.9 529.2 150.4 530.6 147.7 532.8C145.1 535 144.2 537 142.3 540C140.4 543 138 547.1 136.3 550.8C134.6 554.5 133.5 557.8 132.1 562C130.8 566.2 129.4 570.9 128.4 576C127.4 581.1 126.9 587.6 126.2 592.8C125.4 598.1 124.5 602.4 124 607.5C123.4 612.6 123.2 618.5 123.1 623.7C122.9 629 122.9 633 123.1 639C123.2 645 123.1 652.8 124 659.7C124.8 666.6 126 673.7 128.1 680.2C130.1 686.7 133.7 694 136.3 698.8C138.8 703.6 142.5 704.6 143.3 709C144.1 713.5 140.9 719.9 141.2 725.4C141.5 730.9 143.1 736.5 145.3 742C147.4 747.5 150.5 752.9 154.3 758.4C158.2 763.9 163 770.1 168.4 774.9C173.8 779.7 180.1 784.4 186.4 787.3C192.8 790.2 199.9 791.8 206.7 792.5C213.4 793.1 220.8 790.5 226.8 791.4C232.9 792.2 238.2 795.5 242.9 797.6C247.6 799.6 251.7 802.4 255.1 803.7C258.4 805 260.2 805.5 263 805.5C265.8 805.5 266.9 804.7 271.7 803.7C276.5 802.7 286.5 801.5 291.9 799.6C297.2 797.8 298.2 793.8 303.9 792.5C309.6 791.1 319 792.9 326.1 791.4C333.2 789.8 339.9 787.1 346.2 783C352.6 778.9 359.2 772.9 364.2 766.8C369.2 760.6 373.8 753 376.5 746.1C379.2 739.2 379.5 731.6 380.5 725.4C381.5 719.2 380.7 713.5 382.4 709C384.1 704.6 387.9 703.6 390.6 698.8C393.3 694 396.5 686.7 398.5 680.2C400.5 673.7 402.1 666.6 402.6 659.7C403.1 652.8 401.8 645 401.6 639C401.4 633 401.8 629.7 401.6 623.7C401.4 617.7 401.4 609.9 400.5 603C399.7 596.1 398.6 589.4 396.6 582.6C394.6 575.7 392.5 569.5 388.5 562C384.5 554.4 378.4 545.2 372.4 537.3C366.3 529.4 358.9 521.1 352.2 514.6C345.5 508.1 338.8 503.3 332.1 498.1C325.4 493 319.3 487.5 311.9 483.8C304.5 480 294 476.4 287.6 475.5C281.2 474.5 277.7 476.9 273.6 477.9C269.5 478.9 266.4 481.6 263 481.5Z" fill="none" stroke="#c4c4c4" stroke-width="2.5" stroke-opacity="0.55" filter="url(#b2)"/>
<ellipse cx="201" cy="600" rx="52" ry="100" fill="#f4f4f4" fill-opacity="0.5" stroke="#c4c4c4" stroke-width="2" stroke-opacity="0.5" filter="url(#b3)"/>
<ellipse cx="325" cy="600" rx="52" ry="100" fill="#f4f4f4" fill-opacity="0.5" stroke="#c4c4c4" stroke-width="2" stroke-opacity="0.5" filter="url(#b3)"/>
<ellipse cx="195" cy="762" rx="66" ry="46" fill="#f3f3f3" fill-opacity="0.8" stroke="#c2c2c2" stroke-width="2" stroke-opacity="0.5" filter="url(#b2)" transform="rotate(14 195 762)"/>
<ellipse cx="195" cy="760" rx="46" ry="30" fill="none" fill-opacity="1" stroke="#cbcbcb" stroke-width="1.4" stroke-opacity="0.45" filter="url(#b1)" transform="rotate(14 195 760)"/>
<path d="M127 718C132.3 715.8 151.7 720.7 163 721C174.3 721.3 186 721 195 720C204 719 211.3 717.7 217 715C222.7 712.3 227.3 700.2 229 704C230.7 707.8 229.7 729.2 227 738C224.3 746.8 220.7 755 213 757C205.3 759 191 752.5 181 750C171 747.5 161.3 744.7 153 742C144.7 739.3 135.3 738 131 734C126.7 730 121.7 720.2 127 718Z" fill="#cfcfcf" fill-opacity="0.55" filter="url(#b2)"/>
<ellipse cx="331" cy="762" rx="66" ry="46" fill="#f3f3f3" fill-opacity="0.8" stroke="#c2c2c2" stroke-width="2" stroke-opacity="0.5" filter="url(#b2)" transform="rotate(-14 331 762)"/>
<ellipse cx="331" cy="760" rx="46" ry="30" fill="none" fill-opacity="1" stroke="#cbcbcb" stroke-width="1.4" stroke-opacity="0.45" filter="url(#b1)" transform="rotate(-14 331 760)"/>
<path d="M399 718C393.7 715.8 374.3 720.7 363 721C351.7 721.3 340 721 331 720C322 719 314.7 717.7 309 715C303.3 712.3 298.7 700.2 297 704C295.3 707.8 296.3 729.2 299 738C301.7 746.8 305.3 755 313 757C320.7 759 335 752.5 345 750C355 747.5 364.7 744.7 373 742C381.3 739.3 390.7 738 395 734C399.3 730 404.3 720.2 399 718Z" fill="#cfcfcf" fill-opacity="0.55" filter="url(#b2)"/>
<ellipse cx="263" cy="800" rx="30" ry="24" fill="#f1f1f1" fill-opacity="0.8" stroke="#c4c4c4" stroke-width="1.6" stroke-opacity="0.5" filter="url(#b2)"/>
<path d="M127 718C132.5 718.2 148.8 718.7 160 719C171.2 719.3 184.5 720.6 194 720C203.5 719.4 211.2 718.2 217 715.5C222.8 712.8 224.3 707.6 229 704C233.7 700.4 239.3 696.3 245 694C250.7 691.7 257 690 263 690C269 690 275.5 691 281 694C286.5 697 291.7 704.4 296 708C300.3 711.6 301.3 713.8 307 715.5C312.7 717.2 320.5 717.4 330 718C339.5 718.6 352.5 719 364 719C375.5 719 393.2 718.2 399 718" fill="none" stroke="#9c9c9c" stroke-width="2.5" stroke-opacity="0.6" filter="url(#b1)"/>
<ellipse cx="250.1" cy="502.1" rx="10.2" ry="10.3" fill="#fafafa" fill-opacity="0.45" stroke="#bdbdbd" stroke-width="1.2" stroke-opacity="0.5" filter="url(#b2)" transform="rotate(1 250.1 502.1)"/>
<ellipse cx="264.2" cy="473.6" rx="9.7" ry="8.8" fill="#fafafa" fill-opacity="0.45" stroke="#bdbdbd" stroke-width="1.2" stroke-opacity="0.5" filter="url(#b2)" transform="rotate(110 264.2 473.6)"/>
<ellipse cx="152.1" cy="604.8" rx="15.3" ry="8.3" fill="#fafafa" fill-opacity="0.45" stroke="#bdbdbd" stroke-width="1.2" stroke-opacity="0.5" filter="url(#b2)" transform="rotate(130 152.1 604.8)"/>
<ellipse cx="170.7" cy="567.1" rx="10" ry="8.5" fill="#fafafa" fill-opacity="0.45" stroke="#bdbdbd" stroke-width="1.2" stroke-opacity="0.5" filter="url(#b2)" transform="rotate(166 170.7 567.1)"/>
<ellipse cx="299.8" cy="485.7" rx="12.5" ry="9.7" fill="#fafafa" fill-opacity="0.45" stroke="#bdbdbd" stroke-width="1.2" stroke-opacity="0.5" filter="url(#b2)" transform="rotate(18 299.8 485.7)"/>
<ellipse cx="185.9" cy="513.3" rx="15.5" ry="8.1" fill="#fafafa" fill-opacity="0.45" stroke="#bdbdbd" stroke-width="1.2" stroke-opacity="0.5" filter="url(#b2)" transform="rotate(15 185.9 513.3)"/>
<ellipse cx="193.8" cy="538.2" rx="11.5" ry="10" fill="#fafafa" fill-opacity="0.45" stroke="#bdbdbd" stroke-width="1.2" stroke-opacity="0.5" filter="url(#b2)" transform="rotate(35 193.8 538.2)"/>
<ellipse cx="391" cy="569.2" rx="9.5" ry="7.9" fill="#fafafa" fill-opacity="0.45" stroke="#bdbdbd" stroke-width="1.2" stroke-opacity="0.5" filter="url(#b2)" transform="rotate(88 391 569.2)"/>
<ellipse cx="149.2" cy="611.1" rx="17.2" ry="6.6" fill="#fafafa" fill-opacity="0.45" stroke="#bdbdbd" stroke-width="1.2" stroke-opacity="0.5" filter="url(#b2)" transform="rotate(107 149.2 611.1)"/>
<ellipse cx="150" cy="571.8" rx="17.1" ry="7" fill="#fafafa" fill-opacity="0.45" stroke="#bdbdbd" stroke-width="1.2" stroke-opacity="0.5" filter="url(#b2)" transform="rotate(1 150 571.8)"/>
<ellipse cx="147.3" cy="586.9" rx="9.2" ry="6.4" fill="#fafafa" fill-opacity="0.45" stroke="#bdbdbd" stroke-width="1.2" stroke-opacity="0.5" filter="url(#b2)" transform="rotate(89 147.3 586.9)"/>
<ellipse cx="373.3" cy="590.2" rx="12.6" ry="9.2" fill="#fafafa" fill-opacity="0.45" stroke="#bdbdbd" stroke-width="1.2" stroke-opacity="0.5" filter="url(#b2)" transform="rotate(16 373.3 590.2)"/>
<ellipse cx="288.2" cy="515.3" rx="14.5" ry="10.8" fill="#fafafa" fill-opacity="0.45" stroke="#bdbdbd" stroke-width="1.2" stroke-opacity="0.5" filter="url(#b2)" transform="rotate(9 288.2 515.3)"/>
<ellipse cx="284.2" cy="490.9" rx="10.3" ry="7.3" fill="#fafafa" fill-opacity="0.45" stroke="#bdbdbd" stroke-width="1.2" stroke-opacity="0.5" filter="url(#b2)" transform="rotate(179 284.2 490.9)"/>
<ellipse cx="362" cy="619.3" rx="15.3" ry="10.8" fill="#fafafa" fill-opacity="0.45" stroke="#bdbdbd" stroke-width="1.2" stroke-opacity="0.5" filter="url(#b2)" transform="rotate(42 362 619.3)"/>
<ellipse cx="295.5" cy="524.8" rx="12.3" ry="9.4" fill="#fafafa" fill-opacity="0.45" stroke="#bdbdbd" stroke-width="1.2" stroke-opacity="0.5" filter="url(#b2)" transform="rotate(106 295.5 524.8)"/>
<ellipse cx="336.9" cy="552.6" rx="12.1" ry="10.3" fill="#fafafa" fill-opacity="0.45" stroke="#bdbdbd" stroke-width="1.2" stroke-opacity="0.5" filter="url(#b2)" transform="rotate(105 336.9 552.6)"/>
<ellipse cx="245.8" cy="501.2" rx="17.9" ry="8.9" fill="#fafafa" fill-opacity="0.45" stroke="#bdbdbd" stroke-width="1.2" stroke-opacity="0.5" filter="url(#b2)" transform="rotate(3 245.8 501.2)"/>
<ellipse cx="351.3" cy="551.4" rx="12.9" ry="7.1" fill="#fafafa" fill-opacity="0.45" stroke="#bdbdbd" stroke-width="1.2" stroke-opacity="0.5" filter="url(#b2)" transform="rotate(79 351.3 551.4)"/>
<ellipse cx="212" cy="531.6" rx="14.7" ry="6.5" fill="#fafafa" fill-opacity="0.45" stroke="#bdbdbd" stroke-width="1.2" stroke-opacity="0.5" filter="url(#b2)" transform="rotate(141 212 531.6)"/>
<ellipse cx="131.7" cy="608.8" rx="16.3" ry="8.5" fill="#fafafa" fill-opacity="0.45" stroke="#bdbdbd" stroke-width="1.2" stroke-opacity="0.5" filter="url(#b2)" transform="rotate(127 131.7 608.8)"/>
<ellipse cx="170.9" cy="523" rx="12.8" ry="7.2" fill="#fafafa" fill-opacity="0.45" stroke="#bdbdbd" stroke-width="1.2" stroke-opacity="0.5" filter="url(#b2)" transform="rotate(173 170.9 523)"/>
<ellipse cx="228.8" cy="507" rx="16.7" ry="7.8" fill="#fafafa" fill-opacity="0.45" stroke="#bdbdbd" stroke-width="1.2" stroke-opacity="0.5" filter="url(#b2)" transform="rotate(120 228.8 507)"/>
<ellipse cx="147.2" cy="546.5" rx="11.3" ry="6.3" fill="#fafafa" fill-opacity="0.45" stroke="#bdbdbd" stroke-width="1.2" stroke-opacity="0.5" filter="url(#b2)" transform="rotate(175 147.2 546.5)"/>
<ellipse cx="143.2" cy="543.1" rx="17.9" ry="9" fill="#fafafa" fill-opacity="0.45" stroke="#bdbdbd" stroke-width="1.2" stroke-opacity="0.5" filter="url(#b2)" transform="rotate(2 143.2 543.1)"/>
<ellipse cx="161.5" cy="599.1" rx="12.5" ry="9.1" fill="#fafafa" fill-opacity="0.45" stroke="#bdbdbd" stroke-width="1.2" stroke-opacity="0.5" filter="url(#b2)" transform="rotate(173 161.5 599.1)"/>
<ellipse cx="218.9" cy="524.5" rx="14.1" ry="6.7" fill="#fafafa" fill-opacity="0.45" stroke="#bdbdbd" stroke-width="1.2" stroke-opacity="0.5" filter="url(#b2)" transform="rotate(15 218.9 524.5)"/>
<ellipse cx="285.3" cy="486.3" rx="9.6" ry="8.3" fill="#fafafa" fill-opacity="0.45" stroke="#bdbdbd" stroke-width="1.2" stroke-opacity="0.5" filter="url(#b2)" transform="rotate(126 285.3 486.3)"/>
<ellipse cx="345.6" cy="539.5" rx="17" ry="6.8" fill="#fafafa" fill-opacity="0.45" stroke="#bdbdbd" stroke-width="1.2" stroke-opacity="0.5" filter="url(#b2)" transform="rotate(128 345.6 539.5)"/>
<ellipse cx="366" cy="524.4" rx="13.4" ry="6.5" fill="#fafafa" fill-opacity="0.45" stroke="#bdbdbd" stroke-width="1.2" stroke-opacity="0.5" filter="url(#b2)" transform="rotate(8 366 524.4)"/>
<ellipse cx="272.2" cy="512.3" rx="14.7" ry="6.4" fill="#fafafa" fill-opacity="0.45" stroke="#bdbdbd" stroke-width="1.2" stroke-opacity="0.5" filter="url(#b2)" transform="rotate(140 272.2 512.3)"/>
<ellipse cx="191.3" cy="555.9" rx="10.6" ry="8.3" fill="#fafafa" fill-opacity="0.45" stroke="#bdbdbd" stroke-width="1.2" stroke-opacity="0.5" filter="url(#b2)" transform="rotate(100 191.3 555.9)"/>
<ellipse cx="228.1" cy="518.5" rx="13.3" ry="10.7" fill="#fafafa" fill-opacity="0.45" stroke="#bdbdbd" stroke-width="1.2" stroke-opacity="0.5" filter="url(#b2)" transform="rotate(96 228.1 518.5)"/>
<ellipse cx="355.8" cy="601.6" rx="17.9" ry="10.4" fill="#fafafa" fill-opacity="0.45" stroke="#bdbdbd" stroke-width="1.2" stroke-opacity="0.5" filter="url(#b2)" transform="rotate(97 355.8 601.6)"/>
<ellipse cx="271.8" cy="493" rx="17.2" ry="6.3" fill="#fafafa" fill-opacity="0.45" stroke="#bdbdbd" stroke-width="1.2" stroke-opacity="0.5" filter="url(#b2)" transform="rotate(115 271.8 493)"/>
<ellipse cx="277.2" cy="506.1" rx="15.5" ry="9.6" fill="#fafafa" fill-opacity="0.45" stroke="#bdbdbd" stroke-width="1.2" stroke-opacity="0.5" filter="url(#b2)" transform="rotate(18 277.2 506.1)"/>
<ellipse cx="330.7" cy="520.4" rx="13.4" ry="9.2" fill="#fafafa" fill-opacity="0.45" stroke="#bdbdbd" stroke-width="1.2" stroke-opacity="0.5" filter="url(#b2)" transform="rotate(9 330.7 520.4)"/>
<ellipse cx="298.4" cy="507.4" rx="16.9" ry="7.2" fill="#fafafa" fill-opacity="0.45" stroke="#bdbdbd" stroke-width="1.2" stroke-opacity="0.5" filter="url(#b2)" transform="rotate(148 298.4 507.4)"/>
<ellipse cx="344.9" cy="520.9" rx="16.9" ry="6.2" fill="#fafafa" fill-opacity="0.45" stroke="#bdbdbd" stroke-width="1.2" stroke-opacity="0.5" filter="url(#b2)" transform="rotate(107 344.9 520.9)"/>
<ellipse cx="307.1" cy="493.6" rx="12.7" ry="6.3" fill="#fafafa" fill-opacity="0.45" stroke="#bdbdbd" stroke-width="1.2" stroke-opacity="0.5" filter="url(#b2)" transform="rotate(34 307.1 493.6)"/>
<ellipse cx="297" cy="517.6" rx="9.6" ry="7.8" fill="#fafafa" fill-opacity="0.45" stroke="#bdbdbd" stroke-width="1.2" stroke-opacity="0.5" filter="url(#b2)" transform="rotate(84 297 517.6)"/>
<ellipse cx="273.5" cy="520.3" rx="16" ry="7.7" fill="#fafafa" fill-opacity="0.45" stroke="#bdbdbd" stroke-width="1.2" stroke-opacity="0.5" filter="url(#b2)" transform="rotate(140 273.5 520.3)"/>
<ellipse cx="122.7" cy="616" rx="14.3" ry="10.9" fill="#fafafa" fill-opacity="0.45" stroke="#bdbdbd" stroke-width="1.2" stroke-opacity="0.5" filter="url(#b2)" transform="rotate(177 122.7 616)"/>
<ellipse cx="348" cy="567.5" rx="12.1" ry="7.2" fill="#fafafa" fill-opacity="0.45" stroke="#bdbdbd" stroke-width="1.2" stroke-opacity="0.5" filter="url(#b2)" transform="rotate(140 348 567.5)"/>
<g fill="none" stroke="#8e8e8e" stroke-linecap="round" clip-path="url(#c2)" filter="url(#b1)">
<path d="M302.7 750.4c2.4-1.1 9.9-3.6 14.4-6.4s8.6-6.4 12.3-10.4s7.2-8.7 10.1-13.8s4.9-12.1 7-16.8s4.4-7.9 5.6-11.4s.7-5.8 1.3-9.6s.9-8.8 2.3-13s5.1-8 6.4-12.3s1.4-8.8 1.5-13.6s-1.3-10.5-1.3-15s1.7-7.4 1.4-11.9s-2.2-10.1-3.3-14.9s-1.3-8.8-3-14.1s-6.1-14.3-7.3-17.2M242.6 539.9c-1.3 .4-5.3 1.4-7.9 2.5s-5.6 2.4-7.7 3.9s-2.9 2.9-4.7 4.6s-4.2 3.9-6.3 5.5s-3.9 2.3-5.8 4.1s-3.6 5.5-5.3 6.8s-3.3 0-4.7 .9s-2.6 2.8-3.5 4.3s-1.5 3.8-1.8 4.5M292.2 477.3c-2.7 .1-11.8 .3-16.2 .5s-7.3 .7-10.4 .9s-5.1-.3-8.1 .1s-6.1 1.8-9.8 2.2s-8.9-.4-12.9 .2s-6.7 2.3-10.7 3.6s-9.7 2.1-13.6 4.3s-6.7 5.9-10.3 9.1s-7.6 7.5-11.1 10.6s-6.3 6.1-10.1 8s-10.3 2.9-12.4 3.4M157.2 748.5c1.8 2.6 6.4 11.3 11 15.6s11.3 7.4 16.9 10.4s10.5 5.7 16.4 7.7s13 4.1 18.8 4.6s11.5-3.3 15.9-1.6s7.4 9.4 10.9 11.7s7.9 1.5 10.7 1.9s2.7 .6 6 .7s8.8 1.2 14-.4s14-7.5 16.8-9M310.7 669.4c.2-1.6 1.2-7 1.2-9.5s-2.1-4-1.1-5.7s6.1-2.1 6.9-4.2s-2.2-5.8-2.1-8.4s1.5-4.8 2.8-7.1s3.8-4.5 4.6-6.6s-.6-3.3-.1-6s2.9-8.5 3.5-10.2M332.1 674.2c.2-1.4 .7-5.7 1.6-8s2.4-3.3 3.8-5.7s3.3-5.9 4.9-9.1s4-6.2 4.5-9.9s-1.2-9-1.8-12.2s-1-3.8-1.5-7.1s-.7-8.8-1.5-12.8s-2.5-9.2-3.1-11.1M332.7 759.7c2.1-1.9 8-7.8 12.4-11.5s11.3-6.3 14.4-11.1s2-12.4 3.8-17.5s5.2-8.9 7.1-13s2.4-7.8 4-11.4s3.5-6.2 5.4-10.3s4.4-9 5.9-14.3s2.9-12.1 3.1-17.8s-1.6-12.1-1.9-16.5s-.3-8.4-.3-10.1M317 522.8c-2.3-1.5-8.5-6.3-13.6-9.1s-12.2-6.3-17.1-7.9s-8.8-1.1-12.3-1.2s-6.3 .9-8.9 .5s-4.4-2.2-6.9-3.2s-5.3-2.4-8-3s-5.3-.4-8.3-.4s-6.5-.4-9.9 1s-8.8 6-10.5 7.2M337.7 769.6c2.5-2 10.1-7.4 15.2-11.7s12-9.2 15.4-14.6s4.2-12 5.3-17.8s.1-12.1 1.1-16.8s2.8-8 5.1-11.6s7-5.5 9-10s1-11.3 2.8-17s6.5-11.6 7.8-17.1s-.2-12.9-.2-15.5M345.5 651.1c-.2-2.6-.1-11.4-.9-15.4s-3-6-4.1-8.7s-1.9-4.3-2.4-7.5s-.6-8.2-.4-11.9s2.3-6.6 1.5-9.9s-4.3-5.9-6.6-9.9s-3.7-9.8-7.1-13.7s-9.3-6.8-13.2-9.7s-8.4-6.6-10.1-7.9M166.1 569.3c-.2 1.3-1 5.3-1.4 8.2s-.6 5.2-.8 9.3s-.5 11.7-.6 15.8s-.3 5.4-.3 8.7s.3 7.2 .5 10.8s.7 6.6 .8 10.6s-1 9 .1 13.3s4.9 8 6.5 12.5s2.9 11.8 3.4 14.1M134.7 709.6c.3 2.2 .4 8.3 1.4 13.1s2.6 10.3 5 15.7s6 11.4 9.6 16.8s6.7 10.7 11.6 15.4s11.7 9.7 17.9 13s12.9 5.6 19.3 7.2s13 .5 19.2 2.2s13.5 5.6 18.5 8.1s7.9 4.9 11.5 6.7s6.9 3.8 10.3 4.5s5.5-.7 9.9-.6s13.8 1 16.6 1.2M204.4 588c-.1 .6-.8 2.2-1 3.9s.2 4.1 0 6.6s-.7 6-1 8.4s-.7 3.9-1.2 6s-.5 4-1.4 6.3s-3.2 4.9-3.6 7.1s.1 3.1 1.3 5.6s4 6.6 5.6 9.5s2.6 5.4 3.9 7.6s3.4 4.1 4.3 5.7s1.4 2.4 1.5 4s-1.3 4.1-.6 6.1s3.4 3.6 4.6 6s.3 6.1 2.2 8s7.4 2.8 8.9 3.4M118.8 568.3c-.6 2.5-2.3 9.9-3.4 15.1s-3.2 10.7-3.6 15.9s1.3 10.5 1.2 15.7s-1.5 10.3-1.7 15.6s-.4 10 .3 16.1s2.5 13.2 3.8 20.1s2.2 14.8 4.1 21.1s5.1 12.8 7.5 17.1s5.5 4.4 6.5 8.6s-.1 14.1-.1 16.9M214.2 723.2c2.5-.2 10.9-.9 15.2-1.1s7.6-.8 10.9 .1s5.9 3.8 8.4 5.2s4.6 2.3 6.5 3.4s3.1 2.6 4.9 3.1s4.1-.5 6.4-.3s4.8 2 7.6 1.6s7.5-3.7 9-4.5M169 685.3c0 2.1 0 8.4 .5 12.7s.6 9.2 2.1 12.7s4.1 4.8 7 8.4s6.9 9.9 10.6 13.4s7.4 4.6 11.5 7.4s8.4 7.5 13 9.3s12 1.1 14.3 1.3M202.9 674.5c1.4 .6 5.9 2 8 3.6s2.7 4.4 4.7 6.2s5.1 3 7.5 4.2s4 2.2 6.8 2.9s7.5 1.1 10 1.3s4.3-.3 5.2-.3M311.3 701.7c.9-2.1 3.2-8.9 5.2-12.2s5.6-5.1 7.3-7.8s1.6-5.8 2.6-8.5s1.9-5.4 3.3-8.1s3.3-5.1 4.9-7.9s3.6-5.4 4.6-8.7s1.1-7.8 1.4-11.3s.6-6.4 .5-9.5s-.3-5.4-.6-9s-.1-8.9-1.5-12.5s-5-5.8-6.8-9.3s-2.2-7.9-4.4-11.8s-5-7.8-8.4-11.9s-10-10.2-12-12.3M304.3 560.6c-1.9-.7-7.4-2.9-11.2-4.1s-8.4-2.6-11.9-3s-6.5 .4-9.4 .5s-5.8 .3-7.7 .1s-2.9-1.3-4-1.2s-.8 1.6-2.3 2.1s-4 1.4-6.3 1.2s-4.9-2.5-7.2-2.4s-4.8 1.8-6.8 2.8s-3.4 1.1-5 2.7s-4 5.7-4.7 6.8M251.1 472.5c-2 .2-8 .7-11.8 1.4s-6.5 1.2-11.3 2.5s-11.8 3.5-17.1 5.3s-10.2 2.9-14.6 5.7s-7.7 7.6-11.8 11.3s-8.7 7.4-12.8 10.7s-8.6 6.6-11.9 9.6s-5.4 6.4-8 8.5s-5.6 1.7-7.7 4s-3.1 6.5-5.1 9.7s-5.6 5.6-7.4 9.5s-2 8.7-3.2 13.5s-2.4 10-3.7 15.2s-3.3 13.6-3.9 16.3M257 507.7c-1.4-.2-5.9-2.1-8.3-1.7s-3.2 3.4-6.5 4.3s-9.1 .9-13 1.5s-7.4 .2-10.6 1.8s-5.6 4.7-8.3 7.4s-4.9 6.2-7.8 8.6s-6.7 4.4-9.9 6.3s-6.7 3.4-9.3 5.5s-4.4 4.8-6.4 6.7s-3.8 3.5-5.6 5.2s-3.5 2.7-5.4 4.9s-5 6.7-6 8M192.4 735.4c2.2 1.1 8.3 5.9 13.2 6.8s11.7-1.9 16.6-1.5s8.4 2.2 12.3 3.8s8.1 3.9 11.4 5.3s5.3 2.5 8 3.3s5.8 1.5 8.2 1.9s2.8 0 6.1 .1s9.8 1.7 13.8 .6s5.8-5.8 9.9-7.2s12-1.1 14.5-1.3M162.9 605.6c0 2.2 .7 9 .1 12.8s-3.6 6.5-3.5 10.3s4 7.4 4.7 12.3s-1.5 11.9-.7 16.7s4.1 8 5.8 11.7s3.8 7 4.2 10.8s-1.3 8.1-1.5 12.2s-.9 8.7 .4 12.5s4.6 6.8 7.1 10.7s4.4 9.6 7.9 13s8.4 5.7 13.2 7.4s10.6 2.3 15.5 2.8s10.1-.4 14.4 .2s9.8 2.6 11.7 3.2M214.3 674.8c.5 .8 .6 3.7 2.6 5.1s6.9 1.9 9.5 3.1s3.7 3.1 6.3 4.1s6.9 1.5 9.5 1.8s3.6-.1 5.8 .3s5.2 1 7.3 1.8s3.8 1.6 5 2.6s1.4 3.1 2.4 3.6s1.7 0 3.4-.3s5-.9 7.3-1.3s4.4-.3 6.5-1.1s3.6-2.2 6.3-3.5s7.6-2.9 10.1-4.5s2.9-3.2 4.7-5.1s5.1-5.5 6.1-6.5M285.3 682.9c1.2-.8 4.6-3.5 7.1-4.9s6.3-1.4 8-3.4s1.9-5.9 2.1-8.6s-.7-5.3-.5-7.7s1.8-4.8 1.8-7s-2.2-4.2-2.1-6.1s1.4-3.8 2.6-5.2s3.2-1.5 4.5-2.8s2.3-3.2 2.9-5s.6-3.8 .9-5.6s.2-2.7 .9-5.1s2.8-7 3.2-9.6s-.8-5.4-1-6.5M344.1 562.7c-2.7-2.5-11-10.7-16.1-15.1s-9.4-7.8-14.1-11.2s-9.3-5.8-14.3-9.2s-11.3-8.9-15.9-10.9s-7.9-.8-11.2-1s-5.4 .1-8.3 0s-6.9-.7-9.3-.5s-4.5 1.7-5.3 2M129.7 532.9c-.8 1.5-3.2 5.4-4.6 8.6s-2.2 6.7-3.9 10.7s-4.9 8.7-6.2 13s-1.7 7.5-1.6 12.5s2.3 11.8 2.2 17.2s-2.7 10.1-3.2 14.9s.3 11.6 .3 13.9M304 648.1c.3-.6 .8-2 1.6-3.6s3-4.3 3.6-6.4s-.5-3.8 0-6s2.6-4.7 2.7-6.9s-1.5-4.2-1.8-6.4s-.3-4.5-.3-6.8s.8-4.9 .5-7s-.8-3.5-2-6.1s-3.1-6.7-5.5-9.5s-7.4-6.4-8.9-7.6M329.8 723.7c1.4-2.2 6.1-9.1 8.6-13.4s4.4-8.3 6.1-12.2s2.9-7.8 3.9-11.4s.7-7.2 2-10.4s3.6-5 5.3-8.7s4-9.3 5.1-13.8s1.1-8.9 1.1-13.1s-.3-8.5-.7-12.6s-1.2-8.1-1.9-12.1s-1.4-10.2-1.7-12.2M167 524c-1.9 .8-8.5 2.8-11.6 4.5s-4.6 3.8-6.8 6.1s-5.2 4.3-6.9 7.4s-2.1 7.6-3.7 11.5s-4.7 8.1-6.4 12s-2.8 6.6-3.8 11.1s-.4 10.7-1.7 15.7s-4.3 9.4-6.1 14.5s-4.1 10.7-4.2 16s2.9 9.5 3.4 15.2s-.5 12.7 0 19.4s1.5 14.3 3 21.3s5.3 17.1 6.3 20.6M171.1 608.2c-.2 1.9-.9 7.7-1.1 11.1s.4 6 .2 9.6s-1.7 7.9-1.6 12.1s1 8.5 2 13s2.7 10.1 3.8 13.8s2.2 7 2.7 8.4M268.9 502c-1.8 .2-7.5 1.4-10.5 1s-4.8-3-7.5-3.5s-5.6 .3-8.9 .5s-7.1-.7-10.6 .7s-6.7 6-10.5 8s-10.2 3.7-12.3 4.4M253.7 487.8c-1.4 .3-5.1 1.3-8.6 1.8s-8.6-.4-12.3 .9s-6.6 5-10 7.2s-6.7 4.1-10.6 6.5s-9.6 5.1-13.3 7.7s-6.1 5.3-8.6 8.2s-3.9 6.6-6.7 9.3s-7.4 5-10.2 7.3s-4.6 4.1-6.3 6.4s-3.7 6.3-4.4 7.6M159.5 655.8c1.2 2.4 5.2 10.4 7 14.4s2.3 7.3 3.9 10.2s4.5 4 6.1 6.8s2.3 6.6 3.5 9.9s1.7 6.2 3.6 10s4.1 10.3 7.5 12.9s9.1 .4 13.2 2.7s7.1 9.5 11.4 11.4s10.3-.4 14.6-.1s7.5 .8 11 2.1s8.2 4.8 9.9 5.8M275.4 724.1c1.3-.9 4.9-3.9 7.6-5.2s5.3-2.2 8.7-2.8s8.4 .5 12-.7s6.7-4 9.9-6.6s6.6-5.5 9.2-9.1s5.8-8.3 6.5-12.3s-2.8-8.5-2.5-11.6s3.3-5.9 4-7M275 499.7c-1.4 .1-5.4 .6-8 .5s-5-.4-7.6-.7s-5.3-.3-8.1-.7s-5.9-2.1-8.9-1.6s-5.1 3.3-8.6 4.8s-8.7 2.3-12.3 4.6s-6.2 6.9-9.4 9.8s-7 4.8-10.2 7.2s-6.4 4.8-9.3 6.8s-5.7 3.3-8.1 5.4s-3.8 5.4-6.4 7.3s-7.7 3-9.2 3.6M227.2 552.7c-.6 1.3-1.9 5.8-3.6 8s-4.2 3.5-6.3 5.1s-4.7 3.9-6.6 4.6s-3-.8-5.1-.4s-5.9 1.5-7.8 2.4s-3.2 2.7-3.8 3.2M262.8 778.6c1.5-.1 4.7 .1 8.7-.5s11.4-2.1 15.6-3.2s5.3-3 9.6-3.7s10.5 0 16.1-.6s11.9-1.1 17.6-3.2s11-6 16.5-9.5s12.5-6.6 16.7-11.2s7-13.8 8.4-16.6M390.9 702.2c1.4-2.3 6.1-8.1 8.4-14s4.1-14.3 5.6-21.2s2.8-13.2 3.2-19.8s-.5-13.7-1-19.5s-1.7-9.1-2.2-15.5s.7-15.8-.7-22.6s-4.6-11.7-7.6-18.4s-6.1-13.4-10.7-21.8s-10.5-20.9-17-28.8s-14.8-12.8-21.8-18.4s-13.3-10.1-20.5-15.2s-15.2-12.7-22.3-15.6s-17.1-1.7-20.5-2M152.6 545c-1.5 1.3-7.3 5.2-8.9 8.1s.8 6.3-.7 9.5s-6.8 5.4-8.3 9.7s.5 11.4-.5 16.1s-4.7 7.6-5.4 12s1.5 9.6 1.5 14.2s-1.3 8.8-1.6 13.6s-.6 9.6-.6 15.4s-.2 12.9 .5 19.3s2 13.5 3.8 19.1s6.1 12.3 7.3 14.7" stroke-opacity="0.2" stroke-width="1.2"/>
<path d="M137.6 727.9c.7 2.8 1.4 11.9 4 16.8s7.1 8.5 11.7 12.7s10.1 9.2 16 12.4s13.3 4.6 19.3 7s11 6.3 16.8 7.2s12.3-2.7 18.1-2.1s11.8 3.3 16.4 5.7s7.6 6.4 11 8.6s6.7 3.6 9.5 4.5s3.8 .8 7.3 .4s8.7-2.2 13.8-3.3s11.1-2.1 16.6-3.1s10.4-2.4 16.6-3s13.6 1.3 20.5-.5s14.6-5.6 20.9-9.9s14.2-13.2 17.1-15.9M341.1 595.7c-.7-1.7-2.4-5.8-4.1-10s-2.6-11.2-6.1-15.3s-10.3-6.1-14.5-9.2s-6.8-6.5-10.3-9.3s-6.6-4.5-10.5-7.4s-9.2-7.6-13-9.4s-7.3-1.8-10-1.3s-4.2 3.2-6.4 3.9s-6.1 0-7.3 0M166.1 612c-.1 1.9-.4 7.8-.6 11.2s-.8 6-.3 9.6s2.7 7.6 3.2 11.9s-1 10.2 .2 14.1s5 5.9 6.8 8.9s3.5 6.4 4.4 9.4s1 5.2 1.1 8.4s-1.8 7.3-.7 10.8s4.6 7.5 6.8 10.5s3.9 4.8 6.2 8s4.6 8.3 8 11.3s7.9 4.9 12.4 6.4s11.9 2 14.3 2.4M142.2 717.4c.6 2.1 2.4 7.6 3.6 12.6s.7 12.7 3.5 17.2s9.1 5.9 13.4 9.8s7.8 8.6 12.5 13.4s10.5 11.3 15.8 15.2s10.1 7.5 16.1 8.2s14.2-4 19.9-4.3s9.9 1.5 14.1 2.3s9.4 1.7 11.2 2.1M176.3 606.3c-.2 1.4-1.4 5.6-1 8.3s2.6 5.3 3.6 8.1s1.5 5.6 2.4 8.8s1.6 7 2.7 10.5s2.8 7.6 3.7 10.8s1.2 6 2 8.4s3 2.9 2.8 6s-2.9 10.4-3.5 12.5M248.2 744.2c1.5 1.1 6.8 6.1 9.1 6.9s2.8-1.9 4.9-2.2s4.5 .5 8.1-.1s10-2.4 13.5-3.6s3.7-3.3 7.8-3.9s12.1 1.7 17 .2s8-5.8 12.4-8.7s10.5-4.1 14.4-8.2s7.6-11 9.3-16.1s.6-12.2 .7-14.6M168.5 615.3c-.2 1.6-.6 5.9-1 9.4s-1.5 7.3-1 11.4s3 8.6 4.1 13s1.1 10 2.5 13.8s4.5 6 5.9 9.1s1.4 6.1 2.3 9.3s2.1 6.3 3 9.7s1.2 7.3 2.7 10.8s5.2 8.4 6.3 10.1M251.1 744.7c1.4 0 5.8-.6 8.1 .2s3.6 3.8 6.2 4.7s6-.2 9.3 .4s6.7 3.5 10.6 3.2s7.9-4.6 13.1-5.1s12.9 2.6 18.2 1.7s8.7-3.8 13.5-6.7s12-6.1 15.6-10.8s4.4-11.5 6-17.1s1.6-12.5 3.2-16.9s3.9-5.9 5.9-9.2s5.3-5.8 6.1-10.4s-.8-13.9-1-16.7M327.7 756.3c2.4-2.2 9.8-8.9 14.3-13.3s10-8 12.7-13.2s2.5-12.4 3.4-18s1.4-11.2 2.3-16s2-9.1 3.5-12.7s3.8-4.7 5.4-8.7s2.8-9.7 3.9-15.2s1.7-12.9 2.4-17.8s2-6.8 1.6-11.3s-3.1-10.4-4.1-15.5s-1.4-12.8-1.6-15.3M323.5 617.9c-.4-1.7-1.8-7.1-2.4-10.3s0-6.4-1.3-9.1s-3.6-4-6.1-7s-5.6-7.6-8.6-10.7s-6.5-5.5-9-7.9s-3.4-5.3-6.2-6.6s-7.3-.5-10.4-1.5s-6.2-4.2-8.6-4.4s-4.2 2.2-5.8 3.2s-2.9 2.7-4 3.1s-1.9-.8-2.8-.7s-1.6 1.2-2.8 1.2s-3.8-1.3-4.6-1.5M278.2 758.6c1.8-.7 7.2-3.9 11.3-4.5s8.3 1.5 13 1s10.3-1.8 15.4-4s10.4-5.5 15.2-9.2s10.1-8.2 13.2-13s3.9-10.7 5.3-15.7s2.1-10.2 3.3-14.1s2.1-6.7 4.1-9.7s5.5-4.5 8-7.9s4.6-7.9 6.6-12.5s4.2-10.1 5.4-15.4s1.3-11.5 1.7-16.3s1-7.7 1-12.7s0-12-.8-17.1s-2.2-8.7-3.5-13.8s-3.8-13.8-4.5-16.5" stroke-opacity="0.1" stroke-width="1.2"/>
<path d="M110.8 670.6c1 3 3.5 12.6 6 18.2s6.8 10.8 9 15.5s3.8 7.7 4 12.6s-2.4 11.1-2.3 16.6s1.2 10.9 2.8 16.5s2.9 12.4 6.7 17.2s13.3 9.9 16 11.9M259.7 535.8c-1-.1-4.1-1-6-.3s-2.9 2.8-5.1 4.3s-5.4 2.9-8.2 4.3s-5.8 2.7-8.4 4.2s-4.7 2.4-7 4.5s-5.5 6.7-6.6 8M355.8 497c-3.4-2.4-13.5-9.9-20.7-14.3s-14.5-9.6-22.3-12.4s-17.6-4-24.1-4.1s-10.8 2.8-14.9 3.4s-6.8 .9-10.1-.1s-5.8-4.7-9.5-5.7s-10.4-.3-12.5-.4M274.9 685.9c.7-.5 2.2-2.6 4.2-3.4s4.8-.8 7.6-1.6s6.7-1.5 8.9-3s3.2-3.9 4.6-6s2.4-4.9 3.4-7s1.9-3.9 2.7-5.7s1.3-3.5 1.9-5.1s1.5-3.6 1.8-4.4M213.4 497.2c-2.1 1.2-9 5-12.9 7.7s-7.2 5.5-10.9 8.3s-7.9 5.4-11.1 8.2s-4.6 6.7-7.6 8.8s-7.2 1.9-10.3 4.2s-5.9 7.1-7.8 9.8s-2.1 3.7-3.6 6.4s-4.6 6.7-5.5 10s1 6.3 .1 10s-4.1 8-5.8 12.3s-3 9-4.2 13.8s-2.8 12.8-3.3 15.4M306.4 584.2c-1-1.9-3.7-8.4-6.1-11.3s-5.7-4.5-8.4-6.4s-5.2-4-8.1-5.1s-6.9-1.2-9.6-1.7s-4.5-2.1-6.3-1.6s-3.4 4.6-4.9 5s-3-2-4.1-2.6s-1.1-1.1-2.4-1.2s-3.2 1.2-5.2 1s-4.4-2.5-6.7-2.3s-5 2.7-7 3.6s-4.3 1.6-5.2 2M173.7 566.9c-1.2 1.1-5.7 3.7-7 6.6s0 7.2-.5 10.5s-2.1 6.2-2.3 9.4s.8 6.6 .9 10.1s-.6 7.4-.3 11.2s1.4 7.4 2.1 11.5s.9 8.4 1.7 12.6s2.6 10.6 3.1 12.7M396.8 631.4c.3-2.7 1.8-10.4 1.9-16.3s.2-12.8-.9-19.3s-3-13.2-5.2-20s-3.1-14.3-8.2-21.1s-15.2-13.5-22-19.9s-12.7-12.9-19-18.4s-12.3-10.3-18.8-14.5s-13.4-8.2-20.2-10.7s-15.1-3.5-20.5-4.2s-8.3 .1-11.9-.2s-6.4-.2-9.7-1.3s-7-4.8-10.2-5.5s-5.7 .8-9 1.3s-6.3 .4-10.4 1.7s-9.4 3.6-13.8 6s-10.6 6.6-12.8 7.9M254 499.5c-1.3 .2-5.1 .8-7.8 1.1s-4.6 .2-7.9 .6s-7.6 .4-11.8 2.1s-9.4 5.7-13 8.1s-5.4 4.5-8.6 6.8s-7 4.9-10.4 7s-7.1 3-9.7 5.3s-3.2 6.5-5.4 8.9s-5.8 4.1-8.1 5.8s-3.8 2.4-5.8 4.6s-5.1 5.8-6.3 8.5s-1.1 6.8-1.3 8.2M222.2 530.2c-1.2 .7-4.7 2.2-7.1 4.3s-5.4 6-7.6 8.4s-4 3.7-5.8 6s-2.9 6.6-5.1 8s-5.3-.1-8.2 .5s-7.4 1.7-8.9 3.2s.4 3.4-.1 5.8s-1.8 6.4-2.8 8.9s-2 3.3-3 5.8s-1.8 6.2-3 9s-3.7 6.6-4.5 8M179 507.7c-1.5 1.7-6.3 6.9-9.1 10.3s-4.2 7.3-7.3 9.8s-8.3 3.1-10.9 5.1s-2.9 4.3-4.8 7s-5 5.5-6.7 8.8s-1.9 7.5-3.8 10.9s-6.7 5.9-7.2 9.8s3.6 8.5 3.7 13.3s-2.7 10.4-3.3 15.2s-.1 9.6-.2 13.9s-.8 7.4-.8 11.8s.5 8.9 .9 14.8s.6 14.1 1.4 20.5s1.1 12.2 3.2 17.6s7.5 10.2 9.5 14.4s2 9.2 2.4 11M333.5 509.7c-3.2-1.5-12.3-5.9-19.1-8.8s-15.3-7-21.8-8.5s-12.8-.3-17.1-.1s-6.4 1.3-9.2 1.4s-4.5-.4-7.6-.8s-8.1-1.2-11.3-1.8s-4.3-2-8-1.6s-12 3.2-14.3 3.8M246.4 498.8c-1.9-.5-7.2-3.2-11.2-2.8s-8.6 3.7-12.9 5.3s-9.4 2.2-13.3 4.1s-7 4.6-10.3 7.4s-5.9 6.9-9.3 9.8s-8.4 5.7-11.4 8s-2.8 4.7-6.2 5.9s-10 .2-13.9 1.5s-7.1 3.8-9.1 6.5s-1.4 6.7-2.4 10.2s-2.4 7.2-3.7 10.8s-3.5 6.6-4.3 10.6s-.7 10.9-.8 13.1M149.9 701.3c-.2 2.3-1.5 9-1.1 13.4s1.4 8.8 3.8 13.2s7.2 8.7 10.6 13.1s6 9 10.2 13s9.5 7.9 14.7 11.2s11.2 6.7 16.4 8.6s9.6 1.5 15 2.3s12.2 1.4 17.2 2.9s8.9 4.2 12.6 5.8s7.2 3.9 9.8 4.1s3.4-2.3 6.3-2.6s6.6 2 11.1 1.2s10.9-4.3 15.8-5.9s7.9-2.3 13.4-3.2s13.7-.7 19.8-2.4s13.9-6.7 16.7-8M203.5 479.3c-2.5 .9-10.5 2.8-14.7 5.5s-7.1 7-10.6 10.8s-7.1 8.3-9.9 11.8s-3.6 6.8-7.2 9.4s-10.6 4-14.6 6s-7.2 3.9-9.7 6s-3.9 3.6-4.9 6.7s-.4 8.1-1.2 12.3s-2.4 8.7-3.5 12.8s-2 7.4-3.2 12.1s-3.3 11.1-4.2 16.2s-1.3 12.2-1.5 14.6M165.2 761c3.1 1.9 12.6 8.6 18.5 11.3s10.7 3.6 16.5 4.9s12.5 1.6 18.3 2.7s11.9 2.4 16.6 3.8s8.1 4 11.9 4.6s8.6-1.4 11.4-.8s2.6 3.1 5.4 4.2s6.5 3.6 11.1 2.8s11.5-5.5 16.4-7.9s8-4.2 12.9-6.3s10.4-4.1 16-6.2s14.9-5.2 17.8-6.3M133.7 576.6c-.5 2.6-1.8 10.9-2.9 15.5s-2.7 7.8-3.5 12.3s-.4 9.9-.8 14.8s-1.1 9.6-1.2 14.8s.3 10.2 .7 16.4s.3 14.3 1.4 20.9s3.3 14 5.4 19.2s6 7.5 7 11.8s-1.3 8.7-1.2 14.1s.9 13.1 2.1 18.7s3.1 9.5 5.6 15s5.8 12.8 9.6 18.2s7.7 9.8 13.6 14.1s14.6 9.3 21.4 11.5s13 .4 19.5 1.1s16.1 3 19.3 3.6M230.6 775.2c2.5 .1 11.3-.4 15.2 .8s5.6 4.9 8.1 6s4.6 .9 7.2 .7s4.6-2.3 8-2.3s8.8 3 12.7 2.7s6.8-2.9 10.9-4.8s11.7-5.6 14-6.7M253.7 724.8c1 .3 4.3 2 5.9 1.6s1.9-2.7 3.6-3.7s3.8-1.2 6.4-1.9s6.8-2 9.6-2.2s4.1 1.3 7 1s6.4-1.1 10-2.6s7.6-4.5 11.5-5.9s10.1-2 12.1-2.5M134.1 533.7c-1 1.5-4.4 5.3-5.9 8.7s-1.7 7.5-2.9 11.6s-2.3 8-4.1 13s-5.4 11.6-6.7 16.9s-.5 10.2-1.1 15.1s-1.9 9-2.6 14.1s-2.1 11.1-1.6 16.5s3.1 10 4.9 16.1s3.2 14.2 5.5 20.4s6.3 11 8.4 16.9s2.7 14.2 4.6 19s6.3 5.6 6.7 9.7s-3.9 9.3-4.4 14.8s1.1 15.3 1.3 18.3M165.4 615.4c0 2.2 0 9.5-.2 13.2s-.9 5.1-.6 9.2s2.2 10.6 2.7 15.5s-1.1 10 .2 13.6s4.8 5.8 7.1 8s5.2 4.3 6.2 5.2M277.6 541.1c-1.5 0-6.8-.3-8.9 0s-2.2 1.5-3.9 1.8s-4.4-.2-6.3-.1s-3.2 .8-5.1 .9s-3.7 .1-6.2-.2s-7.4-1.1-8.9-1.4M233.9 776.8c2.1 1.2 9 5.8 12.9 7.5s7.6 2.2 10.6 3.1s4.5 1.6 7.4 2.7s5.4 3.5 9.9 3.9s12.5-.1 17.1-1.6s4.8-6.7 10.5-7.6s16.3 2.3 24.1 2.3s16.4 1.1 22.7-2.3s10.4-12.5 15.3-18.3s10.9-10.3 13.8-16.7s3.1-15.3 3.7-21.9s-1.5-13 .1-17.7s7.7-8.7 9.3-10.4M254.3 543.6c-1.2 .6-4.4 2.8-6.8 3.5s-5.5 .1-7.5 1.1s-2.9 3.5-4.9 5.2s-4.7 3.6-6.9 4.9s-4.2 1.5-6.6 2.9s-6 3.9-7.9 5.4s-1.6 3.2-3.8 3.9s-6.8-.6-9.1 .3s-3.3 3.3-4.3 4.6s-.9 1.2-1.8 3s-2.9 5.7-3.7 8.2s-.1 4.6-1 6.7s-3.7 3.8-4.1 6.3s1 5.8 1.5 8.6s1.1 5.5 1.4 8.2s.1 6.9 .1 8.3M226.8 585.3c-.2 .5-.3 2.1-1 3.1s-2.6 2-3.2 2.9s-.4 1.4-.6 2.5s-.3 3.4-.7 4.4s-1.2 .6-1.6 1.9s-1.1 3.8-1.1 6s1.2 5.6 .6 7.1s-3.4 .3-4.3 1.6s-.3 4.3-.6 6.1s-1 4-1.2 4.8M311.9 624.8c-.6-.6-2.3-1.8-3.3-3.6s-2.5-5.4-3.1-7.6s1.1-3.9 0-5.8s-5.4-3.8-6.9-6s-.4-5.1-1.9-7.3s-5.1-4.3-7.3-6.3s-3.6-4.3-5.6-5.7s-4.6-1.8-6.5-3.1s-2.9-4-4.9-4.7s-5.6 .1-7.2 .4s-1.3 .9-2 1.2s-1.1 1-2.2 .6s-3.6-2.4-4.3-2.9M199.4 577c-.7 .8-2.5 3.1-4 4.7s-3.7 2.9-5.2 5s-2.9 5.2-3.7 7.8s-.9 5.2-1.1 7.6s.5 4.2-.2 6.8s-3.8 5.7-4.4 8.7s.5 6 .6 9.2s.2 7 0 10.5s-1.1 6.8-1.1 10.7s.5 9.1 1.5 12.8s3.6 8.2 4.3 9.9M155.3 619.6c-.1 1.9-.8 7.5-.5 11.7s1.8 8.6 2.2 13.4s-.4 10.1 .5 15.4s2.9 11.6 4.8 15.9s4.8 6.3 6.2 9.4s1.1 5.3 1.9 8.6s.9 7.4 2.7 11.6s5.5 9.6 8.4 13.2s5.9 5.5 9.2 8.4s6.5 6.6 10.9 9s10.2 5.4 15.4 5.5s13-4 15.6-4.8M168.5 580.5c-.5 1.6-2.6 5.4-3.1 9.3s-.8 9.9 0 13.7s4.5 5.3 4.8 8.6s-1.9 7.7-2.6 11.3s-1.8 6.4-1.7 9.9s2.1 9.6 2.5 11.5M322.2 671.9c.4-.7 1.4-2.6 2.7-4.7s3.2-5.6 5.2-7.8s5.8-3 7.1-5.9s.7-7.7 .8-11.4s.4-8.2 .2-11.3s-1.4-4.2-1.6-7.2s.9-8 .6-11.3s-1.2-5.5-2.6-8.7s-4.4-6.7-6.3-10.3s-1.9-7.5-4.7-11.2s-7.9-7.6-11.8-10.6s-9.7-6-11.7-7.2M199.3 729.2c2 .9 7.5 4.4 12 5.4s10-.2 14.6 .1s9.6 0 13.5 1.6s7.1 7.3 10.1 7.9s5.4-4 7.4-4.4s2.5 2.1 4.6 2.2s4.7-1 8.2-1.5s9.5-.9 13.3-1.6s5.3-2.2 9.5-2.8s10.4 .7 15.5-.5s11.2-3.5 15.4-6.6s6.2-7.8 9.6-11.8s7.8-8.7 10.6-12.2s5.2-5.2 6.6-8.7s.4-9.3 1.9-12.3s6.1-4.9 7.3-5.8M214.3 669.3c1.1 .8 4.5 2.4 6.4 4.6s3.2 6.4 5.1 8.5s3.9 4.1 6.3 4s5.5-4.1 7.8-4.4s3.6 1.6 5.6 2.7s3.8 2.9 6 3.8s6.1 1.5 7.3 1.8M242.9 548.8c-.8 .3-3.4 .4-4.9 2.2s-2.6 6.5-4.5 8.3s-4.5 1.2-6.8 2.7s-5 4.4-6.8 5.9s-2.5 1.4-3.9 2.9s-3.1 4.8-4.4 6s-2.2 .9-3.8 1.1s-4.3-1-5.8 0s-2.9 3.5-3.5 5.7s-.2 5-.1 7.6s1.5 5.2 .7 7.4s-4.4 3.7-5.3 6s.6 5.4-.2 8s-3.4 5.1-4.2 7.5s-.9 4-.6 6.8s1.8 8.2 2.2 9.9M233.9 527.5c-1.3 .8-5 3.1-7.9 4.7s-6.9 2.4-9.6 4.9s-3.8 7.8-6.6 10.3s-7.1 3-9.9 4.4s-4.2 2.7-6.9 3.8s-6.4 1.9-9.2 3.1s-6.6 2.7-7.8 4.5s1.2 3.6 .7 5.9s-3.3 4.8-3.9 7.9s.1 8.9 .2 10.7M294 678.1c1.3-.7 5.6-2.4 7.6-4.1s2.9-3.9 4.3-6.3s3.3-5.4 4-7.9s.2-4.8 .7-7s2-4.1 2.4-5.7s-.2-1.7 .3-3.8s2.5-6.7 2.7-9.2s-1.2-3.8-1.4-6s.4-5.8 .5-7M365.9 651.9c.2-2.2 .7-8.6 1.1-12.8s1.1-8.5 1.2-12.5s0-7.7-.6-11.6s-1.9-7.8-2.5-12.1s.2-8.9-.9-13.7s-4.8-12.6-5.7-15.1M346.6 599.3c-.5-2.3-1.3-9-3.1-13.6s-4.3-9.4-7.7-14s-8.2-10-12.3-13.8s-8-6.5-12-9.3s-8-5.4-12.1-7.7s-10.3-4.9-12.4-5.9M272.2 702.9c.9-.9 3-4 5.3-5s5.7-.7 8.4-1.1s5.3-.3 8-1.3s5.5-2 8.1-4.6s5.9-7.8 7.7-11.2s1.6-6.3 2.7-9s3.1-5.5 4-7.7s1.1-3.7 1.5-5.7s.4-3.7 .9-6.1s1.4-5.2 2-8.1s1.1-6.3 1.3-9.3s-.7-6.2-.2-8.4s2.5-2.1 2.7-4.6s-.9-7.4-1.7-10.3s-1.7-5-3.1-7.7s-4.3-7-5.1-8.3M169.2 534.8c-1.7 .6-7.2 2.4-10.6 3.5s-7.9 .7-9.7 3.2s-.5 7.8-1.1 11.4s-2 6.7-2.2 10.5s1.4 8.1 1 12.3s-2.4 8.6-3.3 12.8s-1.1 7.8-1.9 12.3s-2.2 10-2.8 14.9s-.1 9.6-.4 14.3s-1.4 8.3-1.6 14.1s-1.1 14.2 0 20.5s4.6 12.1 6.7 17.1s3.2 9.2 5.4 12.6s6.5 6.8 7.8 8.2M326.2 580.9c-1-2.2-2.6-9.7-5.7-13.3s-9.5-5.1-13.2-7.9s-5.6-7.6-9.4-9.3s-10 .2-13.7-1s-6-4.8-8.5-6.4s-5.4-2.4-6.5-2.9" stroke-opacity="0.2" stroke-width="2.4"/>
<path d="M319.8 564.7c-1.7-1.7-6.3-7.2-10.2-10.5s-9.1-6.9-13.3-9.3s-8.4-3.8-12.2-4.9s-8.6-1.3-11.2-1.8s-2.6-1.1-4.5-.8s-5 2.5-7.1 2.6s-3.6-1.3-5.8-2s-5.3-1.8-7.7-1.9s-4.2 0-6.8 1.3s-7.1 5.2-8.5 6.2M193.2 560.6c-1.2 .6-5 2.1-7.1 3.5s-3.2 3.5-5 5s-4.6 1.8-5.5 4s1.1 6 0 9.3s-4.8 7.3-6.5 10.7s-3.5 6.3-3.7 9.5s1.7 6.3 2.5 9.8s1.6 7.4 2.2 10.8s1.4 5.4 1.3 9.7s-2.1 11.3-1.6 16s2.4 8.5 4.7 12.2s7.9 8.1 9.5 9.8M256.8 554.8c-.7-.2-3-1.1-4.5-.9s-2.4 1.3-4.5 2.1s-5.9 2.1-8.1 2.6s-2.8-.6-4.9 .4s-6.1 4-7.9 5.3s-1.2 1.3-3.1 2.3s-6.3 2.3-8.5 3.3s-3.4 1.6-4.8 2.6s-2 2.8-3.4 3.7s-3.6 .8-5.3 1.8s-3.5 2.5-4.7 4s-2 3-2.7 4.8s-1.3 3.5-1.5 5.8s.9 5 .4 7.6s-3.2 5.2-3.4 8.1s2 7.6 2.3 9.1M412.3 635.4c-.5-3-1.6-11.9-3-17.9s-3-12.1-5-18.5s-4.2-12.8-6.9-19.5s-6.1-13.2-9.4-20.8s-5.2-16.7-10.3-24.6s-13.2-16.4-20.2-23.1s-15.4-11.6-21.9-16.8s-10-10-16.8-14.2s-17.8-9.3-24.1-10.8s-11.8 1.5-14.2 1.8M192.3 564.7c-.7 .4-2.7 1.3-4.2 2.3s-3.8 1.9-5.1 3.7s-2.1 5-2.4 7.5s1.4 4.7 .4 7.4s-4.5 5.8-6.3 8.5s-3.5 5.1-4.3 7.9s0 5.9-.4 9.4s-1.8 8.2-2.1 11.5s.6 4.8 .6 8.3s-1.1 8.4-.6 12.9s2.6 11.6 3.1 13.9M167.2 521.1c-1 1.6-3.8 6.9-6.2 9.6s-6.7 3.9-8.7 6.2s-1.9 5-3.6 7.7s-4.6 5.4-6.5 8.5s-3.5 6-5 10s-3.5 9.2-3.9 14s1.8 10 1.4 15.2s-3 11.1-3.7 15.8s-.1 10.4-.1 12.5M330 533c-2.5-2.2-9.5-9.3-14.6-12.9s-11-6.2-16.2-9.2s-10.5-7.1-15-8.8s-8.8-1.5-11.9-1.2s-4.5 3.3-7 3.4s-5.7-2.5-8.2-2.6s-4.1 1.5-6.9 2.1s-6.4 1.3-9.7 1.6s-8.7 .2-10.5 .2M259.8 687c.5-.1 1.8-.3 3-.6s2.5-.4 4.1-.7s3-1.2 5.1-1.5s4.5-.1 6.9 .1s5.6 2 7.7 .9s3.1-5.3 5.2-7.1s6.1-1.3 7.8-3.6s1.8-7.4 2.7-10.1s2.1-4 2.7-6.2s-.7-5.8 .6-7s6 .8 7.2-.3s.1-4.2-.3-6.7s-1.9-5.9-1.7-8.5s2.9-5 3.1-7.3s-1.5-4.5-1.7-6.6s.6-5 .8-6M160.2 673c1.3 1.6 6.6 6.9 8 10s-.2 5.6 .4 8.6s2.4 6.1 3.7 9.2s1.6 6.5 3.8 9.5s5.4 5.5 8.8 8.4s8.3 6 12 9.2s5.8 8 10 9.9s10.9 1.3 15.4 1.6s7.9 .4 12.1 .4s10.1-1.6 13.4-.5s4.3 6.3 6.5 6.9s5.7-2.6 6.9-3.1M197.7 585.6c-.1 .6-.2 1.7-.3 3.6s.1 5.4-.3 8s-1.5 5.1-2.1 7.6s-.9 5.2-1.4 7.5s-1.3 3.4-2 6s-2.6 6.6-2.5 10s2.8 7.2 3.1 10.3s-1.5 5.2-1.4 8.6s1.4 8.7 2.1 11.9s1.5 5 2.4 7s2.8 2.5 3.3 4.8s-1 6.6-.4 9.5s2.6 4.9 4.3 8.2s3.7 8.9 6.3 11.4s6.3 2.6 9.4 4s7.9 3.5 9.5 4.2M180.9 519.8c-1.4 1.3-5.3 5.4-8.1 8.3s-5.9 6.3-9 8.5s-7.6 3-9.7 4.8s-1.9 3.1-3.1 5.9s-2.5 7.6-4.1 11.1s-4.1 6.7-5.6 10.4s-2.3 7-3.1 11.4s-.4 10.3-1.6 15s-4.9 8.7-6 13.3s-1.2 9.5-1 14.1s1.5 8.6 2.1 13.9s.7 12 1.7 18.2s1.6 13.7 4.3 19.5s9.2 11.5 12.2 15.2s5.4 3.3 5.7 7.3s-3.5 14-4.2 16.8M213.5 730.5c2.1 .7 8.2 3.8 12.7 4.1s10.2-3.3 14.1-2.4s6.2 6.1 9.1 7.7s6.4 1.4 8.5 2.3s2.5 3.2 4.3 3s3.4-4 6.6-4.2s8.9 3.5 12.2 3s6.5-5.1 7.7-6.2M183 637.8c.5 1.7 2.4 6.7 3.1 10.2s-.1 7.5 1.1 10.4s5 4.9 6.3 7.3s.9 4.4 1.5 6.7s1.6 4.5 1.9 7.1s-.7 5.7 .2 8.7s3.3 6.6 5.1 9.6s3.1 5.6 5.5 8.6s5.6 6.6 8.6 9.2s5.8 5.6 9.4 6.6s8.6-1.1 12.4-.7s8.9 2.4 10.7 2.8M362 555.9c-2.2-3.3-8.4-14.2-13.3-19.9s-10.6-9.8-16.3-14.3s-12.3-10.2-17.9-13.2s-10.5-3.6-15.8-5.2s-12-3.4-16.4-4.4s-6.6-2.3-9.9-1.8s-8.5 3.9-10.2 4.7M323.7 531.9c-1.6-2.2-6-9-10-13s-8.7-8.7-13.9-11.1s-12.4-3-17-3.2s-7.5 2.6-10.6 2.5s-5.7-2.3-7.8-2.9s-4.3-1-5.1-1.2M256 560.7c-1-.1-4-1.3-6-1s-4 2.7-6.1 3.1s-4.8-1.3-6.8-.8s-3.9 2.7-5.5 4.1s-3 2.8-4.1 4.5s-1.8 4-2.9 5.6s-2.2 3.2-3.6 4.1s-3.6 .1-4.9 .8s-2.2 2.3-2.7 3.6s-.4 3.4-.4 4M239 478.1c-2 .2-7.7-.6-11.9 1.3s-9 6.5-13 9.9s-6.8 7.1-10.6 10.5s-8.6 6.2-12.1 9.8s-5.8 8.4-9.1 11.8s-7.5 6.6-10.4 9.1s-4.4 3.9-7.1 5.6s-6.3 2.1-9.2 4.2s-6.6 5.1-8.4 7.9s-1.5 5.5-2.3 8.9s-1.5 7.3-2.5 11.5s-2.7 8.9-3.1 13.7s.7 12.4 .8 14.9M359.4 591.5c-1.4-2.4-5.2-9.9-8.4-14.5s-7.1-8.1-11-13.1s-8.1-12.5-12.6-16.7s-9.6-5.8-14.5-8.9s-10.1-7-15.1-9.7s-12.1-5.3-14.5-6.4M235.9 477.2c-1.8 .4-7.3 .8-10.9 2.6s-6.7 6.2-11.1 8.6s-11.1 3-15.3 5.6s-6.8 6.3-10 9.9s-6.7 7.7-9.3 11.3s-3.6 7.8-6.5 10.3s-7 3.1-10.8 4.8s-9.1 4.2-11.8 5.9s-2 2.5-4.3 4.4s-7 3.9-9.6 6.8s-4.2 7.2-5.5 10.9s-1.7 7.2-2.2 11.7s-.9 12.9-1.1 15.5M176.2 711.1c1.4 2 5.5 7.8 8.2 12.2s4.5 10.9 8.3 14.1s10 3.5 14.7 5.3s8.3 4.7 13.2 5.3s11.4-2.2 16-1.9s7.7 2 11.5 3.5s8.8 4.8 11 5.5s.8 .1 2.2-1s3.2-4.6 6.7-6.1s10.4-1.8 14.4-3.3s5.4-4.7 9.4-5.7s10.1 .7 14.7-.4s7.6-4.3 12.5-6s12.9-.8 17.2-4.2s6.7-10.7 8.6-15.9s2.4-12.9 2.9-15.4M279.5 564.3c-1.3-.6-5.8-2.9-8.2-3.3s-4 .1-5.9 .5s-4.1 1.4-5.5 1.8s-1.9 0-2.9 .6s-1.5 2-2.8 2.9s-3.8 1.2-4.9 2.1s-.2 2.4-1.6 3s-4.3 .2-6.7 .4s-6.3-.4-7.9 .6s-.3 3.7-1.4 5.4s-3.9 3.6-5.3 4.6s-2 1.3-3.3 1.9s-2.9 .9-4.1 1.6s-2.5 1.5-3 2.5s1 2.6 .5 3.7s-2.6 2.5-3.1 3M374.2 682.3c1.2-2.4 5-9.3 6.8-14.5s3.7-11 4.3-16.7s-.6-13.2-.8-17.9s.5-5.4 0-10.7s-2.3-14.7-3.4-20.9s-2.5-13.2-3-15.8M312.6 519.2c-2.4-1.1-9.6-4.9-14.5-7s-10.7-5.1-15-5.6s-8.1 1.9-11 2.4s-4.5-.2-6.8 .2s-4.8 2.6-7.2 2s-6.1-4.7-7.3-5.6M225.6 559.8c-1 1.1-4.2 5.2-6.2 6.6s-4.2 .7-5.5 1.9s-.8 3.8-1.8 5.4s-3.3 2.7-4.4 4.1s-1.6 3.2-2.6 4.4s-2.2 1.9-3.3 3s-2.9 1.7-3.8 3.5s-1.2 5.1-2.1 7.1s-2.6 2.7-3.4 5.1s-1.2 6.7-1.3 9s.4 2.7 .9 4.7s2 5.9 2.4 7.1" stroke-opacity="0.3" stroke-width="2.4"/>
<path d="M250.4 520.9c-1.1-.1-4-1.4-6.5-.6s-5.8 3.1-8.7 5.2s-6 5.4-8.7 7.3s-4.9 2.9-7.7 4s-6.6 1.1-9.2 2.9s-4.1 5.4-6.6 7.7s-6.1 4.5-8.4 6.4s-3.9 3.1-5.2 4.9s-1.2 4-2.8 5.9s-4.9 4.2-6.7 5.8s-3 2.1-3.9 4.3s.1 6.1-1.1 9s-4.3 5-5.8 8.4s-3 10.1-3.6 12.1M154 537.5c-.5 1.3-1.6 5.9-3.2 8.2s-4.3 3.5-6.3 6s-3.9 5.6-5.4 9.1s-3.4 7.6-3.6 11.9s2.5 9 1.9 13.8s-4.3 10.5-5.3 15.2s-.6 8.7-.8 12.9s-.1 8.1-.2 12.6s-1.3 9.4-.6 14.6s2.9 11 4.9 16.6s5 11.4 7 16.9s2.7 11.6 4.7 15.8s6.5 5.6 7.1 9.5s-3 11.7-3.6 14M388.6 725.3c.4-2.8 .3-12.3 2.1-16.9s5.9-5.9 8.7-10.6s5.9-11.1 7.8-17.6s4-14.1 3.8-20.8s-4.5-13.6-5.3-19.7s.8-11.2 .8-16.9s-.2-10.4-1.1-17s-2.9-16.1-4.6-22.8s-1.8-10.8-5.5-17.5s-11.6-15-17-22.5s-9.3-16.5-15.6-22.7s-14.9-9.7-22-14.5s-12.8-10.6-20.2-14.3s-17.5-6.4-24.2-8s-11.3-2.1-16-1.3s-10.3 5.3-12.4 6.4M350.3 582.2c-1.9-2.6-7.1-10.9-11.5-15.8s-10.5-8.9-14.6-13.6s-6-9.5-10-14.1s-8.9-10.1-13.9-13.4s-11.8-5.1-16.5-6.1s-8.1-.9-11.2 .1s-5 5.4-7.3 6.4s-4.3-.2-6.8-.3s-5.7 .4-8.2-.2s-3.8-3.1-6.6-3.5s-7.1-.4-10.4 .7s-6.4 4.4-9.4 6.1s-6.2 1.9-8.7 3.9s-5.1 6.7-6.1 8M142.3 596.9c-.4 1.9-2.3 7.5-2.5 11.4s1.4 8.1 1.2 12.5s-2.4 9-2.5 14s.1 10.1 1.7 15.6s5.1 12.1 7.6 17.6s4.7 11.4 7 15.1s5.4 3.7 6.7 6.8s.1 8.6 1.4 12.2s4.4 6.1 6.7 9.5s6.2 9.2 7.4 11M163.9 662.9c1.4 2.3 6.3 10.7 8.2 14s3.4 2.7 3.5 5.8s-2.8 8.6-3.1 13.1s.3 9.4 1.6 13.8s3.4 8.2 5.9 12.6s6.1 9.2 9.4 13.5s5.8 10 10.2 12.2s10.8 .9 16.2 1.2s11.7-.1 16.4 .6s7.8 1.7 11.4 3.1s7.6 3.9 10.3 5.6s3.8 4.1 5.8 4.4s3.4-1 6.4-2.7s7.4-5.7 11.5-7.4s11.1-2.5 13.3-3M293.6 534c-2.5-.9-10.9-4.2-15.2-5.2s-8.5-.3-10.7-.9s-.4-1.8-2.1-2.4s-6-.9-8.5-1.2s-4.3-.1-6.6-.6s-4.6-2.4-7.4-2.3s-7 1.5-9.8 2.6s-4.3 2.5-7 4.4s-6.7 4.6-9.6 7.2s-5.1 6.5-7.6 8.8s-6 4-7.2 4.8M330.1 691.7c.3-1.9 .7-8 1.6-11.2s2.4-6.1 3.9-8.4s3.3-2.8 5.1-5.4s4.4-6.3 5.4-10.2s.2-9.4 .3-13.5s.8-7.7 .5-10.8s-2.6-4.3-1.8-8s6-9.5 6.3-13.7s-3.6-9.6-4.3-11.5M309.8 582.9c-1.1-1.7-3.5-6.8-6.4-10.2s-7.7-7.8-10.7-10.6s-4.2-4.7-7.5-6.3s-9.6-3.3-12.3-3s-2.4 3.5-4.2 4.7s-5 2.7-6.6 2.7s-1.5-2.2-2.7-2.7s-2.2 0-4.3-.7s-5.6-3.5-7.8-3.5s-3.6 1.8-5.4 3.5s-4.2 5.9-5.1 7.1M303.2 652.7c.1-.7-.1-3.2 .8-4.1s3.8-.2 4.4-1.6s-1.2-5-1-7.2s2-3.6 2.3-5.7s-.2-5.2-.2-7s.4-2.5 .3-4.3s-.6-4.7-1.3-6.8s-2.1-4.2-2.9-6.3s-1.3-3.6-1.8-6.1s-.4-6.8-1.6-9.2s-4.2-3.1-5.9-5.1s-3.6-6-4.3-7.2" stroke-opacity="0.1" stroke-width="2.4"/>
<path d="M303 556.2c-1.9-1.3-7.4-5.3-10.9-7.9s-6.6-6.5-9.9-7.7s-7.4 1-10 1s-3.6-1.4-5.5-.9s-4.1 3.5-5.8 4s-2.6-.4-4.7-.7s-5.9-1-8-1s-3.7 .8-4.4 1M275.5 561.6c-.9-.1-3.8-.3-5.6-.4s-3.9 .4-5.3 .1s-2-1.4-3.3-2s-3.2-1-4.7-1.5s-2.5-1.9-4.5-1.8s-5.1 1.7-7 2.5s-3.6 2.1-4.3 2.5M298.4 572.1c-1.4-.9-5.1-3.7-8.2-5.5s-7.4-4.5-10.6-5.5s-6.5-.9-8.8-.1s-3.4 3.2-4.7 4.8s-1.6 3.8-3.2 4.4s-5-.3-6.2-.4s-.2-.5-1.1-.2s-3.2 .9-4.7 1.6s-2.6 1.9-4 2.8s-3.5 1.4-4.8 2.8s-1.4 4.1-2.7 5.4s-3.6 2.3-5.3 2.6s-3.7-1.2-5-.7s-2.7 3-3.3 3.6M115.9 571.4c-.7 3-2.8 12.5-4 18s-1.6 9.6-3.3 15.1s-5.6 11.9-6.8 17.4s-.7 9.4-.7 16s-.9 16.6 .4 23.8s4.6 12.9 7.2 19.7s5.6 16.1 8.5 21.6s7.6 7 8.9 11.4s-1.1 10.1-.6 15.4s1.4 11 3.5 16.5s5.6 10.3 9.1 16.2s10.2 16.1 12.2 19.3M296.6 671.9c.4-1.3 1.5-6 2.4-8.3s2.4-3.7 3.1-5.3s.8-3.1 1.2-4.7s.4-3.5 1.1-4.7s2.4-1 3.2-2.9s.7-6.2 1.5-8.5s3.4-3.6 3.4-5.5s-3.1-5.3-3.7-6.4M211.1 573.4c-.2 .6-.1 2.3-1 3.8s-4.2 3.1-4.9 4.8s1.1 3.9 .7 5.1s-2.4 .7-3.1 2.1s-.1 4-.8 5.8s-3.1 3.1-3.5 5.1s.9 5.4 1.1 6.4M292.5 485.4c-2.8-.4-12.3-2.1-16.8-2.7s-6.9-.3-10.1-.8s-6.4-1.9-9.2-2.4s-4.6-.1-8.2-.6s-9.4-2.8-13.7-2.4s-7.8 3.4-12 4.7s-9.2 1-13.8 3.5s-9.2 7.9-13.4 11.3s-8.3 6.3-12.1 9.3s-7.7 5.8-11.2 8.8s-5.7 6.8-9.3 9.1s-9.2 2.8-12.7 4.9s-5.8 5.1-8.7 7.5s-7.1 5.7-8.6 6.9M219.6 540c-1 1.2-4 4.6-5.8 7.1s-3 5.9-5.1 8s-5 3.2-7.2 4.7s-4.7 2.9-6.2 4.2s-1.1 2.1-2.7 3.5s-5.8 4.2-6.9 5.1M136.1 737.6c1.4 2.4 4.8 9.7 8.1 14.8s7.6 10.3 11.6 15.5s7.6 11 12.9 15.6s12.6 9.1 18.9 12.1s12.5 4.7 19.1 5.7s14.7-.9 20.4 .5s9.7 5.7 14.1 7.5s8.8 3 12.3 3.7s5.9 .8 8.8 .4s7.3-2.3 8.8-2.8M245.8 682.4c1 .5 4.3 1.1 6.3 2.9s4.1 5.7 5.7 7.9s2.5 3.6 3.7 5.2s1.9 4.2 3.4 4.4s3.9-1.9 5.8-3.4s4-3.1 6-5.4s4.1-6.4 6.1-8.1s3.8-1.1 6.3-2s6.2-2.7 9.2-3.7s6.7-.6 8.5-2.5s1.6-6.4 2.4-9.1s2.1-6 2.6-7.2M175.8 557.9c-1 .9-4 3.2-5.8 5.3s-3.4 4.5-4.8 7.3s-3.2 6.1-4 9.6s-.5 7.7-.8 11.5s-.2 7.4-1.3 11.1s-4.8 7.3-5.3 11s2.3 7.1 2.4 10.9s-2.3 7.6-1.5 12s4.9 9.5 6.2 14.3s-.1 10.5 1.2 14.8s5 9.2 6 11M260.4 699.9c.4 .2 1.3 1.4 2.4 1.3s2.2-.5 4.4-2.1s6.4-5.8 8.7-7.6s2.6-2.4 4.7-3.1s5.3 0 7.7-.9s3.9-3.4 6.6-4.8s8.2-.7 9.8-3.5s-1.3-10.8-.5-13.5s5-1.5 5.5-3.1s-2.5-4.6-2.2-6.7s3.1-4 3.8-6.2s-.7-4.6 0-6.8s3.7-3.6 4.2-5.9s-1.5-5.8-1.2-8.1s2.7-4.6 3.2-5.6M325.2 620.8c0-1.3 .7-5.6-.3-8.2s-4.2-4.3-5.4-7.4s-.2-7.4-1.7-11.1s-4.7-7.3-6.8-10.9s-3.7-7.6-6.1-10.7s-5.2-5.3-8-8.1s-5.2-6.2-8.5-8.8s-8.6-5.5-11.8-6.9s-5.4-1.7-7.4-1.9s-3.1 .5-4.6 .7s-2.8 .7-4.5 .6s-3.6-.9-5.9-.7s-5.6 1.8-7.9 2.1s-5.1-.5-6.1-.6M212.9 725.7c2.3 .6 8.9 3.8 13.5 3.8s10.2-3.5 14-3.8s6.4 1.8 9.1 2s5.3-1 7.5-.7s4.1 2.2 5.6 2.1s.9-1.2 3.6-2.6s9.5-4.4 12.7-6s3.5-2.6 6.7-3.4s8.7-.4 12.5-1.4s6.8-3.1 10.3-4.6s7.4-2.1 10.6-4.6s6.3-6.9 8.7-10.3s4.5-7 5.9-10.5s2.2-8.6 2.6-10.4M291.5 479.4c-2.6 .7-11.2 3.6-15.3 4.5s-6.5 1.3-9.6 1s-6-1.6-9.2-2.5s-6.8-1.9-10.2-2.7s-6.2-2.3-10.1-2.1s-8.4 1.3-12.8 3.2s-9.1 5.3-13.2 8.1s-7.2 5.6-11.3 8.3s-9.6 5.2-13.1 8.2s-5.4 7.3-8.2 10.3s-5.1 5.4-8.3 7.9s-6.9 5.6-10.8 7.2s-9.4 1.5-12.8 2.4s-5.3 .3-7.6 2.9s-4.9 9.3-6.4 12.9s-2.3 7.5-2.7 9M263.3 713.7c.8-.4 2.6-1 4.8-2.6s5.6-6 8.5-7.3s5.5-.6 8.5-.7s6.3 .2 9.7 .3s7 1.5 10.6 .4s9.4-5.6 11.2-6.7M150.3 532.1c-1.2 1-4.8 3.8-7.2 5.8s-5.9 2.9-7.4 5.7s.2 7.4-1.4 11.1s-6.2 7.5-7.6 11.5s-.4 8.2-1 12.7s-2 9.7-2.7 14.5s-1.7 9.9-1.9 14.2s.7 7 .8 11.6s0 13.1 0 15.7M271.1 733.5c1.8 .1 7.4 .1 11 .3s6.4 1.1 10.5 .6s9.7-2.2 14.1-3.8s8.7-2.5 12.7-5.5s8.2-8 11.1-12.5s4.6-11 6.5-14.9s4.6-4.6 4.9-8.5s-3.2-11.4-2.9-14.9s3.3-3.4 4.7-6.3s3-7.6 4-11.6s1.9-8.7 2.2-12.6s-.5-7.6-.1-11.1s2.1-6.1 2.2-10s-1.2-9-1.9-12.9s-1.1-6.5-2.3-10.4s-4.2-10.6-5.1-12.7M267.8 779.5c1.9-.7 7.4-2.6 11.6-3.9s8.7-2.2 13.6-3.5s10.7-2.3 15.7-4.3s9.3-3.9 13.9-7.5s9.6-9.3 13.7-14.3s8.1-10 11-15.5s4.7-11.7 6.4-17s3.1-10.6 3.6-15.2s-1.5-9.1-.3-12.4s6.5-5.9 7.9-7M313.3 609.7c-.3-1.3-.2-5.5-1.8-7.5s-6-1.9-7.6-4.3s-.4-7.7-2.2-10.3s-6.4-4.4-9.1-5.5s-4.5-.2-7.2-1.2s-6.6-3.3-9.2-4.4s-4.6-2.6-6.2-2.1s-2.2 4.1-3.3 4.8s-2.6-.6-3.5-.5s-.9 1.6-2 1.5s-3.1-2.4-4.1-2.4s-1.2 1.2-1.9 2.1s-1.4 2.6-2.3 3.1s-2.9-.5-3.5-.6M304.4 569.5c-1.4-1.1-5.5-4.7-8.5-6.7s-6.3-4.4-10-5.7s-9-1.6-12.1-1.7s-4.8 .4-6.7 .8s-3.1 1.4-4.5 1.5s-2.7-.1-4.2-.7s-2.9-1.8-4.7-2.8s-3.8-2.8-6.2-3s-5.2 1.3-7.6 1.8s-4.8-.2-6.9 .9s-3.1 4-5.6 5.9s-6.7 4.4-9 5.6s-3.1 1.2-4.9 1.9s-4.3 1-5.9 2s-3.2 3.4-3.8 4.1M129.2 702.5c1.3 1.5 6.6 5 7.7 9.2s-1.2 10.7-.9 16.3s.9 11.7 2.5 17.7s3.8 12.2 7.1 18.3s7.9 12.5 13.2 18.1s12.1 12.1 18.6 15.6s13 5.2 20.1 5.2s15.6-4.6 22.4-5.3s15.3 .9 18.4 1.1M329.2 675.1c-.4-1.6-3.3-7.4-2.8-9.7s3.6-2 5.6-4.1s4.7-5.3 6.2-8.3s1.9-6 2.8-9.5s2.1-8.5 2.8-11.6s1.1-3.7 1.3-6.6s0-7-.3-10.8s-1.1-8.6-1.6-12.5s-1.4-9.1-1.6-10.9M265.7 717.7c1.7-.3 7.5-.9 10.5-1.9s4.3-3.4 7.3-4s6.8 .2 10.7 .4s8.7 2 12.7 1.2s8.2-3.2 11.5-6.2s6.4-7.8 8.4-11.7s2.5-7.6 3.3-11.6s.2-9.2 1.5-12.3s4.3-3.7 6.2-6.1s4.2-4.9 5.1-8.4s-.3-8.6 .4-12.4s3-8.6 3.6-10.4M229.6 516.1c-1.4 .2-5.3 .1-8.7 1.1s-8.4 3-11.5 5s-5.2 4.2-7.5 6.9s-4.3 6.8-6.8 9.3s-5.8 3.9-8.1 5.9s-3.4 4.5-5.6 5.9s-6.2 .9-7.6 2.8s-.4 7.2-.5 8.7" stroke-opacity="0.3" stroke-width="1.2"/>
</g>
<g clip-path="url(#c2)"><ellipse cx="263" cy="770" rx="150" ry="60" fill="#fff" fill-opacity="0.45" filter="url(#b8)"/><ellipse cx="170" cy="560" rx="40" ry="60" fill="#fff" fill-opacity="0.3" filter="url(#b8)"/><ellipse cx="356" cy="560" rx="40" ry="60" fill="#fff" fill-opacity="0.3" filter="url(#b8)"/></g>
<path d="M263 470V700" stroke="#999" stroke-width="18" stroke-opacity="0.3" filter="url(#u5)" fill="none"/>
<path d="M263 505V700" stroke="#646464" stroke-width="10" stroke-opacity="0.5" filter="url(#u3)" fill="none"/>
<path d="M262 508C258 540 260 600 260 692M264 508C268 540 266 600 266 692" stroke="#3a3a3a" stroke-width="2.3" stroke-opacity="0.75" filter="url(#u1)" fill="none"/>
<path d="M263 503C265 503 266.3 515.8 269 522C271.7 528.2 276.3 533.7 279 540C281.7 546.3 285.5 554.2 285 560C284.5 565.8 277.5 568.3 276 575C274.5 581.7 280.3 595.8 276 600C271.7 604.2 254.3 604.2 250 600C245.7 595.8 251.5 581.7 250 575C248.5 568.3 241.5 565.8 241 560C240.5 554.2 244.3 546.3 247 540C249.7 533.7 254.3 528.2 257 522C259.7 515.8 261 503 263 503Z" fill="#8a8a8a" fill-opacity="0.28" filter="url(#b3)"/>
<ellipse cx="263" cy="680" rx="42" ry="30" fill="#8c8c8c" fill-opacity="0.4" filter="url(#b8)"/>
<ellipse cx="263" cy="670" rx="24" ry="28" fill="#767676" fill-opacity="0.45" filter="url(#b5)"/>
<ellipse cx="263" cy="545" rx="22" ry="16" fill="#999" fill-opacity="0.35" filter="url(#b5)"/>
<ellipse cx="240" cy="700" rx="16" ry="10" fill="#888" fill-opacity="0.3" filter="url(#b3)"/>
<ellipse cx="288" cy="702" rx="16" ry="10" fill="#888" fill-opacity="0.3" filter="url(#b3)"/>
</g>
<g fill="none" stroke-linecap="round"><path d="M133.7 627.5c2.1 0 7.3-.1 12.2 .1s12.3-.4 17.6 1s9.7 5.3 14.2 7.4s10.8 4.4 13 5.3M143.4 630.3c.3 0-.9-.2 2.2 0s11.1 .3 16.4 1.5s11.8 4.3 15.5 5.5s5.5 1.8 6.7 2.2" stroke="#e0faf8" stroke-width="0.8"/>
<path d="M133.2 626.4c1.9 0 7.3-.6 11.8-.3s10.2 1.2 15.5 2.3s10.5 2.4 16 3.9s14.2 4.1 17 4.9M144.8 628.7c2.5 .2 9.9 .4 15.2 1.5s12.4 3.4 16.7 5.1s7.7 4.4 9.3 5.2M133 618.9c2.4 .2 9.4 .3 14.4 1.1s10.4 2.4 15.2 3.8s8.3 3.1 13.1 4.8s12.7 4.4 15.3 5.3M145 626.9c.2 0-1.9-.1 1.2 .1s12.4 .1 17.4 1.1s9.1 3.6 12.7 5.1s7.5 3.3 8.9 3.9M143.7 617.9c.6 0 .6-.3 3.5-.1s9 0 13.9 1.6s11.8 5.9 15.9 8s7.4 3.7 8.9 4.4" stroke="#d0f5f2" stroke-width="0.8"/>
<path d="M140.9 622.9c.9 0 1.8-.4 5.1-.1s9.2 .3 14.4 1.8s11.8 4.7 16.8 6.9s10.8 5.4 13 6.4M139.3 625.5c1.1 0 3 .1 6.3 .2s8.8-.9 13.8 .2s13.3 4.9 16 5.9M138.9 619c1.3 0 4.4-.6 7.6 .2s7.1 2.7 12 4.3s13.8 4.5 17.5 5.7s3.8 1.3 4.5 1.5M138.6 616.2c1.3 0 4.1-.8 8 .1s10.5 3.7 15.4 5.4s11.6 4.1 13.9 4.9M142 622.6c.7 0 1.3-.3 4.5 .3s9.8 2.2 14.8 3.5s12.1 3.8 15 4.8s1.5 .7 1.8 .9M145.8 625.5c.5 0 .1-.7 3 .2s9.5 3.9 14.5 5.1s11.6 1.2 15.6 2.3s7 3.6 8.4 4.3M137.4 625.3c1.8-.1 6.7-1 10.7-.7s8.4 1.3 13.3 2.7s13.3 4.6 16.1 5.5s.9 .3 1 .4" stroke="#bfeeea" stroke-width="0.8"/>
<path d="M151.8 644.4c.6 .1 .1-.4 3.3 .3s12 2.9 16.3 3.7s7.9 1 9.4 1.2M148.1 643.5c1.4 .2 4.5 .2 8.5 .8s12.7 2.3 15.7 2.8s1.7 .3 2 .4M145.9 642.8c1.5 .1 4.6 .1 8.8 .8s10.9 2.5 16.1 3.3s12.3 1.2 14.8 1.4M141.8 646.7c2.3 .1 8.9-.1 14 .5s13.2 2.3 16.3 2.8s2.1 .2 2.6 .3" stroke="#ffc3b0" stroke-width="0.9"/>
<path d="M144.3 645c1.9 .1 6.8 0 11.4 .6s11.8 2.3 16.1 3s7.8 .7 9.4 .9M137.5 640.1c2.6 .3 10.3 .9 15.7 1.6s12.1 2 16.7 2.6s9.2 .7 11.1 .9M143.5 642.3c1.7 .1 5.7-.1 10.2 .5s13 2.2 16.7 2.7s4.6 .6 5.5 .7M143.8 639.7c1.7 .1 5.7 .1 10.3 .7s12.1 2.3 17.1 3.2s10.7 1.6 12.8 1.9M139.3 636.4c2.5 .3 9.3 .9 14.5 1.7s11.2 2.2 16.9 3s14.1 1.5 16.9 1.8" stroke="#f7b39f" stroke-width="0.9"/>
<path d="M151.1 642.2c.6 0-.1-.3 3.5 .3s12.8 2.4 17.9 3.2s10.5 1.3 12.6 1.6M148.8 638.2c.8 .1 .9-.2 4.6 .5s12.3 2.6 17.9 3.4s13.5 1.2 16.2 1.4M140.1 643.7c2.4 .2 9.6 .4 14.7 1s13 2.2 16.1 2.7s1.9 .2 2.3 .3M137.9 642.8c2.8 .2 11.4 .5 16.9 1.2s11 2.1 16.3 3.1s13.1 2.2 15.7 2.6M142.5 644c1.9 .1 6.4 .1 11.1 .6s12.1 1.6 16.9 2.3s9.7 1.4 11.6 1.7M137.6 639.5c2.9 .3 11.5 1.1 17.2 1.8s11.8 1.6 17.1 2.4s12.1 2 14.5 2.4M147.8 641.8c1 .1 2.5-.3 6.4 .3s12.7 2.4 17.1 3.1s7.8 .9 9.3 1.1" stroke="#ffd2c4" stroke-width="0.9"/>
<path d="M344.1 625.8c1.9 2.2 7.7 8.3 11.5 13.3s8.4 11.9 11.2 16.5s4.8 9.1 5.9 11.3s.4 1.2 .5 1.5M357 636.5c1.4 2.6 5.8 10.4 8.6 15.3s6.8 11.1 8.5 14.2s1.4 3.6 1.7 4.4M341.9 625.3c2.3 3 9.8 12.6 13.9 17.6s8 8.8 10.7 12.9s4.6 9.8 5.5 11.8M355.7 632.2c1.9 2.2 7.9 9.2 11.4 13.3s8 8.5 9.8 11.4s1 5.3 1.2 6.3M341.9 602.9c1.7 1.7 6.9 6.7 10.5 10.2s7.2 7.8 11.3 10.8s10 4.9 13.1 7s4.6 4.5 5.5 5.4M339.7 594.7c1.3 .3 3.9 .4 7.6 1.9s10.6 5.9 14.4 7.2s5.9 .4 8.5 .4s6-.1 7.2-.1M352.6 631.3c1.1 1.2 4.3 3.7 6.7 7.7s5.6 11 7.8 16.2s4.3 11.1 5.8 15s2.5 7.4 2.9 8.8M350.2 620.2c.6 .7 1 1 3.6 3.7s8.8 9 12.1 12.4s5.5 5.6 7.4 7.8s3.1 4.3 3.8 5.2M349.9 623.8c.5 .5 .5-.3 2.8 2.9s7.9 12 10.8 16.3s5.3 7.6 6.4 9.1M341.1 603c1.4 1 4.9 4.1 8.2 5.8s7.9 3.6 11.7 4.5s8.6 .9 11.1 1.4s3.6 1.3 4.3 1.5M356.7 636.7c.1 .1-.9-2.1 .5 .5s5.5 10 7.9 14.6s5.3 10.6 6.5 13s.8 1.4 .9 1.7" stroke="#bfeeea" stroke-width="0.8"/>
<path d="M341.8 602.6c1.4 1.4 4.5 5.8 8.3 8.4s10.9 5.8 14.8 7.6s6 2.3 8.7 3.1s5.9 1.4 7.1 1.7M354.5 622.4c1.9 2 7.8 8.4 11 11.9s6.3 7.3 8.5 9.5s4.2 3.1 5.1 3.7M354.8 633.7c.6 .7 1.1 1.1 3.4 4.3s7.3 11.2 10 15.4s4.8 5.7 6.6 10s3.6 13 4.3 15.6M353.6 635.4c.5 .6 1 .5 3.2 3.9s7.4 11.6 9.9 16.7s4.4 11.6 5.3 14" stroke="#e0faf8" stroke-width="0.8"/>
<path d="M354.1 635.7c.1 .1-1.3-2.2 .5 .6s7.1 11.2 10.3 16.1s7.2 10.7 8.8 13.2s.5 1.3 .6 1.5M347.9 620c1 1 3.1 3.2 6 6.2s8.1 8.1 11.1 12s4.4 8.2 6.7 11.1s5.8 5.6 6.9 6.7M342.1 600.9c1.4 1.5 5.3 6.3 8.8 9s8.2 4.7 12 6.8s8.9 4.4 11 5.3s.9 .1 1.1 .1M352.5 617.8c1.7 1.1 6.7 4 10.3 6.2s8.8 5.3 11.2 7.1s2.6 3.2 3.2 3.8M347 612.7c1.1 .9 3.3 3.4 6.2 5.4s7.6 4.6 10.9 6.8s6 4.8 8.7 6.5s6.2 3.2 7.4 3.9M345.3 608c1.4 .5 5.1 1.3 8.4 3.3s8 5.8 11.1 8.2s6 5.5 7.5 6.7s1 .6 1.2 .8M345.6 626.2c2.3 2.9 10.1 12 13.9 17.5s6.4 10.2 9 15.3s5.3 12.7 6.3 15.3M351.2 612.4c1.8 1.2 7.7 5.1 10.7 7.1s6.1 3.9 7.4 4.7s.4 .2 .4 .2M348.6 599.6c0 0-2.3-.5 0 .1s10.1 2.3 14.1 3.2s8 1.6 9.7 2" stroke="#d0f5f2" stroke-width="0.8"/>
<path d="M352.5 630.1c1.5 .8 5 3.3 9 4.3s11.6 1.8 15.1 2s4.8-.4 5.8-.5M349.6 636.9c2 1 7.7 4.6 12.3 6.3s12.3 3.1 15.1 3.8s1.6 .3 1.9 .3M355.2 627.2c1 .3 2.4 1.6 5.9 1.9s11 0 14.9-.3s7-1 8.4-1.1M355.4 637.9c1.4 .8 4.6 3.7 8.3 5s11.2 2 13.8 2.5s1.5 .2 1.8 .3" stroke="#ffd2c4" stroke-width="0.9"/>
<path d="M348.9 622.9c2 .7 7.3 3.5 11.7 4.3s10.1 .4 14.5 .3s9.7-.9 11.6-1.1M355.3 636.3c1.2 .5 3.7 2.2 7.4 3.1s11.2 1.9 14.4 2.4s4 .2 4.8 .3M351 639.8c2 1.1 7.6 5 12.1 7s10.7 3.7 14.8 4.8s7.8 1.5 9.3 1.8M357.8 641.9c1 .5 2.3 1.9 5.6 3.1s10.7 3 14.3 3.9s6.3 1.3 7.5 1.6M349.1 625.5c1.8 .6 6.5 2.9 10.9 3.6s11.2 .5 15.3 .3s7.9-1.3 9.5-1.6M351.2 634.6c1.9 .8 7.1 3.6 11.5 4.7s11.2 1.9 14.5 2.2s4.7-.1 5.6-.1M348.7 627.9c1.9 .7 7.1 3.3 11.5 4.1s10.3 .8 14.7 .7s9.4-1 11.3-1.2M355.6 638.7c1 .6 2.8 2.3 6.3 3.2s10.8 2.1 14.6 2.5s7 .2 8.4 .2M348 622.6c2 .7 7.6 3.3 12 4.2s10.1 1.1 14.4 1.1s9.4-1 11.3-1.2" stroke="#f7b39f" stroke-width="0.9"/>
<path d="M358.6 626.8c.3 .1-.8 .5 1.9 .6s10.5 .1 14.7-.1s9-1.1 10.7-1.3M349.9 632c2.2 .8 8.6 3.9 13.2 5s10.8 1.2 14.3 1.5s5.8 .4 6.9 .4M356.2 625c.7 .2 1.4 1.2 4.5 1.5s11.4 .1 13.9 .1s1.3-.1 1.6-.1M349 638.1c2.3 1.2 8.9 5.3 13.6 7.2s12 3.4 15.1 4.1s2.7 .3 3.3 .3M358.1 643.5c1.1 .7 3.2 2.8 6.7 4s11.2 2.6 14.5 3.3s4.8 .7 5.7 .8" stroke="#ffc3b0" stroke-width="0.9"/>
<path d="M246.4 575.8c.2 .3 .9 .3 1.3 1.5s1 3.9 1.2 5.8s-.1 4.6-.1 5.5M235.4 570.3c.4 1 1.3 3.6 2.5 6.1s3 6.6 4.4 8.6s3 3.1 3.6 3.7M248.8 575.1c.2 .6 1.4 1.8 1.7 3.4s.2 4.5 .3 6.8s.3 5.7 .4 6.8" stroke="#3f946d" stroke-width="0.9"/>
<path d="M250 571.1c-.1 .9-.9 3.4-.8 5.5s1.2 5 1.5 6.7s.5 2.5 .6 3M252.8 570.3c.4 1.2 1.8 4.8 2.1 7s0 4.4-.2 6.6s-.8 5.5-.9 6.5M247.5 569.6c.2 1 1 3.6 1.1 6s-.8 6.7-.8 8.8s.2 3 .2 3.6M238.9 575.4c.4 .3 1.6-.2 2.6 1.7s2.2 7.1 3 9.3s1.5 3.2 1.7 3.9M238.8 574.2c.6 .6 2.8 2.1 3.6 3.9s1.1 5.4 1.6 7.1s.7 2.7 .8 3.3M246.6 570.8c0 1 .1 4.1 .1 6.3s-.8 4.9-.5 6.9s1.7 4.1 2.1 4.9M243.4 573.5c.3 .7 1.7 1.7 2.1 3.9s.2 7.2 .4 9.3s.4 2.4 .5 2.9" stroke="#55a883" stroke-width="0.9"/>
<path d="M240.7 573.7c.2 .5 .4 1.4 1.1 3.1s2.5 5.8 3.2 7.5s.8 2.2 .9 2.7M250.6 572.7c0 .8-.1 2.5 .3 4.7s1.8 6.4 1.9 8.9s-1 5.1-1.1 6.1M248.9 572.4c0 .5-.5 1.2-.4 3.1s1.1 6.3 1.3 8.3s0 3.1 0 3.7M235.1 575.1c.4 .4 1.6 .7 2.8 2.4s3.2 6 4.3 8s2.1 2.9 2.5 3.5M242.5 574.3c.1 .7 .2 2 .7 4.1s1.8 6.3 2.4 8.2s.9 2.6 1.1 3.1M239.2 573.8c.2 .7 .1 2.7 1.2 4.4s4.4 4.3 5.3 6s.2 3.4 .2 4.1M236.9 572.8c.6 .6 2.1 1.9 3.3 3.7s2.8 5.1 3.7 7s1.2 3.8 1.5 4.6M236.7 573.6c.5 .8 2.1 2.9 3.1 5s2 5.8 2.7 7.3s1.3 1.4 1.6 1.7" stroke="#66b491" stroke-width="0.9"/>
<path d="M246.2 574.6c.2 .8 1.1 2.7 1.5 4.7s.9 5.3 1.3 7.1s.7 3 .9 3.6M248.7 569.7c.1 1.2 .2 4.4 .3 6.9s.3 5.8 .5 7.6s.8 2.5 .9 3M240.3 575.7c.3 .6 1.1 2.1 1.6 3.4s.7 2.6 1.5 4.3s2.9 4.9 3.5 5.8M245.8 574c.1 .5 .4 1.2 .6 3.3s-.2 6.3 .4 9s2.9 6.2 3.5 7.4" stroke="#4a9c78" stroke-width="0.9"/>
<path d="M276.8 587c1.1-.5 3.3-1.3 6.5-2.9s9.8-4.5 12.7-6.7s4.1-5.3 4.9-6.3M278.2 588.4c.9-.4 2.5-.5 5.2-2.3s7.7-5.6 10.7-8.4s6.2-6.8 7.5-8.2M274.6 586.2c1.5-.7 5.9-1.9 9-3.7s6.5-4.9 9.6-7.3s7.5-5.9 9-7.1M277.4 585.3c1.2-.4 4.3-.7 6.9-2.2s6.1-5.2 8.6-7.4s5.2-4.7 6.3-5.7M279.2 589.7c1-.5 3.6-1.7 6.3-3s7.7-3.4 10.1-5.1s3.6-4.4 4.3-5.2M276.5 582.1c1.2-.4 4.4-1 7-2.4s6.8-4.7 8.8-6.2s3.1-2.2 3.7-2.6M276.8 582.7c.9-.1 3 .3 5.6-.9s7.1-3.6 10.2-5.9s6.9-6.5 8.3-7.7M275.3 590c1.4-.5 5-1.1 8.2-3s8.1-6 11.2-8.4s6.5-5.1 7.8-6.1M275 585.5c1.1-.5 4.2-1.8 7-3.2s6.9-3.3 9.6-5.4s5.6-5.8 6.7-6.9" stroke="#55a883" stroke-width="0.9"/>
<path d="M278.6 588.2c1-.4 3.1-.7 5.8-2.2s7.9-5.1 10.2-6.8s2.8-2.9 3.4-3.5M278.5 586.8c.8-.4 2.3-1.3 4.8-2.8s7.1-4 10.3-6.1s7.7-5.4 9.2-6.5M280 590.3c1-.4 3.1-.7 5.6-2.4s7.2-5.8 9.4-7.6s3-2.7 3.6-3.2M278.9 587.3c1-.3 3.3-.3 6.1-2s7.9-5.7 10.9-8.1s5.7-5.3 6.9-6.4" stroke="#4a9c78" stroke-width="0.9"/>
<path d="M281.2 590.5c.8-.4 2.1-.2 4.4-2s7.4-6.9 9.6-9s3.3-3 4-3.6M273 590.4c1.6-.6 6.1-2.1 9.4-3.9s7.6-4.2 10.5-6.7s5.5-6.8 6.6-8.2M280.1 588.4c.9-.4 2.7-.7 5.2-2s7.3-3.7 9.6-5.6s3.8-5 4.6-6M273.2 586.1c1.2-.3 4.2 .3 7.3-1.4s8.5-6.5 11.3-8.8s4.3-4.2 5.2-5M277.6 589.1c1.2-.4 4.4-.7 7.1-2.5s6.4-5.8 9-8s5.8-4.6 7-5.5M278 582.8c.5-.3 .8 .1 3-1.5s7.3-6 10.1-8.3s5.8-4.8 6.9-5.7M275.5 592.5c1.8-.8 7.6-2.7 11-4.6s7.4-4.9 9.6-6.8s3-3.6 3.6-4.3" stroke="#3f946d" stroke-width="0.9"/>
<path d="M277.2 591.8c1.3-.8 4.7-2.8 7.8-4.7s8.7-4.5 11.1-6.4s2.9-4.2 3.4-5M278.1 591.1c.8-.6 2.6-1.6 5.3-3.4s8.1-5.5 10.7-7.5s4.4-3.5 5.2-4.2M278 588.1c1.1-.6 3.8-2 6.5-3.9s8-5.8 10.2-7.5s2.7-2.3 3.3-2.8M278.9 588.2c.7-.3 1.8-.2 4.5-1.8s8.6-5.4 11.7-7.7s6-5.3 7.2-6.3M276 590.1c1.3-.5 4.5-1.3 7.7-3.1s8.7-5.7 11.7-8.1s5-5.4 6-6.5M282.4 590.1c.8-.3 2.2-.2 4.8-1.6s7.5-4.3 10.5-6.6s5.9-5.8 7-7" stroke="#66b491" stroke-width="0.9"/>
<path d="M283.8 529.5c1 2.6 4 11.3 6.1 15.6s5.1 8.4 6.2 10.1" stroke="#55a883" stroke-width="0.7"/>
<path d="M283.1 531.6c.8 2.2 3 8.9 5.1 13.1s6.1 9.8 7.3 11.8" stroke="#66b491" stroke-width="0.7"/>
<path d="M283.6 529.5c1 2.6 3.7 11 6 15.7s6.6 10.4 7.9 12.5M282.5 530.3c1 2.4 3.3 9.9 5.6 14.7s7.3 11.7 8.8 14" stroke="#4a9c78" stroke-width="0.7"/>
<path d="M223.5 496.6c-1.3 4-5.6 15.3-8 23.8s-4.5 18.1-6 27s-2.5 19.1-3.2 26.9s-.6 16.7-.7 20.1M225 490.6c-1.5 4.7-6.1 18.6-8.7 28.2s-5.2 19.7-7 29s-3 19.7-3.8 26.9s-.6 13.6-.8 16.3M229.3 488c-1.5 5-6.5 20.1-9.2 29.7s-5.2 19.1-6.9 28.3s-2.5 18.4-3.3 27s-1.4 20.3-1.7 24.4M228.4 501.8c-1 3.1-3.9 10.8-6 18.7s-4.7 19.3-6.7 28.5s-4.3 18-5.1 26.4s0 19.9 0 23.9M229 498.7c-1.3 3.3-5.3 11.7-7.5 19.7s-4.2 19.4-6.1 28.7s-4.5 19-5.3 26.9s.6 17.3 .7 20.7M229.1 500.4c-.8 2.9-2.9 9.8-5 17.4s-5.7 18.7-7.7 27.9s-3.3 20.3-4.2 27.5s-.7 13-.8 15.6M227.5 504.8c-.8 2.5-2.6 7.7-4.7 14.8s-6 18.6-7.9 27.6s-2.9 18.2-3.6 26.7s-.5 20.2-.6 24.2M223.6 506.2c-.9 2.4-3.1 7.6-4.9 14.6s-4.1 18.5-5.9 27.6s-3.7 18.7-4.5 26.8s0 18.4 0 22.1" stroke="#2b7aa6" stroke-width="0.9"/>
<path d="M229.6 503.7c-.9 2.5-3.4 7.8-5.7 15.1s-6.4 19.1-8.2 28.4s-2.2 20.5-2.8 27.2s-.6 10.8-.7 12.9M225.3 505.1c-.6 2.1-1.9 6.2-3.8 13s-5.3 18.3-7.4 27.7s-3.8 21.3-4.9 28.8s-1.3 13.4-1.6 16M221.2 503.3c-.9 2.8-3.3 9.6-5.3 17s-5 18.2-6.7 27.4s-2.8 19.8-3.4 27.6s-.5 16.3-.6 19.6M224.3 493.2c-1.4 4.5-6.3 17.8-8.6 27s-3.7 19.3-5.2 28.5s-3 20.4-3.7 26.8s-.5 9.5-.6 11.4M223 495.6c-1.4 4.2-6.3 16.4-8.6 25.1s-3.8 18.5-5.2 27.6s-2.9 19.9-3.6 26.5s-.6 11-.7 13.2M225.6 504.5c-.7 2.3-2.1 6.5-4 13.5s-6.1 18.8-7.9 28.1s-1.9 20.9-2.7 28.2s-1.6 12.8-1.9 15.4M223.8 504.9c-.7 2.6-2.6 8.3-4.7 15.4s-6.1 18.3-7.9 27.4s-2.1 19.8-2.7 27.5s-1.1 15.3-1.3 18.4M224.6 499.3c-1.2 3.4-4.8 12.2-7.2 20.1s-5.3 18.5-7 27.8s-2.7 19.8-3.2 28.2s.5 18.3 .5 22M220.2 508.7c-.6 2.1-2.1 5.9-3.8 12.4s-5 17.7-6.6 26.9s-2.5 20.9-3.1 27.9s-.5 11.6-.7 13.9M227.2 501.8c-.8 2.9-2.9 9.5-5.1 17.2s-5.9 19.7-7.8 29s-2.7 20.2-3.5 27s-1.2 11.3-1.4 13.5M229.4 503.9c-.9 2.7-3.4 8.7-5.6 16.1s-5.9 19.1-8 28.3s-3.6 18.1-4.7 26.9s-1.4 21.6-1.7 25.9M232.9 494.9c-1.3 3.9-5.3 14.4-7.9 23.2s-5.6 20.2-7.7 29.6s-3.8 18.7-4.9 27s-1.2 18.8-1.4 22.6" stroke="#0f6490" stroke-width="0.9"/>
<path d="M227.8 498c-1 3.1-3.8 11-6.1 18.9s-6.2 19.1-7.9 28.5s-1.7 20.3-2.4 27.7s-1.3 13.9-1.5 16.7M222.9 507.9c-.7 1.9-2.7 5.1-4.4 11.6s-4.1 18.7-5.8 27.8s-3.5 19.4-4.3 26.8s-.9 14.7-1 17.7M228.4 490.2c-1.3 5-5.4 20.4-7.9 29.9s-5.1 18.4-7.1 27.3s-3.7 18.1-4.6 25.7s-.8 16.8-.9 20.2M223 505.8c-.6 1.8-1.5 4.4-3.8 10.9s-7.7 18.6-9.7 27.8s-1.6 20.8-2.1 27.6s-.5 11-.6 13.2M227 495.3c-1.2 3.9-4.3 14.6-6.8 23.3s-6 19.5-7.9 28.8s-2.8 19.1-3.7 27s-1.4 16.5-1.7 19.8M228.1 507c-.6 2.1-1.3 5.6-3.4 12.3s-6.5 19-8.9 28.2s-4.6 19-5.9 27s-1.3 17.6-1.6 21.1M230.5 499.6c-1.2 3.2-4.7 11.5-7.2 19.3s-6.2 18.7-8.1 27.8s-2.7 20.3-3.4 27.1s-.8 11.7-1 14M236.5 490.2c-1.3 4.6-5 18.6-8.2 27.9s-8.6 18.7-10.9 28s-2.5 21.1-3.4 28.2s-1.3 12.2-1.6 14.6" stroke="#1a6d99" stroke-width="0.9"/>
<path d="M220.6 501.7c-.9 3-3.4 10.4-5.5 17.9s-5.3 18-7.1 27.1s-3.2 19.2-4 27.9s-1.1 20.4-1.3 24.4M224.9 497.3c-1.2 3.5-4.2 13.1-7 21.3s-7.9 18.8-9.7 28.1s-.9 20.6-1.3 27.5s-.8 11.8-.9 14.2M233.3 495.9c-1.4 3.8-5.7 14.7-8 23.2s-3.8 18.9-5.7 27.9s-4.5 19.1-5.7 25.9s-1.2 12.5-1.4 14.9M229.6 495.2c-1.3 4.1-5.6 16-8.2 24.6s-6 18.1-7.8 27.3s-2.3 18.9-2.8 27.5s-.3 20-.4 24.1M234.8 498c-1 3.5-3.7 12.7-6.2 20.8s-6.6 18.6-8.9 28s-3.9 21.9-5 28.3s-1 8.4-1.2 10.1M224.4 507.3c-.6 1.9-1.6 5.2-3.8 11.9s-7.2 18.7-9.4 28.1s-2.9 20.2-3.7 28.4s-.8 17.7-.9 21.2M223.1 496.5c-1.1 3.8-4.1 14.4-6.3 22.8s-5 18.6-6.9 27.9s-3.6 21.6-4.4 28s-.2 8.8-.3 10.5M227.4 502.3c-.7 2.7-2.1 8.5-4.2 16s-6.5 20.1-8.4 29.4s-2.6 17.7-3.5 26s-1.6 19.4-1.9 23.3M226.2 504.9c-1 2.7-3.9 9.2-6 16.4s-4.8 17.7-6.6 26.6s-3.4 19.8-4.4 26.9s-.9 13.5-1.1 16.2" stroke="#0a557d" stroke-width="0.9"/>
<path d="M232.8 489.6c-1.6 5-6.5 20.1-9.4 30.1s-5.6 20.8-7.7 30.1s-3.4 18.5-4.5 25.6s-1.5 14.1-1.8 16.9M229.7 495.7c-1.5 4.3-6 16.8-8.8 25.7s-6.2 18.6-8.1 27.6s-2.5 18.8-3.3 26.2s-1.5 14.8-1.8 17.8M237.6 489.3c-1.4 5-5.5 20.2-8.5 30.1s-7.1 20.2-9.7 29.5s-4.7 20-5.6 26.5s-.2 10.8-.3 12.9M234.5 494.3c-1.4 4-5.4 15.3-8.5 24.2s-7.3 20-9.6 29.3s-3.5 19.5-4.3 26.4s-.2 12.2-.3 14.7M223.6 491.8c-1.5 4.4-6.3 17.1-8.8 26.4s-4.8 20.1-6.3 29.3s-2.1 19.2-2.7 26.4s-.6 13.8-.7 16.6M224.5 506.3c-.6 2-2.2 4.7-4 11.7s-4.9 21.1-6.6 30.4s-3.1 19.2-3.9 25.5s-.7 10.4-.8 12.5M228.7 492.1c-1.3 4.4-5.1 17.6-8 26.7s-7.5 19.1-9.6 28.4s-2.5 20.7-3.3 27.3s-1.4 10.1-1.7 12.1" stroke="#0d5f8a" stroke-width="0.9"/>
<path d="M186.1 526.4c1.5 2.8 6 11.2 8.8 16.7s6.7 13.8 8 16.5M185.8 523.8c1.7 3.3 7.1 13.5 10 19.4s6.2 13.3 7.5 16M187.1 527.1c1.5 2.8 5.9 10.1 9 16.4s7.9 17.7 9.5 21.2" stroke="#0d5f8a" stroke-width="0.8"/>
<path d="M190.4 517c1.6 4.1 6.3 16.7 9.1 24.6s6.7 19 8.1 22.8" stroke="#0f6490" stroke-width="0.8"/>
<path d="M187.1 523c1.6 3.3 6.3 12.5 9.5 19.6s8.1 19 9.7 22.8M191 524c1.4 3.1 5.9 12.3 8.4 18.3s5.2 14.9 6.3 17.9M188.2 522.2c1.5 3.4 6.5 14.7 9 20.7s5.1 13 6.2 15.6" stroke="#1a6d99" stroke-width="0.8"/>
<path d="M185.6 527.2c1.5 2.8 6.5 11.4 9.4 17.1s6.7 14.5 8.1 17.4" stroke="#0a557d" stroke-width="0.8"/>
<path d="M192.1 525.9c1.2 2.8 5.1 11.2 7.1 16.4s4.5 12.4 5.4 14.9" stroke="#2b7aa6" stroke-width="0.8"/>
<path d="M310.7 510.3c.3 1.7 .6 4.5 1.7 10.5s3.7 17.5 5.2 25.5s3.1 16.3 4 22.7s1.4 13 1.6 15.6M314.6 506.8c.2 2.4 .2 7.7 1.2 14.3s3.8 17.2 4.8 25.2s.6 14.7 1.6 22.8s4 21.3 4.7 25.6M306.7 501.1c.7 3.2 2.7 12.2 4.3 19.6s4.1 16.6 5.4 24.5s1.9 15 2.8 23s2.2 21.2 2.7 25.4M321.2 510.9c.1 1.7 .6 4.7 .8 10.3s-.6 15.3 0 23.2s2.9 16.3 3.8 24.1s1.8 19 2.2 22.8M325.6 516.3c-.1 .9-.2 .7-.5 5.3s-2 15-1.5 22.6s3.8 18.1 4.7 23s.6 5.4 .7 6.5" stroke="#0f6490" stroke-width="0.9"/>
<path d="M319.5 510.7c0 1.8-.3 4.8 .3 10.9s2.2 17.4 2.8 25.6s.4 16.7 1.1 23.8s2.6 15.7 3.1 18.9M315.7 516.1c.1 1 .2 1.4 .8 6.3s1.5 15.3 2.6 23.1s3 17.8 3.9 23.8s1.3 10.1 1.5 12.2M315.5 514.4c.2 1 .7 1.6 1.3 6.5s1.3 15.3 2.1 23s1.8 16.1 2.6 23.3s1.6 16.3 1.9 19.5M308.6 499.8c.9 3.5 3.4 13.6 5.2 21.1s4.2 15.8 5.6 23.8s2.2 18.1 2.8 24.1s.5 9.6 .6 11.5M305.6 500.1c1.2 3.4 5 13.2 6.9 20.6s3 15.6 4.4 23.6s2.9 17.8 3.8 24.1s1.6 11.8 2 14.1" stroke="#0d5f8a" stroke-width="0.9"/>
<path d="M305.3 505.1c.9 2.9 3.5 10.4 5.2 17.2s3.8 15.3 5.4 23.3s3.5 19.7 4.3 24.9s.5 4.9 .6 5.9M318.6 507.5c.2 2 .7 6.3 1.3 12.1s1.6 15 2.2 23.2s.5 17.7 1.1 25.6s2.4 18.2 2.9 21.8M325.7 511.5c-.2 1.7-.9 4.4-1.3 9.9s-1 15.2-.7 23s1.7 17.5 2.5 23.7s1.9 11.5 2.2 13.8M322.1 515.6c-.1 1.1-1 2-.7 6.7s1.6 13.7 2.1 21.5s0 16.8 1 25s4.1 20.1 5 24.1M304.4 504.1c.9 2.8 3.5 9.6 5.3 16.6s3.6 17 5 25.1s2.3 15.7 3.7 23.7s4.1 20 4.9 24M304.9 499.6c1.3 3.8 6.1 15.2 7.9 22.9s2.1 15.1 3.3 22.8s2.9 17.7 3.8 23.1s1 7.7 1.3 9.3M325.9 504.8c-.1 2.8-.5 10.2-.7 16.9s-.8 15.2-.6 23.2s1.1 19.9 1.5 24.9s.6 4.6 .7 5.5M310.2 514.6c.3 .9 .5 .4 1.6 5.5s3.8 16.8 5.3 25s2.7 18.4 3.5 24.5s1.1 10.3 1.3 12.3" stroke="#1a6d99" stroke-width="0.9"/>
<path d="M312.8 500c.6 3.7 2.4 14.4 3.7 22s2.5 16.3 3.6 24.2s2.1 15.6 2.9 23s1.3 18 1.5 21.6M312.5 507.5c.4 2.3 1.1 7.6 2.1 13.8s2.6 15 4 23.1s2.9 17.4 4.1 25.6s2.5 19.7 3.1 23.6M312.8 507.2c.6 2.3 2.7 7.5 3.8 13.6s1.3 15 2.4 22.8s2.9 17.7 3.9 23.9s1.5 11.1 1.8 13.3M307.1 511.8c.6 1.8 1.9 5.1 3.5 10.8s4.4 15.4 5.8 23.3s1.9 17 2.7 24.3s2.1 16.2 2.5 19.4M309.1 513.6c.3 1.2 1 2 2 7.3s2.9 16 4.2 24.1s2.4 16.1 3.6 24.3s2.6 20.6 3.1 24.7" stroke="#2b7aa6" stroke-width="0.9"/>
<path d="M318.1 509.6c.1 1.9 .4 5.7 .8 11.6s.3 15.3 1.1 23.6s2.6 19.9 3.4 26s1.2 9 1.4 10.8M314.6 512.5c.3 1.3 1.2 2.7 1.9 8.1s1.5 15.6 2.6 23.8s3.1 19.1 4 25.3s1.2 9.4 1.4 11.3M313.3 502.7c.5 3.2 1.6 12.4 2.8 19.4s2.8 15.1 4.2 23s2.9 18.2 3.8 24.5s1.3 10.9 1.6 13.1M311.5 499c.6 3.4 2.4 12.7 3.8 20.4s3 17.9 4.4 26.2s2.9 17.3 3.9 23.7s1.4 12.2 1.7 14.7M302.7 495.1c1.4 4.4 5.9 17.9 8.3 26s4.2 14.6 5.9 22.7s3.2 20 4 25.6s.3 6.3 .4 7.6M309.7 513.6c.4 1.3 1 2.6 2.1 8.1s3 17.2 4.5 25.3s3.5 16 4.6 23.2s1.7 16.8 2.1 20.2M326.7 508.3c-.3 2.6-1.5 9.2-1.5 15.1s.7 12.7 1.2 20.2s1.2 16.5 1.6 25s.5 21.7 .6 26" stroke="#0a557d" stroke-width="0.9"/>
<path d="M221.1 629.8c.9 3.2 3.4 12.4 5.8 18.9s6.7 15.8 8.6 20.5s2.2 6.7 2.6 8M222 629.3c.9 3.3 3.2 12.9 5.6 19.5s6 14.2 8.5 20.3s5.4 13.5 6.5 16.2M221.7 626.7c1.1 3.5 4.3 14.2 6.8 21.1s6.1 15.3 8 20.3s2.7 7.8 3.2 9.3M225 633.2c.7 2.4 1.9 8.9 4 14.7s6.3 13.8 8.6 19.8s4.6 13.8 5.5 16.6M226.2 635.3c.6 2 1.5 6.9 3.5 12.3s6.4 15.3 8.4 20.4s2.8 8.7 3.4 10.5" stroke="#1a6d99" stroke-width="0.9"/>
<path d="M220.8 632.5c.8 2.7 2.9 9.7 5.3 16s6.9 16.6 8.9 21.5s2.3 6.4 2.7 7.7M222.5 633.9c.7 2.2 2.1 7.6 4.3 13.4s6.6 15.3 8.8 21.3s4.1 12.3 5 14.8M217.8 626.2c1.2 3.6 4.4 14.7 7.2 21.9s7.5 16.3 9.5 21.2s2.2 6.8 2.6 8.1M221.2 623.6c1.2 4.2 4.7 17.6 7.3 25.1s6 15 8 19.9s3.1 8.2 3.7 9.8" stroke="#0d5f8a" stroke-width="0.9"/>
<path d="M216.2 627.6c1.2 3.9 4.4 15.7 7.2 23.2s7.5 16.1 9.7 21.3s3.1 8.2 3.7 9.9M216 625.4c1.4 4.1 5.5 16.9 8.5 24.6s6.6 15.1 9.2 21.4s5.3 13.3 6.4 16M221.4 637c.7 2.1 1.9 7 4.2 12.5s7.4 15.8 9.5 20.6s2.5 7 3 8.4M224.6 636.9c.6 1.7 1.7 5.2 3.6 10.4s5.7 14.1 8.2 20.7s5.3 15.4 6.4 18.5M217.1 632.8c.8 2.9 2.5 10.6 5 17.2s7.5 15.8 10.2 22.3s4.9 13.5 5.9 16.2M224.2 638.5c.6 1.6 1.3 4.6 3.3 9.8s6.6 16.4 8.6 21.4s2.4 7.1 2.9 8.6M213.6 626c1.3 4 4.8 16.2 7.8 23.8s7.6 16 10.3 21.9s4.7 11.5 5.6 13.8M222 626.5c1.1 3.6 3.9 14.6 6.4 21.7s6.1 14.9 8.3 20.9s4.5 12.7 5.4 15.2M219.8 629.7c1 3.3 3.7 13.3 6.4 20s7.3 14.7 9.8 20.5s4.3 11.9 5.1 14.3" stroke="#0f6490" stroke-width="0.9"/>
<path d="M220.5 626.4c1 3.8 3.6 15.4 6.1 22.7s6.7 15.6 8.9 21.1s3.8 10.2 4.6 12.2M220.2 639.4c.5 1.7 1 4.8 3.1 10.1s7 15.2 9.8 21.8s5.8 14.9 6.9 17.8M218.3 624.4c1.1 4 4.2 16.2 6.9 23.7s6.9 15.6 9.3 21.5s4 11.7 4.8 14M222.4 634c.7 2.4 2.3 8.6 4.5 14.3s7 15.5 9 20.4s2.6 7.6 3.1 9.1M220.8 635.5c.8 2.3 2.1 7.9 4.6 13.7s7.4 15.6 9.9 21.4s4.2 11.5 5 13.8M220.6 629.2c1 3.3 3.7 13 6.2 19.8s6.5 15 8.7 20.9s3.8 12 4.6 14.4M220.3 629.4c1.1 3.4 4.3 13.1 7 20s6.7 14.9 9.2 21.3s4.9 14.3 5.9 17.1" stroke="#2b7aa6" stroke-width="0.9"/>
<path d="M224.5 634.9c.7 2.1 1.9 7.3 3.9 13s6.1 14.8 8.6 21.2s5.5 14.6 6.6 17.5" stroke="#0a557d" stroke-width="0.9"/>
<path d="M311.2 636.9c-.7 2-2 7.3-4.1 12.4s-6.4 13.1-8.6 18.3s-3.8 10.8-4.6 13M307.2 638.7c-.5 1.6-1.6 5.3-3.2 9.6s-4.2 11.6-6.1 16.2s-4.3 9.5-5.2 11.3M308.2 632.3c-.8 2.7-3.1 10.4-5 15.8s-4.3 11.6-6.3 16.4s-4.5 10.3-5.4 12.3M310.9 640.3c-.7 1.6-1.8 5.1-3.8 9.7s-6.2 13.3-7.9 17.8s-2.3 7.5-2.7 9M310.3 633.2c-.8 2.5-3.1 10-5 15.3s-4.3 11.6-6.3 16.4s-4.4 10.4-5.3 12.5" stroke="#2b7aa6" stroke-width="0.9"/>
<path d="M310.4 636.9c-.7 2.2-2.3 8.2-4.3 13.3s-5.9 12.9-7.8 17.3s-2.7 7.2-3.2 8.6" stroke="#1a6d99" stroke-width="0.9"/>
<path d="M312.1 631.5c-1.1 2.8-4.2 11.2-6.5 17.1s-5 12.3-7.1 17.8s-4.4 12.7-5.3 15.2M310.2 630.2c-1 3.1-4.3 12.9-6.4 18.8s-4.4 12.2-6.2 16.8s-3.4 9.1-4 10.9" stroke="#0d5f8a" stroke-width="0.9"/>
<path d="M312 629c-1.2 3.4-4.7 14-7 20.5s-5.3 14-6.9 18s-1.9 5-2.2 6M308.4 630.9c-1 3-4 12.4-6 18.1s-4.4 12.2-5.9 16.1s-2.6 6.3-3.1 7.5M311.5 635.2c-.8 2.4-3.1 8.9-5.1 14.3s-5.1 13.1-6.9 18.1s-3.6 10.2-4.3 12.2M313.8 632.5c-1 2.8-4.1 11.1-6.4 17.1s-5 13.2-7.3 18.9s-5 12.7-6 15.2M309.5 634.3c-.9 2.3-3.3 8.7-5.3 13.8s-5 12.4-6.8 17s-3.5 9.1-4.2 10.9M307.4 636.3c-.7 2.1-2.6 7.7-4.4 12.6s-4.8 11.9-6.7 16.5s-3.9 9.3-4.7 11.2" stroke="#0a557d" stroke-width="0.9"/></g>
<path d="M231.6 581.6C237.1 581.3 239.8 587.6 245 590C250.2 592.4 256.3 596 263 596C269.7 596 276.4 592.4 285 590C293.6 587.6 306.3 579.3 314.5 581.6C322.7 583.9 332.8 596.6 334 604C335.2 611.4 326.7 621.7 322 626C317.3 630.3 315.7 629.5 305.9 630C296.1 630.5 277.8 628.7 263 628.7C248.2 628.7 228.5 631.1 217.3 630C206.1 628.9 200.2 626 196 622C191.8 618 189.3 611 192 606C194.7 601 205.4 596.1 212 592C218.6 587.9 226.1 581.9 231.6 581.6Z" fill="#dc82b8" fill-opacity="0.9"/>
<path d="M226 665C225.5 662.5 227.8 653.2 231 649C234.2 644.8 239.7 642 245 640C250.3 638 257 637 263 637C269 637 275.7 638 281 640C286.3 642 291.8 644.8 295 649C298.2 653.2 300.5 662.5 300 665C299.5 667.5 294.5 665.8 292 664C289.5 662.2 287.8 656.5 285 654C282.2 651.5 278.7 650 275 649C271.3 648 267 648 263 648C259 648 254.7 648 251 649C247.3 650 243.8 651.5 241 654C238.2 656.5 236.5 662.2 234 664C231.5 665.8 226.5 667.5 226 665Z" fill="#ec93c8" fill-opacity="0.55"/>
<path d="M263 596V629" stroke="#a0608c" stroke-width="5" stroke-opacity="0.4" filter="url(#u2)" fill="none"/>
<g fill="none" stroke-linecap="round"><path d="M242.8 489.5c-.8 5.3-2.9 19.9-5.1 31.5s-5.3 26.7-8.6 38.3s-9.5 26.3-11.4 31.7s-.3 .9-.3 1.1M241.3 512.4c-.3 1.8 0 3.1-1.3 10.7s-4 23.8-6.5 34.8s-6.7 24.2-8.6 31.2s-2.5 9.1-2.9 10.9M234.2 515.9c-.6 2-.7 3.6-3.3 11.8s-8.3 26-12.2 37.9s-8.8 27.2-11 33.8s-1.9 4.7-2.3 5.7M242 501.8c-.6 3.9-1.7 13.1-3.9 23.1s-6.6 25.9-9.4 37.1s-5.2 23.3-7.2 30.2s-3.8 9.4-4.6 11.2M236.7 523c0 .1 1.2-5.4-.2 .9s-5.2 26.1-7.9 37.4s-6.8 25.3-8.1 30.4s0 .1 0 .1" stroke="#a0007d" stroke-width="0.8"/>
<path d="M236.9 517.5c-.3 1.2 .2-.4-1.5 7s-5.4 26-8.4 37.4s-6.8 22.9-9.4 31s-5.1 14.7-6.1 17.6M238.1 520.2c-.2 .9 .1-1.5-1.4 5.6s-4.8 25.6-7.9 37s-8.2 24-10.5 31.4s-2.8 11-3.4 13.1M243.6 500.6c-.7 3.7-2.3 12.2-4.2 21.9s-4.3 24.8-7 36s-7.2 25.1-8.9 31.3s-1.2 5.2-1.5 6.2M239.1 505.7c-.7 3.3-1.9 10.6-4.3 19.8s-7.1 23.6-10.5 35.2s-7.1 25-10.3 34.2s-7.6 17.4-9.1 20.9M233.9 518.6c-.4 1.3-.5 .4-2.3 8s-5.5 25.8-8.8 37.6s-8.1 24.7-11.4 33.4s-6.8 15.5-8.2 18.6M240.5 515.9c-.2 1 .9-1.6-.9 5.9s-6.7 27.7-9.6 39.2s-5.9 22.7-7.8 29.8s-2.8 10.8-3.4 13M238 505.9c-.9 3.1-2.7 9.4-5.2 18.5s-6.9 24.9-10.1 36.5s-7.2 26.1-9.2 32.7s-2.2 5.9-2.7 7.1" stroke="#d957b0" stroke-width="0.8"/>
<path d="M242.4 496.3c-.8 4.1-2.7 13.9-4.5 24.5s-4.2 27.6-6.6 39.2s-6.2 22.9-8.2 30.4s-3.3 12-3.9 14.4M241 493.5c-1 5.4-3.8 21.1-6.2 32.5s-5.6 24.7-8.4 36s-6.1 24.5-8.3 31.7s-4.3 9.5-5.1 11.4M239.9 504.2c-.8 3.6-1.9 11.4-4.5 21.3s-8.1 26.8-11.6 38.4s-7 24.2-9.4 31.3s-4.3 9-5.1 10.9" stroke="#ff8ccf" stroke-width="0.8"/>
<path d="M234.5 514.4c-.6 2-1.1 4.2-3.4 12.2s-7 24.3-10.4 35.9s-7.8 26.3-10.4 34s-4.6 9.9-5.5 11.9M241.9 494.4c-1.3 5.3-5 20.6-7.9 31.7s-6.2 23.2-9.7 34.6s-9.1 26.8-11.7 34s-3.2 7.7-3.8 9.2M242.3 499c-.6 3.8-2.2 12.3-4 22.5s-4.1 27.2-6.6 38.8s-6.6 24.2-8.3 31s-1.9 8.1-2.3 9.7" stroke="#ffb0df" stroke-width="0.8"/>
<path d="M240.8 502.1c-.7 3.7-2.3 12.7-4.3 22.3s-4.9 24.2-7.8 35.3s-7.2 23.4-9.4 31.3s-3.3 13.7-3.9 16.5M247.2 492.3c-.9 4.8-3.5 17.5-5.6 28.7s-4.7 26.8-7.2 38.4s-5.6 23.3-7.7 30.8s-4 12-4.8 14.4M243.1 490.8c-1.2 5.8-4.8 22.6-7.7 34.5s-6.4 25.6-9.5 37.1s-6.7 24.6-9.1 32.1s-4.4 11-5.3 13.2M235.4 506.4c-.6 3-.9 8.4-3.6 18s-8.7 27.9-12.5 39.6s-7.6 23-10.4 30.9s-5.4 13.5-6.5 16.2" stroke="#f283c6" stroke-width="0.8"/>
<path d="M240.9 496.5c-1.1 4.5-4 16.1-6.7 26.8s-6.1 25.3-9.6 37.3s-9.1 28.1-11.3 34.6s-1.4 3.6-1.7 4.3M235.1 516.7c-.4 1.5 .4 1.4-2 9.1s-8.5 25.8-12.2 37.5s-6.9 22.6-10.1 32.6s-7.4 22.8-8.9 27.4M240.5 501.9c-.8 3.6-2.6 11.9-5.1 21.8s-6.6 26-9.7 37.7s-7.1 25.9-9.1 32.9s-2.5 7.3-3 8.7" stroke="#ffb5e0" stroke-width="0.8"/>
<path d="M243 490.6c-.8 5.4-2.6 20.9-5.1 32.2s-6.8 24.1-10 35.3s-6.7 24.1-9.2 32.3s-4.7 13.9-5.6 16.7M243.2 498c-.8 4.4-2.1 15.6-5 26.4s-8.8 26.8-12.3 38.5s-7.1 25.9-8.6 31.4s-.5 1.3-.6 1.6M235.9 510.3c-.7 2.8-1.4 8-3.8 16.9s-7.1 24.6-10.5 36.1s-8.2 27-9.9 32.6s-.2 .5-.2 .6M238.3 516.2c-.4 1.4-.2 .9-2.1 8.3s-6.6 25.2-9.3 36.2s-5.5 23.3-7.2 29.6s-2.5 6.7-3 8M236.5 509.1c-.6 2.7-1.2 7.4-3.6 16.1s-7.3 24.3-10.8 35.7s-8.3 26.6-10.3 32.9s-1.5 4.1-1.9 4.9M234.8 516.8c-.4 1.5-.2 1.8-2.1 9.4s-6.3 24.8-9.7 36.1s-9.1 26-11.1 31.7s-.6 1.9-.7 2.3" stroke="#b0198c" stroke-width="0.8"/>
<path d="M238.1 496.5c-1.2 4.9-4.4 18.4-7.4 29.4s-7.1 24.6-10.6 36.4s-6.7 24.2-10.3 34.1s-9.7 20.7-11.6 24.8M238.2 521.5c0 0 1.3-6-.1 .5s-5.9 26.9-8.5 38.3s-5 23.1-6.9 30s-3.6 9.6-4.4 11.5M244 501.6c-.6 3.7-1.5 12-3.3 21.9s-5.2 26.6-7.7 37.7s-6.1 23-7.8 29.2s-2 6.7-2.4 8.1" stroke="#ff9fd8" stroke-width="0.8"/>
<path d="M241.3 498.6c-.9 4.3-3.4 15.4-5.8 25.8s-5.4 25.4-8.4 36.9s-6.1 22.7-9.2 31.9s-8 19.4-9.6 23.3M240.1 512.2c-.3 1.6-.4 2.1-1.8 9.8s-3.8 25.3-6.6 36.8s-7.9 26.2-9.6 32.5s-.8 4.5-1 5.4M244.4 498.4c-.9 3.8-3.1 13-5.4 23.2s-5.5 26-8.5 37.8s-7.7 27.4-9.4 33.3s-.6 1.8-.7 2.2M241.5 502.9c-.7 4.1-2 14.2-4.7 24.3s-7.8 25.5-11.5 36.5s-8.5 23.2-10.7 29.2s-1.9 5.7-2.3 6.8M235.3 511.3c-.4 2-.3 3.7-2.5 11.9s-7.2 25.2-10.7 37.2s-7.7 25.5-10.5 34.4s-5.3 16.1-6.4 19.3M246.7 491.5c-.6 5-1.2 18.9-3.1 30s-5.7 25.6-8.3 36.8s-5 22.6-7.4 30.7s-5.5 15.3-6.6 18.3" stroke="#f79ad3" stroke-width="0.8"/>
<path d="M235.2 516.4c-.4 1.7 .2 2.2-2 9.7s-7.6 24.2-11.1 35.6s-7.3 25.3-9.6 32.6s-3.6 9.3-4.3 11.2M237.5 508.1c-.7 2.7-1.7 7.7-4 16.4s-6.5 24.1-9.7 36s-7.5 29.2-9.2 35.5s-.8 1.7-.9 2.1M231.1 523.4c-.1 .5 1.4-3.9-.8 2.9s-8.2 26.2-12.1 37.8s-8.9 25.5-11 31.7s-1.7 4.7-2.1 5.6M240.7 494.8c-.8 4.7-2 16.7-4.4 28s-7 28.3-9.9 40s-5.3 22.5-7.3 30.2s-4.2 13.6-5 16.4" stroke="#ffb0df" stroke-width="0.8"/>
<path d="M232.9 514.3c-.5 1.9-1.3 3.3-3.4 11.4s-5.7 25.1-9.2 36.7s-9.2 26.7-11.5 33.2s-2 5.1-2.4 6.1M239.6 500.2c-1 4.1-2.9 14.4-5.5 24.6s-6.7 24.9-10.1 36.5s-7.3 25.1-10 33.2s-5.1 13-6.1 15.6M244.6 500.7c-.5 3.2-1.3 10-3.1 19.5s-5.5 26.1-7.7 37.9s-3.8 24.3-5.5 32.8s-3.6 15.5-4.4 18.6" stroke="#a0007d" stroke-width="0.8"/>
<path d="M239.9 490c-1.3 5.8-4.8 22.9-7.9 34.7s-7 24.5-10.6 36.3s-8.5 26-11.2 34.5s-4.2 14-5.1 16.8M235.4 514.4c-.4 1.9-.2 3.6-2.8 11.7s-8.8 24.6-12.7 36.5s-8.7 27.8-10.7 34.3s-1.5 3.8-1.7 4.6M238.1 521.5c-.1 .5 .9-3.3-.4 3s-4.8 23.6-7.5 34.7s-6.1 22.6-8.8 32.1s-6.1 20.5-7.3 24.6M232.4 515.2c-.5 1.9-.7 3.4-2.9 11.4s-6.8 24.9-10.4 36.4s-8.8 26.4-11.1 32.9s-2.2 5.2-2.7 6.3" stroke="#f79ad3" stroke-width="0.8"/>
<path d="M234.7 524.6c0 .1 1.4-5.7-.1 .5s-5.9 25.6-9 37s-7.9 25.4-10.1 32s-2.5 6.5-3 7.8M237.5 502.5c-.8 3.7-2.3 12.3-5.1 22s-7.6 24.8-11.6 36.7s-9.5 26.7-12.1 34.5s-2.8 10.5-3.4 12.5M239.3 516.5c-.1 .5 .7-3.5-.7 3.3s-4.7 25.5-7.4 37.4s-6.3 25.4-8.6 34.1s-4.1 15.2-4.9 18.2M244 495.7c-.6 4.7-1.8 17.2-3.6 27.9s-5.3 24.9-7.7 36.1s-4.7 23.3-6.6 30.6s-4.3 11-5.1 13.2M243.1 492.8c-1.2 5.2-4.9 19.7-7.7 31.2s-5.8 25.9-9.1 37.4s-7.9 24-10.5 31.9s-4.2 12.9-5.1 15.4" stroke="#ff8ccf" stroke-width="0.8"/>
<path d="M235.5 520.9c-.2 .8 .5-1.9-1.1 4.9s-5.3 24.7-8.4 36.1s-8.3 25.6-10.4 32.1s-1.9 5.6-2.2 6.7" stroke="#ffb5e0" stroke-width="0.8"/>
<path d="M239.7 498c-1.3 5-5.1 19.3-7.6 29.8s-4.4 22.7-7.6 33.4s-8.4 21.6-11.9 30.8s-7.5 20.5-9 24.6M240.8 509.7c-.4 2.1-.6 4.6-2.4 12.6s-5.9 23.9-8.5 35.5s-6.1 27.8-7.6 33.9s-1 2.5-1.2 3M237.8 520c-.1 .3 1.1-4.5-.4 2.3s-6.4 26.4-9.1 38s-4.8 23.6-7 31.6s-5.2 13.5-6.2 16.2M234.8 507.8c-.8 2.9-2.4 9-4.6 17.8s-5.3 23.3-9 34.8s-10.7 27.9-13.2 34.4s-1.6 3.9-1.9 4.7M243 510.2c-.3 1.9 .1 3.6-1.7 11.7s-6 25.7-8.6 37s-4.9 23.4-6.8 30.7s-3.6 11-4.3 13.2M243.7 495c-.8 4.6-2.7 16.8-4.9 27.7s-5.7 25.9-8.2 37.2s-4.9 23.4-6.8 30.6s-3.6 10.8-4.3 13M231.8 522.1c-.3 1.1 .2-.2-1.7 6.5s-6.2 23-9.9 34s-8.5 22.5-12 31.9s-7.1 20.5-8.6 24.6M243.6 491.7c-1.3 5.4-4.9 21-7.4 32.5s-5.2 25.1-7.8 36.6s-5.9 26.3-7.4 32.7s-1.3 4.8-1.6 5.7" stroke="#ff9fd8" stroke-width="0.8"/>
<path d="M240.1 488.8c-1.5 6-6.1 23.6-8.9 35.7s-4.9 25.6-8.1 37.1s-8 22.7-11.4 31.6s-7.7 18-9.3 21.6M240.2 496.7c-1 4.5-3 16.1-5.7 26.7s-6.8 25.4-10.3 36.9s-7.6 22.8-10.6 32.5s-6.3 21.3-7.6 25.5M243.3 493.6c-.7 4.9-2.5 18.6-4.6 29.5s-5.1 24.9-7.9 36s-6.9 24.2-8.8 30.7s-2 7.2-2.4 8.6M232.6 517.3c-.2 1 .5-1.3-1.5 6.1s-6.9 26.4-10.3 38.2s-7 24.1-9.8 32.6s-5.7 15.4-6.9 18.5M238.7 492.3c-1.3 5.6-4.5 21.4-7.4 33.2s-6.3 26.3-9.9 37.8s-8 21.8-11.8 31.3s-8.9 21.1-10.7 25.4M234.2 521.7c-.1 .6 1.1-3.5-.7 3.5s-6.4 27.3-9.8 38.7s-9 24.5-10.9 29.7s-.5 1.4-.6 1.7M242.2 487.8c-.9 5.9-3.6 23.5-5.8 35.6s-4.7 25.7-7.1 37.3s-5 23.5-7.4 32.2s-6.1 16.9-7.3 20.2M241.7 494c-1.2 4.9-4.1 18.2-7.3 29.3s-8.7 25.7-11.7 37.5s-3.7 23.7-6.4 33s-8.1 19-9.7 22.8" stroke="#b0198c" stroke-width="0.8"/>
<path d="M230.9 518.4c-.4 1.2-.5-.1-2.4 7.5s-6.1 26.4-9.3 37.8s-7.4 24.2-9.8 30.9s-3.4 7.5-4.1 9M238.2 505.7c-.9 3.5-2.7 11.2-5.1 20.7s-5.6 25.1-9 36.3s-9 23.5-11.5 30.8s-2.9 10.4-3.4 12.4M233.7 523.9c0 .2 1.1-4.8-.4 1.6s-5.4 25.4-8.6 36.8s-7.7 23.5-10.7 31.7s-5.8 14.7-6.9 17.6M237.2 506.7c-.5 3-.5 9.3-3 18.2s-8.5 23.8-11.9 35.5s-6.3 26.8-8.7 34.4s-4.3 8.8-5.2 10.6M233.4 524.5c-.1 .1 1.6-5.4-.2 .6s-7.5 24.2-10.6 35.8s-5.7 25.9-8.1 33.9s-5.1 11.6-6.1 13.9M237.4 507.3c-.8 3.3-2.1 10.2-4.9 19.6s-7.7 25.2-11.7 36.8s-10.2 26.9-12.3 32.5s-.3 .8-.4 .9M236.5 522.7c0 .4 1.4-4.5-.4 2.3s-7.4 26.9-10.7 38.5s-7.1 25-8.9 31.1s-1.5 4.4-1.8 5.3" stroke="#d957b0" stroke-width="0.8"/>
<path d="M299.1 524.9c.1 .1-1.8-5.6 .4 1s8.9 26.9 12.9 38.2s8.7 24.3 10.6 29.5s.9 1.5 1 1.8M292.9 516.1c.6 1.7 1.3 2.4 3.7 10.3s6.5 26.1 10.4 37.3s10.3 23.6 13.5 30.2s4.5 7.9 5.4 9.5M299 507.7c1.2 2.7 3.6 7.8 6.9 16.3s8.9 23.7 12.6 34.5s6.7 23 9 30.2s4.2 10.7 5 12.8M291 494.2c1.9 5.1 7.5 19.2 11.4 30.6s8.1 26.8 11.8 37.7s8.8 22.5 10.7 27.6s.9 2.2 1 2.7M296.3 520.2c.3 .9-.3-2.2 1.9 5s7.9 27.1 11.5 38.3s7.1 22.7 9.6 28.9s4.6 6.9 5.5 8.3M296 496c1.3 4.6 4.5 17 7.8 27.5s8.5 24 12.2 35.2s7.6 24.2 10.3 31.6s4.7 10.8 5.6 13" stroke="#ffb5e0" stroke-width="0.8"/>
<path d="M286.3 492.5c2.1 5.5 8.7 21.3 12.8 33s7.4 25.4 11.4 36.8s9.2 23.9 12.5 31.3s6.1 11.1 7.3 13.3M292.8 497.9c1.6 4.6 6.5 17.2 9.9 27.8s6.7 24.8 10.4 35.7s8.9 21.4 12.2 29.5s6.3 16.3 7.6 19.5M289.9 510.3c1 2.8 2.9 7.7 6 16.7s8.9 25.9 12.8 37.2s7.5 23.7 10.6 30.9s7 10.4 8.5 12.4M294.7 514.6c.7 1.7 1.1 2.7 4 10.3s9 24.1 13.2 35.2s8.8 24.5 11.7 31.5s4.8 8.8 5.8 10.6M294.6 517.7c.4 .9 .2-1.8 2.2 5.5s6.3 26.1 9.8 37.9s8.5 25.4 11.5 32.4s5.6 7.8 6.7 9.4M299.2 502.8c1.3 3.3 4.9 10.5 7.9 20s7.2 26.3 10.2 37.2s5.5 22.2 7.7 28.5s4.7 8 5.7 9.6M288.4 494.6c1.9 5.1 7.3 18.6 11.1 30.2s8.1 27.8 11.7 39.4s7.7 24.2 9.9 30.4s3 5.7 3.6 6.9" stroke="#f283c6" stroke-width="0.8"/>
<path d="M294.6 499.4c1.7 4.3 6.5 15.4 10.1 25.7s8.4 25.3 11.9 36.1s7.5 23.8 9.2 28.9s.7 1.4 .9 1.7M300.7 522.5c0 .3-1.8-4.6 .5 1.8s9.6 25.9 13.3 36.8s7.1 23.2 8.8 28.6s1.4 3.2 1.7 3.8M297.1 524.2c0 .2-1.8-5.4 .3 1s8 26.1 12.2 37s10.5 23.3 13 28.8s1.6 3.7 1.9 4.5M290.7 517.8c.3 1.2-1.2-1 1.8 6.7s11.3 27.5 16 39.3s9.2 24.6 12.2 31.6s4.4 8.6 5.3 10.3M302.3 523.9c.1 .1-1.9-5.7 .2 .4s9.1 24.9 12.3 36s5.8 25.1 7.2 30.6s1.2 2.2 1.4 2.6M296.4 496.5c2.2 4.5 9.4 16.2 13.3 26.7s7.1 25.4 10 36.2s6.3 23.8 7.7 28.8s.6 1.3 .7 1.6M288 509c.9 2.9 2.7 8.7 5.7 17.7s8.3 25.2 12.5 36.1s9.4 21.8 12.7 29s6 11.8 7.2 14.1" stroke="#d957b0" stroke-width="0.8"/>
<path d="M285.1 504c1.2 3.6 3.6 11.9 7.2 21.7s10.4 25.9 14.6 36.9s7.4 22.2 10.5 29.5s6.8 12 8.1 14.4M308.6 522.9c0 .2-1.3-4.8 .4 1.2s6.4 24.4 9.7 35.2s8.2 24.6 9.8 29.6s.2 .4 .3 .5M288.1 495.1c1.7 5 6.1 19.2 10.1 30.2s9.6 24.9 13.5 35.8s7.6 23 10 29.5s4.1 8 4.9 9.7M293.2 494c1.7 5 6.6 19.3 10.3 30.1s8.8 23.5 12.2 34.6s5.9 25.3 8.1 31.8s4 6 4.8 7.2" stroke="#a0007d" stroke-width="0.8"/>
<path d="M294.4 510.5c.9 2.6 2.4 6.9 5.5 15.7s9.1 25.5 13.1 36.7s8 22.9 11.2 30.6s6.7 12.8 8 15.4M284.8 497c2 4.8 7.7 17.6 11.9 28.8s8.9 27.1 12.9 38.4s7.6 22.4 10.5 29.4s6.2 10.5 7.4 12.7M291.6 492.2c1.5 5 5.3 18.7 8.8 30s7.9 26.7 11.9 38.3s8.7 23.5 12.1 31.2s6.6 12.7 7.9 15.2M297.3 509.8c.9 2.4 2.5 5.9 5.4 14.2s8.3 24.8 11.8 35.7s7.1 24.2 8.9 29.9s2 3.7 2.4 4.4M289.6 505.4c.9 3 2.4 8.4 5.8 17.8s10.3 26.9 14.7 38.6s7.9 23.9 11.3 31.7s7.1 12.4 8.6 14.9M290.9 498.9c1.6 4.1 5.6 14.1 9.2 24.3s9 25.4 12.8 36.9s8.1 26.5 10 32.2s1 1.7 1.2 2M298.4 516.9c.5 1.3 .6 .6 2.9 8.1s7.6 26 11.2 37.3s7.4 22.2 10.5 30.5s6.7 16.1 8 19.3M307.9 516.3c.4 1 .1-1 2.4 5.9s8 24 11.1 35.3s6.6 27.1 7.9 32.7s.3 .6 .3 .7" stroke="#ff9fd8" stroke-width="0.8"/>
<path d="M302.9 512.8c.7 1.8 1.9 3.1 4.4 11s7.3 25.4 10.8 36.4s7.1 21.7 10.1 29.6s6.4 14.9 7.7 17.9" stroke="#b0198c" stroke-width="0.8"/>
<path d="M289.9 510.2c.7 2.7 1.7 7.2 4.6 16s8.6 25.9 12.7 37s8.7 22.9 11.7 29.8s5 9.8 6.1 11.7" stroke="#ff8ccf" stroke-width="0.8"/>
<path d="M293 503.2c1.1 3.5 3.7 11.2 6.9 20.9s8.4 26.4 12.3 37.6s8.7 23.8 11.1 29.6s2.8 4.5 3.3 5.4M294.3 498.9c1.8 4.3 6.9 15.3 10.7 25.3s8.4 24.1 12.2 35s8.2 23.8 10.3 30.2s2.1 6.5 2.5 7.8" stroke="#f79ad3" stroke-width="0.8"/>
<path d="M285.5 500.9c1.4 4.1 4.2 14.5 8 24.9s10.2 26.5 14.5 37.7s9.4 24 11.7 29.8s1.8 3.8 2.2 4.6M286.6 493.2c2 5.3 7.7 20.5 11.9 31.7s9.1 24.6 13 35.7s7.4 23.1 10.8 31.3s8.1 15.2 9.7 18.2M289.7 509.1c.8 2.8 2 7.6 4.8 16.4s7.7 25.5 11.9 36.6s10.7 23.7 13.7 29.8s3.7 5.4 4.4 6.5M297.4 501c1.6 3.7 6.3 12.4 9.8 22.5s7.8 27.6 11.5 38.6s8.6 21.9 11 27.7s2.6 6.2 3.2 7.4" stroke="#ffb0df" stroke-width="0.8"/>
<path d="M299.7 515.3c.6 1.5 1.2 1.7 3.7 9.2s7.5 25.1 11 36s7.1 21.9 10 29.6s6.4 14.1 7.7 16.9M298.3 503.6c1.1 3 3.1 8.6 6.3 18s9.4 27 12.9 38.4s5.8 23.2 7.9 29.9s3.9 8.7 4.7 10.5M288.1 490.2c2.1 5.7 8.5 22.3 12.6 34.1s8.5 25.7 12.1 36.9s6.7 22.2 9.7 30.2s7.3 14.8 8.7 17.8M283.4 491.3c2.2 5.9 9.1 23.3 13.2 35.4s7.2 26.3 11.3 37.4s9.1 21 13.1 29.1s9.4 16.3 11.2 19.5M294.7 510.6c.9 2.3 2.3 5.2 5.1 13.5s8 25 11.8 36.2s9.1 25.2 11.1 30.8s1.1 2.6 1.3 3.1M294.7 516.5c.5 1.5 .2 .8 2.9 8.9s9.9 28.7 13.6 39.9s5.6 19.1 9.1 27s9.9 16.6 11.8 19.9M294.2 524.4c0 .1-1.9-5.8 .2 .7s8.3 26.8 12.6 38.3s9.8 23.6 13.1 30.8s5.4 10 6.5 12M292.6 522.2c.2 .5-1.3-3.9 1.2 3.1s9.6 27.2 14.1 38.8s10.7 25.6 13 31.1s.7 1.2 .8 1.4" stroke="#ff9fd8" stroke-width="0.8"/>
<path d="M285.3 506.2c.9 3.4 2.1 10.6 5.5 20.4s10.4 27.2 15.1 38.5s10.9 24.2 13.3 29.7s1.1 2.5 1.3 3M299.4 507.5c1.2 2.8 4.6 7.6 7.4 16.3s6.3 24.9 9.6 36s8.1 24.5 10.3 30.4s2.2 4.4 2.6 5.3M286 500.7c1.4 4.6 5 16.8 8.3 27.4s7.9 25 11.8 35.9s8.5 22.3 11.8 29.7s6.8 12.3 8.1 14.7M294.8 494.7c1.8 4.8 7.1 17.6 10.5 28.5s6.6 26.5 9.9 37.4s7.9 23.4 9.6 28.4s.7 1.3 .8 1.6M298.4 519.5c.2 .7-.8-3 1.5 4.1s8.1 26.7 11.9 38.1s8.4 24.7 10.4 30.2s1.5 2.7 1.8 3.2M294 497.1c1.5 4.4 5.1 15.9 8.6 26.5s9.3 25.4 13 36.7s6.5 23.8 8.9 31.1s4.8 10.4 5.8 12.5" stroke="#d957b0" stroke-width="0.8"/>
<path d="M288.5 506.1c1.1 3 3.8 8.8 7 18.3s8.1 27 11.8 38.5s7.6 23 10.6 30.3s6 11.2 7.2 13.4" stroke="#ff8ccf" stroke-width="0.8"/>
<path d="M304.7 519.9c.3 .6-.9-3 1.5 3.6s9.4 24.8 13 35.9s6.7 25.2 8.4 30.6s1.2 2 1.5 2.4M293.9 521.3c.3 .9-.2-1.6 2.1 5.6s7.8 25.9 11.6 37.5s7.9 24.9 11.1 32.3s6.6 10.2 7.9 12.2M289.4 504.5c1.1 3.2 3.9 9.5 7 19s7.8 26.3 11.6 37.9s7.9 23.8 11.4 31.9s8.3 14.2 10 17M300.9 502.6c1.2 3.2 4.4 9.9 7.6 19.2s8.5 25.9 11.9 36.8s6.4 22.8 8.2 28.8s2 6.1 2.5 7.3M289.7 509.9c.7 2.6 1.1 7.1 4.3 16s10.7 25.7 14.7 37s7.7 25.1 9.7 30.9s2.1 3.3 2.5 4M292.4 520.6c.4 1-.3-1 2.3 6s8.6 25.2 12.8 36s9.6 23.2 12.4 29.2s3.5 6.1 4.2 7.3" stroke="#b0198c" stroke-width="0.8"/>
<path d="M287.5 504.3c1.4 3.7 4.7 12.4 8.2 22.2s8.6 25.6 12.7 36.9s9.5 25.1 12 31.1s2.3 4.1 2.7 4.9M302.3 512.6c.6 1.9 1.5 3.4 3.9 11.1s7.4 24.1 10.7 35.1s7.2 25 9.1 31s2.2 4.4 2.6 5.3M293 523.2c.3 .8-1-1.7 1.5 4.8s9 23.4 13.5 34.2s10.5 24.1 13.5 30.5s3.4 6.7 4.1 8M284.5 498.4c1.3 4.7 4.6 16.8 8.1 27.9s8.3 27.2 12.6 38.6s9.4 21.7 13.1 29.8s7.2 15.8 8.7 19" stroke="#f79ad3" stroke-width="0.8"/>
<path d="M298.1 524.7c.1 .1-1.5-5.4 .3 .7s6.9 24.3 10.7 35.5s9.7 25.5 12.3 31.7s2.6 4.6 3.1 5.5M288.2 493c1.6 5.6 5.8 22.3 9.6 33.6s9.4 23.7 13.3 34.5s7.1 22.4 10.3 30.3s7.7 14.4 9.2 17.3M302.4 508.9c1 2.3 3.2 5.3 5.8 13.7s6.3 24.9 9.4 36.3s6.2 24.2 9 32.1s6.4 12.4 7.6 14.9M290 500.6c1.3 3.8 4.4 12.7 7.7 22.8s8.3 26.6 12.2 37.7s7.5 21.2 10.9 29.3s7.8 16.2 9.4 19.4M293 494.1c2 5 8.3 19.1 12 30.2s6.8 25.4 10.2 36.4s7.6 23.3 10.2 30.1s4.7 9 5.6 10.8" stroke="#f283c6" stroke-width="0.8"/>
<path d="M285.6 496.4c2 5 8 18.4 11.9 29.8s7.7 27.2 11.6 38.2s8.5 20.6 11.6 28.1s5.7 14.1 6.9 16.9M290 504.9c1.3 3.4 4 10.6 7.6 20.1s10 25.8 14.1 36.6s7.5 22.1 10.2 28.7s4.8 9.1 5.8 10.9M292.2 497.4c1.8 4.5 7.4 16.4 11 26.8s7.1 24.5 10.9 35.8s8.9 24 11.9 31.9s5.2 13.3 6.2 15.9" stroke="#ffb0df" stroke-width="0.8"/>
<path d="M290.1 494.7c1.8 5 7.1 18.8 10.8 29.9s7.6 25.4 11.5 36.2s9 22.2 11.9 28.8s4.6 9.2 5.5 11.1M300.5 506.9c1.2 2.7 4.3 7.4 7.2 16.4s6.6 26.7 10.1 37.6s8.2 21.4 10.7 27.6s3.3 8.2 3.9 9.9M294.4 517c.4 1.2 .1-.6 2.4 7.1s7.9 27.2 11.7 38.6s8.6 23 11.2 29.8s3.5 9.3 4.2 11.2" stroke="#a0007d" stroke-width="0.8"/>
<path d="M296 510.3c.8 2.3 1.8 5.5 4.8 14.1s9 26.2 13 37.1s8.2 20.9 11 28.1s5.2 12.7 6.2 15.3M289.7 499.3c1.7 4.6 6 16.7 9.9 27.3s9.7 24.9 13.5 36.1s6.7 23.9 9.5 31.1s5.8 9.9 6.9 11.9M298 497.8c1.5 4 5.3 14 8.9 23.9s9.1 24.3 13 35.4s8.3 23.7 10.4 30.8s2.2 9.8 2.6 11.8M293.8 525.3c.1 .3-1.8-4.5 .5 1.8s9.3 25.3 13.3 36.1s7 20.5 10.9 29s10.4 17.9 12.5 21.5" stroke="#ffb5e0" stroke-width="0.8"/>
<path d="M233.7 596.4c-1.6 1.1-6.1 3.4-9.6 6.9s-7.8 8.8-11.3 13.9s-7.5 12.3-10.2 16.7s-4.9 8.2-5.9 9.8M230.9 600.3c-.9 .7-2.6 .7-5.5 3.9s-8.4 9.9-11.7 14.9s-6.3 11.5-8.4 15.2s-3.4 5.9-4 7.1M227.5 611.1c-.1 .1 1.6-1.6-.3 .3s-8.2 7.6-11.3 11.3s-6.4 8.9-7.7 10.7M227.8 608.3c-.2 .1 1-1.7-1 .7s-7.7 8.9-11.1 13.2s-7.7 10.5-9.3 12.8s-.2 .6-.3 .7M236.7 594.3c-2.2 1.6-9.3 5.9-13.6 9.7s-8.9 8.5-12.2 13.1s-6.1 11.9-7.6 14.7s-.8 1.8-1 2.2" stroke="#f79ad3" stroke-width="0.8"/>
<path d="M234.3 595.4c-1.8 1.3-7.3 3.9-10.8 7.6s-7 10-10.3 14.6s-8.1 11-9.7 13.2M219.8 593.8c-.3 .3 1-1.4-1.9 1.5s-11 10.6-15.2 16s-7.9 13.2-9.5 15.9M218.2 597.1c-.1 0 1.5-2.2-.4 .3s-7 9.6-11 15s-10.1 12.4-13 16.9s-3.8 8.6-4.5 10.4M221.3 598.4c-.1 .1 1.7-2-.5 .3s-9.2 8.4-13 13.5s-8.5 14.2-10.2 17.1s-.2 .4-.2 .4" stroke="#f283c6" stroke-width="0.8"/>
<path d="M221.4 592.8c-.6 .4-.3-.9-3.3 2.1s-10.7 10.4-14.8 16.1s-8.1 13.9-10.2 17.8s-2 4.9-2.5 5.9M228.3 604.1c-.6 .5-.9 .3-3.6 3.1s-8.8 9.1-12.4 13.5s-6.8 9.4-9 13.2s-3.5 8.2-4.2 9.9M228.7 601.9c-.6 .5-1.4 .1-3.8 3s-7.4 9.6-10.8 14.4s-7.6 11.2-9.5 14.1s-1.4 3-1.7 3.6M238.2 599.2c-1.7 1.9-6.7 7.3-10.3 11.1s-7.5 7.6-10.8 11.7s-7 9.5-8.7 12.6s-1.5 4.7-1.8 5.7M226.3 611.8c-1.7 2-7.2 8.1-10 12.2s-4.9 8.7-7 12.5s-4.8 8.6-5.7 10.3" stroke="#ffb0df" stroke-width="0.8"/>
<path d="M226.5 595.3c-1.1 .8-3.3 1.8-6.4 4.9s-8.5 8.4-12.1 13.3s-8.1 13.2-9.8 16s-.4 .7-.5 .8M220.9 596.4c-.4 .2 .4-1.2-2.1 1.7s-9.1 10.2-13.1 15.4s-8.9 12.6-11 15.8s-1.4 2.9-1.6 3.4M223.1 597.9c-.3 .2 .7-1.2-1.9 1.6s-10.3 9.8-14.2 14.8s-7.7 12.4-9.3 15.1s-.3 .7-.4 .8M234.6 594.6c-1.8 1.6-7.2 6.1-11.1 10s-9.1 8.5-12.5 13.1s-6 10.6-8.2 14.1s-3.8 5.9-4.6 7.1M217.9 601.3c-1.9 1.9-7.3 6.6-11 11.2s-8.1 11.5-11 16s-5.2 9.2-6.3 11M240 598.3c-2.1 1.4-8.5 4.7-12.3 8.7s-7.6 11-10.7 15.5s-5.9 7.9-8 11.4s-3.7 7.8-4.4 9.3M218.1 599.7c-2.1 2.3-9 8.7-12.8 13.8s-7.7 13.2-9.7 16.8s-1.6 3.7-2 4.4M229.1 606.7c-.4 .4-.6-.2-2.8 2.3s-7.4 8.1-10.3 12.6s-5.9 11.1-7.6 14.4s-2.2 4.1-2.7 5" stroke="#ff8ccf" stroke-width="0.8"/>
<path d="M224.4 609.9c-1.7 2.2-7.5 9-10.2 12.9s-4.9 8.5-5.9 10.2M227.2 589.8c-1.8 1-7.1 2.5-10.8 6.1s-8.3 10-11.9 15.4s-6.6 11.7-9.5 16.8s-6.3 11.8-7.6 14.1M226.4 604.3c-.2 .2 .5-1.5-1.4 1.1s-6.4 9.3-9.8 14.2s-7.6 11.4-10 15s-3.8 5.8-4.6 6.9M233.7 595c-2 1.3-7.8 4.5-11.7 8.2s-7.9 8.9-11.8 13.7s-9 10.8-11.5 15.2s-2.8 9.1-3.3 10.9M224.7 608.6c-1.7 2-6.5 7.3-9.9 11.6s-8.5 11.7-10.3 14.1s0 0 0 0M237.4 600.6c-1.6 1.3-6.5 4.5-10 7.9s-7.5 8.2-10.9 12.5s-7.7 10-9.6 13.1s-1.7 4.7-2 5.6M236 595.4c-2 1.4-8.4 4.4-12.3 8s-8.1 9-11.1 13.9s-4.8 11-7.1 15.4s-5.5 9.3-6.6 11.2M235.7 593.4c-2 1.8-8.3 6.2-12 10.5s-7.3 10.6-10.6 15.4s-6 9.2-8.8 13.5s-6.5 10.1-7.8 12.1" stroke="#d957b0" stroke-width="0.8"/>
<path d="M230.6 593c-1.7 .9-6.4 1.9-10.1 5.4s-8.4 10.2-12 15.5s-7.1 11.2-9.6 16.2s-4.7 11.5-5.6 13.8M231.1 609.4c-.2 .3 .7-.7-1.6 1.9s-8.8 9.3-12.2 13.4s-6.8 9.2-8.1 11M229.5 607.8c-.1 .1 1-1.5-1.1 1s-8.2 10-11.4 14s-6.2 8.2-7.4 9.8M228.1 589c-1.5 1.3-5.6 4.3-9.4 8.3s-9.9 10-13.8 15.2s-8.2 13.2-9.9 15.8M235.2 590.7c-2.3 1.8-9.2 7.1-13.7 11.1s-9.7 8-13.4 12.6s-7 12.3-8.4 14.8M224.5 598.1c-.6 .4-.5-.1-3.3 2.6s-10 8.8-13.5 13.6s-6.4 13-7.7 15.7s-.3 .7-.3 .8M227 601.5c-.5 .3-.4-1.1-3 1.9s-9 11.6-12.4 16.5s-6.3 8.8-8.4 12.7s-3.9 8.8-4.7 10.6M239.5 596.3c-2.3 1.7-9.4 6.5-13.8 10.4s-9.3 8.8-12.7 13.4s-6.2 10.5-8.1 14s-2.7 5.7-3.3 6.8M233.3 593.7c-1.9 1.4-7.4 4.4-11.4 8.1s-8.9 9.5-12.2 14.5s-6.1 12.1-7.8 15.4s-2 3.5-2.4 4.2M225.3 606.6c-.1 0 1.4-2-.6 .4s-8.2 9.5-11.2 13.9s-5.6 9.8-7.1 12.5s-1.7 2.7-2.1 3.3" stroke="#ff9fd8" stroke-width="0.8"/>
<path d="M227.2 612.4c2.1-.2 2.8-1.2 12.7-1.5s34-.3 46.4-.6s23.3-.9 28-1.1M213.2 607c4.3-.6 14-3.1 25.9-3.8s34.2-.1 45.5-.3s18.5-.9 22.2-1.1M229 617.4c1.9-.2 1.8-1.1 11.3-1.4s35.6 .2 45.7 0s12.3-.9 14.8-1M213.2 624.2c4.4-.3 14.5-1.7 26.5-2.1s33.7 0 45.8-.3s22-1.4 26.4-1.6" stroke="#ff9fd8" stroke-width="0.7"/>
<path d="M228.3 605.9c2.1-.3 3.1-1.3 12.8-1.8s34.5-.8 45-1.2s14.8-1 17.8-1.3M219.7 611.2c3.3-.5 9.1-2.1 20.1-2.6s35.6 .2 46.1 0s14.2-.7 17.1-.9" stroke="#ff8ccf" stroke-width="0.7"/>
<path d="M232.8 611.1c1.3-.2-1.5-.8 7.4-1s34.9 0 46-.3s16.9-1 20.3-1.2M217.7 613.9c3.6-.4 10.5-1.9 21.7-2.4s35.6-.4 45.9-.6s13.6-.5 16.3-.6" stroke="#f9a8d8" stroke-width="0.7"/>
<path d="M220.1 606.3c3.2-.4 8.3-2.5 19.3-2.9s37.5 .8 46.4 .8s6.3-.3 7.6-.4M216.9 606.4c3.8-.5 11.3-2.5 22.7-2.9s34 .5 46 .2s21.8-1.6 26.1-1.9" stroke="#ffc4e8" stroke-width="0.7"/>
<path d="M235.8 602.4c.6-.1-4.5-.4 3.7-.5s36.3 .1 45.7 0s8.9-.5 10.7-.7M232.9 603.2c1.1-.2-2-1 6.8-1.1s36.5 .6 46.1 .6s9.8-.9 11.8-1M215 619.8c4.2-.4 13.3-1.7 25.1-2.1s34.5-.3 45.8-.6s18.5-.9 22.2-1" stroke="#f283c6" stroke-width="0.7"/>
<path d="M222.2 604.1c2.9-.5 6.9-2.4 17.5-3s36.3-.5 46.5-.8s12.1-.8 14.5-1M214 622.2c4.3-.4 13.8-1.9 25.9-2.4s35.9-.3 46.6-.5s14.8-.7 17.8-.8M228.3 615.1c2-.3 2.4-1.1 11.9-1.3s35.6 .1 45.5-.1s11.2-.5 13.4-.6M229.8 612.5c1.6-.2 0-.9 9.1-1.1s33.8 .4 46 .2s22.5-1.3 27-1.6" stroke="#ffb0df" stroke-width="0.7"/>
<path d="M214.5 615.4c4.4-.4 13.9-2.2 26-2.7s35.1 .1 46.1-.1s16.9-1 20.3-1.2M234.4 614.2c1-.2-2.7-.7 6-.8s33.9 .3 46.2 .2s23.3-.6 27.9-.7M232.6 606.1c1.2-.1-1.4-.8 7.4-.9s34.1 .7 45.4 .5s18.9-1 22.7-1.2M235.1 605.5c.9-.2-3.4-.8 5.1-.9s36.3 .5 46.3 .5s11.3-.7 13.6-.8M230.6 619.8c1.6-.1 .5-.7 9.8-.8s33.4 .5 46.1 .3s25.5-1.4 30.6-1.7" stroke="#f79ad3" stroke-width="0.7"/>
<path d="M210.1 617.8c.7 2.8 2.5 10.3 4 16.7s3.1 15.3 5.2 21.2s5.8 11.3 7.3 14.1s1.4 2.1 1.7 2.5M216.7 627.7c.1 1.1-.2 2.5 1 6.9s4.1 13.7 6.1 19.3s4.5 11 5.9 14.2s2.4 3.9 2.9 4.7M212.9 622.2c.4 2.2 1 8.1 2.4 13.3s4 12.2 6.4 17.7s6.1 12.4 7.6 15.7s1.3 3.6 1.6 4.3" stroke="#a0007d" stroke-width="0.9"/>
<path d="M218.2 627.2c.3 1 .3 1.6 1.7 5.6s4.6 12.9 6.6 18.6s3.9 11.6 5.6 15.4s4.2 6.4 5.1 7.7M215.6 624.6c.4 1.6 .9 4.9 2 9.6s2.9 12.8 5 18.5s5.6 12.8 7.2 16.1s2 3.1 2.4 3.7M209.1 626.1c.3 1.7 .2 4.8 1.8 10s5.3 15.2 7.7 21s4.7 11.1 6.2 14.1s2.2 3.1 2.6 3.7M214.3 622.5c.4 1.7 .9 5.3 2.4 10.3s4.2 14 6.2 19.9s4 11.8 5.7 15.3s3.7 5 4.4 6" stroke="#b0198c" stroke-width="0.9"/>
<path d="M211.4 620.8c.3 2.4 .8 8.7 2.1 14.5s3.5 14.4 5.7 20.4s5.6 11.6 7.9 15.7s4.9 7.6 5.9 9.1M210 614.3c.7 3.5 2.3 14.2 3.9 21s3.3 13.6 5.6 19.3s5.7 10.7 8.2 14.7s5.6 8.1 6.7 9.7M214.6 623.9c.3 2 .6 7 1.9 12.3s3.7 13.7 5.6 19.4s3.9 10.7 5.9 14.8s5.3 8.3 6.4 10M214.3 624.6c.5 1.9 1.3 6 2.8 11.1s4.1 13.5 6.2 19.4s4.6 12.2 6.1 15.5s2.1 3.7 2.6 4.4M209.1 627.4c.2 1.3-.4 2.6 1.2 7.5s5.4 15.4 8.1 21.6s6 11.6 8 15.3s3.7 5.6 4.4 6.7M209.4 632.6c.2 1-.2 1.6 1 6s3.9 14.4 6.1 20.2s4.8 10.4 7.1 14.3s5.9 7.7 7.1 9.2M212 619.5c.3 2.5 .4 9.4 2 15s5.1 12.6 7.6 18.3s5.6 12.1 7.5 16s3.3 6.2 4 7.4M215.1 627.7c.1 .9-.2 1.1 .9 5.4s3.9 14.2 6 20s5.3 12.2 6.6 15.2s1.4 2.4 1.7 2.9M216.6 618c.3 2.4 .3 8.5 1.7 14.2s4 14.4 6.2 20.3s5.3 12 6.8 15.1s1.7 2.7 2 3.3M210.6 615.5c.6 2.9 1.8 10.9 3.4 17.4s3.9 15.3 6.2 21.4s5.5 11.2 7.4 14.9s3.4 6.3 4 7.5M211.1 619.2c.5 2.8 1.4 10.8 2.9 16.8s3.9 13.2 6.2 18.8s5.9 12.2 7.5 15.2s1.4 2.4 1.7 2.9M216.9 625.3c.2 1.3 .1 3.3 1.5 7.9s4.8 14.5 6.9 20.2s4.1 10.5 5.8 14.4s3.6 7.2 4.3 8.6M216.2 623.2c.5 1.7 1.5 5.1 2.9 10.1s3.5 14.3 5.4 19.9s4.7 10.3 6.2 13.7s2.3 5.4 2.7 6.5M217.4 622.3c.4 1.7 1 5.6 2.3 10.3s3.6 12.6 5.5 18.2s4 10.7 6 15.1s5.1 9.5 6.1 11.4M209.3 625.8c.4 1.6 .8 4.5 2.3 9.6s4.1 15.4 6.4 21.3s5.7 11.3 7.5 14.4s2.8 3.6 3.4 4.3M212.8 629.4c.1 .9-.5 .9 .9 5.2s4.6 14.8 7.2 20.8s5.7 11.2 8 15.3s4.7 7.4 5.7 8.8" stroke="#c23fa0" stroke-width="0.9"/>
<path d="M208.9 631.2c.2 1.2 0 2.5 1.2 7s4 14.2 6.1 19.9s4.9 11.1 6.6 14.1s2.7 3.1 3.3 3.7M211.2 619c.6 2.7 2.2 10.8 3.9 16.6s3.7 12.9 5.9 18.4s5.1 10.6 7.1 14.6s4.1 8 4.9 9.6M208.3 615.4c.7 3.2 2.5 12.5 4.2 19.2s4.1 15 6.3 20.9s5.3 11.4 7 14.6s2.9 3.7 3.4 4.4M214.4 628.8c.3 1 .1 2 1.5 6.1s4.4 13 6.7 18.5s5.6 10.9 7.3 14.5s2.7 5.6 3.2 6.7M214 613.6c.5 3.3 1.6 13.6 3.2 20.1s4.2 13.1 6.2 18.8s4.4 12.3 5.7 15.3s1.7 2.5 2.1 3" stroke="#8e0070" stroke-width="0.9"/>
<path d="M213.5 629.3c.1 .9-.1 1.3 .9 5.4s2.9 13.5 5.1 19.3s6.7 12 8.5 15.1s2.2 3.1 2.7 3.7M215.6 616.5c.5 2.7 .7 10.3 2.5 16.3s5.8 14.2 8.1 20s4.5 11.5 5.9 14.9s2.1 4.5 2.5 5.4M207.5 616.5c.5 3.4 1.4 14 3 20.6s4.5 13.3 6.6 19.2s4.3 12.7 6 16.2s3.7 4.2 4.4 5M211 614.2c.7 3.6 2.1 14.5 3.9 21.5s4.7 14.4 6.9 20.3s4.4 11 6.3 15.1s4.7 8.2 5.6 9.8M214.4 627.2c.3 1.4 .3 3.6 1.7 8.2s4.6 13.6 6.8 19.4s5.1 12.6 6.4 15.6s.9 1.8 1.1 2.2M209.2 622.2c.4 2.4 .8 9.2 2.1 14.9s3.6 13.3 5.9 19s6 11.4 8.1 15.2s3.8 6.4 4.6 7.7" stroke="#99107a" stroke-width="0.9"/>
<path d="M320.5 639.5c-.3 .9-.6 2-1.7 5.4s-3 10.2-5.3 14.5s-6.5 8.5-8.6 11.4s-3.2 4.9-3.9 5.9M322 632.5c-.5 1.9-1.9 6.7-3.2 11.3s-2.2 11.2-4.5 16s-6.8 9.6-9.1 13.1s-3.9 6.8-4.7 8.2M321.8 639.8c-.2 .8-.2 1.7-1.3 4.8s-2.7 9-5.2 13.4s-7.3 9.8-9.8 13.2s-4.3 6.3-5.2 7.5M324.2 634.7c-.4 1.4-.6 4.6-2.4 8.4s-5.8 9.6-8.4 14.3s-4.5 10.1-6.8 13.9s-5.9 7.5-7 9M326 630.8c-.7 1.9-2.4 6.6-4.3 11s-4.9 10.4-7.5 15.3s-5.2 10.4-7.7 14.3s-6.2 7.5-7.4 9.1M320.3 632.7c-.7 2.4-2.7 9.2-4.6 14.1s-4.1 10.4-6.7 15.1s-6.3 9.7-8.7 13.1s-4.5 5.9-5.4 7.1M322.4 633c-.4 1.9-.6 7.1-2.2 11.3s-4.4 9.1-7.1 13.7s-7.2 10.9-9 13.6s-1.7 2.2-2.1 2.6M317.6 632.7c-.3 2.1-.1 7.8-1.7 12.4s-5.4 10.2-7.9 14.7s-5.1 9.4-7.3 12.6s-4.6 5.5-5.5 6.6M318.8 633.1c-.6 2.4-2.1 9.3-4 14.3s-4.9 11-7.4 15.7s-6.1 10.5-7.6 13.1s-1.5 1.8-1.8 2.1M323.3 632.8c-.6 1.7-2 6.3-3.7 10.3s-3.8 8.8-6.5 13.3s-7.6 10.6-9.5 13.4s-1.6 2.9-2 3.5M315.9 640.9c-.3 1-.2 3-1.7 6.4s-4.3 9.3-6.9 13.9s-5.9 10.2-8.4 13.8s-5.3 6.7-6.4 8M324 630.2c-.5 2.2-1.3 8.8-2.9 13.3s-4.5 9.3-7.1 14.1s-6 11.3-8.3 14.8s-4.5 5.4-5.4 6.5M317.1 638.7c-.3 1 0 2.9-1.4 6.3s-4.6 10-7.2 14.5s-5.5 9-7.9 12.5s-5.3 7.3-6.4 8.7M318 640.8c-.2 1.2-.1 3.4-1.4 6.9s-4.2 9.2-6.9 13.8s-7.1 11.2-9.1 14s-2.2 2.2-2.6 2.6M321.6 636.6c-.4 1.4-.8 4.4-2.4 8.2s-4.4 9.9-7 14.6s-6.7 10.7-8.5 13.5s-2.1 3.1-2.5 3.7M317.2 635.9c-.5 1.7-1.1 6.1-2.8 10.2s-5.3 9.8-7.7 14.4s-4.7 10.2-6.9 13.3s-5.2 4.5-6.2 5.4M320.8 639.2c-.2 .7 0 1.1-1.2 4.2s-3.7 9.8-6.1 14.4s-5.9 9.3-8.4 13s-5.5 7.8-6.6 9.3M317.4 641.1c-.2 .8 .1 2.1-1.4 5.2s-5.5 9.1-8.1 13.3s-5.7 9.4-7.5 12.1s-2.7 3.4-3.3 4" stroke="#c23fa0" stroke-width="0.9"/>
<path d="M323.6 635.2c-.4 1.4-1.2 4.8-2.7 8.8s-3.8 10.4-6.3 15.2s-6.8 10.8-8.7 13.7s-2 3-2.4 3.6M318.3 633.1c-.6 2.3-2 8.7-3.6 13.5s-3.8 10.5-6.3 15s-6.5 9.6-8.6 12.3s-3.5 3.1-4.2 3.7M324.4 635.4c-.4 1.5-.9 5.7-2.5 9.4s-4.8 8.7-7.4 12.9s-5.8 8.2-8.6 12.3s-7.1 10.1-8.5 12.1M322.2 633.8c-.3 1.5-.4 4.6-2 8.7s-4.6 11.3-7.2 16.1s-6.3 10.2-8.1 12.9s-2.5 2.7-3 3.3M323.4 636.7c-.3 1.2-.5 3.5-1.8 6.8s-3.5 8.9-6.1 13.3s-7.1 9-9.7 12.9s-5.3 8.7-6.4 10.5M318.3 635.2c-.4 1.5-.8 5.2-2.3 9.1s-4.4 9.2-6.8 13.9s-5.5 11-7.5 14.2s-3.6 4-4.3 4.8" stroke="#a0007d" stroke-width="0.9"/>
<path d="M321.1 636.2c-.3 1.3-.5 3.7-2.1 7.4s-5 10.2-7.6 15s-5.3 9.2-7.9 13.3s-6.1 9.7-7.4 11.7M321.6 634.6c-.6 1.7-1.8 6.4-3.3 10.4s-3.4 9.3-5.9 13.8s-7.2 11-9 13.7s-1.5 2-1.8 2.4M320.4 636.6c-.4 1.3-1.1 4-2.5 7.6s-3.7 9.8-6.2 14.2s-6.3 9.3-8.7 12.6s-4.9 6.4-5.9 7.6" stroke="#b0198c" stroke-width="0.9"/>
<path d="M325.5 633.2c-.5 1.8-1.4 6.9-3.2 10.9s-4.9 8.7-7.5 13.2s-5.9 10.3-8 13.9s-3.9 6.5-4.6 7.9M323.5 632.3c-.7 1.8-2.5 6.4-4.1 10.5s-3.4 9.3-5.7 14.1s-5.9 10.7-8.5 14.6s-5.6 7.2-6.7 8.6M323.7 635c-.4 1.3-.5 4.3-1.9 7.8s-4.1 8.6-6.7 13.2s-6.5 10.9-8.7 14.3s-3.7 5.2-4.4 6.2M320.8 631.8c-.5 2.1-1.6 8.4-3.5 12.9s-4.7 9.4-7.4 13.9s-6.7 10-8.7 13s-2.8 4.3-3.3 5.2M319.1 634.7c-.6 1.9-2.2 6.9-3.6 11.3s-2.6 10.7-4.6 15s-5.5 7.5-7.8 10.6s-4.9 7.1-5.8 8.5M315.3 639.6c-.4 1.1-1 3-2.3 6.8s-3.3 11.3-5.5 16.1s-5.5 9.3-7.7 12.5s-4.6 5.1-5.5 6.1M324.9 631c-.7 2.1-2.3 8-3.9 12.5s-3.6 10-5.7 14.7s-5.3 10.7-7 13.6s-2.9 3.5-3.5 4.2M317.9 642.2c-.1 .7 .6 1.3-.8 4.3s-4.8 9.1-7.3 13.5s-5.6 9.8-7.7 12.9s-4.1 5-4.9 6M317.8 630.8c-.5 2.6-1.6 10.6-3.1 15.7s-3.4 10-5.9 14.5s-7 9.5-9.1 12.4s-3 3.9-3.6 4.7" stroke="#99107a" stroke-width="0.9"/>
<path d="M319.2 631.5c-.4 2.3-.6 8.9-2.2 13.7s-4.5 10.5-7 15.2s-6.4 10.1-8.3 12.8s-2.6 3-3.1 3.6M320.6 634.9c-.5 1.5-1.2 4.9-2.8 8.8s-4.7 10.2-7.4 14.7s-6.3 9.1-8.6 12.6s-4.5 6.8-5.4 8.1M326.1 629.4c-.9 2.2-3 8.4-5.1 13.2s-4.8 10.8-7.3 15.6s-5 8.7-7.5 12.8s-5.9 9.6-7.1 11.5M318.4 642.3c-.2 .6 .5 .2-.9 3.2s-4.8 10.1-7.3 14.7s-6.4 10.4-8 13s-1.5 2.1-1.8 2.6" stroke="#8e0070" stroke-width="0.9"/>
<path d="M230.1 660.1c1.5-2.2 3.7-9.9 9.1-13.4s15.4-7.4 23.2-7.5s19.1 4.1 24.2 7s5.2 8.6 6.3 10.3M237.2 648c.3-.4-2.7-.7 1.6-2.4s16.4-7.7 24.5-7.7s19.4 5.4 24.1 7.7s3.3 5.3 4 6.4M231.8 657.2c1.1-1.9 1.7-8 6.9-11.1s16-7.5 24.1-7.6s19.3 3.9 24.8 7.3s7.2 10.9 8.6 13.1M229.9 659.3c1.5-2.4 3.6-10.4 9.2-14s16.4-7.6 24.4-7.6s18.8 5.5 23.1 7.5s2.4 3.7 2.9 4.5M240.2 650.5c.2-.2-2.8-.2 1-1.5s14.7-6.2 21.9-6.1s17.4 5.2 21.1 6.5s.9 1.3 1.1 1.5M231.3 662.4c1.6-2.3 4.5-10.7 9.7-14.1s14.6-6.5 21.8-6.4s16.7 4 21.6 6.8s6.3 8.6 7.5 10.3" stroke="#d957b0" stroke-width="0.7"/>
<path d="M232.8 661.8c1.4-2 3.4-8.9 8.3-11.9s13.9-5.9 21-5.9s16.8 3.5 21.5 6s5.6 7.6 6.8 9.2M232.4 660.2c1.4-2.1 2.9-9.3 8.1-12.7s15.5-7.3 23.1-7.5s17.7 3.7 22.5 6.4s5.6 8.4 6.7 10.1M237.5 658.1c1-1.3 1.6-5.5 5.9-7.8s13.3-5.9 20-6s16 3.7 20.2 5.8s4.3 5.8 5.2 7M234.5 653c.8-1.2-.4-4.6 4.4-7.2s16.3-7.8 24.3-7.8s19.9 6.3 24 7.7s.5 .8 .6 1" stroke="#ff9fd8" stroke-width="0.7"/>
<path d="M236.4 648.7c.4-.8-1.7-2.6 2.8-4.6s15.7-7.5 23.8-7.4s19.3 4.8 24.5 7.9s5.6 9.2 6.7 11M231.5 660.4c1.5-2.1 3.3-9.1 8.6-12.3s15.4-6.8 23-6.9s18.7 5.3 22.7 6.7s1 1.5 1.2 1.8M239.7 658.5c.7-.9 .2-3.5 4.2-5.3s13.2-4.9 19.5-5s15.5 3.8 18.7 4.7s.3 .4 .3 .4M240.4 654c.3-.3-2.1-.9 1.6-2.2s13.9-5.6 20.7-5.6s16 3.4 20.3 5.5s4.6 6 5.6 7.2M235.5 663.3c1.4-1.7 3.4-7.3 8-9.8s13-5.3 19.5-5.4s15.8 3.2 19.5 4.5s2.3 2.8 2.8 3.3M234.4 661.6c1.3-2 3.3-8.8 8.2-11.7s13.9-6 20.9-5.9s16.8 4.1 21 6.1s3.4 4.6 4 5.5" stroke="#ffb0df" stroke-width="0.7"/>
<path d="M235.3 655.4c.8-1.2 .4-4.8 5.1-7.1s15.2-6.7 22.7-6.8s17.8 4.7 22 6.6s2.7 3.9 3.2 4.7M234.6 663.5c1.4-1.8 3.8-8.1 8.5-10.9s13.5-5.4 20.1-5.5s14.8 2.4 19.2 4.8s6.1 8.3 7.3 9.9M237.1 649.9c.4-.7-1.7-2.5 2.6-4.3s15.5-6.7 23.2-6.7s19.1 5.1 23.3 6.7s1.5 2.4 1.8 2.8M240.2 650c.1-.2-3 .3 .7-1s14.5-6.9 21.9-6.9s17.3 3.9 22.3 6.8s6.1 8.8 7.4 10.6M239.6 651c.1-.2-3 0 .9-1.3s14.7-6.5 22.1-6.6s17.8 4.3 21.9 6s2.4 3.3 2.9 4" stroke="#ff8ccf" stroke-width="0.7"/>
<path d="M238.3 651.6c.4-.6-1.7-1.7 2.4-3.5s14.9-7.3 22.2-7.3s17.5 4.9 21.9 7.2s3.8 5.4 4.5 6.5M229.8 660.6c1.5-2.4 3.5-10.6 9.1-14.3s16.1-7.7 24.2-7.8s19.8 4.9 24.3 6.8s2.6 4.1 3.1 4.9" stroke="#f283c6" stroke-width="0.7"/>
<path d="M233.9 658.7c1.1-1.8 2.1-7.6 7-10.4s14.8-6.6 22.2-6.5s18.1 5.1 22.2 6.7s1.8 2.5 2.2 3.1M235.3 653.4c.8-1.1-.1-4.5 4.5-6.8s15.6-7.3 23.4-7.3s18.4 4.8 23.1 7.2s4.2 6.3 5.1 7.6M231.6 659.4c1.4-1.9 2.7-8.4 7.9-11.4s15.8-6.7 23.5-6.7s18.4 4.9 22.6 6.5s1.9 2.7 2.2 3.2M230.9 662.5c1.7-2.3 4.6-10.5 9.9-13.9s14.5-6.2 21.8-6.2s17.4 4.2 21.8 6.5s3.9 5.6 4.7 6.7M232.8 653.3c.9-1.3 .2-5.3 5.2-7.9s16.7-7.5 24.8-7.5s19.1 4.8 24.1 7.5s4.7 7.5 5.7 8.9M234.7 654.7c.8-1.3 .4-5.1 5.1-7.6s15.2-7.3 22.9-7.3s19.1 5 23.6 7.2s3.2 5 3.9 6M234.5 650.8c.6-1.1-.9-3.9 3.9-6.3s16.4-8 24.7-8.1s20.6 6.3 24.9 7.8s.6 1 .7 1.2" stroke="#f79ad3" stroke-width="0.7"/>
<path d="M195.3 647.4c-1 1.9-3.6 6-6 11.4s-6.3 15.5-8.5 21.1s-3.8 10.6-4.6 12.8M188.4 644.2c-.9 2.1-3 7.2-5.6 12.5s-7.7 14.9-10 19.7s-3 7.7-3.7 9.2" stroke="#f283c6" stroke-width="0.8"/>
<path d="M194 653.3c-.7 1.3-2 3-4.2 7.4s-7 14.9-8.8 19s-1.5 4.8-1.8 5.7M191.6 652.1c-.4 1-.3 2.1-2.5 6.5s-8.2 14.2-10.7 19.7s-3.5 11.1-4.3 13.4M187.2 653.9c-.2 .4 0-1.1-1.6 2.7s-6.2 16.2-7.9 20.3s-1.5 3.4-1.8 4.1" stroke="#ffb0df" stroke-width="0.8"/>
<path d="M189.1 644.1c-1 2-3.4 6.7-5.8 11.9s-6.8 14.3-8.9 19.1s-3.2 8.3-3.9 9.9M187.7 649.5c-.5 1.1-1.5 2.4-3.4 6.9s-5.7 14.6-7.9 19.7s-4.1 9.4-4.9 11.3M187.4 647.7c-.6 1.4-1.7 4.4-3.9 8.5s-7.7 12.9-9.5 16.3s-1.1 3.3-1.3 4M196.6 643.5c-1.4 2.6-5.5 10.3-8.3 16s-6.5 12.8-8.8 18.2s-4.1 11.8-5 14.1M190.9 650.1c-.6 1.6-1.5 4.7-3.6 9.4s-6.9 15-8.6 18.8s-1.4 3.3-1.7 3.9M185.2 652.9c-.2 .4 .4-1.1-1.3 2.7s-6.6 14.9-8.9 20.1s-4.5 9.1-5.4 11M191.8 649.5c-.9 1.4-3 4-5.1 8.4s-5 13.1-7.4 18.4s-5.9 11.1-7 13.4" stroke="#f79ad3" stroke-width="0.8"/>
<path d="M187.7 652.4c-.4 .6-.8 0-2.4 3.9s-6 14.9-7.8 19.4s-2.5 6.2-3 7.5M193 649.7c-.8 1.7-2.8 5.4-4.9 10.3s-6 14.7-7.7 19s-2.1 5.7-2.5 6.9M193.2 652.1c-.6 1.3-1.1 3.1-3.1 7.7s-7.2 16-9 20s-1.3 3.5-1.6 4.2M185.1 652.3c-.2 .6 .3-.1-1.5 3.7s-6.6 14.3-8.9 19.4s-4.1 9.4-4.9 11.3" stroke="#ff9fd8" stroke-width="0.8"/>
<path d="M195.6 646c-1 2.4-3.4 8.9-6 14.5s-7.4 14.3-9.2 18.7s-1.4 6.4-1.6 7.7M184.7 648.8c-.5 1.1-1.4 2.6-3.4 7s-6 13-8.5 18.9s-5.3 13.8-6.3 16.6" stroke="#ff8ccf" stroke-width="0.8"/></g>
<ellipse cx="190" cy="664" rx="10" ry="11" fill="#c4721f" fill-opacity="0.95"/>
<path d="M320 646C322.7 642.3 330.7 641 336 642C341.3 643 348.7 647.7 352 652C355.3 656.3 357 663.3 356 668C355 672.7 350.3 678.3 346 680C341.7 681.7 334.3 680.7 330 678C325.7 675.3 321.7 669.3 320 664C318.3 658.7 317.3 649.7 320 646Z" fill="#cf7c22" fill-opacity="0.97"/>
<g fill="none" stroke-linecap="round"><path d="M183.5 654c.9-.3 2.9-2.2 5.4-1.5s7.8 3.4 9.5 5.6s.5 6 .5 7.2M185.4 672.7c.8 .4 3 2.5 4.8 2.5s5-.9 6.2-2s.9-4 1.1-4.8" stroke="#e09a45" stroke-width="0.8"/>
<path d="M184.1 669.9c.8 .5 3.3 2.5 4.9 2.9s3.5 0 4.7-1s2.2-4.4 2.6-5.2M183.9 673.1c.8 .5 2.9 3 4.7 3s4.8-1.2 6.1-2.8s1.6-5.9 1.9-7M182.1 657.9c1.2-.2 4.5-1.8 7.4-1.2s8 2.8 9.6 4.4s.3 4.3 .3 5.1" stroke="#cc7a25" stroke-width="0.8"/>
<path d="M184.2 667.4c.8 .3 2.6 1.8 4.5 2.1s5.6 0 7-.5s1.3-1.9 1.6-2.3M183.7 667.2c.7 .2 2.7 .9 4.6 1.2s5.4 .8 6.7 .6s1.1-1.9 1.3-2.2M184.6 667.2c.8 .3 2.9 1.4 5 1.7s6.2 .1 7.6-.2s.9-1.4 1-1.6" stroke="#b5621a" stroke-width="0.8"/>
<path d="M186 670.3c.6 .3 2.1 1.4 3.8 1.5s5.1 .1 6.4-.7s1.2-3.1 1.4-3.8M184 672.6c.8 .5 3 2.6 4.8 2.7s4.9-.7 6.1-1.8s1-4 1.1-4.7" stroke="#d58428" stroke-width="0.8"/>
<path d="M186.5 664.9c.5 .1 1.3 .1 3.2 .4s6.4 1.1 7.9 1.3s.8 .1 .9 .1" stroke="#c4721f" stroke-width="0.8"/>
<path d="M184.4 660.9c.8-.1 2.7-1 5.1-.6s7.6 1.6 9.2 3.1s.2 4.5 .2 5.4M185 660.8c.7-.1 2-1 4.2-.6s7.1 2.4 8.8 3.4s1.3 2.6 1.6 3.1M185 655.1c.5-.2 1-1.8 3.3-1.1s8.2 3.5 9.9 5.3s.3 4.4 .4 5.2M187 659.4c.5-.1 1.1-.9 3.2-.6s7.4 1.2 8.9 2.5s.3 4.5 .4 5.3M184.2 664.3c.7 .2 2.3 .7 4.3 1.1s6.2 .8 7.8 1.1s1.2 .6 1.4 .7" stroke="#a85400" stroke-width="0.8"/>
<path d="M320.6 653.7c2-.4 7.4-2.4 11.8-2.2s11.6 2.2 14.5 3.9s2.4 5.2 2.9 6.3M328.4 661.4c1.2 .2 4 .8 7.1 1.3s9.3 1.1 11.8 1.5s2.7 1.1 3.2 1.3M328.4 665.4c1.1 .3 3.1 1.6 6.1 2.2s9.6 1.2 12.1 1.1s2.6-1.7 3.1-2M329.5 669.8c.7 .5 1.6 2 4 2.5s8.2 1.1 10.4 .5s2.3-3.5 2.7-4.3M323.7 656.2c1.7-.4 6.2-2.7 10.2-2.3s11.2 2.9 14.3 5.1s3.7 6.9 4.5 8.3" stroke="#e09a45" stroke-width="0.8"/>
<path d="M330.2 671.7c.8 .4 2.6 2.3 5 2.7s7.3 .8 9.5-.1s3.2-4.5 3.9-5.4" stroke="#d58428" stroke-width="0.8"/>
<path d="M330 662.3c.9 .2 2.4 .6 5.3 1.2s9.6 1.9 11.9 2.3s1.7-.1 2.1-.2M329.4 661.4c1 .1 3 .2 5.9 .7s9.3 1.4 11.8 2s2.6 1.1 3.2 1.3M324.2 649c1.8-.4 6.3-3 10.5-2.4s12 2.6 15 5.8s2.8 11.3 3.3 13.6M328.7 653.6c.9 0 1.8-.9 5.2-.4s11.9 1.6 14.7 3.1s1.5 4.9 1.8 5.9M327 665.6c1.1 .2 3.6 .5 6.8 1.1s9.6 2.2 12.1 2.4s2.5-1.1 3-1.3M324.9 655.7c1.8 .1 6.6-.5 10.6 .3s11 3.2 13.5 4.6s1.4 3 1.7 3.6M326.2 656.9c1.6-.4 6.1-2.4 9.8-2.2s10.3 1.9 12.8 3.6s1.9 5.8 2.3 6.9" stroke="#b5621a" stroke-width="0.8"/>
<path d="M328.5 666.4c1 .3 3 1.4 5.7 2s8.7 1.1 10.9 1.1s2-1 2.4-1.3M330.3 668.2c.9 .4 2.5 1.9 5.2 2.5s8.5 1.6 11.3 .8s4.5-4.7 5.4-5.6M329.1 656c1.2-.2 3.8-1.6 7.2-1.2s10.9 2.7 13.4 4.1s1.4 3.7 1.7 4.4" stroke="#a85400" stroke-width="0.8"/>
<path d="M326.9 670.7c1.2 .8 4.3 3.6 7 4.3s7.5 1.1 9.8 .3s3.1-4.6 3.7-5.5M327.2 659.6c1.3 .3 4.3 1.1 7.5 1.9s9.3 2.4 11.6 3s1.7 .6 2 .7M326.1 662.8c1.4 .3 5.3 1.5 8.6 2.1s8.9 1.6 11.5 1.6s3.3-1 3.9-1.2M326.4 653.2c1.5-.1 5.5-1.1 9-.5s9.5 2.1 12 3.9s2.7 6 3.2 7.2" stroke="#cc7a25" stroke-width="0.8"/>
<path d="M327.4 662.7c.8 .2 1.9 .7 5 1.1s10.7 .6 13.7 .9s3.6 1 4.3 1.3M324.4 653.5c1.8-.3 6.5-2.2 10.7-1.6s11.5 2.8 14.4 5.1s2.9 7.2 3.5 8.6" stroke="#c4721f" stroke-width="0.8"/>
<path d="M190.2 618.8c-.7 1-2.3 1.5-4.6 6s-6.5 13.2-8.9 21s-4.4 20.4-5.5 26.2s-1.2 7.1-1.4 8.5M203.7 617.2c-.9 1.6-2.3 4.3-5.1 9.5s-8.5 14.3-11.9 21.7s-6.8 16.8-8.8 22.4s-2.8 9-3.3 10.8M201 604.1c-.2 .3 1.1-1.9-.8 1.7s-6.3 13.1-10.3 20s-9.9 13.4-13.4 21.3s-6.1 19.9-7.5 25.8s-1.1 7.8-1.3 9.4M194.8 608.9c-1.6 2.4-6.3 8.5-9.6 14.5s-7.5 14-10.3 21.9s-5.2 19-6.7 25.4s-1.7 10.9-2.1 13.1M197.6 625c-.1 .2 1.1-2.1-.6 1.4s-6.3 12-9.4 19.6s-7.6 19.7-9.6 26s-2.1 10-2.5 12M204.3 619.2c-.6 1.4-.4 3.5-3.2 8.1s-10.3 11.9-13.8 19.5s-5.7 20.1-7.4 26.1s-2.3 8.1-2.8 9.8M185.2 615.8c-.8 1.2-2.3 2.4-4.7 7.5s-6.7 15.3-9.5 23.3s-5.7 17.9-7 24.7s-.8 13.3-1 15.9" stroke="#85190f" stroke-width="0.85"/>
<path d="M202.6 615.2c-1.2 2-4.3 6.8-7.2 12.2s-7.1 12.8-10.1 20.4s-6 18.4-7.9 24.8s-3.2 11.2-3.8 13.4M213 598.9c-.4 1.3-.3 3.2-2.1 8s-5.3 13.9-9 20.6s-9.3 11.8-13 19.2s-6.5 18.3-8.8 25.2s-3.8 13.7-4.6 16.4M194.5 621.1c-.3 .5-.1-1.2-1.8 3s-5.5 14.3-8.4 22.1s-7 18.8-9 25s-2.8 10.4-3.3 12.5M199.6 597.7c-.9 1.2-2.8 2.5-5 7.4s-5.2 15.4-8.5 22s-8 10.5-11.6 17.3s-8.4 18.3-10.1 23.7s-.4 7.7-.4 9.2M208.2 600.2c-.4 1.1-1.1 2.2-2.5 6.5s-3.3 12.3-6.1 19.2s-6.9 14-10.7 22s-8.7 17.4-11.7 25.5s-5 19.3-6 23.1" stroke="#82190f" stroke-width="0.85"/>
<path d="M204.6 616.8c-.8 2.2-1.7 8.4-4.7 13.6s-10.1 10.3-13.4 17.7s-4.6 21.3-6 26.8s-1.6 5.3-1.9 6.4M187.9 616.3c-.6 1.3-2 3.2-4 7.7s-5.1 12.2-7.9 19.6s-6.5 18.6-8.7 25s-3.5 10.9-4.2 13.1M199.5 595.7c-.6 1.6-1 4.9-3.6 9.8s-8.4 12.8-12.3 19.4s-8 11.9-11 19.8s-5.2 19.9-7.1 27.6s-3.6 15.3-4.3 18.3M211.8 596.9c-.6 1.5-1.5 3.3-3.6 8.7s-5.7 17-9 23.7s-6.9 9.5-10.6 16.4s-8.6 17.5-11.3 25.3s-4 18-4.8 21.6" stroke="#8e2614" stroke-width="0.85"/>
<path d="M205.2 593.7c-.3 1.9 .5 5.6-1.9 11.3s-9 15.8-12.6 22.6s-6 10.8-8.8 18.3s-5.8 20.8-7.5 26.4s-2.4 6-2.9 7.1M199.5 611c-1.2 2.8-4 11-7.2 17s-9 11.8-12.2 18.7s-5.3 15.7-7.2 23s-3.4 17.4-4.1 20.9M212.6 596.5c-.5 1.4-1 3.6-3.4 8.5s-6.9 14-10.6 20.8s-8.5 11.9-11.6 19.6s-5.3 19.7-7.3 26.5s-3.8 12-4.5 14.4M198.6 617.5c-.4 1.4-1 3.5-2.9 8.3s-5.3 12.8-8.2 20.7s-7.4 20.9-9.5 26.7s-2.4 7.1-2.9 8.5" stroke="#700f0c" stroke-width="0.85"/>
<path d="M189.7 635.5c-1.2 1.9-4.3 5.2-6.8 11.3s-6.5 18.2-8.3 25.6s-2 15.4-2.4 18.5M196.3 623.3c0 .1 1.7-3.8-.1 .2s-7.2 16.2-10.5 23.9s-7.6 16.6-9.5 22.1s-1.5 9.3-1.8 11.1M211.9 590c-.1 2.9 1.2 11.3-.6 17.7s-6.2 14.2-10.3 20.9s-10.6 11.5-14.4 19s-6.2 18-8.5 25.6s-4.5 16.6-5.4 20M200 632.1c-1.6 3-6.7 10.7-9.8 17.8s-7.2 19.3-9 24.9s-1.4 7.2-1.7 8.7" stroke="#b5621a" stroke-width="0.85"/>
<path d="M206.7 597.3c-.4 1.7-.1 5.4-2.5 10.5s-8.2 13.8-11.8 20.4s-7.2 11.9-10.1 19.4s-5.8 19.6-7.3 25.1s-1.5 6.6-1.8 7.9M178.8 633.3c-1.1 2.1-4.5 6.6-6.3 12.6s-2.8 16-4.7 23.7s-5.5 19.1-6.6 22.9M196.8 631.1c-1.8 2.6-8.1 8.4-10.8 15.5s-4 19.9-5.6 26.8s-3.3 12.2-3.9 14.6" stroke="#5e0a08" stroke-width="0.85"/>
<path d="M186 632.5c-1 2.3-3.3 6.9-6.1 13.4s-8.3 18.7-10.3 25.8s-1.2 14.1-1.5 16.9M208.4 609.7c-.1 .1 1.7-2.8-.2 .5s-8.1 13.2-11.5 19.4s-6 11.1-9 18s-6.7 16.3-8.9 23.7s-3.4 17.8-4.1 21.3M192.4 613.8c-.8 1.5-2.2 3.9-4.9 9.1s-8.1 14.2-11.2 22s-5.7 17.2-7.4 24.9s-2.2 17.6-2.6 21.2M203.2 590.6c-1.1 2.3-3.6 8.6-6.7 14.1s-8.2 12-11.7 18.7s-6.6 13-9.1 21.1s-4.2 19.8-6 27.3s-4 14.8-4.9 17.8M189.7 612.6c-1.1 2.8-4 10.8-6.6 16.6s-6.1 10.9-9.1 17.7s-6.8 15.9-8.8 23.5s-3 18.4-3.6 22.1M195.9 602.4c-.2 .4 1.3-1.7-1 2.2s-8.9 14.4-12.8 21.3s-7.2 12.6-10.2 20.1s-5.8 17.7-7.5 24.6s-2.3 14.2-2.8 17M204.3 623c-.5 1-.5 2-2.9 6.1s-7.9 11.6-11.5 18.7s-7.8 16.9-10.1 23.4s-3.4 12.7-4.1 15.3M194.3 604c0 .1 1.5-2.4-.4 .9s-7.4 12.7-10.8 18.9s-7 10.7-9.6 18s-4.8 19.2-6.2 26.2s-1.8 13-2.1 15.6M191.9 623.6c-.2 .5 .8-1.1-1.3 2.7s-8.4 12-11.5 19.8s-5.5 19.8-7.2 26.5s-2.6 11.7-3.1 14.1M210.4 599.2c-.4 1.3-.4 3.5-2.6 8.1s-7.3 12.2-10.3 19.2s-4.6 14.7-7.6 22.7s-8.3 17.7-10.7 25.2s-3 16.9-3.6 20.3M198.8 633.5c-1.2 2.3-3.9 7.1-6.9 13.5s-8.5 16.9-11.1 24.6s-3.8 18.2-4.5 21.8M196.2 595.2c-.5 1.3-1.2 3.3-3.3 8.1s-5.7 13.9-8.9 20.9s-7.4 13.5-10.4 21.4s-6.4 19.4-8 26s-1.1 11.2-1.3 13.4M203.6 624.1c-.8 1.3-2 4.3-4.5 8s-7.1 7.2-10.7 14.1s-8.5 19.8-11 27.6s-3.2 16-3.8 19.2M189.3 632.1c-1.4 2.3-5.7 7.3-8.5 13.9s-6 18.6-7.8 25.5s-2.4 12.9-2.9 15.5M202.6 616.3c-.7 2-1.7 6.7-4.1 11.7s-7 10.8-10.3 18.7s-7.5 20.8-9.7 28.9s-3 16.4-3.6 19.6M177.4 633.4c-.6 2-2.2 5.9-3.9 12.3s-5 18.5-6.5 26.3s-2.3 16.9-2.8 20.3" stroke="#6b0f0c" stroke-width="0.85"/>
<path d="M212.2 602c-.1 .9 1.1 .6-.4 5.4s-5.1 16.4-8.6 23.3s-9.1 10.5-12.3 17.8s-4.4 18.5-6.7 25.8s-5.9 14.9-7 17.8M184.7 624.5c-1.5 3.2-6.4 11.6-9.2 19.1s-6 19.2-7.6 26.2s-1.6 12.9-2 15.5M205.2 618.2c-.7 1.8-1.5 5.4-3.8 10.4s-6.5 11.9-10.4 19.6s-10.4 18.9-13.1 26.2s-2.4 14.6-2.9 17.6M181.4 626.5c-1.6 3.1-7.3 11.3-9.8 18.6s-4.2 18.8-5.4 25.2s-1.5 10.6-1.8 12.7M191.6 617.6c-.7 1.6-2.4 4.7-4.5 9.4s-4.8 11.6-7.9 19s-8.9 19.4-10.9 25.5s-1.1 9.6-1.3 11.5" stroke="#7a1712" stroke-width="0.85"/>
<path d="M188.8 620.7c-.3 .5 .1-.9-1.9 3.3s-7.1 14.5-10.3 22.2s-7 17.9-8.9 24s-2 10.3-2.4 12.3M190.4 630.3c-1.4 2.6-5.8 8.6-8.5 15.5s-6.2 19-8.1 25.9s-3 13.1-3.6 15.7M191.4 636.8c-.8 1.7-2.5 4.2-4.9 10.2s-7.2 17.4-9.7 25.7s-4.1 20.3-5 24.3M202.7 599.7c-.3 .9-.2 1.4-2.3 5.2s-6.8 10.4-10.2 17.2s-7.3 15.6-9.7 23.8s-3 18.2-4.7 25.2s-4.5 13.7-5.4 16.5M205.1 591.6c-.6 1.8-1.9 5.2-3.7 10.7s-4.3 14.6-7.2 22.1s-7 15.2-10.1 22.7s-6.5 15.2-8.9 22.3s-4.4 16.7-5.3 20.1" stroke="#7a1712" stroke-width="0.85"/>
<path d="M191.8 632.6c-1.2 2.3-4.7 6.5-7.5 13.4s-7.4 21.4-9.4 27.9s-1.8 9.3-2.2 11.1M199.7 628.8c-1.9 2.9-8.1 10.7-11.4 17.8s-6.6 17.8-8.5 24.4s-2.1 13-2.6 15.6M212.7 591.8c-1.1 2.3-4.1 8.3-6.4 14.1s-3.9 13.6-7.4 20.5s-10.2 13.2-13.7 20.9s-5.6 18.8-7.7 25.7s-3.8 12.8-4.6 15.4M214.5 603.2c-.2 .9-.1 1.4-1.6 5.6s-3.5 13.8-7.1 20.1s-10.2 10.3-14.4 17.4s-8.8 19-10.9 25.1s-1 9.5-1.2 11.4M186.6 623c-.2 .4 1-.8-1.6 2.8s-10.6 11.7-13.7 18.9s-3.6 17-4.8 24.2s-2.1 15.8-2.5 19M210.1 597c-1.1 1.8-3.6 5.7-6.4 11.3s-7.8 15.3-10.9 21.9s-5.1 11-8.1 18.1s-7.5 17.2-9.8 24.4s-2.8 15.4-3.4 18.5" stroke="#85190f" stroke-width="0.85"/>
<path d="M197.4 605.8c0 .1 1.5-3.1-.1 .2s-6.2 12.9-10 19.5s-9.3 12.4-12.5 20.1s-5.5 19.7-7 25.9s-1.6 9.2-1.9 11.1M200.7 617.1c-.7 1.7-1.3 5-4.2 10s-9.7 12.3-13 19.9s-5.2 17.8-7.3 25.5s-4.4 17.4-5.3 20.8M205.6 598.3c-.8 1.2-2.4 2.5-4.9 7s-6.5 13.1-9.7 20s-6.8 13.7-9.9 21.2s-6.6 17.5-8.3 24.1s-1.7 12.5-2 15M206 619c-.5 1.4 0 3.6-2.8 8.5s-10.9 13.6-14.4 21.1s-5 18.6-6.5 24.1s-2.3 7.6-2.8 9.1M206.4 599.8c-.4 .7 .1 .5-2.1 4.7s-7.7 13.8-11 20.5s-6.1 12.2-9.1 19.8s-6.9 18.2-8.8 25.4s-2.1 14.4-2.6 17.3M185.1 633.7c-1 2.1-3.8 6.9-6.3 12.8s-6.9 17.3-8.5 22.6s-.9 7.7-1.1 9.2M186.3 626.7c-1.3 2.9-4.5 10.2-7.7 17.2s-9.4 17.3-11.6 24.4s-1.6 15.3-1.9 18.3M179 627.3c-.9 2.7-3 9.5-5.2 16.3s-6.4 18.1-8 24.6s-1.5 11.5-1.8 13.9M190 627.4c-1.7 3.2-7.1 12.3-10.1 19.5s-6.1 16-7.9 23.4s-2.7 17.6-3.2 21.1" stroke="#700f0c" stroke-width="0.85"/>
<path d="M191.5 628.1c-1.4 2.7-5.7 9.2-8.5 15.8s-6.2 17.8-7.9 23.6s-2.1 9.5-2.5 11.4M195.2 628.2c-1.5 2.8-6.1 9.3-8.9 16.5s-6.1 20.8-7.7 26.9s-1.4 7.9-1.6 9.5M204.1 592.3c-1.1 2.2-3.4 7.2-6.6 13s-8.3 14.5-12.2 21.7s-8.4 14.3-11 21.7s-3.9 16.5-5.1 22.8s-1.4 12.2-1.7 14.6M206.2 598.9c-.6 1.1-1.1 2.3-3.4 6.7s-7.4 13-10.6 19.9s-4.9 14-8.2 21.5s-9.2 17.5-11.4 23.8s-1.5 11.8-1.8 14.1M206.6 601.2c-.6 1.3-1.5 3.9-3.6 8s-5.3 10.5-8.9 16.6s-9.5 11.9-12.6 19.9s-5 22.3-6.3 28s-1.1 4.8-1.4 5.8M193.4 623.7c-.4 .6-.3 .2-2.3 3.7s-6.9 10-9.8 17.3s-5.9 19.5-7.8 26.7s-2.6 13.4-3.2 16.1M200.5 602.5c-.5 .7-1 .3-3.1 4.3s-5.9 13.2-9.3 19.7s-8.1 11.7-11.2 18.8s-5.9 18.1-7.3 23.9s-1.1 8.7-1.3 10.5M184.7 633.9c-1.1 2-4.3 5.6-6.1 11.9s-3.5 20-4.7 25.7s-1.9 7.2-2.3 8.7" stroke="#6b0f0c" stroke-width="0.85"/>
<path d="M197.4 611.2c-1.8 2.7-7.6 10.3-10.9 16.2s-6 11.7-8.5 18.7s-5 17.6-6.4 23.2s-1.9 8.4-2.3 10M194.9 622.8c-.1 .3 1-2-.6 1.3s-5.8 11.2-9 18.8s-8 20-10.1 27s-2.3 12.3-2.8 14.7M192.7 612.5c-.7 1.6-1.4 4.6-3.9 9.5s-8.7 12.2-11.5 20.2s-4.4 22.2-5.7 28.2s-1.5 6.2-1.8 7.4M182.1 633.2c-1.1 1.9-4.7 5.3-6.9 11.4s-4.5 17.5-6.2 25.4s-3.3 18.4-4 22M194.3 634.1c-1.3 2.1-5 5.8-7.5 12.2s-5.2 19.7-7.2 26.8s-4.1 12.8-4.9 15.3" stroke="#5e0a08" stroke-width="0.85"/>
<path d="M197.4 622.4c-.3 .7 .2 .1-1.7 4.1s-6.5 12.2-9.9 19.8s-8.3 20-10.4 25.8s-1.9 7.5-2.2 9M203.9 612.9c-1.1 2.4-3.6 8.5-6.8 14.2s-9.3 12.9-12.2 20.3s-3.6 18.3-4.9 24.2s-2.5 9.7-3.1 11.7M192.6 611.6c-1.1 2.2-4 7-6.7 13s-6.9 15.1-9.7 22.7s-5.3 15.6-7.3 22.9s-3.8 17-4.5 20.4M195.5 604.5c-.1 .3 1.1-1.8-.9 1.8s-7.2 13.4-11.1 19.7s-9.6 10.9-12.1 18.1s-1.9 19.7-2.8 25.3s-2 6.9-2.4 8.3M207.6 604.4c-.3 .8 .3 .6-1.6 4.4s-6.8 12.2-9.9 18.7s-5.6 13.3-9 20.8s-9.1 19.1-11 24.1s-.5 4.5-.6 5.4M195.3 634.5c-1.2 2.2-5.2 6.9-7.5 13.2s-4.5 18.1-6.2 24.5s-3.5 11.9-4.2 14.2M210.2 594.4c-.7 1.7-1.7 5.1-4.3 10.5s-7 14.9-11 21.8s-9.1 12.3-13.1 19.6s-9 18.3-10.9 24.1s-.1 9.1-.2 10.9" stroke="#b5621a" stroke-width="0.85"/>
<path d="M204.3 622.4c-.4 .8 .3 .5-2.4 4.8s-10.4 13.2-14.1 21s-5.9 19.1-7.8 26s-3 12.5-3.6 15M203.2 603.7c-.4 .5-.7-.9-2.2 3.1s-4 13.7-7 20.5s-7.5 12.8-10.5 19.8s-5.6 16.6-7.2 21.9s-1.7 8.2-2 9.9M212.3 606.5c-.1 .3 1.3-1.3-.6 2.1s-7.6 12-11.2 18.2s-7.6 10.8-10.8 18.6s-5.8 20.1-7.8 28.5s-3.7 18.3-4.4 22" stroke="#8e2614" stroke-width="0.85"/>
<path d="M196.5 634.7c-1.2 2.4-4.5 8-7.3 14.3s-7.1 17.3-9.4 23.7s-3.3 12.1-4 14.5M205.1 591.8c-1.1 2.3-4.3 8.1-6.9 13.8s-5.4 13.7-8.3 20.3s-6 12-9.1 19.2s-7.7 16.8-9.8 23.6s-2.2 14.5-2.6 17.4M198.3 611.3c-1.3 2-4.6 6.6-7.6 12.2s-7.3 13.4-10.5 21.3s-7.1 20.2-8.9 25.7s-1.3 5.8-1.6 7M199.5 628.6c0 0 1.6-2.9-.1 .3s-6.9 11.2-10.1 18.7s-7.3 20-9.2 26.1s-1.8 8.6-2.1 10.3" stroke="#82190f" stroke-width="0.85"/>
<path d="M247.5 544.4c-2 3.4-7.8 13.9-11.8 20.3s-8.8 13.1-11.9 18s-6 9.5-7.2 11.4M246 545c-1.9 3.4-7.6 13.9-11.5 20.2s-8.4 12.9-11.6 17.9s-6.3 9.9-7.6 11.9M245.6 544.8c-1.9 3.2-7.8 13.1-11.7 19.4s-8.7 13.2-11.9 18.3s-6.2 10.1-7.4 12.1" stroke="#6b0f0c" stroke-width="0.7"/>
<path d="M241.7 549.6c-1.5 2.3-5.7 8.6-9.2 13.9s-8.5 12.9-11.8 17.9s-6.7 10.1-8 12.1" stroke="#700f0c" stroke-width="0.7"/>
<path d="M333.3 599.8c1.3 2.9 5.4 10.9 8 17.6s5.8 15.5 8.1 22.8s4.3 13.5 5.2 20.9s.7 16.9 .4 23.4s-2 12.8-2.4 15.4M337.2 602.2c.8 2.3 2.9 8.4 5.2 13.8s5.6 11.9 8.6 18.9s7.3 15.5 9.1 23s1.4 16.5 1.5 21.8s-.6 8.3-.7 9.9M349.4 624.6c1 2.1 4.2 7.1 6.2 12.7s5.1 13.3 5.9 20.8s-.9 17.4-1.2 24.5s-.3 15-.4 18M346.7 635.8c.2 .7-.2 .2 1.3 4.4s6.1 13.3 7.7 20.6s2.8 15.5 2.3 22.9s-4.1 17.7-4.9 21.2" stroke="#7a1712" stroke-width="0.85"/>
<path d="M325.8 609.1c1 2.1 3.5 6.9 5.9 12.6s6.6 14.3 8.1 21.3s.8 13.7 1.1 20.9s.6 16.3 .6 22.4s-.4 11.5-.5 13.8M351.4 646.4c.6 2.2 2.6 7.2 3.3 13.2s1.1 17.6 1.1 23.1s-.9 8.4-1.1 10.1M346.3 629.4c.5 1.5 1.1 4.3 2.8 8.9s6.1 11.3 7.3 18.8s-.3 18.9-.3 26s0 13.7 0 16.5M331.7 616.5c.3 .5 .5-1.3 1.6 2.9s3.3 15.1 4.6 22.5s2.9 14.8 3.7 22s1.2 16.2 1.3 20.9s-.7 6.2-.8 7.4M328.1 605.8c1 2.2 4 7.6 6.1 13.4s5.3 13.9 6.7 21.2s1.9 15 2 22.4s-1.1 16.8-1 22.4s1.3 9.2 1.5 11" stroke="#8e2614" stroke-width="0.85"/>
<path d="M339 651.2c.2 2 1.1 6.4 1.5 11.7s1.2 13.3 1.3 20.3s-.7 18-.9 21.6M332.5 609.5c.4 1.8 .8 5.6 2.5 10.8s5 13.8 7.5 20.6s5.4 12.5 7.1 20s3.2 18.1 3.3 25.1s-2.5 14.1-3 16.9M335.2 635.1c.4 1.4 1.3 4 2.4 8.6s3.7 11.8 4.4 18.9s0 18.6 0 23.3s-.1 4.2-.1 5M338.1 635.3c.2 .7 .2-.6 1 4.1s3.5 15.9 4.3 23.7s.7 17.3 .7 22.7s-.7 8.2-.8 9.9" stroke="#700f0c" stroke-width="0.85"/>
<path d="M331.3 612.9c.3 .8 .8 .6 2 5.2s3.9 15.7 5 22.6s.4 11.8 1.4 19s4.1 18 4.9 24.2s0 10.5 0 12.6M330.1 603.4c.7 2.3 2.3 7.7 4.3 14s5.1 17.1 7.4 24.2s5.5 11.4 6.3 18.4s-.6 17.5-.9 23.5s-.8 10.5-.9 12.6M332.5 601.7c.9 2.9 3.1 11.1 5.2 17.5s5.7 14 7.6 21s3.2 13.4 3.8 20.6s-.3 15.7-.3 22.2s-.1 14-.1 16.8M340.2 609.9c.4 1.2 .4 2.3 2.3 7.3s7.1 16 9.2 22.8s2.8 11.1 3.5 18.1s.8 18.6 .7 24.4s-.6 8.8-.7 10.6M339 616.2c1.3 3.7 5.7 14.7 7.8 22s4.5 14.7 5.1 22.1s-1.4 17.1-1.6 22.6s.6 8.8 .7 10.6M343.3 613.4c.2 .3-.8-2.3 .9 1.8s6.5 15.9 9.3 22.8s6 11.5 7.8 18.7s2.8 17.7 2.8 24.6s-2.2 14.2-2.6 17.1M341.1 635.8c.1 .4-.1-1.5 .7 2.4s2.9 13.5 3.9 21.1s1.7 17.4 2 24.3s-.4 14.2-.4 17.1M344.3 642.5c.6 3 3 11.5 3.6 18.2s.1 15.7 .2 22s.6 13.4 .7 16.1M339.2 601.9c.8 2.2 3.2 7 5.1 13.1s4.5 16.3 6.4 23.8s3.8 13.6 5.1 20.8s2.6 16.6 2.7 22.1s-1.7 9-2.1 10.8M341.8 628.8c.6 1.8 2 5 3.7 10.3s4.8 14.2 6.8 21.7s4.5 16.6 4.8 22.9s-2.1 12.2-2.6 14.7M341.5 636.7c.3 .8 1 .3 1.9 5.1s2.6 15.8 3.3 23.4s1 16.7 1.1 22s-.1 8.2-.1 9.8M331.9 611.3c.5 1.5 1.3 4.2 3 9.4s5.1 14.3 7.3 21.5s4.8 14.8 5.8 21.7s.5 14.1 .2 20.1s-1.7 13.3-2.1 16M344.3 607.1c.4 1.3 .4 3.1 2.5 7.8s6.9 13.1 9.9 20.3s7.3 14.5 8.1 22.5s-2.7 18.8-3.3 25.1s-.1 10.2-.2 12.2M336.1 633.2c.3 .9 .6 .3 1.5 5.4s2.8 17.4 3.8 24.9s1.6 14.8 1.8 19.6s-.5 7.9-.6 9.5" stroke="#82190f" stroke-width="0.85"/>
<path d="M334.1 599.8c1 3.1 3.8 12.6 5.9 18.7s4.6 10.9 6.9 17.8s5.4 15.4 6.7 23.4s1 18.9 1.2 24.2s-.3 6.5-.3 7.7M346.1 621.5c.9 2.7 3 9.4 5.5 15.7s7.8 14.6 9.4 22.3s.7 18.2 .5 23.8s-1.4 8.1-1.7 9.8M342 644.4c.8 2.6 3.8 9 4.4 15.8s-.7 19.4-.7 24.7s.6 6 .7 7.2M342.8 650.4c.4 1.9 1.9 5.8 2.3 11s0 14.9 0 20.4s0 10.6 0 12.7" stroke="#b5621a" stroke-width="0.85"/>
<path d="M336.6 625.2c.8 2.7 3.2 10 4.8 16.2s4.8 14 5.3 21.3s-1.6 17.1-2 22.7s-.3 9-.4 10.8M329.8 607.8c.8 2.1 3 6.4 5.1 12.4s5.4 16.3 7.2 23.1s2.5 11.4 3.3 18.1s1.3 17.5 1.6 22.6s.1 7 .2 8.4M339.6 635.8c.3 1 .9 1.7 1.7 6.1s2.5 13.1 3 20s.3 17.2 .2 21.5s-.4 3.8-.5 4.6M337.7 632.6c.3 1 1 1.3 1.8 6.1s2.4 14.8 3.1 22.3s1.1 16.1 1.4 22.8s.6 14.7 .8 17.6M343.7 621.8c1.3 2.4 5.7 8.3 7.9 14.3s3.6 13.7 5 21.8s2.8 19.9 3.2 26.6s-.7 11.4-.8 13.6M344.5 616.6c1.4 3.7 5.1 15 8.1 21.9s8.1 12 9.9 19.3s1.5 18.6 1.3 24.8s-2 10.6-2.4 12.7" stroke="#85190f" stroke-width="0.85"/>
<path d="M350.3 634.8c.1 .4-.6-2 .6 2s4.9 14.4 6.8 22.2s4.6 18.2 4.6 24.7s-4.1 11.9-5 14.3M342.3 633.1c.3 1.1 .9 2.2 1.9 6.9s3.1 13.1 4.1 20.8s1.6 19 1.8 25.1s-.7 9.3-.9 11.2M350.3 628.8c.6 1.4 1.7 3.4 3.6 8.4s6.4 14 7.5 21.5s-.5 17.5-.6 23.6s-.3 10.9-.3 13.1M355.2 639.7c.8 3.2 4.4 12 5.1 19.5s-.6 20.1-.9 25.6s-.7 5.7-.8 6.9M343.2 640.2c.7 3.6 3.2 14.3 4.1 21.8s1.3 16 1.4 23.3s-.7 16.9-.9 20.3M354.5 626.8c.7 1.6 2.2 4.5 3.8 9.5s5.2 13.1 6.2 20.4s0 17.8-.1 23.1s-.7 7-.8 8.4" stroke="#5e0a08" stroke-width="0.85"/>
<path d="M328.4 608.5c.8 2 3 6.4 4.6 11.7s4.2 13.1 5.5 20.2s2 15.1 2.5 22.8s.5 18.1 .5 23.3s-.4 6.4-.4 7.7M328.6 609.9c.6 1.6 1.9 4.9 3.6 9.8s4.7 12.3 6.7 19.6s4.2 16.9 5.3 24.5s1.2 16.5 1.3 21.2s-.6 5.7-.7 6.9M341.7 622.3c.6 2.9 2.2 11.3 3.8 17.4s4.6 11.8 5.5 19s-.4 18-.6 24.3s-.3 11.2-.4 13.5M344.6 611.6c.3 .6 1-.6 1.9 3.6s1.8 14.8 3.9 21.9s6.9 13 8.3 20.7s-.1 20.4-.1 25.5s.1 4.5 .2 5.4M330.1 616.5c.2 .4-.3-1.3 1.1 2.7s5.8 14.4 7.6 21.6s2.9 14.1 3.5 21.9s.1 18.9 0 25s-.8 9.5-.9 11.4" stroke="#6b0f0c" stroke-width="0.85"/>
<path d="M329.3 608.5c.9 1.6 3.9 4 5.5 9.4s2 15.9 3.6 23.1s5 12.9 5.9 20.3s-.1 16.6-.1 23.7s.2 16.1 .2 19.4M341.3 601.5c.8 2.1 2.9 6.9 5.1 12.9s5.4 15.8 8.1 23.1s6.8 13.2 8.1 20.5s.1 17.5-.2 23s-1.5 8.4-1.8 10M339.7 626.4c.6 1.9 2 5.8 3.3 11.4s3.7 15.3 4.9 22.7s1.8 15.8 2.3 21.7s.8 11.4 .9 13.7M336.3 639.7c.1 .4 .3-1.4 .8 2.7s1.4 14.6 2.4 22s3.1 16.7 3.6 22.6s-.6 10.8-.8 13M337 639.3c.1 .3-.6-2 .3 1.8s4.2 13.8 5.1 21.1s.1 17.1 0 23.1s-.5 10.6-.7 12.7M345.7 616c1.7 3.2 7.7 12.5 10.2 19.2s3.2 12.9 4.7 20.5s3.7 18.9 4.3 24.8s-.7 9-.8 10.8" stroke="#6b0f0c" stroke-width="0.85"/>
<path d="M334 632.7c.4 1.3 .7 3.3 2.4 8.2s6.5 13.6 7.5 20.9s-.8 16.2-1.6 22.5s-2.3 13-2.8 15.6M341.5 608.3c.5 1.1 1.3 1.9 3.2 6.5s5.4 14.2 8.2 21.2s6.8 13 8.5 20.9s1.6 19.6 1.6 26.3s-1.3 11.5-1.6 13.8M331.9 599.9c1.5 2.8 6.3 10.2 8.7 16.6s4 14.6 5.4 21.8s2.2 13.5 2.8 21.3s1.1 18.9 .9 25.5s-1.4 11.9-1.7 14.3M338.7 625.2c1.1 2.7 5 10.3 6.4 16.5s1.4 14 1.9 20.7s1.7 12.9 1.2 19.5s-3.7 16.8-4.4 20.2M349.7 626.1c.8 2 2.9 6.3 4.9 12.1s5.6 15.7 6.9 23.1s.9 15.9 .9 21.2s-1 8.7-1.2 10.5M360.3 645.8c.6 2 2.7 5.9 3.7 11.7s1.9 18 2 23s-1.4 6.2-1.6 7.4" stroke="#85190f" stroke-width="0.85"/>
<path d="M334.2 640.5c0 .2-.4-2.3 .2 1.5s2.9 13.7 3.7 21.2s.9 18.6 1.1 23.9s0 6.8-.1 8.2" stroke="#8e2614" stroke-width="0.85"/>
<path d="M341.1 603.8c.9 2.1 3.2 7.6 5.3 12.9s5.1 11.5 7.5 18.5s5.4 15.8 7.1 23.6s3.4 16.3 3.3 23s-3.4 14.1-4.1 16.9M328.8 606c.7 2.4 2.5 8 4.3 14.2s5.2 16 6.7 23.1s1.8 12 2.6 19.3s2.3 18.7 2.5 24.1s-.8 7-1 8.4M343.2 635.7c.4 .9 .8 1.1 2 5.8s3.9 14.9 4.9 22.4s1 16.8 1 22.7s-1.2 10.7-1.4 12.9M330.9 623c1 3.2 4.5 12.6 5.7 19.4s1.4 13.7 1.7 21.3s.2 19 .4 24.3s.7 6.2 .8 7.4M335.2 616c.1 .4-.2-1.3 1 2.6s3.9 13.8 6.3 20.8s6.7 13.5 8 21s.3 17.6 0 23.8s-1 10.9-1.2 13M334.1 638.4c.1 .7 .2 .2 1 4.4s2.9 13.5 3.8 20.5s1.3 14.6 1.9 21.6s1.4 16.7 1.7 20.1" stroke="#82190f" stroke-width="0.85"/>
<path d="M334.1 605.6c1 1.9 3.7 5.6 6.3 11.3s6.5 15.4 9.2 22.8s5.3 14.2 7 21.6s2.8 17.8 3.2 22.6s-.7 5-.9 6M337.4 627.4c.3 2.1 .1 7 1.8 12.4s7 13 8.2 20.5s-.5 19.2-.7 24.4s-.5 5.5-.6 6.6M327.8 602.3c.9 2.4 3 8.4 5.4 14.7s6.6 15.9 9.3 22.9s5.8 11.9 6.6 18.9s-1.6 17.9-2 23.3s-.4 7.5-.4 9M341.5 619.1c.7 3 3.1 10.9 4.2 17.9s1.8 15.5 2.5 23.7s1.2 18.5 1.4 25.5s-.2 13.5-.2 16.2M328.3 607.7c.5 1.9 1 5.2 2.6 11.3s5.2 17.6 7.1 24.9s3.7 11.4 4.3 18.7s-1 20-1.2 25s.3 4.1 .4 5M340.7 609.6c.5 .9 1.9 .3 3.4 5.3s3.6 16.9 5.6 24.4s4.9 13.4 6.1 20.6s1 15.6 1 22.4s-.4 15.3-.5 18.3M344.8 624c1.1 2.2 4.5 7.8 6.7 13.4s4.8 12.9 6.2 20.6s2.8 17.6 2.5 25.4s-3.4 17.9-4.1 21.5M344 634.4c.2 .7 .5-.3 1.6 4.1s4 14.7 4.8 22.2s-.2 16.3-.1 22.4s.3 11.8 .3 14.2M340.3 608c.6 1.5 1.4 3.4 3.4 8.8s5.9 16.6 8.7 23.5s6.8 10.4 7.8 17.9s-1.6 19.4-1.9 26.9s.1 15.1 .2 18.1" stroke="#7a1712" stroke-width="0.85"/>
<path d="M329.8 612.9c.4 .9 1 1.2 2.5 5.8s4.4 14.7 6.1 22.1s3.2 14.2 4.1 22.2s1.3 18.8 1.3 25.5s-1.2 12.2-1.5 14.6M349.1 624.7c1 2 4 6.3 6 11.9s4.5 13.5 6 21.3s3.2 18.4 3.2 25.1s-3 12.5-3.6 15M325.3 608.1c.4 2.1 .8 6.4 2.9 12.3s6.9 15.8 9.2 23.1s3.7 13.3 4.5 20.7s.4 18.2 .3 23.8s-.8 8.1-1 9.8M330.4 603.8c.7 2.6 2.1 9.3 3.7 15.5s3.8 14.9 6 21.9s5.5 12.7 7.1 20s2 17.8 2.4 23.3s-.3 8.4-.3 10M343.3 630.2c.3 1 .2 1.5 2 6s7.4 13.1 9 21s.6 19.3 .7 26.7s-.4 14.9-.4 17.8M339.6 602.7c1.2 2.3 4.8 8 7.2 13.9s4.2 14.4 6.7 21.5s6.8 13.8 8.6 21.2s2.6 16.4 2.4 23.2s-2.9 14.9-3.5 17.9M345.4 632.5c.5 .9 1.3 .6 2.7 5.3s4.9 15.5 5.7 23.2s-.3 16.3-.5 23.1s-1 15-1.2 18M344 628.7c.4 1.4 .9 3.2 2.6 8.5s6.1 15.6 7.1 23.3s-1.1 16.7-1.4 23.2s-.5 12.8-.5 15.4" stroke="#700f0c" stroke-width="0.85"/>
<path d="M338.2 630.2c.4 1.8 1.8 5.6 2.5 10.6s1.4 11.7 2 19.6s1.6 21.8 1.7 27.4s-.5 5.5-.6 6.6M336.7 629.7c.2 1.9-.2 6.2 1.5 11.6s7.5 13.6 8.4 21s-2.3 16.2-2.5 23.3s1 16.1 1.2 19.3M354.3 634.4c.1 .2-1-3.2 .4 .8s6.3 15.5 8 23.2s2.5 16.1 2.5 22.7s-2 13.8-2.3 16.6M338.7 639.1c.2 .5 .3-1.5 1 2.8s3.1 15.3 3.8 22.6s-.1 16.8 0 21.3s.4 4.8 .5 5.8M344.2 615.9c1.7 3.9 7.2 16.1 10 23s5.3 10.8 6.6 18.6s1 20.6 .8 28s-1.3 13.7-1.6 16.5M337.3 629.8c.4 2 1.2 6.4 2.4 12s3.8 14 4.9 21.5s2 17 2.1 23.4s-1.2 12.2-1.5 14.7M328.1 609.1c.4 1.5 .8 3.5 2.7 9.1s6.9 17.7 8.5 24.8s.8 10.8 1.2 17.8s1.2 16.7 1.5 24s0 16.2 0 19.5" stroke="#5e0a08" stroke-width="0.85"/>
<path d="M330.6 603.3c1.2 2.3 5.2 7.8 7.6 13.7s4.7 14.7 6.7 21.9s4.6 13.9 5.5 21.4s.2 17.7-.1 23.6s-1.2 9.6-1.5 11.5M341 638c.2 .6 .1-.5 1.2 3.6s4.4 13.6 5.1 21.2s-.8 19.1-1 24.3s-.1 5.7-.1 6.9M337.3 623.3c.8 2.9 3.6 11.9 4.9 17.9s1.7 11.1 2.4 18.2s1.6 17.6 1.6 24.6s-1.4 14.3-1.7 17.2M348.7 634.9c.2 .5-.1-1.1 1.3 3.3s5.9 15.8 7.2 22.7s.3 11.6 .5 18.5s.3 19.3 .4 23.2" stroke="#b5621a" stroke-width="0.85"/>
<path d="M319.6 616.2c.9 .5 2.8 1.3 5.8 3s9.3 3.8 12.4 7s5.5 9.3 6 12.5s-2.3 5.5-2.8 6.6M320.6 617.3c.8 .3 2.4 0 5.1 1.7s8.3 4.9 11.1 8.1s6 7.8 6.2 11s-4.4 7-5.3 8.4M322 629.4c.9 .6 3.1 1.9 5 3.3s4.2 3.8 6.5 5s6 1.6 7 2.2s-.6 1.4-.8 1.7M321.7 631.5c.6 .4 1.2 1.5 3.4 2.7s6.8 3.2 9.5 4.3s5.4 2 6.5 2.3s.1-.4 .2-.5" stroke="#82190f" stroke-width="0.7"/>
<path d="M317.1 619.9c1.5 .6 6 2.2 9 4.1s6.4 4.7 8.8 7.3s4.7 6.5 5.5 8.7s-.4 3.5-.5 4.2M319.7 621.6c1.3 .6 5 2.1 7.7 3.5s5.9 2.4 8.4 4.4s5.5 5.7 6.2 8.1s-1.4 5.2-1.7 6.2M315 612.1c1.8 .8 7.5 3.1 10.9 4.9s6.9 2.8 9.3 6s4.5 10.3 5.1 13.2s-1.2 3.2-1.4 3.8" stroke="#b5621a" stroke-width="0.7"/>
<path d="M322.5 629.1c.4 .4 .5 1.3 2.9 2.3s8.5 1.9 11.1 3.4s3.6 4.3 4.2 5.5s-.4 1.5-.5 1.8M323 639.4c.5 .2 1 .5 2.6 1.6s4.6 4.7 6.9 4.8s6-3.2 7.4-4.1s.7-1.2 .9-1.5M320.4 625.7c.9 .7 2.7 3 5.4 4s8.2 .3 10.9 2.1s4.3 7.1 5.1 8.8s-.4 1-.5 1.1" stroke="#c4721f" stroke-width="0.7"/>
<path d="M322.3 626.1c.5 .2 .8-.2 2.7 1.1s6.7 4.4 8.8 6.6s3.3 4.7 4 6.6s.2 3.8 .3 4.6M318.1 623.2c1.3 .7 4.7 2.2 7.5 4.2s6.8 5.5 9.3 7.5s4.4 3 5.5 4.7s.9 4.1 1 5M318.1 623.3c1.4 .8 5.3 3.5 8.3 5s7.2 2.7 9.5 4.4s3.7 4.8 4.4 6s-.1 1.5-.1 1.8M318.9 637.3c1.6 1.1 7.1 5 9.6 6.4s3.9 2.6 5.8 2.4s4.1-2.4 5.6-3.6s2.8-3 3.4-3.6" stroke="#5e0a08" stroke-width="0.7"/>
<path d="M319.7 633.5c1.3 1.2 5.2 5.6 7.8 7s5 1.2 7.4 1.1s5.2-1.1 6.5-1.5s1.1-.8 1.3-.9M317.1 616.9c1.7 .6 6.3 1.5 9.7 3.7s8.4 6.4 10.8 9.4s3.2 6.7 3.6 8.8s-.6 3.3-.7 3.9M323.4 616.3c.5 .2 .9-.1 3 1.3s7.8 3.8 10 7s3 8.9 3.6 12.1s.1 5.9 .1 7.1M326.2 616.3c.5 .2 1.2 0 3 1.6s5.4 4.9 7.7 8.1s5.2 7.8 5.8 11s-1.8 7-2.1 8.4" stroke="#7a1712" stroke-width="0.7"/>
<path d="M318.6 629.7c1.1 .7 4.2 2.8 6.9 4.2s6.7 2.6 9.4 4.2s5.5 4.1 6.5 5.1s-.3 .3-.4 .4" stroke="#6b0f0c" stroke-width="0.7"/>
<path d="M321 622c.6 .3 1.6 .6 3.8 1.7s6.4 3 9.2 5.5s6.9 7 8 9.6s-1.2 4.8-1.4 5.7M320.9 623.2c.9 .6 2.9 1.9 5.3 3.5s6.3 3.8 8.9 5.8s5.9 4.2 6.9 6.2s-.8 4.9-1 5.9M315.9 628.8c1.1 .8 4.1 3.1 7 4.7s7.5 3.5 10.3 4.7s5.6 1.9 6.8 2.4s.4 .4 .5 .5" stroke="#8e2614" stroke-width="0.7"/>
<path d="M322.5 634.8c.5 .3 .6 1 2.5 1.9s6.6 2.4 9 3.3s4.7 2.3 5.7 2.2s.5-2.6 .6-3.1M321.4 632.1c1.1 .5 4.4 1.6 6.7 2.7s5.1 2.6 7.2 3.9s4.5 3.7 5.9 3.8s2.1-2.3 2.5-2.7M320.1 612.9c.6 .3 1.4-.3 4 1.6s8.7 5.9 11.5 9.6s4.8 9.2 5.3 12.2s-1.8 5-2.2 6" stroke="#85190f" stroke-width="0.7"/>
<path d="M319.9 635.2c.7 1.4 1.9 6.7 3.9 8.4s5.9 2.1 8.7 2s6.4-2.1 8.1-3.1s1.8-2.2 2.1-2.7" stroke="#700f0c" stroke-width="0.7"/></g>
<g fill="none" stroke="#4d4d4d" stroke-width="1.25">
<path d="M581.5 101V413.4H859"/>
<path d="M573.2 127.6H581.5M573.2 195.6H581.5M573.2 263.7H581.5M573.2 331.8H581.5M573.2 399.8H581.5M612.7 413.4v8.2M666.3 413.4v8.2M719.5 413.4v8.2M773 413.4v8.2M826.3 413.4v8.2"/></g>
<text x="564.5" y="134.0" font-size="16.5" text-anchor="end">2</text>
<text x="564.5" y="202.0" font-size="16.5" text-anchor="end">1</text>
<text x="564.5" y="270.1" font-size="16.5" text-anchor="end">0</text>
<text x="564.5" y="338.1" font-size="16.5" text-anchor="end">−1</text>
<text x="564.5" y="406.2" font-size="16.5" text-anchor="end">−2</text>
<text x="598.0" y="448.3" font-size="16" textLength="23.8" lengthAdjust="spacingAndGlyphs">Pre</text>
<text x="650.0" y="448.3" font-size="16" textLength="19.2" lengthAdjust="spacingAndGlyphs">1st</text>
<text x="701.2" y="448.3" font-size="16" textLength="27.5" lengthAdjust="spacingAndGlyphs">2nd</text>
<text x="757.0" y="448.3" font-size="16" textLength="25.0" lengthAdjust="spacingAndGlyphs">3rd</text>
<text x="808.8" y="448.3" font-size="16" textLength="31.2" lengthAdjust="spacingAndGlyphs">Post</text>
<g stroke="#383838" stroke-width="1.3">
<path d="M613.8 294.3V312.4" fill="none"/>
<rect x="593.5" y="312.4" width="40.6" height="21.2" fill="#e2b6d7"/>
<path d="M593.5 319.4H634.1" stroke-width="2.5"/>
</g>
<g fill="#cf8fc2" stroke="#fff" stroke-width="1">
<ellipse cx="613.8" cy="294.3" rx="5.3" ry="4.5"/>
<ellipse cx="613.8" cy="320" rx="5.3" ry="4.5"/>
<ellipse cx="613.8" cy="372.9" rx="5.3" ry="4.5"/>
</g>
<g stroke="#383838" stroke-width="1.3">
<path d="M667.4 228.1V261.3M667.4 324.3V354.5" fill="none"/>
<rect x="647.1" y="261.3" width="40.6" height="63.0" fill="#e1efee"/>
<path d="M647.1 294.3H687.7" stroke-width="2.5"/>
</g>
<g fill="#cfe5e2" stroke="#fff" stroke-width="1">
<ellipse cx="667.4" cy="228.1" rx="5.3" ry="4.5"/>
<ellipse cx="667.4" cy="294.3" rx="5.3" ry="4.5"/>
<ellipse cx="667.4" cy="354.5" rx="5.3" ry="4.5"/>
</g>
<g stroke="#383838" stroke-width="1.3">
<path d="M720.6 133.6V150.9M720.6 206.7V278.1" fill="none"/>
<rect x="700.3" y="150.9" width="40.6" height="55.8" fill="#c6e2da"/>
<path d="M700.3 151.9H740.9" stroke-width="2.5"/>
</g>
<g fill="#a3d1c4" stroke="#fff" stroke-width="1">
<ellipse cx="720.6" cy="133.6" rx="5.3" ry="4.5"/>
<ellipse cx="720.6" cy="151.5" rx="5.3" ry="4.5"/>
<ellipse cx="720.6" cy="206.5" rx="5.3" ry="4.5"/>
<ellipse cx="720.6" cy="278.1" rx="5.3" ry="4.5"/>
</g>
<g stroke="#383838" stroke-width="1.3">
<path d="M774.2 257.8V305.4" fill="none"/>
<rect x="753.9" y="209.1" width="40.6" height="48.7" fill="#9dc5b7"/>
<path d="M753.9 239.3H794.5" stroke-width="2.5"/>
</g>
<g fill="#63a590" stroke="#fff" stroke-width="1">
<ellipse cx="774.2" cy="127.4" rx="5.3" ry="4.5"/>
<ellipse cx="774.2" cy="242.2" rx="5.3" ry="4.5"/>
<ellipse cx="774.2" cy="236.6" rx="5.3" ry="4.5"/>
<ellipse cx="774.2" cy="305.4" rx="5.3" ry="4.5"/>
</g>
<g stroke="#383838" stroke-width="1.3">
<path d="M827.6 239.9V259.1M827.6 295.7V345.1" fill="none"/>
<rect x="807.3" y="259.1" width="40.6" height="36.6" fill="#b7c1df"/>
<path d="M807.3 279.4H847.9" stroke-width="2.5"/>
</g>
<g fill="#909fce" stroke="#fff" stroke-width="1">
<ellipse cx="827.6" cy="239.9" rx="5.3" ry="4.5"/>
<ellipse cx="827.6" cy="262.6" rx="5.3" ry="4.5"/>
<ellipse cx="827.6" cy="256" rx="5.3" ry="4.5"/>
<ellipse cx="827.6" cy="279.9" rx="5.3" ry="4.5"/>
<ellipse cx="827.6" cy="311.5" rx="5.3" ry="4.5"/>
<ellipse cx="827.6" cy="345.1" rx="5.3" ry="4.5"/>
</g>
<g fill="none" stroke="#4d4d4d" stroke-width="1.25">
<path d="M922.5 101V413.4H1201"/>
<path d="M914.2 127.6H922.5M914.2 195.6H922.5M914.2 263.7H922.5M914.2 331.8H922.5M914.2 399.8H922.5M953.8 413.4v8.2M1007.1 413.4v8.2M1060.4 413.4v8.2M1113.8 413.4v8.2M1167.1 413.4v8.2"/></g>
<text x="905.5" y="134.0" font-size="16.5" text-anchor="end">2</text>
<text x="905.5" y="202.0" font-size="16.5" text-anchor="end">1</text>
<text x="905.5" y="270.1" font-size="16.5" text-anchor="end">0</text>
<text x="905.5" y="338.1" font-size="16.5" text-anchor="end">−1</text>
<text x="905.5" y="406.2" font-size="16.5" text-anchor="end">−2</text>
<text x="942.3" y="448.3" font-size="16" textLength="24.2" lengthAdjust="spacingAndGlyphs">Pre</text>
<text x="996.9" y="448.3" font-size="16" textLength="19.5" lengthAdjust="spacingAndGlyphs">1st</text>
<text x="1046.0" y="448.3" font-size="16" textLength="28.4" lengthAdjust="spacingAndGlyphs">2nd</text>
<text x="1100.7" y="448.3" font-size="16" textLength="25.8" lengthAdjust="spacingAndGlyphs">3rd</text>
<text x="1151.5" y="448.3" font-size="16" textLength="32.1" lengthAdjust="spacingAndGlyphs">Post</text>
<g stroke="#383838" stroke-width="1.3">
<path d="M954.6 294.9V302.5M954.6 331.3V347.6" fill="none"/>
<rect x="934.3" y="302.5" width="40.6" height="28.8" fill="#e2b6d7"/>
<path d="M934.3 315H974.9" stroke-width="2.5"/>
</g>
<g fill="#cf8fc2" stroke="#fff" stroke-width="1">
<ellipse cx="954.6" cy="294.9" rx="5.3" ry="4.5"/>
<ellipse cx="954.6" cy="306" rx="5.3" ry="4.5"/>
<ellipse cx="954.6" cy="325.8" rx="5.3" ry="4.5"/>
<ellipse cx="954.6" cy="347.6" rx="5.3" ry="4.5"/>
</g>
<g stroke="#383838" stroke-width="1.3">
<path d="M1008.2 233.7V265M1008.2 319.2V342.2" fill="none"/>
<rect x="987.9" y="265" width="40.6" height="54.2" fill="#e1efee"/>
<path d="M987.9 296.1H1028.5" stroke-width="2.5"/>
</g>
<g fill="#cfe5e2" stroke="#fff" stroke-width="1">
<ellipse cx="1008.2" cy="233.7" rx="5.3" ry="4.5"/>
<ellipse cx="1008.2" cy="296.3" rx="5.3" ry="4.5"/>
<ellipse cx="1008.2" cy="342.2" rx="5.3" ry="4.5"/>
</g>
<g stroke="#383838" stroke-width="1.3">
<path d="M1061.7 134.1V139.9M1061.7 213.4V280" fill="none"/>
<rect x="1041.4" y="139.9" width="40.6" height="73.5" fill="#c6e2da"/>
<path d="M1041.4 149.2H1082.0" stroke-width="2.5"/>
</g>
<g fill="#a3d1c4" stroke="#fff" stroke-width="1">
<ellipse cx="1061.7" cy="140.7" rx="5.3" ry="4.5"/>
<ellipse cx="1061.7" cy="134.1" rx="5.3" ry="4.5"/>
<ellipse cx="1061.7" cy="149.6" rx="5.3" ry="4.5"/>
<ellipse cx="1061.7" cy="213" rx="5.3" ry="4.5"/>
<ellipse cx="1061.7" cy="280" rx="5.3" ry="4.5"/>
</g>
<g stroke="#383838" stroke-width="1.3">
<path d="M1115.5 267.7V309.2" fill="none"/>
<rect x="1095.2" y="215" width="40.6" height="52.7" fill="#9dc5b7"/>
<path d="M1095.2 252H1135.8" stroke-width="2.5"/>
</g>
<g fill="#63a590" stroke="#fff" stroke-width="1">
<ellipse cx="1115.5" cy="110.4" rx="5.3" ry="4.5"/>
<ellipse cx="1115.5" cy="254.5" rx="5.3" ry="4.5"/>
<ellipse cx="1115.5" cy="250.2" rx="5.3" ry="4.5"/>
<ellipse cx="1115.5" cy="309.2" rx="5.3" ry="4.5"/>
</g>
<g stroke="#383838" stroke-width="1.3">
<path d="M1168.9 247.3V268.5M1168.9 302V348.8" fill="none"/>
<rect x="1148.6" y="268.5" width="40.6" height="33.5" fill="#b7c1df"/>
<path d="M1148.6 287.5H1189.2" stroke-width="2.5"/>
</g>
<g fill="#909fce" stroke="#fff" stroke-width="1">
<ellipse cx="1168.9" cy="247.3" rx="5.3" ry="4.5"/>
<ellipse cx="1168.9" cy="261.3" rx="5.3" ry="4.5"/>
<ellipse cx="1168.9" cy="275.9" rx="5.3" ry="4.5"/>
<ellipse cx="1168.9" cy="287" rx="5.3" ry="4.5"/>
<ellipse cx="1168.9" cy="290.5" rx="5.3" ry="4.5"/>
<ellipse cx="1168.9" cy="313.2" rx="5.3" ry="4.5"/>
<ellipse cx="1168.9" cy="348.8" rx="5.3" ry="4.5"/>
</g>
<g fill="none" stroke="#4d4d4d" stroke-width="1.25">
<path d="M581.5 493.5V805.5H859"/>
<path d="M573.2 519.6H581.5M573.2 587.7H581.5M573.2 655.7H581.5M573.2 723.8H581.5M573.2 791.8H581.5M612.7 805.5v8.2M666.3 805.5v8.2M719.5 805.5v8.2M773 805.5v8.2M826.3 805.5v8.2"/></g>
<text x="564.5" y="526.0" font-size="16.5" text-anchor="end">2</text>
<text x="564.5" y="594.1" font-size="16.5" text-anchor="end">1</text>
<text x="564.5" y="662.1" font-size="16.5" text-anchor="end">0</text>
<text x="564.5" y="730.1" font-size="16.5" text-anchor="end">−1</text>
<text x="564.5" y="798.2" font-size="16.5" text-anchor="end">−2</text>
<text x="600.5" y="840.7" font-size="16" textLength="24.0" lengthAdjust="spacingAndGlyphs">Pre</text>
<text x="655.8" y="840.7" font-size="16" textLength="19.8" lengthAdjust="spacingAndGlyphs">1st</text>
<text x="705.0" y="840.7" font-size="16" textLength="28.0" lengthAdjust="spacingAndGlyphs">2nd</text>
<text x="760.5" y="840.7" font-size="16" textLength="25.0" lengthAdjust="spacingAndGlyphs">3rd</text>
<text x="810.5" y="840.7" font-size="16" textLength="32.0" lengthAdjust="spacingAndGlyphs">Post</text>
<g stroke="#383838" stroke-width="1.3">
<path d="M613 698.3V704.5" fill="none"/>
<rect x="592.7" y="704.5" width="40.6" height="24.9" fill="#e2b6d7"/>
<path d="M592.7 709.9H633.3" stroke-width="2.5"/>
</g>
<g fill="#cf8fc2" stroke="#fff" stroke-width="1">
<ellipse cx="613" cy="706" rx="5.3" ry="4.5"/>
<ellipse cx="613" cy="698.3" rx="5.3" ry="4.5"/>
<ellipse cx="613" cy="713.4" rx="5.3" ry="4.5"/>
<ellipse cx="613" cy="777.2" rx="5.3" ry="4.5"/>
</g>
<g stroke="#383838" stroke-width="1.3">
<path d="M666.2 620.5V655.1M666.2 716.1V741.2" fill="none"/>
<rect x="645.9" y="655.1" width="40.6" height="61.0" fill="#e1efee"/>
<path d="M645.9 690.3H686.5" stroke-width="2.5"/>
</g>
<g fill="#cfe5e2" stroke="#fff" stroke-width="1">
<ellipse cx="666.2" cy="620.5" rx="5.3" ry="4.5"/>
<ellipse cx="666.2" cy="690.3" rx="5.3" ry="4.5"/>
<ellipse cx="666.2" cy="741.2" rx="5.3" ry="4.5"/>
</g>
<g stroke="#383838" stroke-width="1.3">
<path d="M719.1 527V536.9M719.1 595.8V674.2" fill="none"/>
<rect x="698.8" y="536.9" width="40.6" height="58.9" fill="#c6e2da"/>
<path d="M698.8 584.2H739.4" stroke-width="2.5"/>
</g>
<g fill="#a3d1c4" stroke="#fff" stroke-width="1">
<ellipse cx="719.1" cy="527" rx="5.3" ry="4.5"/>
<ellipse cx="719.1" cy="537.1" rx="5.3" ry="4.5"/>
<ellipse cx="719.1" cy="584.2" rx="5.3" ry="4.5"/>
<ellipse cx="719.1" cy="595.6" rx="5.3" ry="4.5"/>
<ellipse cx="719.1" cy="674.2" rx="5.3" ry="4.5"/>
</g>
<g stroke="#383838" stroke-width="1.3">
<path d="M772.4 661.2V679.3" fill="none"/>
<rect x="752.1" y="618.7" width="40.6" height="42.5" fill="#9dc5b7"/>
<path d="M752.1 648.7H792.7" stroke-width="2.5"/>
</g>
<g fill="#63a590" stroke="#fff" stroke-width="1">
<ellipse cx="772.4" cy="545.3" rx="5.3" ry="4.5"/>
<ellipse cx="772.4" cy="643" rx="5.3" ry="4.5"/>
<ellipse cx="772.4" cy="654.9" rx="5.3" ry="4.5"/>
<ellipse cx="772.4" cy="679.3" rx="5.3" ry="4.5"/>
</g>
<g stroke="#383838" stroke-width="1.3">
<path d="M825.4 619.8V637M825.4 694.5V749.6" fill="none"/>
<rect x="805.1" y="637" width="40.6" height="57.5" fill="#b7c1df"/>
<path d="M805.1 653.9H845.7" stroke-width="2.5"/>
</g>
<g fill="#909fce" stroke="#fff" stroke-width="1">
<ellipse cx="825.4" cy="621.8" rx="5.3" ry="4.5"/>
<ellipse cx="825.4" cy="619.8" rx="5.3" ry="4.5"/>
<ellipse cx="825.4" cy="651.5" rx="5.3" ry="4.5"/>
<ellipse cx="825.4" cy="653.9" rx="5.3" ry="4.5"/>
<ellipse cx="825.4" cy="661.9" rx="5.3" ry="4.5"/>
<ellipse cx="825.4" cy="726.6" rx="5.3" ry="4.5"/>
<ellipse cx="825.4" cy="749.6" rx="5.3" ry="4.5"/>
</g>
<g fill="none" stroke="#4d4d4d" stroke-width="1.25">
<path d="M922.5 493.5V805.5H1201"/>
<path d="M914.2 519.6H922.5M914.2 587.7H922.5M914.2 655.7H922.5M914.2 723.8H922.5M914.2 791.8H922.5M953.8 805.5v8.2M1007.1 805.5v8.2M1060.4 805.5v8.2M1113.8 805.5v8.2M1167.1 805.5v8.2"/></g>
<text x="905.5" y="526.0" font-size="16.5" text-anchor="end">2</text>
<text x="905.5" y="594.1" font-size="16.5" text-anchor="end">1</text>
<text x="905.5" y="662.1" font-size="16.5" text-anchor="end">0</text>
<text x="905.5" y="730.1" font-size="16.5" text-anchor="end">−1</text>
<text x="905.5" y="798.2" font-size="16.5" text-anchor="end">−2</text>
<text x="941.8" y="840.7" font-size="16" textLength="24.0" lengthAdjust="spacingAndGlyphs">Pre</text>
<text x="997.0" y="840.7" font-size="16" textLength="19.8" lengthAdjust="spacingAndGlyphs">1st</text>
<text x="1046.3" y="840.7" font-size="16" textLength="28.0" lengthAdjust="spacingAndGlyphs">2nd</text>
<text x="1101.8" y="840.7" font-size="16" textLength="25.0" lengthAdjust="spacingAndGlyphs">3rd</text>
<text x="1151.8" y="840.7" font-size="16" textLength="32.0" lengthAdjust="spacingAndGlyphs">Post</text>
<g stroke="#383838" stroke-width="1.3">
<path d="M954 705.1V708.8M954 722V732.3" fill="none"/>
<rect x="933.7" y="708.8" width="40.6" height="13.2" fill="#e2b6d7"/>
<path d="M933.7 714.2H974.3" stroke-width="2.5"/>
</g>
<g fill="#cf8fc2" stroke="#fff" stroke-width="1">
<ellipse cx="954" cy="705.1" rx="5.3" ry="4.5"/>
<ellipse cx="954" cy="710.1" rx="5.3" ry="4.5"/>
<ellipse cx="954" cy="718.3" rx="5.3" ry="4.5"/>
<ellipse cx="954" cy="732.3" rx="5.3" ry="4.5"/>
</g>
<g stroke="#383838" stroke-width="1.3">
<path d="M1007.2 612.7V653.5M1007.2 721V746.5" fill="none"/>
<rect x="986.9" y="653.5" width="40.6" height="67.5" fill="#e1efee"/>
<path d="M986.9 694.6H1027.5" stroke-width="2.5"/>
</g>
<g fill="#cfe5e2" stroke="#fff" stroke-width="1">
<ellipse cx="1007.2" cy="612.7" rx="5.3" ry="4.5"/>
<ellipse cx="1007.2" cy="694.8" rx="5.3" ry="4.5"/>
<ellipse cx="1007.2" cy="746.5" rx="5.3" ry="4.5"/>
</g>
<g stroke="#383838" stroke-width="1.3">
<path d="M1060.7 532.5V541.4" fill="none"/>
<rect x="1040.4" y="541.4" width="40.6" height="48.0" fill="#c6e2da"/>
<path d="M1040.4 560.3H1081.0" stroke-width="2.5"/>
</g>
<g fill="#a3d1c4" stroke="#fff" stroke-width="1">
<ellipse cx="1060.7" cy="532.5" rx="5.3" ry="4.5"/>
<ellipse cx="1060.7" cy="541.6" rx="5.3" ry="4.5"/>
<ellipse cx="1060.7" cy="560.3" rx="5.3" ry="4.5"/>
<ellipse cx="1060.7" cy="589.4" rx="5.3" ry="4.5"/>
<ellipse cx="1060.7" cy="668.9" rx="5.3" ry="4.5"/>
</g>
<g stroke="#383838" stroke-width="1.3">
<path d="M1114.3 647.3V697.3" fill="none"/>
<rect x="1094.0" y="605.4" width="40.6" height="41.9" fill="#9dc5b7"/>
<path d="M1094.0 629.3H1134.6" stroke-width="2.5"/>
</g>
<g fill="#63a590" stroke="#fff" stroke-width="1">
<ellipse cx="1114.3" cy="536.9" rx="5.3" ry="4.5"/>
<ellipse cx="1114.3" cy="628.1" rx="5.3" ry="4.5"/>
<ellipse cx="1114.3" cy="631" rx="5.3" ry="4.5"/>
<ellipse cx="1114.3" cy="697.3" rx="5.3" ry="4.5"/>
</g>
<g stroke="#383838" stroke-width="1.3">
<path d="M1167.8 699.9V743.4" fill="none"/>
<rect x="1147.5" y="667" width="40.6" height="32.9" fill="#b7c1df"/>
<path d="M1147.5 682.1H1188.1" stroke-width="2.5"/>
</g>
<g fill="#909fce" stroke="#fff" stroke-width="1">
<ellipse cx="1167.8" cy="608.9" rx="5.3" ry="4.5"/>
<ellipse cx="1167.8" cy="669.5" rx="5.3" ry="4.5"/>
<ellipse cx="1167.8" cy="665.6" rx="5.3" ry="4.5"/>
<ellipse cx="1167.8" cy="686.1" rx="5.3" ry="4.5"/>
<ellipse cx="1167.8" cy="681.9" rx="5.3" ry="4.5"/>
<ellipse cx="1167.8" cy="714.1" rx="5.3" ry="4.5"/>
<ellipse cx="1167.8" cy="743.4" rx="5.3" ry="4.5"/>
</g>
<text x="112" y="27.1" font-size="21.5" textLength="283.5" lengthAdjust="spacingAndGlyphs" >Summary white matter tracts</text>
<text x="214.6" y="64.9" font-size="20" textLength="87.1" lengthAdjust="spacingAndGlyphs" >Gestation</text>
<text x="813.6" y="27" font-size="21.5" textLength="155.8" lengthAdjust="spacingAndGlyphs" >Individual tracts</text>
<text x="786" y="62" font-size="20" textLength="211.4" lengthAdjust="spacingAndGlyphs" >Gestation + postpartum</text>
<text x="641.8" y="88.9" font-size="20" textLength="155.7" lengthAdjust="spacingAndGlyphs" >Corpus Callosum</text>
<text x="971.8" y="88.9" font-size="20" textLength="179.2" lengthAdjust="spacingAndGlyphs" >L arcuate fasciculus</text>
<text x="602.7" y="482" font-size="20" textLength="236.7" lengthAdjust="spacingAndGlyphs" >R inf. fronto occipital fasc.</text>
<text x="958.8" y="482" font-size="20" textLength="205.2" lengthAdjust="spacingAndGlyphs" >L inf. longitudinal fasc.</text>
<text x="693.7" y="869.3" font-size="20" textLength="51.5" lengthAdjust="spacingAndGlyphs" >Stage</text>
<text x="1035.8" y="869.3" font-size="20" textLength="51.0" lengthAdjust="spacingAndGlyphs" >Stage</text>
<text transform="translate(530.2 650.3) rotate(-90)" font-size="20.5" textLength="356" lengthAdjust="spacingAndGlyphs">Quantitative anisotropy (zero centered)</text>
<text x="1.2" y="21" font-size="28" font-weight="bold" fill="#000" stroke="#000" stroke-width="1.2">a</text>
<text x="514" y="20.4" font-size="28" font-weight="bold" fill="#000" stroke="#000" stroke-width="1.2">b</text>
<rect x="0" y="303.8" width="17" height="16.6" fill="#d0f5f2"/>
<text x="25.6" y="318.4" font-size="18">AF</text>
<rect x="0" y="333.7" width="17" height="16.6" fill="#55a883"/>
<text x="25.6" y="348.3" font-size="18">C</text>
<rect x="0" y="363.6" width="17" height="16.6" fill="#ff8ccf"/>
<text x="25.6" y="378.2" font-size="18">CC</text>
<rect x="0" y="393.5" width="17" height="16.6" fill="#a0007d"/>
<text x="25.6" y="408.1" font-size="18">CPT</text>
<rect x="0" y="423.4" width="17" height="16.6" fill="#7893b8"/>
<text x="25.6" y="438.0" font-size="18">CS</text>
<rect x="0" y="453.3" width="17" height="16.6" fill="#00557f"/>
<text x="25.6" y="467.9" font-size="18">CST</text>
<rect x="0" y="483.2" width="17" height="16.6" fill="#fffbaa"/>
<text x="25.6" y="497.8" font-size="18">DT</text>
<rect x="0" y="513.1" width="17" height="16.6" fill="#a85400"/>
<text x="25.6" y="527.7" font-size="18">IFOF</text>
<rect x="0" y="543.0" width="17" height="16.6" fill="#520008"/>
<text x="25.6" y="557.6" font-size="18">ILF</text>
<rect x="0" y="572.9" width="17" height="16.6" fill="#ffb9a8"/>
<text x="25.6" y="587.5" font-size="18">MLF</text>
</svg>
</body></html>
